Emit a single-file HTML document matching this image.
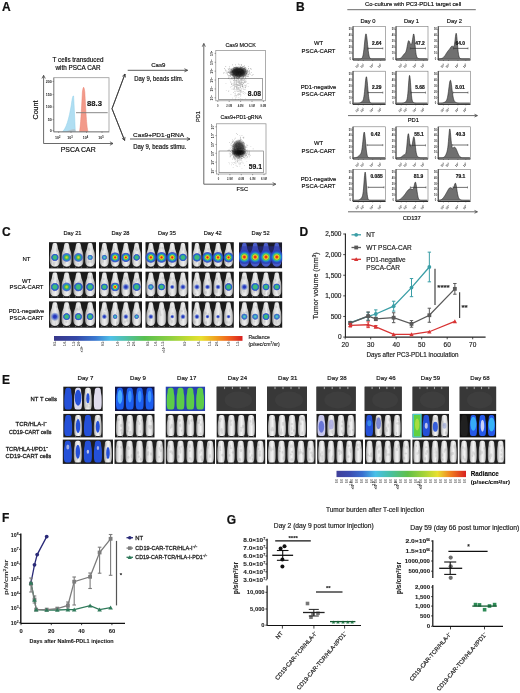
<!DOCTYPE html>
<html><head><meta charset="utf-8"><title>Figure</title>
<style>html,body{margin:0;padding:0;background:#fff;width:520px;height:693px;overflow:hidden}svg{display:block}</style></head>
<body><svg width="520" height="693" viewBox="0 0 520 693" style="font-family:'Liberation Sans',Arial,sans-serif" font-family="Liberation Sans, Arial, sans-serif">
<defs>
<radialGradient id="gCore"><stop offset="0" stop-color="#111" stop-opacity="0.95"/><stop offset="0.6" stop-color="#1a1a1a" stop-opacity="0.85"/><stop offset="0.85" stop-color="#333" stop-opacity="0.45"/><stop offset="1" stop-color="#555" stop-opacity="0"/></radialGradient>
<radialGradient id="gHot"><stop offset="0" stop-color="#e01818"/><stop offset="0.13" stop-color="#f04010"/><stop offset="0.23" stop-color="#f0a020"/><stop offset="0.31" stop-color="#d8d830"/><stop offset="0.41" stop-color="#60c040"/><stop offset="0.52" stop-color="#30b0a8"/><stop offset="0.64" stop-color="#2070d0"/><stop offset="0.82" stop-color="#2840c0" stop-opacity="0.85"/><stop offset="1" stop-color="#2838b0" stop-opacity="0"/></radialGradient>
<radialGradient id="gYel"><stop offset="0" stop-color="#e0e020"/><stop offset="0.2" stop-color="#a0d030"/><stop offset="0.4" stop-color="#40b060"/><stop offset="0.58" stop-color="#2090c0"/><stop offset="0.78" stop-color="#2850c8" stop-opacity="0.8"/><stop offset="1" stop-color="#2840c0" stop-opacity="0"/></radialGradient>
<radialGradient id="gGrn"><stop offset="0" stop-color="#40b088"/><stop offset="0.32" stop-color="#40c070"/><stop offset="0.52" stop-color="#30a0a0"/><stop offset="0.7" stop-color="#2060c8"/><stop offset="0.86" stop-color="#2840c0" stop-opacity="0.7"/><stop offset="1" stop-color="#2840c0" stop-opacity="0"/></radialGradient>
<radialGradient id="gCyn"><stop offset="0" stop-color="#60c8c8"/><stop offset="0.38" stop-color="#40a8c0"/><stop offset="0.62" stop-color="#3070c8"/><stop offset="0.85" stop-color="#3050c0" stop-opacity="0.6"/><stop offset="1" stop-color="#3050c0" stop-opacity="0"/></radialGradient>
<radialGradient id="gBlu"><stop offset="0" stop-color="#2030b8"/><stop offset="0.35" stop-color="#2c40c0"/><stop offset="0.7" stop-color="#5070d0" stop-opacity="0.6"/><stop offset="1" stop-color="#6080d0" stop-opacity="0"/></radialGradient>
<linearGradient id="gMouse" x1="0" x2="1" y1="0" y2="0"><stop offset="0" stop-color="#909090"/><stop offset="0.25" stop-color="#d8d8d8"/><stop offset="0.55" stop-color="#eeeeee"/><stop offset="0.8" stop-color="#d4d4d4"/><stop offset="1" stop-color="#8a8a8a"/></linearGradient>
<linearGradient id="gMouseE" x1="0" x2="1" y1="0" y2="0"><stop offset="0" stop-color="#929292"/><stop offset="0.28" stop-color="#dedede"/><stop offset="0.55" stop-color="#f4f4f4"/><stop offset="0.78" stop-color="#dadada"/><stop offset="1" stop-color="#8e8e8e"/></linearGradient>
<linearGradient id="gBar" x1="0" x2="1" y1="0" y2="0"><stop offset="0" stop-color="#38388a"/><stop offset="0.12" stop-color="#3448a8"/><stop offset="0.22" stop-color="#3a78d0"/><stop offset="0.3" stop-color="#50c0e8"/><stop offset="0.38" stop-color="#50c0a8"/><stop offset="0.48" stop-color="#58c050"/><stop offset="0.62" stop-color="#90d040"/><stop offset="0.72" stop-color="#c8dc30"/><stop offset="0.78" stop-color="#e8e030"/><stop offset="0.86" stop-color="#f0a020"/><stop offset="0.93" stop-color="#f06020"/><stop offset="1" stop-color="#d82020"/></linearGradient>
<linearGradient id="gBarE" x1="0" x2="1" y1="0" y2="0"><stop offset="0" stop-color="#40409a"/><stop offset="0.1" stop-color="#3c4cb0"/><stop offset="0.2" stop-color="#3a70d0"/><stop offset="0.3" stop-color="#48c0e8"/><stop offset="0.42" stop-color="#48c0a0"/><stop offset="0.55" stop-color="#60c048"/><stop offset="0.68" stop-color="#a8d438"/><stop offset="0.78" stop-color="#e8e030"/><stop offset="0.88" stop-color="#f08020"/><stop offset="1" stop-color="#d82020"/></linearGradient>
</defs>
<rect width="520" height="693" fill="#fff"/>
<text x="2" y="11.02" font-size="12" font-weight="bold" fill="#111" stroke="#111" stroke-width="0.19">A</text>
<text x="78" y="62.27" font-size="6.3" text-anchor="middle" stroke="#1a1a1a" stroke-width="0.17" textLength="51" lengthAdjust="spacingAndGlyphs">T cells transduced</text>
<text x="78" y="70.27" font-size="6.3" text-anchor="middle" stroke="#1a1a1a" stroke-width="0.17" textLength="45" lengthAdjust="spacingAndGlyphs">with PSCA CAR</text>
<path d="M62.5,131.5 C66,129 69,119 71.3,105 Q72.6,94.5 73.6,96 Q74.4,110 75.3,131.5 Z" fill="#b0def2" stroke="#8fd0ea" stroke-width="0.5"/>
<path d="M79.5,131.5 C80.6,127 81.4,110 82.4,92 Q83.6,82.5 84.8,92 C85.8,110 86.6,127 88,131.5 Z" fill="#f29a8a" stroke="#ea8070" stroke-width="0.5"/>
<path d="M66,131.5 C70,130 73,128.5 75,129.5 L76,131.5Z" fill="#b8b0b0" opacity="0.6"/>
<rect x="53.8" y="77.7" width="55.2" height="54.3" fill="none" stroke="#9a9a9a" stroke-width="0.8"/>
<line x1="53.8" y1="131.7" x2="109" y2="131.7" stroke="#666" stroke-width="0.6"/>
<line x1="53.8" y1="77.7" x2="53.8" y2="132" stroke="#666" stroke-width="0.6"/>
<line x1="76" y1="112.7" x2="107.7" y2="112.7" stroke="#7a7a7a" stroke-width="0.9"/>
<text x="94.5" y="106.37" font-size="7.7" text-anchor="middle" font-weight="bold" fill="#151515" stroke="#151515" stroke-width="0.12">88.3</text>
<text x="51.8" y="82.8" font-size="3.6" text-anchor="end" font-weight="bold" fill="#222">200</text>
<line x1="52.5" y1="81.5" x2="53.8" y2="81.5" stroke="#555" stroke-width="0.5"/>
<text x="51.8" y="95.9" font-size="3.6" text-anchor="end" font-weight="bold" fill="#222">150</text>
<line x1="52.5" y1="94.6" x2="53.8" y2="94.6" stroke="#555" stroke-width="0.5"/>
<text x="51.8" y="108.3" font-size="3.6" text-anchor="end" font-weight="bold" fill="#222">100</text>
<line x1="52.5" y1="107" x2="53.8" y2="107" stroke="#555" stroke-width="0.5"/>
<text x="51.8" y="120.9" font-size="3.6" text-anchor="end" font-weight="bold" fill="#222">50</text>
<line x1="52.5" y1="119.6" x2="53.8" y2="119.6" stroke="#555" stroke-width="0.5"/>
<text x="51.8" y="131.8" font-size="3.6" text-anchor="end" font-weight="bold" fill="#222">0</text>
<line x1="52.5" y1="130.5" x2="53.8" y2="130.5" stroke="#555" stroke-width="0.5"/>
<text x="57.7" y="138.9" font-size="3.6" text-anchor="middle" font-weight="bold" fill="#222">10<tspan dy="-1.4" font-size="2.6">2</tspan></text>
<line x1="58.7" y1="131.7" x2="58.7" y2="133" stroke="#555" stroke-width="0.5"/>
<text x="70" y="138.9" font-size="3.6" text-anchor="middle" font-weight="bold" fill="#222">10<tspan dy="-1.4" font-size="2.6">3</tspan></text>
<line x1="71" y1="131.7" x2="71" y2="133" stroke="#555" stroke-width="0.5"/>
<text x="85.6" y="138.9" font-size="3.6" text-anchor="middle" font-weight="bold" fill="#222">10<tspan dy="-1.4" font-size="2.6">4</tspan></text>
<line x1="86.6" y1="131.7" x2="86.6" y2="133" stroke="#555" stroke-width="0.5"/>
<text x="101" y="138.9" font-size="3.6" text-anchor="middle" font-weight="bold" fill="#222">10<tspan dy="-1.4" font-size="2.6">5</tspan></text>
<line x1="102" y1="131.7" x2="102" y2="133" stroke="#555" stroke-width="0.5"/>
<line x1="43.6" y1="143.5" x2="43.6" y2="75.4" stroke="#444" stroke-width="0.8"/>
<polyline points="45.28,78.47 43.6,75.4 41.92,78.47" fill="none" stroke="#444" stroke-width="0.8"/>
<line x1="43.6" y1="143.5" x2="113" y2="143.5" stroke="#444" stroke-width="0.8"/>
<polyline points="109.93,145.18 113,143.5 109.93,141.82" fill="none" stroke="#444" stroke-width="0.8"/>
<text x="35.6" y="112.56" font-size="7.1" text-anchor="middle" stroke="#1a1a1a" stroke-width="0.19" textLength="19" lengthAdjust="spacingAndGlyphs" transform="rotate(-90 35.6 110)">Count</text>
<text x="78.2" y="152.48" font-size="6.9" text-anchor="middle" stroke="#1a1a1a" stroke-width="0.18" textLength="35" lengthAdjust="spacingAndGlyphs">PSCA CAR</text>
<line x1="112" y1="108.7" x2="125" y2="74" stroke="#333" stroke-width="0.8"/>
<line x1="112" y1="108.7" x2="124.6" y2="140.4" stroke="#333" stroke-width="0.8"/>
<line x1="112" y1="108.7" x2="125" y2="74" stroke="#333" stroke-width="0.8"/>
<polyline points="125.49,77.46 125,74 122.35,76.29" fill="none" stroke="#333" stroke-width="0.8"/>
<line x1="112" y1="108.7" x2="124.6" y2="140.4" stroke="#333" stroke-width="0.8"/>
<polyline points="121.91,138.17 124.6,140.4 125.02,136.93" fill="none" stroke="#333" stroke-width="0.8"/>
<line x1="127.7" y1="70.3" x2="187.6" y2="70.3" stroke="#333" stroke-width="0.8"/>
<polyline points="184.45,71.82 187.6,70.3 184.45,68.78" fill="none" stroke="#333" stroke-width="0.8"/>
<text x="158.3" y="66.83" font-size="6.2" text-anchor="middle" stroke="#1a1a1a" stroke-width="0.17" textLength="14.2" lengthAdjust="spacingAndGlyphs">Cas9</text>
<text x="158.8" y="80.77" font-size="6.3" text-anchor="middle" stroke="#1a1a1a" stroke-width="0.17" textLength="49.3" lengthAdjust="spacingAndGlyphs">Day 9, beads stim.</text>
<line x1="130" y1="139" x2="190" y2="139" stroke="#333" stroke-width="0.8"/>
<polyline points="186.85,140.52 190,139 186.85,137.48" fill="none" stroke="#333" stroke-width="0.8"/>
<text x="158.6" y="137.39" font-size="5.8" text-anchor="middle" stroke="#1a1a1a" stroke-width="0.15" textLength="51" lengthAdjust="spacingAndGlyphs">Cas9+PD1-gRNA</text>
<text x="159.7" y="148.87" font-size="6.3" text-anchor="middle" stroke="#1a1a1a" stroke-width="0.17" textLength="53" lengthAdjust="spacingAndGlyphs">Day 9, beads stimu.</text>
<line x1="203.8" y1="184.2" x2="203.8" y2="43.5" stroke="#555" stroke-width="0.9"/>
<polyline points="205.32,46.65 203.8,43.5 202.28,46.65" fill="none" stroke="#555" stroke-width="0.9"/>
<line x1="203.8" y1="184.2" x2="275.8" y2="184.2" stroke="#555" stroke-width="0.9"/>
<polyline points="272.65,185.72 275.8,184.2 272.65,182.68" fill="none" stroke="#555" stroke-width="0.9"/>
<text x="197.7" y="118.52" font-size="5.6" text-anchor="middle" stroke="#1a1a1a" stroke-width="0.15" transform="rotate(-90 197.7 116.5)">PD1</text>
<text x="242.3" y="191.39" font-size="5.8" text-anchor="middle" stroke="#1a1a1a" stroke-width="0.15" textLength="11.5" lengthAdjust="spacingAndGlyphs">FSC</text>
<text x="240.6" y="47.44" font-size="5.4" text-anchor="middle" stroke="#1a1a1a" stroke-width="0.14" textLength="30.3" lengthAdjust="spacingAndGlyphs">Cas9 MOCK</text>
<rect x="215.8" y="50.4" width="49.6" height="50.4" fill="none" stroke="#8a8a8a" stroke-width="0.7"/>
<rect x="218.5" y="78.4" width="44.1" height="21.2" fill="none" stroke="#666" stroke-width="0.6"/>
<ellipse cx="238.5" cy="72.3" rx="9.8" ry="6.2" fill="url(#gCore)" opacity="0.9"/>
<ellipse cx="238.5" cy="72" rx="7.5" ry="4.2" fill="url(#gCore)" opacity="0.6"/>
<path d="M245.2,76.1h.7v.7h-.7zM238.8,69.9h.7v.7h-.7zM232.8,72.1h.7v.7h-.7zM233.2,68.0h.7v.7h-.7zM239.5,72.4h.7v.7h-.7zM241.3,69.4h.7v.7h-.7zM238.5,71.8h.7v.7h-.7zM230.7,73.5h.7v.7h-.7zM240.2,78.7h.7v.7h-.7zM239.6,71.6h.7v.7h-.7zM244.9,72.6h.7v.7h-.7zM243.2,71.0h.7v.7h-.7zM239.6,74.9h.7v.7h-.7zM242.1,72.4h.7v.7h-.7zM232.9,73.2h.7v.7h-.7zM238.9,74.0h.7v.7h-.7zM239.6,75.0h.7v.7h-.7zM238.2,72.6h.7v.7h-.7zM242.0,69.0h.7v.7h-.7zM236.4,70.6h.7v.7h-.7zM248.8,71.7h.7v.7h-.7zM241.9,73.7h.7v.7h-.7zM237.0,67.7h.7v.7h-.7zM243.5,70.9h.7v.7h-.7zM242.2,68.3h.7v.7h-.7zM236.2,75.5h.7v.7h-.7zM245.9,68.4h.7v.7h-.7zM231.6,71.9h.7v.7h-.7zM242.3,72.4h.7v.7h-.7zM240.1,69.2h.7v.7h-.7zM241.6,75.1h.7v.7h-.7zM236.2,68.0h.7v.7h-.7zM234.6,74.1h.7v.7h-.7zM229.5,71.7h.7v.7h-.7zM233.3,71.6h.7v.7h-.7zM237.2,72.0h.7v.7h-.7zM246.3,73.2h.7v.7h-.7zM245.4,71.6h.7v.7h-.7zM236.0,73.1h.7v.7h-.7zM223.8,71.9h.7v.7h-.7zM239.3,68.5h.7v.7h-.7zM240.9,70.4h.7v.7h-.7zM225.7,71.4h.7v.7h-.7zM233.4,70.5h.7v.7h-.7zM237.7,75.5h.7v.7h-.7zM239.0,71.9h.7v.7h-.7zM240.5,66.9h.7v.7h-.7zM244.9,69.0h.7v.7h-.7zM240.8,68.8h.7v.7h-.7zM233.4,70.9h.7v.7h-.7zM248.4,74.0h.7v.7h-.7zM235.4,71.2h.7v.7h-.7zM232.5,71.9h.7v.7h-.7zM235.5,74.0h.7v.7h-.7zM231.4,71.1h.7v.7h-.7zM234.1,70.0h.7v.7h-.7zM242.2,72.4h.7v.7h-.7zM241.5,75.3h.7v.7h-.7zM244.5,68.2h.7v.7h-.7zM241.3,67.1h.7v.7h-.7zM238.2,77.4h.7v.7h-.7zM237.5,71.0h.7v.7h-.7zM239.4,72.1h.7v.7h-.7zM238.6,69.9h.7v.7h-.7zM244.1,74.5h.7v.7h-.7zM237.4,72.9h.7v.7h-.7zM241.9,74.9h.7v.7h-.7zM240.5,73.9h.7v.7h-.7zM237.1,69.0h.7v.7h-.7zM235.9,74.9h.7v.7h-.7zM243.6,72.4h.7v.7h-.7zM235.5,72.9h.7v.7h-.7zM247.1,75.8h.7v.7h-.7zM234.9,71.9h.7v.7h-.7zM231.0,68.8h.7v.7h-.7zM239.5,72.1h.7v.7h-.7zM243.5,75.5h.7v.7h-.7zM242.8,75.7h.7v.7h-.7zM235.7,68.8h.7v.7h-.7zM241.1,79.5h.7v.7h-.7zM240.4,68.8h.7v.7h-.7zM239.8,76.0h.7v.7h-.7zM233.1,74.2h.7v.7h-.7zM235.3,75.6h.7v.7h-.7zM242.6,72.9h.7v.7h-.7zM248.9,70.9h.7v.7h-.7zM234.9,77.2h.7v.7h-.7zM233.9,78.2h.7v.7h-.7zM238.3,69.1h.7v.7h-.7zM238.5,72.4h.7v.7h-.7zM239.5,71.5h.7v.7h-.7zM244.1,65.5h.7v.7h-.7zM235.6,71.3h.7v.7h-.7zM248.0,66.4h.7v.7h-.7zM236.7,68.8h.7v.7h-.7zM235.0,73.8h.7v.7h-.7zM240.6,76.0h.7v.7h-.7zM235.4,72.8h.7v.7h-.7zM244.6,74.5h.7v.7h-.7zM236.8,75.2h.7v.7h-.7zM233.7,77.0h.7v.7h-.7zM239.3,71.7h.7v.7h-.7zM239.9,74.4h.7v.7h-.7zM247.6,71.6h.7v.7h-.7zM236.6,73.6h.7v.7h-.7zM234.0,67.3h.7v.7h-.7zM242.8,70.9h.7v.7h-.7zM244.4,69.1h.7v.7h-.7zM223.4,72.8h.7v.7h-.7zM239.3,76.5h.7v.7h-.7zM241.2,72.9h.7v.7h-.7zM241.6,71.0h.7v.7h-.7zM238.9,68.2h.7v.7h-.7zM241.2,69.7h.7v.7h-.7zM236.2,74.0h.7v.7h-.7zM243.3,69.2h.7v.7h-.7zM248.9,70.3h.7v.7h-.7zM242.8,74.7h.7v.7h-.7zM239.7,72.5h.7v.7h-.7zM247.8,74.5h.7v.7h-.7zM240.8,66.9h.7v.7h-.7zM234.6,75.3h.7v.7h-.7zM239.5,69.3h.7v.7h-.7zM235.2,71.1h.7v.7h-.7zM242.1,73.1h.7v.7h-.7zM243.7,69.7h.7v.7h-.7zM243.6,70.6h.7v.7h-.7zM236.9,76.9h.7v.7h-.7zM238.9,71.6h.7v.7h-.7zM237.4,70.9h.7v.7h-.7zM246.6,75.9h.7v.7h-.7zM242.2,72.5h.7v.7h-.7zM243.9,71.8h.7v.7h-.7zM240.9,73.1h.7v.7h-.7zM239.0,76.6h.7v.7h-.7zM247.6,75.7h.7v.7h-.7zM228.6,77.1h.7v.7h-.7zM242.2,70.7h.7v.7h-.7zM238.4,75.2h.7v.7h-.7zM244.6,74.4h.7v.7h-.7zM239.2,72.1h.7v.7h-.7zM242.8,71.7h.7v.7h-.7zM233.8,70.3h.7v.7h-.7zM237.8,72.9h.7v.7h-.7zM250.3,68.2h.7v.7h-.7zM241.0,71.7h.7v.7h-.7zM240.1,75.8h.7v.7h-.7zM245.0,71.6h.7v.7h-.7zM235.6,68.2h.7v.7h-.7zM238.1,75.5h.7v.7h-.7zM237.1,74.0h.7v.7h-.7zM242.2,73.1h.7v.7h-.7zM244.1,71.7h.7v.7h-.7zM234.2,68.7h.7v.7h-.7zM243.3,71.0h.7v.7h-.7zM236.9,74.3h.7v.7h-.7zM234.4,77.0h.7v.7h-.7zM242.0,70.5h.7v.7h-.7zM235.2,75.0h.7v.7h-.7zM232.3,70.2h.7v.7h-.7zM238.5,72.6h.7v.7h-.7zM238.6,73.1h.7v.7h-.7zM236.6,71.7h.7v.7h-.7zM245.1,73.8h.7v.7h-.7zM236.2,76.8h.7v.7h-.7zM228.1,72.2h.7v.7h-.7zM242.0,74.7h.7v.7h-.7zM239.1,70.9h.7v.7h-.7zM241.5,71.5h.7v.7h-.7zM241.0,64.0h.7v.7h-.7zM240.5,69.8h.7v.7h-.7zM243.4,74.1h.7v.7h-.7zM242.3,70.9h.7v.7h-.7zM240.8,71.0h.7v.7h-.7zM239.6,71.6h.7v.7h-.7zM234.0,77.5h.7v.7h-.7zM242.3,66.2h.7v.7h-.7zM243.1,68.1h.7v.7h-.7zM237.3,70.4h.7v.7h-.7zM235.7,72.7h.7v.7h-.7zM236.8,67.9h.7v.7h-.7zM238.5,73.0h.7v.7h-.7zM247.7,70.8h.7v.7h-.7zM232.3,70.9h.7v.7h-.7zM241.9,69.5h.7v.7h-.7zM234.8,73.6h.7v.7h-.7zM238.4,72.6h.7v.7h-.7zM235.2,69.7h.7v.7h-.7zM236.8,71.6h.7v.7h-.7zM236.8,73.2h.7v.7h-.7zM241.3,73.5h.7v.7h-.7zM241.0,69.5h.7v.7h-.7zM232.7,74.2h.7v.7h-.7zM238.6,72.3h.7v.7h-.7zM232.5,71.4h.7v.7h-.7zM235.2,69.6h.7v.7h-.7zM235.2,67.8h.7v.7h-.7zM238.9,75.3h.7v.7h-.7zM234.8,72.3h.7v.7h-.7zM232.8,73.9h.7v.7h-.7zM248.2,68.5h.7v.7h-.7zM237.3,76.0h.7v.7h-.7zM240.4,72.3h.7v.7h-.7zM227.9,71.6h.7v.7h-.7zM243.3,76.0h.7v.7h-.7zM241.8,70.4h.7v.7h-.7zM234.9,66.9h.7v.7h-.7zM232.9,75.1h.7v.7h-.7zM237.9,68.3h.7v.7h-.7zM245.4,67.3h.7v.7h-.7zM245.1,71.1h.7v.7h-.7zM240.3,73.9h.7v.7h-.7zM239.9,75.6h.7v.7h-.7zM238.6,71.1h.7v.7h-.7zM235.1,68.0h.7v.7h-.7zM234.9,74.8h.7v.7h-.7zM242.8,75.9h.7v.7h-.7zM252.7,74.0h.7v.7h-.7zM241.1,68.3h.7v.7h-.7zM237.2,78.1h.7v.7h-.7zM241.3,71.6h.7v.7h-.7zM240.1,66.7h.7v.7h-.7zM234.2,68.3h.7v.7h-.7zM227.4,74.2h.7v.7h-.7zM243.5,71.5h.7v.7h-.7zM240.3,69.2h.7v.7h-.7zM240.9,74.1h.7v.7h-.7zM246.5,76.4h.7v.7h-.7zM241.0,71.6h.7v.7h-.7zM234.2,70.3h.7v.7h-.7zM241.7,73.6h.7v.7h-.7zM238.6,76.7h.7v.7h-.7zM241.9,72.0h.7v.7h-.7zM237.5,72.2h.7v.7h-.7zM233.6,69.3h.7v.7h-.7zM240.3,70.4h.7v.7h-.7zM237.1,75.4h.7v.7h-.7zM237.5,75.7h.7v.7h-.7zM238.5,76.2h.7v.7h-.7zM240.9,67.1h.7v.7h-.7zM244.9,71.4h.7v.7h-.7zM228.3,72.3h.7v.7h-.7zM239.3,68.4h.7v.7h-.7zM235.3,73.5h.7v.7h-.7zM245.8,75.2h.7v.7h-.7zM244.9,75.1h.7v.7h-.7zM225.6,70.0h.7v.7h-.7zM239.5,64.5h.7v.7h-.7zM242.5,74.5h.7v.7h-.7zM234.5,70.9h.7v.7h-.7zM233.6,71.9h.7v.7h-.7zM238.3,72.0h.7v.7h-.7zM233.2,73.1h.7v.7h-.7zM236.7,74.7h.7v.7h-.7zM240.1,67.8h.7v.7h-.7zM231.0,72.2h.7v.7h-.7zM236.0,73.3h.7v.7h-.7zM242.7,72.1h.7v.7h-.7zM229.7,68.7h.7v.7h-.7zM241.5,69.1h.7v.7h-.7zM244.3,71.7h.7v.7h-.7zM241.2,69.5h.7v.7h-.7zM238.0,63.7h.7v.7h-.7zM237.4,73.6h.7v.7h-.7zM233.8,69.6h.7v.7h-.7zM238.2,72.2h.7v.7h-.7zM234.3,73.9h.7v.7h-.7zM229.9,75.1h.7v.7h-.7zM231.2,69.7h.7v.7h-.7zM245.4,69.2h.7v.7h-.7zM229.9,72.2h.7v.7h-.7zM233.7,68.9h.7v.7h-.7zM234.9,69.9h.7v.7h-.7zM233.4,69.1h.7v.7h-.7zM246.9,70.1h.7v.7h-.7zM243.6,68.1h.7v.7h-.7zM241.3,68.5h.7v.7h-.7zM236.1,73.8h.7v.7h-.7zM235.7,66.5h.7v.7h-.7zM235.6,71.6h.7v.7h-.7zM241.5,69.2h.7v.7h-.7zM236.9,72.2h.7v.7h-.7zM229.9,71.7h.7v.7h-.7zM234.2,73.2h.7v.7h-.7zM237.9,71.5h.7v.7h-.7zM225.9,71.7h.7v.7h-.7zM236.6,69.4h.7v.7h-.7zM235.8,68.5h.7v.7h-.7zM239.4,73.8h.7v.7h-.7zM241.6,70.5h.7v.7h-.7zM247.2,74.4h.7v.7h-.7zM233.6,71.6h.7v.7h-.7zM230.0,71.7h.7v.7h-.7zM242.2,75.6h.7v.7h-.7zM236.3,67.0h.7v.7h-.7zM237.6,75.8h.7v.7h-.7zM239.2,75.6h.7v.7h-.7zM242.8,76.4h.7v.7h-.7zM241.6,70.1h.7v.7h-.7zM240.8,79.1h.7v.7h-.7zM235.8,66.8h.7v.7h-.7zM249.4,73.1h.7v.7h-.7zM235.2,70.3h.7v.7h-.7zM230.5,74.0h.7v.7h-.7zM239.2,70.2h.7v.7h-.7zM236.3,70.8h.7v.7h-.7zM244.1,71.5h.7v.7h-.7zM245.7,69.7h.7v.7h-.7zM235.3,70.6h.7v.7h-.7zM235.7,71.7h.7v.7h-.7zM243.8,75.4h.7v.7h-.7zM232.9,75.6h.7v.7h-.7zM239.0,76.4h.7v.7h-.7zM237.6,69.7h.7v.7h-.7zM242.6,73.7h.7v.7h-.7zM236.1,72.1h.7v.7h-.7zM239.2,72.9h.7v.7h-.7zM229.6,68.6h.7v.7h-.7zM238.8,72.7h.7v.7h-.7zM235.8,67.1h.7v.7h-.7zM245.5,71.1h.7v.7h-.7zM233.1,76.5h.7v.7h-.7zM244.4,74.9h.7v.7h-.7zM242.8,73.6h.7v.7h-.7zM233.4,72.1h.7v.7h-.7zM240.3,73.8h.7v.7h-.7zM241.0,69.2h.7v.7h-.7zM235.4,71.1h.7v.7h-.7zM237.5,69.6h.7v.7h-.7zM229.0,68.6h.7v.7h-.7zM240.1,72.0h.7v.7h-.7zM241.5,66.7h.7v.7h-.7zM236.3,74.5h.7v.7h-.7zM228.3,69.0h.7v.7h-.7zM229.8,75.4h.7v.7h-.7zM238.7,70.4h.7v.7h-.7zM239.3,71.7h.7v.7h-.7zM243.2,75.3h.7v.7h-.7zM243.3,73.0h.7v.7h-.7zM242.5,74.3h.7v.7h-.7zM244.6,66.9h.7v.7h-.7zM240.3,72.2h.7v.7h-.7zM239.3,71.3h.7v.7h-.7zM238.1,73.4h.7v.7h-.7zM239.5,72.4h.7v.7h-.7zM232.9,68.5h.7v.7h-.7zM234.6,67.0h.7v.7h-.7zM235.8,69.6h.7v.7h-.7zM229.2,66.6h.7v.7h-.7zM236.1,70.4h.7v.7h-.7zM249.8,74.4h.7v.7h-.7zM234.4,70.6h.7v.7h-.7zM233.2,69.8h.7v.7h-.7zM236.7,71.9h.7v.7h-.7zM235.3,74.3h.7v.7h-.7zM241.9,77.5h.7v.7h-.7zM231.7,73.9h.7v.7h-.7zM236.6,67.5h.7v.7h-.7zM236.9,67.4h.7v.7h-.7zM238.4,79.7h.7v.7h-.7zM245.3,77.1h.7v.7h-.7zM244.7,67.7h.7v.7h-.7zM240.7,72.4h.7v.7h-.7zM240.8,69.1h.7v.7h-.7zM228.2,77.9h.7v.7h-.7zM244.7,72.9h.7v.7h-.7zM235.9,72.5h.7v.7h-.7zM232.1,74.7h.7v.7h-.7zM239.4,71.6h.7v.7h-.7zM236.3,71.8h.7v.7h-.7zM239.2,70.9h.7v.7h-.7zM243.5,72.6h.7v.7h-.7zM238.0,69.6h.7v.7h-.7zM244.8,75.6h.7v.7h-.7zM242.1,66.8h.7v.7h-.7zM236.7,74.8h.7v.7h-.7zM238.7,75.6h.7v.7h-.7zM236.2,74.2h.7v.7h-.7zM241.2,65.1h.7v.7h-.7zM236.4,71.3h.7v.7h-.7zM235.2,69.5h.7v.7h-.7zM246.8,71.7h.7v.7h-.7zM242.6,68.3h.7v.7h-.7zM227.7,70.7h.7v.7h-.7zM240.6,70.0h.7v.7h-.7zM241.3,74.2h.7v.7h-.7zM236.2,71.8h.7v.7h-.7zM234.7,75.0h.7v.7h-.7zM247.7,73.4h.7v.7h-.7zM235.9,70.0h.7v.7h-.7zM237.1,74.5h.7v.7h-.7zM234.6,76.1h.7v.7h-.7zM232.1,72.0h.7v.7h-.7zM245.3,77.0h.7v.7h-.7zM236.4,74.2h.7v.7h-.7zM251.7,75.3h.7v.7h-.7zM227.1,72.8h.7v.7h-.7zM250.9,68.7h.7v.7h-.7zM243.2,66.2h.7v.7h-.7zM246.8,69.6h.7v.7h-.7zM242.7,74.6h.7v.7h-.7zM224.0,68.0h.7v.7h-.7zM240.2,67.7h.7v.7h-.7zM238.4,69.3h.7v.7h-.7zM245.5,70.6h.7v.7h-.7zM233.7,73.8h.7v.7h-.7zM244.9,71.6h.7v.7h-.7zM240.0,73.4h.7v.7h-.7zM235.9,68.7h.7v.7h-.7zM241.3,71.0h.7v.7h-.7zM231.4,74.4h.7v.7h-.7zM240.8,72.4h.7v.7h-.7zM234.6,71.4h.7v.7h-.7zM241.7,73.4h.7v.7h-.7zM234.2,69.5h.7v.7h-.7zM240.3,72.5h.7v.7h-.7zM242.9,68.8h.7v.7h-.7zM243.3,76.9h.7v.7h-.7zM243.4,72.4h.7v.7h-.7zM243.2,68.4h.7v.7h-.7zM236.2,77.8h.7v.7h-.7zM230.0,68.8h.7v.7h-.7zM242.8,70.2h.7v.7h-.7zM235.6,68.9h.7v.7h-.7zM247.2,70.3h.7v.7h-.7zM237.1,66.9h.7v.7h-.7zM242.5,72.0h.7v.7h-.7zM241.1,76.4h.7v.7h-.7zM239.3,68.7h.7v.7h-.7zM233.2,72.2h.7v.7h-.7zM245.4,68.6h.7v.7h-.7zM237.2,71.6h.7v.7h-.7zM241.9,69.5h.7v.7h-.7zM240.1,74.2h.7v.7h-.7zM238.3,71.7h.7v.7h-.7zM241.7,73.6h.7v.7h-.7zM245.0,69.0h.7v.7h-.7zM244.9,71.4h.7v.7h-.7zM232.6,70.5h.7v.7h-.7zM232.1,71.4h.7v.7h-.7zM243.9,65.7h.7v.7h-.7zM232.4,74.2h.7v.7h-.7zM236.9,74.2h.7v.7h-.7zM231.6,71.9h.7v.7h-.7zM224.9,69.6h.7v.7h-.7zM242.3,75.4h.7v.7h-.7zM247.0,71.8h.7v.7h-.7zM233.9,70.9h.7v.7h-.7zM228.5,75.8h.7v.7h-.7zM244.6,69.5h.7v.7h-.7zM248.0,68.2h.7v.7h-.7zM241.4,69.7h.7v.7h-.7zM229.5,73.1h.7v.7h-.7zM232.5,75.3h.7v.7h-.7zM233.8,72.3h.7v.7h-.7zM236.0,72.4h.7v.7h-.7zM235.2,74.3h.7v.7h-.7zM241.7,72.2h.7v.7h-.7zM237.8,77.5h.7v.7h-.7zM234.9,70.8h.7v.7h-.7zM242.5,72.0h.7v.7h-.7zM230.0,71.6h.7v.7h-.7zM236.5,69.2h.7v.7h-.7zM239.5,68.8h.7v.7h-.7zM237.2,68.8h.7v.7h-.7zM246.6,71.2h.7v.7h-.7zM240.8,72.8h.7v.7h-.7zM242.2,71.6h.7v.7h-.7zM242.4,72.3h.7v.7h-.7zM225.8,72.9h.7v.7h-.7zM231.8,74.7h.7v.7h-.7zM239.6,71.0h.7v.7h-.7zM225.4,66.0h.7v.7h-.7zM232.4,70.9h.7v.7h-.7zM231.3,77.6h.7v.7h-.7zM240.9,71.8h.7v.7h-.7zM233.4,71.0h.7v.7h-.7zM237.3,70.8h.7v.7h-.7zM238.1,74.3h.7v.7h-.7zM229.3,72.6h.7v.7h-.7zM244.2,68.2h.7v.7h-.7zM237.5,70.9h.7v.7h-.7zM232.6,74.7h.7v.7h-.7zM236.8,75.2h.7v.7h-.7zM240.6,71.2h.7v.7h-.7zM240.0,70.9h.7v.7h-.7zM230.0,76.0h.7v.7h-.7zM240.4,75.2h.7v.7h-.7zM229.1,74.9h.7v.7h-.7zM242.8,71.9h.7v.7h-.7zM227.5,72.3h.7v.7h-.7zM235.0,71.5h.7v.7h-.7zM238.8,69.5h.7v.7h-.7zM237.8,72.0h.7v.7h-.7zM246.1,71.7h.7v.7h-.7zM250.7,68.7h.7v.7h-.7zM237.8,75.5h.7v.7h-.7zM230.3,73.7h.7v.7h-.7zM240.6,70.3h.7v.7h-.7zM237.2,76.3h.7v.7h-.7zM236.2,72.8h.7v.7h-.7zM240.7,75.4h.7v.7h-.7zM227.8,67.9h.7v.7h-.7zM231.5,71.2h.7v.7h-.7zM241.7,74.3h.7v.7h-.7zM237.0,76.2h.7v.7h-.7zM238.1,73.9h.7v.7h-.7zM234.5,74.3h.7v.7h-.7zM234.8,75.2h.7v.7h-.7zM243.0,77.2h.7v.7h-.7zM236.3,68.7h.7v.7h-.7zM242.8,72.9h.7v.7h-.7zM235.7,68.3h.7v.7h-.7zM242.7,66.5h.7v.7h-.7zM236.1,75.0h.7v.7h-.7zM237.2,73.3h.7v.7h-.7zM241.0,73.7h.7v.7h-.7zM244.0,73.8h.7v.7h-.7zM236.5,68.6h.7v.7h-.7zM237.0,70.2h.7v.7h-.7zM240.6,75.4h.7v.7h-.7zM242.6,70.1h.7v.7h-.7zM239.5,72.0h.7v.7h-.7zM236.1,75.6h.7v.7h-.7zM241.7,73.0h.7v.7h-.7zM232.1,64.6h.7v.7h-.7zM234.7,75.2h.7v.7h-.7zM237.4,71.9h.7v.7h-.7zM237.1,73.3h.7v.7h-.7zM238.5,76.8h.7v.7h-.7zM237.9,71.3h.7v.7h-.7zM245.9,74.1h.7v.7h-.7zM242.1,73.5h.7v.7h-.7zM238.3,72.9h.7v.7h-.7zM241.3,72.3h.7v.7h-.7zM228.7,75.9h.7v.7h-.7zM236.0,70.4h.7v.7h-.7zM236.7,70.0h.7v.7h-.7zM233.9,71.8h.7v.7h-.7zM243.1,71.2h.7v.7h-.7zM241.0,68.2h.7v.7h-.7zM242.4,68.8h.7v.7h-.7zM242.1,69.9h.7v.7h-.7zM235.4,68.5h.7v.7h-.7zM231.9,71.4h.7v.7h-.7zM233.4,71.4h.7v.7h-.7zM244.4,69.6h.7v.7h-.7zM236.9,71.7h.7v.7h-.7zM235.3,71.9h.7v.7h-.7zM239.7,74.9h.7v.7h-.7zM234.7,71.4h.7v.7h-.7zM237.7,75.4h.7v.7h-.7zM233.3,72.5h.7v.7h-.7zM242.5,73.6h.7v.7h-.7zM234.8,69.1h.7v.7h-.7zM228.9,70.5h.7v.7h-.7zM237.2,67.8h.7v.7h-.7zM242.9,72.5h.7v.7h-.7zM237.3,70.5h.7v.7h-.7zM241.0,71.2h.7v.7h-.7zM241.1,70.7h.7v.7h-.7zM244.0,67.4h.7v.7h-.7zM232.9,77.0h.7v.7h-.7zM243.9,76.6h.7v.7h-.7zM234.4,74.0h.7v.7h-.7zM243.7,74.6h.7v.7h-.7zM237.5,76.1h.7v.7h-.7zM240.7,68.4h.7v.7h-.7zM251.3,72.4h.7v.7h-.7zM245.0,70.1h.7v.7h-.7zM233.6,74.5h.7v.7h-.7zM242.8,69.9h.7v.7h-.7zM239.8,68.3h.7v.7h-.7zM227.8,75.1h.7v.7h-.7zM232.5,74.1h.7v.7h-.7zM244.0,73.0h.7v.7h-.7zM246.4,73.0h.7v.7h-.7zM240.0,72.0h.7v.7h-.7zM240.7,73.0h.7v.7h-.7zM233.6,71.9h.7v.7h-.7zM236.5,80.0h.7v.7h-.7zM244.9,69.8h.7v.7h-.7zM241.6,67.1h.7v.7h-.7zM238.8,77.1h.7v.7h-.7zM238.9,75.6h.7v.7h-.7zM236.6,73.3h.7v.7h-.7zM240.4,65.9h.7v.7h-.7zM234.3,77.3h.7v.7h-.7zM234.2,75.4h.7v.7h-.7zM247.4,71.9h.7v.7h-.7zM243.7,73.0h.7v.7h-.7zM235.4,73.6h.7v.7h-.7zM240.8,69.2h.7v.7h-.7zM236.2,68.2h.7v.7h-.7zM236.7,71.9h.7v.7h-.7zM233.4,66.8h.7v.7h-.7zM242.0,75.5h.7v.7h-.7zM233.8,72.2h.7v.7h-.7zM235.0,64.6h.7v.7h-.7zM249.5,72.8h.7v.7h-.7z" fill="#000" opacity="0.4"/>
<path d="M232.9,87.7h.7v.7h-.7zM241.4,88.4h.7v.7h-.7zM241.4,84.4h.7v.7h-.7zM244.2,80.8h.7v.7h-.7zM239.5,77.1h.7v.7h-.7zM233.9,82.9h.7v.7h-.7zM239.4,74.9h.7v.7h-.7zM240.0,86.6h.7v.7h-.7zM233.5,80.5h.7v.7h-.7zM245.4,78.2h.7v.7h-.7zM240.8,85.5h.7v.7h-.7zM239.2,82.7h.7v.7h-.7zM240.8,83.3h.7v.7h-.7zM239.1,75.4h.7v.7h-.7zM239.5,78.5h.7v.7h-.7zM244.5,92.0h.7v.7h-.7zM243.0,72.3h.7v.7h-.7zM242.5,82.5h.7v.7h-.7zM234.1,76.5h.7v.7h-.7zM242.7,79.1h.7v.7h-.7zM238.2,82.3h.7v.7h-.7zM242.3,70.0h.7v.7h-.7zM243.4,78.4h.7v.7h-.7zM236.9,84.8h.7v.7h-.7zM240.0,71.6h.7v.7h-.7zM240.9,81.3h.7v.7h-.7zM234.4,79.2h.7v.7h-.7zM232.1,85.5h.7v.7h-.7zM244.4,79.2h.7v.7h-.7zM236.6,75.4h.7v.7h-.7zM235.7,77.4h.7v.7h-.7zM238.6,89.8h.7v.7h-.7zM242.7,86.4h.7v.7h-.7zM234.6,85.8h.7v.7h-.7zM235.6,78.0h.7v.7h-.7zM241.4,81.5h.7v.7h-.7zM248.4,82.9h.7v.7h-.7zM237.3,85.4h.7v.7h-.7zM233.9,85.1h.7v.7h-.7zM244.7,81.4h.7v.7h-.7zM236.4,87.1h.7v.7h-.7zM234.0,83.7h.7v.7h-.7zM236.4,83.3h.7v.7h-.7zM235.4,84.7h.7v.7h-.7zM240.7,89.9h.7v.7h-.7zM237.0,84.0h.7v.7h-.7zM231.4,78.5h.7v.7h-.7zM239.6,75.8h.7v.7h-.7zM238.1,78.0h.7v.7h-.7zM240.4,84.7h.7v.7h-.7zM236.6,85.0h.7v.7h-.7zM236.3,82.5h.7v.7h-.7zM240.6,84.5h.7v.7h-.7zM240.9,89.6h.7v.7h-.7zM235.9,81.3h.7v.7h-.7zM231.2,85.9h.7v.7h-.7zM234.0,79.3h.7v.7h-.7zM236.5,83.9h.7v.7h-.7zM237.4,80.7h.7v.7h-.7zM238.8,80.5h.7v.7h-.7zM238.4,77.6h.7v.7h-.7zM236.3,76.5h.7v.7h-.7zM241.9,86.1h.7v.7h-.7zM241.2,83.5h.7v.7h-.7zM236.1,84.5h.7v.7h-.7zM232.3,70.7h.7v.7h-.7zM233.7,88.7h.7v.7h-.7zM239.5,89.0h.7v.7h-.7zM235.6,86.6h.7v.7h-.7zM244.9,86.5h.7v.7h-.7zM239.6,86.9h.7v.7h-.7zM236.7,89.9h.7v.7h-.7zM233.9,78.6h.7v.7h-.7zM238.6,78.5h.7v.7h-.7zM245.5,85.0h.7v.7h-.7zM235.6,89.5h.7v.7h-.7zM243.9,80.3h.7v.7h-.7zM244.8,87.3h.7v.7h-.7zM236.5,79.5h.7v.7h-.7zM239.7,87.2h.7v.7h-.7zM244.8,88.8h.7v.7h-.7zM236.6,74.0h.7v.7h-.7zM231.7,88.8h.7v.7h-.7zM242.7,87.3h.7v.7h-.7zM238.5,82.4h.7v.7h-.7zM240.4,84.1h.7v.7h-.7zM238.8,77.6h.7v.7h-.7zM233.0,82.7h.7v.7h-.7zM237.9,88.4h.7v.7h-.7zM234.2,73.1h.7v.7h-.7zM230.6,81.8h.7v.7h-.7zM245.2,80.4h.7v.7h-.7zM235.7,83.7h.7v.7h-.7zM244.7,86.9h.7v.7h-.7zM242.0,86.2h.7v.7h-.7zM237.3,82.4h.7v.7h-.7zM240.2,90.2h.7v.7h-.7zM229.7,79.5h.7v.7h-.7zM240.0,80.9h.7v.7h-.7zM238.0,80.8h.7v.7h-.7zM234.7,84.3h.7v.7h-.7zM243.7,80.4h.7v.7h-.7zM240.3,87.0h.7v.7h-.7zM235.9,81.6h.7v.7h-.7zM233.3,89.1h.7v.7h-.7zM245.4,81.1h.7v.7h-.7zM246.5,85.9h.7v.7h-.7zM231.2,84.2h.7v.7h-.7zM239.5,84.3h.7v.7h-.7zM241.2,80.0h.7v.7h-.7zM243.0,83.4h.7v.7h-.7zM246.1,81.5h.7v.7h-.7zM228.5,90.6h.7v.7h-.7zM240.7,73.7h.7v.7h-.7zM236.1,78.4h.7v.7h-.7zM242.2,79.2h.7v.7h-.7zM243.1,79.7h.7v.7h-.7zM242.3,79.3h.7v.7h-.7zM233.7,84.7h.7v.7h-.7zM237.6,84.3h.7v.7h-.7zM231.9,77.3h.7v.7h-.7zM237.1,90.9h.7v.7h-.7zM240.1,74.4h.7v.7h-.7zM225.9,90.4h.7v.7h-.7zM239.8,76.3h.7v.7h-.7zM242.5,85.8h.7v.7h-.7zM247.1,82.9h.7v.7h-.7zM236.5,85.7h.7v.7h-.7zM233.1,80.0h.7v.7h-.7zM234.5,79.4h.7v.7h-.7zM233.3,75.5h.7v.7h-.7zM234.1,83.8h.7v.7h-.7zM238.6,81.7h.7v.7h-.7zM240.4,85.4h.7v.7h-.7zM240.4,91.3h.7v.7h-.7zM239.6,83.7h.7v.7h-.7zM236.5,86.9h.7v.7h-.7zM244.2,68.6h.7v.7h-.7zM241.8,77.1h.7v.7h-.7zM239.9,82.4h.7v.7h-.7zM233.5,75.9h.7v.7h-.7zM237.5,93.8h.7v.7h-.7zM233.5,80.2h.7v.7h-.7zM237.3,80.8h.7v.7h-.7zM243.0,91.3h.7v.7h-.7zM238.3,83.9h.7v.7h-.7zM237.2,89.1h.7v.7h-.7zM238.3,85.1h.7v.7h-.7zM237.7,87.1h.7v.7h-.7zM238.2,78.2h.7v.7h-.7zM246.1,73.2h.7v.7h-.7zM239.2,80.4h.7v.7h-.7zM234.9,91.4h.7v.7h-.7zM239.9,80.1h.7v.7h-.7zM234.9,83.5h.7v.7h-.7zM238.5,80.9h.7v.7h-.7zM235.8,88.9h.7v.7h-.7zM239.4,81.2h.7v.7h-.7zM233.5,78.5h.7v.7h-.7zM241.4,78.6h.7v.7h-.7zM241.1,81.5h.7v.7h-.7zM240.1,83.6h.7v.7h-.7zM236.8,80.8h.7v.7h-.7zM238.2,85.0h.7v.7h-.7zM248.1,85.9h.7v.7h-.7zM233.3,92.0h.7v.7h-.7zM238.0,78.9h.7v.7h-.7zM239.0,81.7h.7v.7h-.7zM239.5,81.9h.7v.7h-.7zM238.4,87.7h.7v.7h-.7zM245.3,82.4h.7v.7h-.7zM244.9,86.2h.7v.7h-.7zM243.3,83.2h.7v.7h-.7zM239.3,85.6h.7v.7h-.7zM234.7,82.3h.7v.7h-.7zM234.0,86.1h.7v.7h-.7zM239.4,84.7h.7v.7h-.7zM237.2,78.5h.7v.7h-.7zM242.3,80.1h.7v.7h-.7zM237.6,82.2h.7v.7h-.7zM240.4,82.3h.7v.7h-.7zM234.3,77.3h.7v.7h-.7zM242.6,80.6h.7v.7h-.7zM237.5,78.0h.7v.7h-.7zM242.2,84.1h.7v.7h-.7zM236.3,74.2h.7v.7h-.7zM245.7,79.5h.7v.7h-.7zM233.8,79.8h.7v.7h-.7zM233.9,82.0h.7v.7h-.7zM236.3,76.7h.7v.7h-.7zM241.2,78.2h.7v.7h-.7zM231.1,83.5h.7v.7h-.7zM236.3,77.1h.7v.7h-.7zM231.8,78.8h.7v.7h-.7zM236.1,79.8h.7v.7h-.7zM236.5,87.7h.7v.7h-.7zM242.7,83.4h.7v.7h-.7zM240.8,79.9h.7v.7h-.7zM232.7,84.4h.7v.7h-.7zM244.0,78.9h.7v.7h-.7zM235.7,78.9h.7v.7h-.7zM233.2,84.5h.7v.7h-.7zM234.2,88.2h.7v.7h-.7zM245.2,82.4h.7v.7h-.7zM238.3,78.2h.7v.7h-.7zM242.1,82.4h.7v.7h-.7zM232.5,77.8h.7v.7h-.7zM240.4,79.8h.7v.7h-.7zM240.3,83.1h.7v.7h-.7zM244.2,81.6h.7v.7h-.7zM242.7,87.0h.7v.7h-.7zM243.8,80.5h.7v.7h-.7zM239.6,93.5h.7v.7h-.7zM237.7,79.3h.7v.7h-.7zM239.0,76.7h.7v.7h-.7zM235.1,80.1h.7v.7h-.7zM237.4,86.5h.7v.7h-.7zM234.1,81.2h.7v.7h-.7zM239.5,80.7h.7v.7h-.7zM241.5,92.1h.7v.7h-.7zM234.2,78.1h.7v.7h-.7zM236.5,79.6h.7v.7h-.7zM236.3,83.9h.7v.7h-.7zM245.5,93.1h.7v.7h-.7zM238.2,72.8h.7v.7h-.7zM244.7,82.1h.7v.7h-.7zM236.8,86.9h.7v.7h-.7zM238.0,81.0h.7v.7h-.7zM235.0,86.1h.7v.7h-.7zM241.9,78.2h.7v.7h-.7zM236.3,87.6h.7v.7h-.7zM235.6,80.1h.7v.7h-.7zM235.4,80.9h.7v.7h-.7zM241.9,82.3h.7v.7h-.7zM242.5,84.7h.7v.7h-.7zM230.4,81.9h.7v.7h-.7zM238.4,74.5h.7v.7h-.7zM241.6,81.8h.7v.7h-.7zM236.5,84.3h.7v.7h-.7zM242.3,85.3h.7v.7h-.7zM236.4,81.8h.7v.7h-.7zM248.3,76.2h.7v.7h-.7zM238.8,82.1h.7v.7h-.7zM244.5,84.8h.7v.7h-.7zM239.4,80.7h.7v.7h-.7zM243.5,82.3h.7v.7h-.7zM238.1,82.8h.7v.7h-.7zM241.3,82.2h.7v.7h-.7zM239.5,85.6h.7v.7h-.7zM235.6,80.9h.7v.7h-.7zM238.8,85.1h.7v.7h-.7zM240.7,79.8h.7v.7h-.7zM234.4,80.3h.7v.7h-.7zM236.5,86.0h.7v.7h-.7zM241.0,82.3h.7v.7h-.7zM234.2,76.1h.7v.7h-.7zM239.0,84.7h.7v.7h-.7zM240.0,80.9h.7v.7h-.7zM240.8,73.1h.7v.7h-.7zM243.1,88.8h.7v.7h-.7z" fill="#000" opacity="0.28"/>
<path d="M238.7,91.2h.7v.7h-.7zM237.2,94.5h.7v.7h-.7zM234.3,87.1h.7v.7h-.7zM239.6,82.9h.7v.7h-.7zM240.0,92.3h.7v.7h-.7zM238.0,87.5h.7v.7h-.7zM245.0,87.3h.7v.7h-.7zM238.6,94.0h.7v.7h-.7zM237.9,95.2h.7v.7h-.7zM238.0,91.3h.7v.7h-.7zM238.0,93.3h.7v.7h-.7zM235.4,94.5h.7v.7h-.7zM242.1,84.8h.7v.7h-.7zM232.0,83.4h.7v.7h-.7zM234.8,93.4h.7v.7h-.7zM238.3,99.4h.7v.7h-.7zM244.3,82.3h.7v.7h-.7zM236.4,88.5h.7v.7h-.7zM244.4,93.9h.7v.7h-.7zM241.7,85.9h.7v.7h-.7zM246.1,84.5h.7v.7h-.7zM238.1,85.2h.7v.7h-.7zM234.4,91.3h.7v.7h-.7zM234.4,93.4h.7v.7h-.7zM240.1,90.3h.7v.7h-.7zM240.5,95.6h.7v.7h-.7zM242.4,84.3h.7v.7h-.7zM240.6,94.5h.7v.7h-.7zM236.5,88.1h.7v.7h-.7zM242.8,93.3h.7v.7h-.7zM238.5,97.2h.7v.7h-.7zM241.7,98.7h.7v.7h-.7zM236.4,94.9h.7v.7h-.7zM230.1,86.8h.7v.7h-.7zM244.7,85.2h.7v.7h-.7zM237.4,88.3h.7v.7h-.7zM239.9,95.7h.7v.7h-.7zM244.4,89.2h.7v.7h-.7zM239.3,94.4h.7v.7h-.7zM242.6,88.6h.7v.7h-.7zM243.4,82.8h.7v.7h-.7zM239.1,83.1h.7v.7h-.7zM236.2,86.0h.7v.7h-.7zM245.1,98.4h.7v.7h-.7zM241.1,90.8h.7v.7h-.7zM230.2,81.5h.7v.7h-.7zM238.7,93.6h.7v.7h-.7zM240.1,86.4h.7v.7h-.7zM234.9,92.7h.7v.7h-.7zM247.1,93.6h.7v.7h-.7zM237.8,89.4h.7v.7h-.7zM239.8,91.5h.7v.7h-.7zM232.3,97.7h.7v.7h-.7zM239.8,92.8h.7v.7h-.7zM236.2,95.5h.7v.7h-.7zM242.0,86.4h.7v.7h-.7zM242.1,86.4h.7v.7h-.7zM230.6,94.2h.7v.7h-.7zM234.0,87.2h.7v.7h-.7zM234.3,89.6h.7v.7h-.7zM236.6,90.8h.7v.7h-.7zM239.9,98.2h.7v.7h-.7zM239.8,92.5h.7v.7h-.7zM240.0,94.1h.7v.7h-.7zM241.6,91.4h.7v.7h-.7zM233.4,85.2h.7v.7h-.7zM239.1,88.4h.7v.7h-.7zM236.4,87.4h.7v.7h-.7zM235.1,95.5h.7v.7h-.7zM241.1,83.7h.7v.7h-.7zM238.8,89.9h.7v.7h-.7zM236.2,95.2h.7v.7h-.7zM239.3,90.4h.7v.7h-.7zM234.6,94.8h.7v.7h-.7zM239.0,91.4h.7v.7h-.7zM235.2,97.5h.7v.7h-.7zM225.6,83.1h.7v.7h-.7zM231.4,83.6h.7v.7h-.7zM233.9,87.5h.7v.7h-.7zM236.7,91.0h.7v.7h-.7zM243.4,92.8h.7v.7h-.7zM238.5,89.2h.7v.7h-.7zM239.5,94.0h.7v.7h-.7zM235.1,98.7h.7v.7h-.7zM237.9,94.3h.7v.7h-.7zM228.2,91.0h.7v.7h-.7zM236.4,96.8h.7v.7h-.7zM242.1,91.6h.7v.7h-.7zM240.5,88.5h.7v.7h-.7zM234.4,95.7h.7v.7h-.7z" fill="#000" opacity="0.22"/>
<text x="261.1" y="95.75" font-size="6.8" text-anchor="end" font-weight="bold" fill="#111" stroke="#111" stroke-width="0.11">8.08</text>
<text x="217.8" y="107.04" font-size="2.6" text-anchor="middle" font-weight="bold" fill="#333">0</text>
<line x1="217.8" y1="100.8" x2="217.8" y2="102" stroke="#444" stroke-width="0.5"/>
<text x="229.2" y="107.04" font-size="2.6" text-anchor="middle" font-weight="bold" fill="#333">2.0M</text>
<line x1="229.2" y1="100.8" x2="229.2" y2="102" stroke="#444" stroke-width="0.5"/>
<text x="240.6" y="107.04" font-size="2.6" text-anchor="middle" font-weight="bold" fill="#333">4.0M</text>
<line x1="240.6" y1="100.8" x2="240.6" y2="102" stroke="#444" stroke-width="0.5"/>
<text x="252" y="107.04" font-size="2.6" text-anchor="middle" font-weight="bold" fill="#333">6.0M</text>
<line x1="252" y1="100.8" x2="252" y2="102" stroke="#444" stroke-width="0.5"/>
<text x="263.4" y="107.04" font-size="2.6" text-anchor="middle" font-weight="bold" fill="#333">8.0M</text>
<line x1="263.4" y1="100.8" x2="263.4" y2="102" stroke="#444" stroke-width="0.5"/>
<text x="211.8" y="99.02" font-size="3.4" text-anchor="middle" font-weight="bold" fill="#222" transform="rotate(-90 211.8 97.8)">10<tspan font-size="2.5" dy="-1.4">0</tspan></text>
<line x1="214.6" y1="97.8" x2="215.8" y2="97.8" stroke="#444" stroke-width="0.5"/>
<text x="211.8" y="90.14" font-size="3.4" text-anchor="middle" font-weight="bold" fill="#222" transform="rotate(-90 211.8 88.92)">10<tspan font-size="2.5" dy="-1.4">1</tspan></text>
<line x1="214.6" y1="88.92" x2="215.8" y2="88.92" stroke="#444" stroke-width="0.5"/>
<text x="211.8" y="81.26" font-size="3.4" text-anchor="middle" font-weight="bold" fill="#222" transform="rotate(-90 211.8 80.04)">10<tspan font-size="2.5" dy="-1.4">2</tspan></text>
<line x1="214.6" y1="80.04" x2="215.8" y2="80.04" stroke="#444" stroke-width="0.5"/>
<text x="211.8" y="72.38" font-size="3.4" text-anchor="middle" font-weight="bold" fill="#222" transform="rotate(-90 211.8 71.16)">10<tspan font-size="2.5" dy="-1.4">3</tspan></text>
<line x1="214.6" y1="71.16" x2="215.8" y2="71.16" stroke="#444" stroke-width="0.5"/>
<text x="211.8" y="63.5" font-size="3.4" text-anchor="middle" font-weight="bold" fill="#222" transform="rotate(-90 211.8 62.28)">10<tspan font-size="2.5" dy="-1.4">4</tspan></text>
<line x1="214.6" y1="62.28" x2="215.8" y2="62.28" stroke="#444" stroke-width="0.5"/>
<text x="211.8" y="54.62" font-size="3.4" text-anchor="middle" font-weight="bold" fill="#222" transform="rotate(-90 211.8 53.4)">10<tspan font-size="2.5" dy="-1.4">5</tspan></text>
<line x1="214.6" y1="53.4" x2="215.8" y2="53.4" stroke="#444" stroke-width="0.5"/>
<text x="241.25" y="118.94" font-size="5.4" text-anchor="middle" stroke="#1a1a1a" stroke-width="0.14" textLength="41.5" lengthAdjust="spacingAndGlyphs">Cas9+PD1-gRNA</text>
<rect x="216.5" y="123.8" width="49.5" height="50.2" fill="none" stroke="#8a8a8a" stroke-width="0.7"/>
<rect x="219" y="151" width="44.5" height="21.7" fill="none" stroke="#666" stroke-width="0.6"/>
<ellipse cx="238.8" cy="149" rx="7.5" ry="10" fill="url(#gCore)" opacity="0.85"/>
<ellipse cx="238.8" cy="152.5" rx="7.5" ry="3.2" fill="url(#gCore)" opacity="0.9"/>
<path d="M233.9,144.7h.7v.7h-.7zM234.1,142.8h.7v.7h-.7zM236.9,150.7h.7v.7h-.7zM234.8,150.2h.7v.7h-.7zM231.4,143.3h.7v.7h-.7zM235.2,149.9h.7v.7h-.7zM243.5,136.8h.7v.7h-.7zM238.8,154.1h.7v.7h-.7zM238.6,154.2h.7v.7h-.7zM242.9,148.3h.7v.7h-.7zM233.2,144.1h.7v.7h-.7zM244.4,143.1h.7v.7h-.7zM234.4,145.0h.7v.7h-.7zM243.3,147.5h.7v.7h-.7zM232.7,144.2h.7v.7h-.7zM241.1,152.1h.7v.7h-.7zM244.3,149.3h.7v.7h-.7zM240.3,142.7h.7v.7h-.7zM236.4,141.0h.7v.7h-.7zM238.0,148.8h.7v.7h-.7zM238.7,142.9h.7v.7h-.7zM240.7,151.0h.7v.7h-.7zM243.2,137.5h.7v.7h-.7zM229.3,142.2h.7v.7h-.7zM240.5,151.5h.7v.7h-.7zM241.3,147.2h.7v.7h-.7zM239.4,145.9h.7v.7h-.7zM235.9,142.7h.7v.7h-.7zM250.5,145.9h.7v.7h-.7zM240.6,149.4h.7v.7h-.7zM241.9,146.8h.7v.7h-.7zM242.0,155.8h.7v.7h-.7zM236.1,144.5h.7v.7h-.7zM234.7,145.4h.7v.7h-.7zM233.9,148.5h.7v.7h-.7zM241.0,152.3h.7v.7h-.7zM243.4,145.4h.7v.7h-.7zM239.2,143.5h.7v.7h-.7zM238.7,147.4h.7v.7h-.7zM240.4,146.7h.7v.7h-.7zM234.5,151.4h.7v.7h-.7zM238.0,140.9h.7v.7h-.7zM232.0,150.0h.7v.7h-.7zM231.8,150.0h.7v.7h-.7zM244.2,149.3h.7v.7h-.7zM241.6,149.5h.7v.7h-.7zM236.2,148.0h.7v.7h-.7zM231.4,149.7h.7v.7h-.7zM240.9,147.7h.7v.7h-.7zM242.6,146.3h.7v.7h-.7zM232.0,153.2h.7v.7h-.7zM238.9,144.3h.7v.7h-.7zM236.5,145.4h.7v.7h-.7zM239.3,141.5h.7v.7h-.7zM238.9,145.5h.7v.7h-.7zM241.0,145.6h.7v.7h-.7zM240.9,143.2h.7v.7h-.7zM239.8,145.7h.7v.7h-.7zM242.5,148.6h.7v.7h-.7zM242.4,144.9h.7v.7h-.7zM236.2,146.9h.7v.7h-.7zM234.6,145.8h.7v.7h-.7zM243.3,142.3h.7v.7h-.7zM236.4,147.3h.7v.7h-.7zM244.7,156.3h.7v.7h-.7zM236.4,145.0h.7v.7h-.7zM239.5,144.2h.7v.7h-.7zM231.0,149.6h.7v.7h-.7zM239.9,148.2h.7v.7h-.7zM240.6,147.8h.7v.7h-.7zM236.1,149.7h.7v.7h-.7zM238.4,147.7h.7v.7h-.7zM234.4,147.4h.7v.7h-.7zM238.3,143.3h.7v.7h-.7zM235.6,145.1h.7v.7h-.7zM238.5,144.3h.7v.7h-.7zM234.4,147.3h.7v.7h-.7zM233.9,148.4h.7v.7h-.7zM235.3,146.1h.7v.7h-.7zM242.7,137.3h.7v.7h-.7zM233.5,144.7h.7v.7h-.7zM238.0,143.2h.7v.7h-.7zM235.0,144.3h.7v.7h-.7zM234.7,147.4h.7v.7h-.7zM235.9,146.3h.7v.7h-.7zM238.6,149.9h.7v.7h-.7zM236.1,145.2h.7v.7h-.7zM240.1,137.6h.7v.7h-.7zM238.7,143.1h.7v.7h-.7zM241.8,145.6h.7v.7h-.7zM235.2,151.5h.7v.7h-.7zM236.4,143.2h.7v.7h-.7zM240.2,138.6h.7v.7h-.7zM237.8,150.0h.7v.7h-.7zM233.8,151.1h.7v.7h-.7zM237.4,144.6h.7v.7h-.7zM232.2,153.1h.7v.7h-.7zM243.5,145.5h.7v.7h-.7zM239.9,138.7h.7v.7h-.7zM238.7,148.6h.7v.7h-.7zM235.6,144.2h.7v.7h-.7zM237.7,143.4h.7v.7h-.7zM232.2,150.2h.7v.7h-.7zM241.7,149.5h.7v.7h-.7zM241.2,151.5h.7v.7h-.7zM237.3,134.1h.7v.7h-.7zM238.5,144.5h.7v.7h-.7zM234.1,149.1h.7v.7h-.7zM234.7,141.8h.7v.7h-.7zM247.4,145.2h.7v.7h-.7zM239.1,149.5h.7v.7h-.7zM240.7,146.5h.7v.7h-.7zM240.4,146.6h.7v.7h-.7zM236.8,145.8h.7v.7h-.7zM240.8,150.0h.7v.7h-.7zM240.1,140.4h.7v.7h-.7zM237.7,149.2h.7v.7h-.7zM237.0,149.1h.7v.7h-.7zM238.9,152.1h.7v.7h-.7zM229.9,147.7h.7v.7h-.7zM242.5,149.9h.7v.7h-.7zM236.6,146.0h.7v.7h-.7zM237.2,148.8h.7v.7h-.7zM241.3,144.5h.7v.7h-.7zM242.5,149.0h.7v.7h-.7zM230.7,145.3h.7v.7h-.7zM238.0,144.1h.7v.7h-.7zM238.8,146.8h.7v.7h-.7zM238.1,145.8h.7v.7h-.7zM239.5,144.4h.7v.7h-.7zM240.5,139.3h.7v.7h-.7zM238.7,144.9h.7v.7h-.7zM237.1,148.2h.7v.7h-.7zM236.1,133.2h.7v.7h-.7zM233.0,146.1h.7v.7h-.7zM237.5,144.9h.7v.7h-.7zM236.1,149.9h.7v.7h-.7zM238.5,142.5h.7v.7h-.7zM235.3,151.1h.7v.7h-.7zM238.9,148.6h.7v.7h-.7zM238.6,147.9h.7v.7h-.7zM236.5,142.7h.7v.7h-.7zM234.8,143.2h.7v.7h-.7zM245.1,149.7h.7v.7h-.7zM238.7,146.5h.7v.7h-.7zM232.5,150.3h.7v.7h-.7zM232.0,151.4h.7v.7h-.7zM236.6,140.9h.7v.7h-.7zM244.0,142.7h.7v.7h-.7zM237.5,146.3h.7v.7h-.7zM232.9,148.9h.7v.7h-.7zM233.5,146.2h.7v.7h-.7zM234.2,153.8h.7v.7h-.7zM238.7,153.3h.7v.7h-.7zM236.5,148.0h.7v.7h-.7zM240.5,147.3h.7v.7h-.7zM237.5,151.8h.7v.7h-.7zM239.9,147.3h.7v.7h-.7zM241.6,135.2h.7v.7h-.7zM234.6,149.1h.7v.7h-.7zM237.1,145.8h.7v.7h-.7zM233.0,145.4h.7v.7h-.7zM243.6,144.8h.7v.7h-.7zM234.7,145.7h.7v.7h-.7zM242.4,144.2h.7v.7h-.7zM232.4,148.0h.7v.7h-.7zM237.2,147.6h.7v.7h-.7zM232.1,142.2h.7v.7h-.7zM237.3,148.4h.7v.7h-.7zM245.0,152.9h.7v.7h-.7zM242.7,151.1h.7v.7h-.7zM242.4,149.8h.7v.7h-.7zM240.9,145.3h.7v.7h-.7zM236.7,152.7h.7v.7h-.7zM234.1,144.5h.7v.7h-.7zM237.6,147.8h.7v.7h-.7zM236.0,145.0h.7v.7h-.7zM235.5,143.8h.7v.7h-.7zM237.0,161.5h.7v.7h-.7zM234.1,157.5h.7v.7h-.7zM233.8,147.8h.7v.7h-.7zM238.2,149.7h.7v.7h-.7zM237.4,142.3h.7v.7h-.7zM236.4,145.6h.7v.7h-.7zM232.9,146.6h.7v.7h-.7zM238.8,140.5h.7v.7h-.7zM233.5,150.4h.7v.7h-.7zM234.9,144.1h.7v.7h-.7zM236.3,144.3h.7v.7h-.7zM240.5,148.0h.7v.7h-.7zM246.4,145.4h.7v.7h-.7zM239.9,144.0h.7v.7h-.7zM242.1,140.4h.7v.7h-.7zM235.4,146.0h.7v.7h-.7zM248.9,156.6h.7v.7h-.7zM245.9,146.9h.7v.7h-.7zM232.7,149.4h.7v.7h-.7zM242.5,144.1h.7v.7h-.7zM245.8,155.5h.7v.7h-.7zM232.2,145.2h.7v.7h-.7zM237.5,145.9h.7v.7h-.7zM237.9,147.2h.7v.7h-.7zM237.5,158.2h.7v.7h-.7zM236.7,141.7h.7v.7h-.7zM242.9,151.3h.7v.7h-.7zM234.2,143.1h.7v.7h-.7zM235.2,137.7h.7v.7h-.7zM233.6,149.0h.7v.7h-.7zM233.5,145.9h.7v.7h-.7zM237.4,144.4h.7v.7h-.7zM240.3,147.7h.7v.7h-.7zM243.2,148.5h.7v.7h-.7zM236.2,154.3h.7v.7h-.7zM239.6,149.1h.7v.7h-.7zM239.6,145.6h.7v.7h-.7zM235.0,152.4h.7v.7h-.7zM235.7,145.7h.7v.7h-.7zM241.8,151.3h.7v.7h-.7zM238.6,155.7h.7v.7h-.7zM237.7,157.2h.7v.7h-.7zM243.7,147.8h.7v.7h-.7zM237.6,151.9h.7v.7h-.7zM232.1,150.1h.7v.7h-.7zM241.1,153.9h.7v.7h-.7zM243.8,148.3h.7v.7h-.7zM240.3,142.8h.7v.7h-.7zM240.6,143.7h.7v.7h-.7zM233.4,154.6h.7v.7h-.7zM245.2,146.5h.7v.7h-.7zM239.7,157.4h.7v.7h-.7zM233.4,153.6h.7v.7h-.7zM237.3,149.8h.7v.7h-.7zM238.2,153.7h.7v.7h-.7zM243.1,146.3h.7v.7h-.7zM243.0,151.2h.7v.7h-.7zM243.8,142.4h.7v.7h-.7zM241.8,147.0h.7v.7h-.7zM239.5,140.3h.7v.7h-.7zM246.6,146.8h.7v.7h-.7zM240.2,140.6h.7v.7h-.7zM237.8,147.8h.7v.7h-.7zM239.0,142.2h.7v.7h-.7zM239.8,145.2h.7v.7h-.7zM241.9,142.0h.7v.7h-.7zM243.0,142.5h.7v.7h-.7zM234.3,149.1h.7v.7h-.7zM240.8,148.9h.7v.7h-.7zM236.4,145.8h.7v.7h-.7zM235.1,151.9h.7v.7h-.7zM231.8,141.8h.7v.7h-.7zM234.1,149.3h.7v.7h-.7zM232.9,150.5h.7v.7h-.7zM232.0,139.5h.7v.7h-.7zM239.7,148.8h.7v.7h-.7zM237.1,152.9h.7v.7h-.7zM236.9,144.7h.7v.7h-.7zM237.8,152.9h.7v.7h-.7zM237.9,155.2h.7v.7h-.7zM243.7,151.8h.7v.7h-.7zM241.9,152.7h.7v.7h-.7zM240.3,136.7h.7v.7h-.7zM239.2,146.4h.7v.7h-.7zM234.1,138.8h.7v.7h-.7zM239.0,142.2h.7v.7h-.7zM238.5,143.4h.7v.7h-.7zM239.8,142.8h.7v.7h-.7zM239.4,146.8h.7v.7h-.7zM236.8,145.8h.7v.7h-.7zM239.5,135.4h.7v.7h-.7zM231.2,147.4h.7v.7h-.7zM238.6,148.0h.7v.7h-.7zM239.8,142.7h.7v.7h-.7zM243.4,150.3h.7v.7h-.7zM239.8,145.9h.7v.7h-.7zM235.8,144.4h.7v.7h-.7zM239.9,147.5h.7v.7h-.7zM241.6,148.1h.7v.7h-.7zM236.8,152.1h.7v.7h-.7zM233.1,141.1h.7v.7h-.7zM239.9,144.9h.7v.7h-.7zM233.1,140.5h.7v.7h-.7zM238.5,153.0h.7v.7h-.7zM243.9,146.5h.7v.7h-.7zM237.5,143.4h.7v.7h-.7zM245.7,146.6h.7v.7h-.7zM237.1,150.3h.7v.7h-.7zM242.9,147.2h.7v.7h-.7zM243.2,141.5h.7v.7h-.7zM240.2,149.6h.7v.7h-.7zM240.1,149.9h.7v.7h-.7zM239.2,149.5h.7v.7h-.7zM230.5,143.8h.7v.7h-.7zM241.7,142.1h.7v.7h-.7zM235.1,155.8h.7v.7h-.7zM238.8,148.2h.7v.7h-.7zM239.9,154.6h.7v.7h-.7zM237.5,143.4h.7v.7h-.7zM239.5,153.2h.7v.7h-.7zM231.8,146.4h.7v.7h-.7zM237.0,147.6h.7v.7h-.7zM241.0,148.4h.7v.7h-.7zM232.5,146.0h.7v.7h-.7zM238.0,146.8h.7v.7h-.7zM242.5,145.6h.7v.7h-.7zM236.1,146.3h.7v.7h-.7zM238.6,150.1h.7v.7h-.7zM232.0,141.0h.7v.7h-.7zM238.2,151.1h.7v.7h-.7zM238.3,148.0h.7v.7h-.7zM245.1,147.5h.7v.7h-.7zM239.6,146.8h.7v.7h-.7zM242.2,149.2h.7v.7h-.7zM237.5,150.1h.7v.7h-.7zM240.2,144.9h.7v.7h-.7zM241.3,156.0h.7v.7h-.7zM234.4,142.3h.7v.7h-.7zM238.1,146.1h.7v.7h-.7zM239.4,146.9h.7v.7h-.7zM239.1,151.9h.7v.7h-.7zM243.4,137.8h.7v.7h-.7zM240.6,147.1h.7v.7h-.7zM240.6,147.2h.7v.7h-.7zM239.9,146.0h.7v.7h-.7zM236.1,146.3h.7v.7h-.7zM241.6,147.2h.7v.7h-.7zM238.2,152.5h.7v.7h-.7zM241.8,143.1h.7v.7h-.7zM235.5,146.3h.7v.7h-.7zM240.3,151.5h.7v.7h-.7zM232.1,152.9h.7v.7h-.7zM238.7,148.0h.7v.7h-.7zM241.6,148.2h.7v.7h-.7zM239.2,151.3h.7v.7h-.7zM243.0,142.1h.7v.7h-.7zM232.5,142.4h.7v.7h-.7zM239.5,145.9h.7v.7h-.7zM237.7,144.8h.7v.7h-.7zM235.3,149.3h.7v.7h-.7zM238.3,148.3h.7v.7h-.7zM240.5,153.5h.7v.7h-.7zM246.5,144.4h.7v.7h-.7zM243.4,147.8h.7v.7h-.7zM240.2,152.0h.7v.7h-.7zM236.3,146.5h.7v.7h-.7zM242.2,149.6h.7v.7h-.7zM245.4,149.7h.7v.7h-.7zM239.0,146.5h.7v.7h-.7zM240.8,139.0h.7v.7h-.7zM243.4,148.4h.7v.7h-.7zM236.2,147.4h.7v.7h-.7z" fill="#000" opacity="0.3"/>
<path d="M241.0,150.4h.7v.7h-.7zM242.6,148.2h.7v.7h-.7zM245.2,152.4h.7v.7h-.7zM239.7,152.4h.7v.7h-.7zM235.8,155.1h.7v.7h-.7zM234.1,152.8h.7v.7h-.7zM241.0,150.3h.7v.7h-.7zM241.3,151.0h.7v.7h-.7zM242.5,152.3h.7v.7h-.7zM244.4,152.9h.7v.7h-.7zM233.9,155.1h.7v.7h-.7zM244.0,155.1h.7v.7h-.7zM231.8,150.7h.7v.7h-.7zM242.8,154.1h.7v.7h-.7zM237.1,152.6h.7v.7h-.7zM239.3,148.3h.7v.7h-.7zM233.0,150.3h.7v.7h-.7zM243.3,152.2h.7v.7h-.7zM228.9,152.7h.7v.7h-.7zM236.9,151.4h.7v.7h-.7zM231.9,151.0h.7v.7h-.7zM239.9,152.0h.7v.7h-.7zM242.0,155.9h.7v.7h-.7zM236.9,149.5h.7v.7h-.7zM234.0,153.1h.7v.7h-.7zM241.9,152.6h.7v.7h-.7zM238.3,153.5h.7v.7h-.7zM244.1,154.6h.7v.7h-.7zM236.8,151.7h.7v.7h-.7zM238.3,151.7h.7v.7h-.7zM234.0,155.3h.7v.7h-.7zM239.4,150.6h.7v.7h-.7zM240.4,150.7h.7v.7h-.7zM234.0,149.4h.7v.7h-.7zM233.0,151.9h.7v.7h-.7zM239.6,152.8h.7v.7h-.7zM239.7,153.1h.7v.7h-.7zM236.4,155.5h.7v.7h-.7zM233.4,150.8h.7v.7h-.7zM247.8,153.5h.7v.7h-.7zM239.4,158.7h.7v.7h-.7zM233.5,156.5h.7v.7h-.7zM238.3,152.5h.7v.7h-.7zM233.9,152.8h.7v.7h-.7zM241.8,152.9h.7v.7h-.7zM236.3,153.8h.7v.7h-.7zM244.2,153.1h.7v.7h-.7zM236.5,152.1h.7v.7h-.7zM240.2,151.7h.7v.7h-.7zM244.9,151.7h.7v.7h-.7zM243.4,152.6h.7v.7h-.7zM241.8,150.5h.7v.7h-.7zM237.5,150.8h.7v.7h-.7zM234.8,152.9h.7v.7h-.7zM233.0,157.3h.7v.7h-.7zM246.2,155.0h.7v.7h-.7zM238.5,151.7h.7v.7h-.7zM230.6,154.8h.7v.7h-.7zM233.0,152.9h.7v.7h-.7zM235.7,153.0h.7v.7h-.7zM246.1,152.8h.7v.7h-.7zM237.6,155.0h.7v.7h-.7zM236.1,148.7h.7v.7h-.7zM234.9,152.4h.7v.7h-.7zM234.9,155.1h.7v.7h-.7zM243.9,150.8h.7v.7h-.7zM238.6,153.4h.7v.7h-.7zM236.5,151.6h.7v.7h-.7zM240.4,152.1h.7v.7h-.7zM246.8,152.9h.7v.7h-.7zM238.5,153.4h.7v.7h-.7zM239.5,152.0h.7v.7h-.7zM241.1,154.8h.7v.7h-.7zM239.5,153.9h.7v.7h-.7zM232.1,152.0h.7v.7h-.7zM238.8,152.3h.7v.7h-.7zM243.4,153.8h.7v.7h-.7zM238.3,151.5h.7v.7h-.7zM236.7,152.4h.7v.7h-.7zM246.0,150.3h.7v.7h-.7zM242.7,152.1h.7v.7h-.7zM245.9,155.0h.7v.7h-.7zM234.5,153.7h.7v.7h-.7zM232.0,154.5h.7v.7h-.7zM237.8,150.7h.7v.7h-.7zM238.2,154.3h.7v.7h-.7zM249.6,154.8h.7v.7h-.7zM240.2,152.8h.7v.7h-.7zM228.2,149.7h.7v.7h-.7zM227.6,150.3h.7v.7h-.7zM243.0,155.8h.7v.7h-.7zM239.7,152.1h.7v.7h-.7zM241.7,158.1h.7v.7h-.7zM239.2,156.0h.7v.7h-.7zM244.7,151.2h.7v.7h-.7zM239.1,151.2h.7v.7h-.7zM240.0,152.0h.7v.7h-.7zM234.2,154.5h.7v.7h-.7zM238.2,152.4h.7v.7h-.7zM242.4,154.0h.7v.7h-.7zM244.1,157.0h.7v.7h-.7zM232.7,154.0h.7v.7h-.7zM230.4,155.0h.7v.7h-.7zM247.3,150.9h.7v.7h-.7zM244.0,154.5h.7v.7h-.7zM240.2,148.2h.7v.7h-.7zM233.6,152.1h.7v.7h-.7zM238.8,153.3h.7v.7h-.7zM242.2,153.3h.7v.7h-.7zM237.6,150.8h.7v.7h-.7zM235.0,152.5h.7v.7h-.7zM248.7,152.2h.7v.7h-.7zM238.1,155.2h.7v.7h-.7zM242.1,154.4h.7v.7h-.7zM238.9,156.5h.7v.7h-.7zM235.8,156.1h.7v.7h-.7zM245.6,153.6h.7v.7h-.7zM236.0,151.6h.7v.7h-.7zM239.7,148.6h.7v.7h-.7zM244.4,151.1h.7v.7h-.7zM232.8,154.1h.7v.7h-.7zM238.8,151.1h.7v.7h-.7zM244.5,150.4h.7v.7h-.7zM235.8,149.5h.7v.7h-.7zM246.5,154.3h.7v.7h-.7zM231.9,154.1h.7v.7h-.7zM235.7,151.1h.7v.7h-.7zM237.7,148.7h.7v.7h-.7zM239.4,153.0h.7v.7h-.7zM245.3,151.1h.7v.7h-.7zM232.1,150.9h.7v.7h-.7zM235.8,154.8h.7v.7h-.7zM248.7,154.3h.7v.7h-.7zM240.5,150.5h.7v.7h-.7zM232.0,150.3h.7v.7h-.7zM241.5,155.5h.7v.7h-.7zM237.5,150.1h.7v.7h-.7zM242.0,152.8h.7v.7h-.7zM235.1,149.5h.7v.7h-.7zM230.1,156.3h.7v.7h-.7zM236.3,153.7h.7v.7h-.7zM240.7,154.9h.7v.7h-.7zM248.7,152.6h.7v.7h-.7zM244.0,151.1h.7v.7h-.7zM231.9,152.9h.7v.7h-.7zM229.5,149.6h.7v.7h-.7zM234.9,154.4h.7v.7h-.7zM237.4,149.1h.7v.7h-.7zM238.3,151.7h.7v.7h-.7zM236.1,151.7h.7v.7h-.7zM238.0,154.7h.7v.7h-.7zM240.8,153.1h.7v.7h-.7zM234.6,149.5h.7v.7h-.7zM247.2,156.3h.7v.7h-.7zM230.6,153.8h.7v.7h-.7zM240.3,153.2h.7v.7h-.7zM239.3,152.1h.7v.7h-.7zM245.0,153.8h.7v.7h-.7zM243.1,153.6h.7v.7h-.7zM239.4,152.0h.7v.7h-.7zM244.1,149.0h.7v.7h-.7zM244.8,152.5h.7v.7h-.7zM239.7,151.8h.7v.7h-.7zM230.1,151.0h.7v.7h-.7zM240.4,152.0h.7v.7h-.7zM240.7,151.0h.7v.7h-.7zM230.3,152.7h.7v.7h-.7zM236.5,151.3h.7v.7h-.7zM245.1,149.0h.7v.7h-.7zM239.0,152.3h.7v.7h-.7zM244.5,153.3h.7v.7h-.7zM240.1,153.5h.7v.7h-.7zM239.5,152.5h.7v.7h-.7zM237.7,154.8h.7v.7h-.7zM248.7,150.8h.7v.7h-.7zM239.6,150.6h.7v.7h-.7zM247.3,156.8h.7v.7h-.7zM239.6,156.1h.7v.7h-.7zM239.5,150.4h.7v.7h-.7zM246.7,149.6h.7v.7h-.7zM233.7,155.6h.7v.7h-.7zM242.6,154.3h.7v.7h-.7zM236.8,151.4h.7v.7h-.7zM233.1,155.7h.7v.7h-.7zM241.0,157.8h.7v.7h-.7zM240.6,154.2h.7v.7h-.7zM236.0,152.0h.7v.7h-.7zM240.8,151.2h.7v.7h-.7zM243.3,155.3h.7v.7h-.7zM232.7,154.4h.7v.7h-.7zM239.7,153.5h.7v.7h-.7zM236.9,155.5h.7v.7h-.7zM239.5,154.4h.7v.7h-.7zM240.3,151.6h.7v.7h-.7zM233.2,156.7h.7v.7h-.7zM246.4,153.0h.7v.7h-.7zM243.5,155.9h.7v.7h-.7zM245.5,155.1h.7v.7h-.7zM238.0,154.5h.7v.7h-.7zM236.2,153.5h.7v.7h-.7zM234.2,149.5h.7v.7h-.7zM234.4,149.6h.7v.7h-.7zM240.4,154.5h.7v.7h-.7zM240.6,151.3h.7v.7h-.7zM238.4,150.2h.7v.7h-.7zM240.4,154.3h.7v.7h-.7zM247.3,150.8h.7v.7h-.7zM237.8,152.8h.7v.7h-.7zM249.3,153.5h.7v.7h-.7zM240.6,149.8h.7v.7h-.7zM237.9,157.8h.7v.7h-.7zM244.8,154.5h.7v.7h-.7zM236.8,151.0h.7v.7h-.7zM239.6,151.7h.7v.7h-.7zM248.9,151.8h.7v.7h-.7zM236.3,154.7h.7v.7h-.7zM239.7,151.1h.7v.7h-.7zM232.5,151.2h.7v.7h-.7zM245.8,151.8h.7v.7h-.7zM237.8,155.0h.7v.7h-.7zM245.9,154.8h.7v.7h-.7zM240.3,151.7h.7v.7h-.7zM234.3,153.4h.7v.7h-.7zM238.3,153.5h.7v.7h-.7zM229.2,150.0h.7v.7h-.7zM242.2,156.2h.7v.7h-.7zM239.3,150.3h.7v.7h-.7zM241.3,151.1h.7v.7h-.7zM237.3,152.4h.7v.7h-.7zM242.0,155.4h.7v.7h-.7zM241.4,150.9h.7v.7h-.7zM243.4,152.0h.7v.7h-.7zM231.7,155.1h.7v.7h-.7zM247.2,150.7h.7v.7h-.7zM236.8,151.7h.7v.7h-.7zM236.4,155.6h.7v.7h-.7zM242.3,153.4h.7v.7h-.7zM239.3,151.4h.7v.7h-.7zM236.2,151.5h.7v.7h-.7zM241.3,154.5h.7v.7h-.7zM236.9,154.6h.7v.7h-.7zM234.7,157.6h.7v.7h-.7zM233.7,151.8h.7v.7h-.7zM238.2,154.8h.7v.7h-.7zM239.8,151.1h.7v.7h-.7zM241.2,154.8h.7v.7h-.7zM233.4,148.4h.7v.7h-.7zM241.2,150.8h.7v.7h-.7zM243.2,157.0h.7v.7h-.7zM244.4,153.7h.7v.7h-.7zM242.5,152.7h.7v.7h-.7zM234.6,152.7h.7v.7h-.7zM236.6,153.5h.7v.7h-.7zM233.2,150.7h.7v.7h-.7zM239.0,153.2h.7v.7h-.7zM238.7,155.1h.7v.7h-.7zM231.8,154.4h.7v.7h-.7zM237.3,152.9h.7v.7h-.7zM243.4,153.3h.7v.7h-.7zM242.6,156.5h.7v.7h-.7zM238.3,149.0h.7v.7h-.7zM236.2,152.0h.7v.7h-.7zM239.5,151.2h.7v.7h-.7zM239.2,153.5h.7v.7h-.7zM229.7,156.5h.7v.7h-.7zM235.8,150.0h.7v.7h-.7zM234.9,154.6h.7v.7h-.7zM252.8,148.6h.7v.7h-.7zM235.4,155.5h.7v.7h-.7zM235.4,153.1h.7v.7h-.7zM236.5,152.9h.7v.7h-.7zM239.8,150.9h.7v.7h-.7zM234.0,149.8h.7v.7h-.7zM239.5,158.3h.7v.7h-.7zM243.8,152.8h.7v.7h-.7zM244.4,154.4h.7v.7h-.7zM237.1,151.6h.7v.7h-.7zM239.2,151.2h.7v.7h-.7zM238.4,153.9h.7v.7h-.7zM232.8,150.5h.7v.7h-.7zM237.2,151.2h.7v.7h-.7zM238.1,153.7h.7v.7h-.7zM240.1,154.5h.7v.7h-.7zM238.8,153.6h.7v.7h-.7zM238.0,153.2h.7v.7h-.7zM238.2,153.0h.7v.7h-.7zM237.0,153.7h.7v.7h-.7zM242.2,155.9h.7v.7h-.7zM245.7,154.7h.7v.7h-.7zM235.7,150.1h.7v.7h-.7zM231.3,152.3h.7v.7h-.7zM239.4,155.2h.7v.7h-.7zM238.9,153.0h.7v.7h-.7zM233.0,154.5h.7v.7h-.7zM247.1,152.1h.7v.7h-.7zM248.2,154.6h.7v.7h-.7zM234.7,154.4h.7v.7h-.7zM239.6,153.8h.7v.7h-.7zM233.0,153.8h.7v.7h-.7zM242.6,150.4h.7v.7h-.7z" fill="#000" opacity="0.32"/>
<path d="M239.9,163.0h.7v.7h-.7zM239.3,155.3h.7v.7h-.7zM237.2,161.0h.7v.7h-.7zM240.2,157.6h.7v.7h-.7zM235.4,155.2h.7v.7h-.7zM237.3,153.3h.7v.7h-.7zM239.5,165.8h.7v.7h-.7zM237.2,157.8h.7v.7h-.7zM238.5,160.4h.7v.7h-.7zM237.0,160.1h.7v.7h-.7zM234.6,153.7h.7v.7h-.7zM235.6,160.0h.7v.7h-.7zM235.4,155.1h.7v.7h-.7zM238.9,150.1h.7v.7h-.7zM236.2,148.7h.7v.7h-.7zM235.5,165.4h.7v.7h-.7zM231.4,162.4h.7v.7h-.7zM235.6,155.8h.7v.7h-.7zM236.5,165.7h.7v.7h-.7zM235.7,158.2h.7v.7h-.7zM236.1,156.9h.7v.7h-.7zM240.9,159.2h.7v.7h-.7zM238.4,155.3h.7v.7h-.7zM238.8,157.1h.7v.7h-.7zM237.8,158.3h.7v.7h-.7zM235.9,152.9h.7v.7h-.7zM239.6,150.8h.7v.7h-.7zM241.5,155.7h.7v.7h-.7zM234.3,162.1h.7v.7h-.7zM235.4,158.2h.7v.7h-.7zM234.4,159.6h.7v.7h-.7zM239.3,156.9h.7v.7h-.7zM237.1,151.8h.7v.7h-.7zM242.4,155.3h.7v.7h-.7zM237.4,156.0h.7v.7h-.7zM238.9,157.1h.7v.7h-.7zM236.5,156.8h.7v.7h-.7zM238.8,164.0h.7v.7h-.7zM233.5,162.1h.7v.7h-.7zM238.3,159.8h.7v.7h-.7zM235.3,161.9h.7v.7h-.7zM240.9,150.5h.7v.7h-.7zM231.1,164.6h.7v.7h-.7zM235.6,157.0h.7v.7h-.7zM232.0,157.9h.7v.7h-.7zM238.2,156.0h.7v.7h-.7zM243.0,157.1h.7v.7h-.7zM241.3,158.1h.7v.7h-.7zM238.7,156.8h.7v.7h-.7zM235.7,163.6h.7v.7h-.7zM242.4,162.6h.7v.7h-.7zM235.3,156.3h.7v.7h-.7zM238.6,156.6h.7v.7h-.7zM240.4,164.4h.7v.7h-.7zM235.8,156.3h.7v.7h-.7zM231.9,162.9h.7v.7h-.7zM238.7,159.3h.7v.7h-.7zM235.3,158.0h.7v.7h-.7zM236.8,155.3h.7v.7h-.7zM240.1,163.1h.7v.7h-.7zM242.9,156.7h.7v.7h-.7zM250.1,155.4h.7v.7h-.7zM238.1,152.8h.7v.7h-.7zM236.9,159.2h.7v.7h-.7zM235.5,157.6h.7v.7h-.7zM234.1,156.3h.7v.7h-.7zM233.1,156.2h.7v.7h-.7zM229.5,154.6h.7v.7h-.7zM236.1,157.3h.7v.7h-.7zM242.9,153.6h.7v.7h-.7zM235.1,161.2h.7v.7h-.7zM234.3,156.5h.7v.7h-.7zM231.1,145.6h.7v.7h-.7zM246.5,160.9h.7v.7h-.7zM246.0,157.5h.7v.7h-.7zM232.3,159.3h.7v.7h-.7zM234.2,158.8h.7v.7h-.7zM239.5,160.2h.7v.7h-.7zM234.8,158.5h.7v.7h-.7zM239.4,163.3h.7v.7h-.7zM236.5,165.4h.7v.7h-.7zM240.4,159.5h.7v.7h-.7zM235.5,159.3h.7v.7h-.7zM240.4,154.0h.7v.7h-.7zM240.5,159.0h.7v.7h-.7zM236.9,154.7h.7v.7h-.7zM237.2,160.6h.7v.7h-.7zM244.7,158.5h.7v.7h-.7zM236.6,160.7h.7v.7h-.7zM241.7,160.9h.7v.7h-.7zM237.3,148.3h.7v.7h-.7zM238.7,157.7h.7v.7h-.7zM233.4,158.1h.7v.7h-.7zM234.0,156.7h.7v.7h-.7zM242.8,155.6h.7v.7h-.7zM228.6,162.0h.7v.7h-.7zM237.5,157.9h.7v.7h-.7zM230.8,150.6h.7v.7h-.7zM236.5,155.8h.7v.7h-.7zM238.6,157.1h.7v.7h-.7zM239.2,156.2h.7v.7h-.7zM239.4,155.9h.7v.7h-.7zM239.8,160.4h.7v.7h-.7zM231.9,157.8h.7v.7h-.7zM236.5,157.9h.7v.7h-.7zM245.2,155.5h.7v.7h-.7zM237.3,158.8h.7v.7h-.7zM229.3,163.5h.7v.7h-.7zM240.3,157.3h.7v.7h-.7zM241.6,168.4h.7v.7h-.7zM234.7,163.2h.7v.7h-.7zM244.7,154.8h.7v.7h-.7zM239.8,152.8h.7v.7h-.7zM239.0,155.3h.7v.7h-.7zM240.3,156.4h.7v.7h-.7zM242.9,162.8h.7v.7h-.7zM244.7,157.6h.7v.7h-.7zM236.8,156.8h.7v.7h-.7zM235.5,157.6h.7v.7h-.7zM234.0,157.0h.7v.7h-.7zM241.2,161.9h.7v.7h-.7zM239.6,151.9h.7v.7h-.7zM244.0,165.2h.7v.7h-.7zM241.4,156.4h.7v.7h-.7zM240.6,157.6h.7v.7h-.7zM231.8,162.5h.7v.7h-.7zM241.4,160.1h.7v.7h-.7zM240.8,158.2h.7v.7h-.7zM233.3,164.0h.7v.7h-.7zM236.7,156.7h.7v.7h-.7zM239.9,151.5h.7v.7h-.7zM237.1,160.3h.7v.7h-.7zM237.1,148.6h.7v.7h-.7zM238.7,161.5h.7v.7h-.7zM232.8,167.1h.7v.7h-.7zM238.7,158.2h.7v.7h-.7zM239.8,162.1h.7v.7h-.7zM239.1,157.8h.7v.7h-.7zM239.4,153.3h.7v.7h-.7zM246.0,151.4h.7v.7h-.7zM237.4,155.0h.7v.7h-.7zM238.5,157.7h.7v.7h-.7zM242.1,157.7h.7v.7h-.7zM237.0,166.2h.7v.7h-.7zM234.1,158.0h.7v.7h-.7zM236.6,161.9h.7v.7h-.7zM238.1,162.8h.7v.7h-.7zM235.1,159.2h.7v.7h-.7zM240.3,158.1h.7v.7h-.7zM239.2,151.8h.7v.7h-.7z" fill="#000" opacity="0.22"/>
<text x="262" y="168.85" font-size="6.8" text-anchor="end" font-weight="bold" fill="#111" stroke="#111" stroke-width="0.11">59.1</text>
<text x="218.5" y="180.24" font-size="2.6" text-anchor="middle" font-weight="bold" fill="#333">0</text>
<line x1="218.5" y1="174" x2="218.5" y2="175.2" stroke="#444" stroke-width="0.5"/>
<text x="229.88" y="180.24" font-size="2.6" text-anchor="middle" font-weight="bold" fill="#333">2.0M</text>
<line x1="229.88" y1="174" x2="229.88" y2="175.2" stroke="#444" stroke-width="0.5"/>
<text x="241.25" y="180.24" font-size="2.6" text-anchor="middle" font-weight="bold" fill="#333">4.0M</text>
<line x1="241.25" y1="174" x2="241.25" y2="175.2" stroke="#444" stroke-width="0.5"/>
<text x="252.62" y="180.24" font-size="2.6" text-anchor="middle" font-weight="bold" fill="#333">6.0M</text>
<line x1="252.62" y1="174" x2="252.62" y2="175.2" stroke="#444" stroke-width="0.5"/>
<text x="264" y="180.24" font-size="2.6" text-anchor="middle" font-weight="bold" fill="#333">8.0M</text>
<line x1="264" y1="174" x2="264" y2="175.2" stroke="#444" stroke-width="0.5"/>
<text x="212.5" y="172.22" font-size="3.4" text-anchor="middle" font-weight="bold" fill="#222" transform="rotate(-90 212.5 171)">10<tspan font-size="2.5" dy="-1.4">0</tspan></text>
<line x1="215.3" y1="171" x2="216.5" y2="171" stroke="#444" stroke-width="0.5"/>
<text x="212.5" y="163.38" font-size="3.4" text-anchor="middle" font-weight="bold" fill="#222" transform="rotate(-90 212.5 162.16)">10<tspan font-size="2.5" dy="-1.4">1</tspan></text>
<line x1="215.3" y1="162.16" x2="216.5" y2="162.16" stroke="#444" stroke-width="0.5"/>
<text x="212.5" y="154.54" font-size="3.4" text-anchor="middle" font-weight="bold" fill="#222" transform="rotate(-90 212.5 153.32)">10<tspan font-size="2.5" dy="-1.4">2</tspan></text>
<line x1="215.3" y1="153.32" x2="216.5" y2="153.32" stroke="#444" stroke-width="0.5"/>
<text x="212.5" y="145.7" font-size="3.4" text-anchor="middle" font-weight="bold" fill="#222" transform="rotate(-90 212.5 144.48)">10<tspan font-size="2.5" dy="-1.4">3</tspan></text>
<line x1="215.3" y1="144.48" x2="216.5" y2="144.48" stroke="#444" stroke-width="0.5"/>
<text x="212.5" y="136.86" font-size="3.4" text-anchor="middle" font-weight="bold" fill="#222" transform="rotate(-90 212.5 135.64)">10<tspan font-size="2.5" dy="-1.4">4</tspan></text>
<line x1="215.3" y1="135.64" x2="216.5" y2="135.64" stroke="#444" stroke-width="0.5"/>
<text x="212.5" y="128.02" font-size="3.4" text-anchor="middle" font-weight="bold" fill="#222" transform="rotate(-90 212.5 126.8)">10<tspan font-size="2.5" dy="-1.4">5</tspan></text>
<line x1="215.3" y1="126.8" x2="216.5" y2="126.8" stroke="#444" stroke-width="0.5"/>
<text x="296" y="10.52" font-size="12" font-weight="bold" fill="#111" stroke="#111" stroke-width="0.19">B</text>
<text x="365" y="6.32" font-size="5.9" stroke="#1a1a1a" stroke-width="0.16">Co-culture with PC3-PDL1 target cell</text>
<line x1="347.3" y1="9.7" x2="475.8" y2="9.7" stroke="#444" stroke-width="0.8"/>
<text x="368" y="23.09" font-size="5.8" text-anchor="middle" stroke="#1a1a1a" stroke-width="0.15">Day 0</text>
<text x="411.5" y="23.09" font-size="5.8" text-anchor="middle" stroke="#1a1a1a" stroke-width="0.15">Day 1</text>
<text x="454.3" y="23.09" font-size="5.8" text-anchor="middle" stroke="#1a1a1a" stroke-width="0.15">Day 2</text>
<text x="318.5" y="44.82" font-size="5.9" text-anchor="middle" stroke="#1a1a1a" stroke-width="0.16">WT</text>
<text x="318.5" y="52.52" font-size="5.9" text-anchor="middle" stroke="#1a1a1a" stroke-width="0.16">PSCA-CART</text>
<text x="318.5" y="89.42" font-size="5.9" text-anchor="middle" stroke="#1a1a1a" stroke-width="0.16">PD1-negative</text>
<text x="318.5" y="96.32" font-size="5.9" text-anchor="middle" stroke="#1a1a1a" stroke-width="0.16">PSCA-CART</text>
<text x="318.5" y="144.92" font-size="5.9" text-anchor="middle" stroke="#1a1a1a" stroke-width="0.16">WT</text>
<text x="318.5" y="152.52" font-size="5.9" text-anchor="middle" stroke="#1a1a1a" stroke-width="0.16">PSCA-CART</text>
<text x="318.5" y="180.92" font-size="5.9" text-anchor="middle" stroke="#1a1a1a" stroke-width="0.16">PD1-negative</text>
<text x="318.5" y="187.82" font-size="5.9" text-anchor="middle" stroke="#1a1a1a" stroke-width="0.16">PSCA-CART</text>
<path d="M353.5,58.8L353.50,58.80L353.84,58.80L354.17,58.80L354.51,58.80L354.84,58.80L355.18,58.80L355.51,58.80L355.85,58.80L356.18,58.80L356.52,58.80L356.85,58.80L357.19,58.80L357.52,58.80L357.86,58.80L358.19,58.80L358.53,58.80L358.86,58.80L359.20,58.80L359.53,58.80L359.87,58.79L360.20,58.79L360.54,58.77L360.87,58.73L361.21,58.65L361.54,58.50L361.88,58.23L362.21,57.77L362.55,57.03L362.88,55.91L363.22,54.32L363.55,52.19L363.89,49.52L364.22,46.40L364.56,43.05L364.89,39.75L365.23,36.90L365.56,34.83L365.90,33.86L366.23,34.10L366.57,35.54L366.90,37.95L367.24,41.03L367.57,44.39L367.91,47.68L368.24,50.64L368.58,53.10L368.91,55.02L369.25,56.41L369.59,57.36L369.92,57.98L370.26,58.35L370.59,58.57L370.93,58.69L371.26,58.75L371.60,58.78L371.93,58.79L372.27,58.80L372.60,58.80L372.94,58.80L373.27,58.80L373.61,58.80L373.94,58.80L374.28,58.80L374.61,58.80L374.95,58.80L375.28,58.80L375.62,58.80L375.95,58.80L376.29,58.80L376.62,58.80L376.96,58.80L377.29,58.80L377.63,58.80L377.96,58.80L378.30,58.80L378.63,58.80L378.97,58.80L379.30,58.80L379.64,58.80L379.97,58.80L380.31,58.80L380.64,58.80L380.98,58.80L381.31,58.80L381.65,58.80L381.98,58.80L382.32,58.80L382.65,58.80L382.99,58.80L383.32,58.80L383.66,58.80L383.99,58.80L384.33,58.80L384.66,58.80L385.00,58.80L385,58.8Z" fill="#707070" stroke="#1a1a1a" stroke-width="0.55"/>
<rect x="353" y="26.5" width="32.5" height="33.5" fill="none" stroke="#777" stroke-width="0.6"/>
<line x1="353" y1="26.5" x2="353" y2="60" stroke="#111" stroke-width="0.8"/>
<line x1="353" y1="60" x2="385.5" y2="60" stroke="#111" stroke-width="0.8"/>
<line x1="352" y1="59" x2="353" y2="59" stroke="#333" stroke-width="0.4"/>
<text x="350.2" y="59.94" font-size="2.6" text-anchor="middle" font-weight="bold" fill="#333">0</text>
<line x1="352" y1="53.1" x2="353" y2="53.1" stroke="#333" stroke-width="0.4"/>
<text x="350.2" y="54.04" font-size="2.6" text-anchor="middle" font-weight="bold" fill="#333">10</text>
<line x1="352" y1="47.2" x2="353" y2="47.2" stroke="#333" stroke-width="0.4"/>
<text x="350.2" y="48.14" font-size="2.6" text-anchor="middle" font-weight="bold" fill="#333">20</text>
<line x1="352" y1="41.3" x2="353" y2="41.3" stroke="#333" stroke-width="0.4"/>
<text x="350.2" y="42.24" font-size="2.6" text-anchor="middle" font-weight="bold" fill="#333">30</text>
<line x1="352" y1="35.4" x2="353" y2="35.4" stroke="#333" stroke-width="0.4"/>
<text x="350.2" y="36.34" font-size="2.6" text-anchor="middle" font-weight="bold" fill="#333">40</text>
<line x1="352" y1="29.5" x2="353" y2="29.5" stroke="#333" stroke-width="0.4"/>
<text x="350.2" y="30.44" font-size="2.6" text-anchor="middle" font-weight="bold" fill="#333">50</text>
<text x="357.3" y="66.88" font-size="3" text-anchor="middle" font-weight="bold" fill="#333" transform="rotate(-45 357.3 65.8)">10<tspan font-size="2" dy="-1.2">2</tspan></text>
<line x1="358.3" y1="60" x2="358.3" y2="61" stroke="#333" stroke-width="0.4"/>
<text x="362.3" y="66.88" font-size="3" text-anchor="middle" font-weight="bold" fill="#333" transform="rotate(-45 362.3 65.8)">10<tspan font-size="2" dy="-1.2">3</tspan></text>
<line x1="363.3" y1="60" x2="363.3" y2="61" stroke="#333" stroke-width="0.4"/>
<text x="371.7" y="66.88" font-size="3" text-anchor="middle" font-weight="bold" fill="#333" transform="rotate(-45 371.7 65.8)">10<tspan font-size="2" dy="-1.2">4</tspan></text>
<line x1="372.7" y1="60" x2="372.7" y2="61" stroke="#333" stroke-width="0.4"/>
<text x="379.6" y="66.88" font-size="3" text-anchor="middle" font-weight="bold" fill="#333" transform="rotate(-45 379.6 65.8)">10<tspan font-size="2" dy="-1.2">5</tspan></text>
<line x1="380.6" y1="60" x2="380.6" y2="61" stroke="#333" stroke-width="0.4"/>
<line x1="368" y1="48.4" x2="382.8" y2="48.4" stroke="#333" stroke-width="0.7"/>
<line x1="368" y1="47.4" x2="368" y2="49.4" stroke="#333" stroke-width="0.5"/>
<line x1="382.8" y1="47.4" x2="382.8" y2="49.4" stroke="#333" stroke-width="0.5"/>
<text x="376.8" y="44.56" font-size="4.9" text-anchor="middle" font-weight="bold" fill="#111" stroke="#111" stroke-width="0.18">2.64</text>
<path d="M396.5,58.8L396.50,58.80L396.83,58.79L397.17,58.79L397.50,58.79L397.83,58.78L398.17,58.76L398.50,58.74L398.83,58.70L399.17,58.65L399.50,58.58L399.83,58.48L400.17,58.35L400.50,58.18L400.83,57.97L401.17,57.70L401.50,57.39L401.83,57.02L402.17,56.61L402.50,56.17L402.83,55.71L403.17,55.24L403.50,54.80L403.83,54.38L404.17,54.01L404.50,53.67L404.83,53.36L405.17,53.01L405.50,52.56L405.83,51.93L406.17,51.02L406.50,49.79L406.83,48.23L407.17,46.44L407.50,44.59L407.83,42.90L408.17,41.60L408.50,40.84L408.83,40.67L409.17,41.01L409.50,41.71L409.83,42.56L410.17,43.38L410.50,44.03L410.83,44.41L411.17,44.47L411.50,44.11L411.83,43.24L412.17,41.79L412.50,39.80L412.83,37.53L413.17,35.42L413.50,34.07L413.83,34.00L414.17,35.45L414.50,38.26L414.83,41.95L415.17,45.88L415.50,49.48L415.83,52.40L416.17,54.55L416.50,56.02L416.83,56.96L417.17,57.56L417.50,57.94L417.83,58.19L418.17,58.37L418.50,58.49L418.83,58.58L419.17,58.65L419.50,58.70L419.83,58.73L420.17,58.75L420.50,58.77L420.83,58.78L421.17,58.79L421.50,58.79L421.83,58.80L422.17,58.80L422.50,58.80L422.83,58.80L423.17,58.80L423.50,58.80L423.83,58.80L424.17,58.80L424.50,58.80L424.83,58.80L425.17,58.80L425.50,58.80L425.83,58.80L426.17,58.80L426.50,58.80L426.83,58.80L427.17,58.80L427.50,58.80L427.5,58.8Z" fill="#707070" stroke="#1a1a1a" stroke-width="0.55"/>
<rect x="396" y="26.5" width="32" height="33.5" fill="none" stroke="#777" stroke-width="0.6"/>
<line x1="396" y1="26.5" x2="396" y2="60" stroke="#111" stroke-width="0.8"/>
<line x1="396" y1="60" x2="428" y2="60" stroke="#111" stroke-width="0.8"/>
<line x1="395" y1="59" x2="396" y2="59" stroke="#333" stroke-width="0.4"/>
<text x="393.2" y="59.94" font-size="2.6" text-anchor="middle" font-weight="bold" fill="#333">0</text>
<line x1="395" y1="53.1" x2="396" y2="53.1" stroke="#333" stroke-width="0.4"/>
<text x="393.2" y="54.04" font-size="2.6" text-anchor="middle" font-weight="bold" fill="#333">10</text>
<line x1="395" y1="47.2" x2="396" y2="47.2" stroke="#333" stroke-width="0.4"/>
<text x="393.2" y="48.14" font-size="2.6" text-anchor="middle" font-weight="bold" fill="#333">20</text>
<line x1="395" y1="41.3" x2="396" y2="41.3" stroke="#333" stroke-width="0.4"/>
<text x="393.2" y="42.24" font-size="2.6" text-anchor="middle" font-weight="bold" fill="#333">30</text>
<line x1="395" y1="35.4" x2="396" y2="35.4" stroke="#333" stroke-width="0.4"/>
<text x="393.2" y="36.34" font-size="2.6" text-anchor="middle" font-weight="bold" fill="#333">40</text>
<line x1="395" y1="29.5" x2="396" y2="29.5" stroke="#333" stroke-width="0.4"/>
<text x="393.2" y="30.44" font-size="2.6" text-anchor="middle" font-weight="bold" fill="#333">50</text>
<text x="400.3" y="66.88" font-size="3" text-anchor="middle" font-weight="bold" fill="#333" transform="rotate(-45 400.3 65.8)">10<tspan font-size="2" dy="-1.2">2</tspan></text>
<line x1="401.3" y1="60" x2="401.3" y2="61" stroke="#333" stroke-width="0.4"/>
<text x="405.3" y="66.88" font-size="3" text-anchor="middle" font-weight="bold" fill="#333" transform="rotate(-45 405.3 65.8)">10<tspan font-size="2" dy="-1.2">3</tspan></text>
<line x1="406.3" y1="60" x2="406.3" y2="61" stroke="#333" stroke-width="0.4"/>
<text x="414.7" y="66.88" font-size="3" text-anchor="middle" font-weight="bold" fill="#333" transform="rotate(-45 414.7 65.8)">10<tspan font-size="2" dy="-1.2">4</tspan></text>
<line x1="415.7" y1="60" x2="415.7" y2="61" stroke="#333" stroke-width="0.4"/>
<text x="422.6" y="66.88" font-size="3" text-anchor="middle" font-weight="bold" fill="#333" transform="rotate(-45 422.6 65.8)">10<tspan font-size="2" dy="-1.2">5</tspan></text>
<line x1="423.6" y1="60" x2="423.6" y2="61" stroke="#333" stroke-width="0.4"/>
<line x1="410.4" y1="48.4" x2="425.5" y2="48.4" stroke="#333" stroke-width="0.7"/>
<line x1="410.4" y1="47.4" x2="410.4" y2="49.4" stroke="#333" stroke-width="0.5"/>
<line x1="425.5" y1="47.4" x2="425.5" y2="49.4" stroke="#333" stroke-width="0.5"/>
<text x="420" y="44.96" font-size="4.9" text-anchor="middle" font-weight="bold" fill="#111" stroke="#111" stroke-width="0.18">47.2</text>
<path d="M438.7,58.8L438.70,58.78L439.04,58.77L439.37,58.75L439.71,58.73L440.04,58.71L440.38,58.67L440.71,58.62L441.05,58.56L441.38,58.48L441.72,58.38L442.05,58.25L442.39,58.09L442.73,57.90L443.06,57.67L443.40,57.40L443.73,57.09L444.07,56.73L444.40,56.33L444.74,55.88L445.07,55.40L445.41,54.89L445.75,54.36L446.08,53.81L446.42,53.26L446.75,52.73L447.09,52.22L447.42,51.73L447.76,51.28L448.09,50.85L448.43,50.45L448.76,50.05L449.10,49.65L449.44,49.21L449.77,48.75L450.11,48.25L450.44,47.74L450.78,47.24L451.11,46.80L451.45,46.45L451.78,46.24L452.12,46.17L452.45,46.25L452.79,46.43L453.13,46.62L453.46,46.70L453.80,46.46L454.13,45.69L454.47,44.21L454.80,41.99L455.14,39.22L455.47,36.37L455.81,34.15L456.15,33.23L456.48,34.02L456.82,36.48L457.15,40.15L457.49,44.33L457.82,48.32L458.16,51.66L458.49,54.16L458.83,55.87L459.16,56.97L459.50,57.64L459.84,58.05L460.17,58.31L460.51,58.48L460.84,58.59L461.18,58.66L461.51,58.71L461.85,58.74L462.18,58.77L462.52,58.78L462.85,58.79L463.19,58.79L463.53,58.80L463.86,58.80L464.20,58.80L464.53,58.80L464.87,58.80L465.20,58.80L465.54,58.80L465.87,58.80L466.21,58.80L466.55,58.80L466.88,58.80L467.22,58.80L467.55,58.80L467.89,58.80L468.22,58.80L468.56,58.80L468.89,58.80L469.23,58.80L469.56,58.80L469.90,58.80L469.9,58.8Z" fill="#707070" stroke="#1a1a1a" stroke-width="0.55"/>
<rect x="438.2" y="26.5" width="32.2" height="33.5" fill="none" stroke="#777" stroke-width="0.6"/>
<line x1="438.2" y1="26.5" x2="438.2" y2="60" stroke="#111" stroke-width="0.8"/>
<line x1="438.2" y1="60" x2="470.4" y2="60" stroke="#111" stroke-width="0.8"/>
<line x1="437.2" y1="59" x2="438.2" y2="59" stroke="#333" stroke-width="0.4"/>
<text x="435.4" y="59.94" font-size="2.6" text-anchor="middle" font-weight="bold" fill="#333">0</text>
<line x1="437.2" y1="53.1" x2="438.2" y2="53.1" stroke="#333" stroke-width="0.4"/>
<text x="435.4" y="54.04" font-size="2.6" text-anchor="middle" font-weight="bold" fill="#333">10</text>
<line x1="437.2" y1="47.2" x2="438.2" y2="47.2" stroke="#333" stroke-width="0.4"/>
<text x="435.4" y="48.14" font-size="2.6" text-anchor="middle" font-weight="bold" fill="#333">20</text>
<line x1="437.2" y1="41.3" x2="438.2" y2="41.3" stroke="#333" stroke-width="0.4"/>
<text x="435.4" y="42.24" font-size="2.6" text-anchor="middle" font-weight="bold" fill="#333">30</text>
<line x1="437.2" y1="35.4" x2="438.2" y2="35.4" stroke="#333" stroke-width="0.4"/>
<text x="435.4" y="36.34" font-size="2.6" text-anchor="middle" font-weight="bold" fill="#333">40</text>
<line x1="437.2" y1="29.5" x2="438.2" y2="29.5" stroke="#333" stroke-width="0.4"/>
<text x="435.4" y="30.44" font-size="2.6" text-anchor="middle" font-weight="bold" fill="#333">50</text>
<text x="442.5" y="66.88" font-size="3" text-anchor="middle" font-weight="bold" fill="#333" transform="rotate(-45 442.5 65.8)">10<tspan font-size="2" dy="-1.2">2</tspan></text>
<line x1="443.5" y1="60" x2="443.5" y2="61" stroke="#333" stroke-width="0.4"/>
<text x="447.5" y="66.88" font-size="3" text-anchor="middle" font-weight="bold" fill="#333" transform="rotate(-45 447.5 65.8)">10<tspan font-size="2" dy="-1.2">3</tspan></text>
<line x1="448.5" y1="60" x2="448.5" y2="61" stroke="#333" stroke-width="0.4"/>
<text x="456.9" y="66.88" font-size="3" text-anchor="middle" font-weight="bold" fill="#333" transform="rotate(-45 456.9 65.8)">10<tspan font-size="2" dy="-1.2">4</tspan></text>
<line x1="457.9" y1="60" x2="457.9" y2="61" stroke="#333" stroke-width="0.4"/>
<text x="464.8" y="66.88" font-size="3" text-anchor="middle" font-weight="bold" fill="#333" transform="rotate(-45 464.8 65.8)">10<tspan font-size="2" dy="-1.2">5</tspan></text>
<line x1="465.8" y1="60" x2="465.8" y2="61" stroke="#333" stroke-width="0.4"/>
<line x1="453.5" y1="48.4" x2="468" y2="48.4" stroke="#333" stroke-width="0.7"/>
<line x1="453.5" y1="47.4" x2="453.5" y2="49.4" stroke="#333" stroke-width="0.5"/>
<line x1="468" y1="47.4" x2="468" y2="49.4" stroke="#333" stroke-width="0.5"/>
<text x="460.2" y="44.96" font-size="4.9" text-anchor="middle" font-weight="bold" fill="#111" stroke="#111" stroke-width="0.18">64.0</text>
<path d="M353.5,103.2L353.50,103.20L353.84,103.20L354.17,103.20L354.51,103.20L354.84,103.20L355.18,103.20L355.51,103.20L355.85,103.20L356.18,103.19L356.52,103.19L356.85,103.19L357.19,103.18L357.52,103.17L357.86,103.15L358.19,103.13L358.53,103.09L358.86,103.05L359.20,103.00L359.53,102.93L359.87,102.84L360.20,102.72L360.54,102.59L360.87,102.43L361.21,102.24L361.54,102.02L361.88,101.77L362.21,101.45L362.55,101.05L362.88,100.49L363.22,99.67L363.55,98.48L363.89,96.77L364.22,94.43L364.56,91.45L364.89,87.94L365.23,84.22L365.56,80.76L365.90,78.11L366.23,76.74L366.57,76.94L366.90,78.69L367.24,81.71L367.57,85.48L367.91,89.45L368.24,93.14L368.58,96.24L368.91,98.63L369.25,100.32L369.59,101.45L369.92,102.15L370.26,102.58L370.59,102.82L370.93,102.96L371.26,103.05L371.60,103.10L371.93,103.13L372.27,103.16L372.60,103.17L372.94,103.18L373.27,103.19L373.61,103.19L373.94,103.19L374.28,103.20L374.61,103.20L374.95,103.20L375.28,103.20L375.62,103.20L375.95,103.20L376.29,103.20L376.62,103.20L376.96,103.20L377.29,103.20L377.63,103.20L377.96,103.20L378.30,103.20L378.63,103.20L378.97,103.20L379.30,103.20L379.64,103.20L379.97,103.20L380.31,103.20L380.64,103.20L380.98,103.20L381.31,103.20L381.65,103.20L381.98,103.20L382.32,103.20L382.65,103.20L382.99,103.20L383.32,103.20L383.66,103.20L383.99,103.20L384.33,103.20L384.66,103.20L385.00,103.20L385,103.2Z" fill="#707070" stroke="#1a1a1a" stroke-width="0.55"/>
<rect x="353" y="71.2" width="32.5" height="33.2" fill="none" stroke="#777" stroke-width="0.6"/>
<line x1="353" y1="71.2" x2="353" y2="104.4" stroke="#111" stroke-width="0.8"/>
<line x1="353" y1="104.4" x2="385.5" y2="104.4" stroke="#111" stroke-width="0.8"/>
<line x1="352" y1="103.4" x2="353" y2="103.4" stroke="#333" stroke-width="0.4"/>
<text x="350.2" y="104.34" font-size="2.6" text-anchor="middle" font-weight="bold" fill="#333">0</text>
<line x1="352" y1="97.56" x2="353" y2="97.56" stroke="#333" stroke-width="0.4"/>
<text x="350.2" y="98.5" font-size="2.6" text-anchor="middle" font-weight="bold" fill="#333">10</text>
<line x1="352" y1="91.72" x2="353" y2="91.72" stroke="#333" stroke-width="0.4"/>
<text x="350.2" y="92.66" font-size="2.6" text-anchor="middle" font-weight="bold" fill="#333">20</text>
<line x1="352" y1="85.88" x2="353" y2="85.88" stroke="#333" stroke-width="0.4"/>
<text x="350.2" y="86.82" font-size="2.6" text-anchor="middle" font-weight="bold" fill="#333">30</text>
<line x1="352" y1="80.04" x2="353" y2="80.04" stroke="#333" stroke-width="0.4"/>
<text x="350.2" y="80.98" font-size="2.6" text-anchor="middle" font-weight="bold" fill="#333">40</text>
<line x1="352" y1="74.2" x2="353" y2="74.2" stroke="#333" stroke-width="0.4"/>
<text x="350.2" y="75.14" font-size="2.6" text-anchor="middle" font-weight="bold" fill="#333">50</text>
<text x="357.3" y="111.28" font-size="3" text-anchor="middle" font-weight="bold" fill="#333" transform="rotate(-45 357.3 110.2)">10<tspan font-size="2" dy="-1.2">2</tspan></text>
<line x1="358.3" y1="104.4" x2="358.3" y2="105.4" stroke="#333" stroke-width="0.4"/>
<text x="362.3" y="111.28" font-size="3" text-anchor="middle" font-weight="bold" fill="#333" transform="rotate(-45 362.3 110.2)">10<tspan font-size="2" dy="-1.2">3</tspan></text>
<line x1="363.3" y1="104.4" x2="363.3" y2="105.4" stroke="#333" stroke-width="0.4"/>
<text x="371.7" y="111.28" font-size="3" text-anchor="middle" font-weight="bold" fill="#333" transform="rotate(-45 371.7 110.2)">10<tspan font-size="2" dy="-1.2">4</tspan></text>
<line x1="372.7" y1="104.4" x2="372.7" y2="105.4" stroke="#333" stroke-width="0.4"/>
<text x="379.6" y="111.28" font-size="3" text-anchor="middle" font-weight="bold" fill="#333" transform="rotate(-45 379.6 110.2)">10<tspan font-size="2" dy="-1.2">5</tspan></text>
<line x1="380.6" y1="104.4" x2="380.6" y2="105.4" stroke="#333" stroke-width="0.4"/>
<line x1="368" y1="92.6" x2="382.8" y2="92.6" stroke="#333" stroke-width="0.7"/>
<line x1="368" y1="91.6" x2="368" y2="93.6" stroke="#333" stroke-width="0.5"/>
<line x1="382.8" y1="91.6" x2="382.8" y2="93.6" stroke="#333" stroke-width="0.5"/>
<text x="376.8" y="88.96" font-size="4.9" text-anchor="middle" font-weight="bold" fill="#111" stroke="#111" stroke-width="0.18">2.29</text>
<path d="M396.5,103.2L396.50,103.20L396.83,103.20L397.17,103.20L397.50,103.20L397.83,103.20L398.17,103.20L398.50,103.20L398.83,103.20L399.17,103.20L399.50,103.20L399.83,103.19L400.17,103.19L400.50,103.19L400.83,103.18L401.17,103.17L401.50,103.15L401.83,103.13L402.17,103.11L402.50,103.07L402.83,103.02L403.17,102.96L403.50,102.88L403.83,102.78L404.17,102.67L404.50,102.53L404.83,102.37L405.17,102.18L405.50,101.96L405.83,101.70L406.17,101.35L406.50,100.84L406.83,100.02L407.17,98.70L407.50,96.62L407.83,93.60L408.17,89.65L408.50,85.09L408.83,80.60L409.17,77.07L409.50,75.36L409.83,75.91L410.17,78.59L410.50,82.77L410.83,87.53L411.17,92.01L411.50,95.69L411.83,98.36L412.17,100.13L412.50,101.21L412.83,101.86L413.17,102.24L413.50,102.48L413.83,102.65L414.17,102.78L414.50,102.88L414.83,102.96L415.17,103.02L415.50,103.07L415.83,103.11L416.17,103.13L416.50,103.15L416.83,103.17L417.17,103.18L417.50,103.19L417.83,103.19L418.17,103.19L418.50,103.20L418.83,103.20L419.17,103.20L419.50,103.20L419.83,103.20L420.17,103.20L420.50,103.20L420.83,103.20L421.17,103.20L421.50,103.20L421.83,103.20L422.17,103.20L422.50,103.20L422.83,103.20L423.17,103.20L423.50,103.20L423.83,103.20L424.17,103.20L424.50,103.20L424.83,103.20L425.17,103.20L425.50,103.20L425.83,103.20L426.17,103.20L426.50,103.20L426.83,103.20L427.17,103.20L427.50,103.20L427.5,103.2Z" fill="#707070" stroke="#1a1a1a" stroke-width="0.55"/>
<rect x="396" y="71.2" width="32" height="33.2" fill="none" stroke="#777" stroke-width="0.6"/>
<line x1="396" y1="71.2" x2="396" y2="104.4" stroke="#111" stroke-width="0.8"/>
<line x1="396" y1="104.4" x2="428" y2="104.4" stroke="#111" stroke-width="0.8"/>
<line x1="395" y1="103.4" x2="396" y2="103.4" stroke="#333" stroke-width="0.4"/>
<text x="393.2" y="104.34" font-size="2.6" text-anchor="middle" font-weight="bold" fill="#333">0</text>
<line x1="395" y1="97.56" x2="396" y2="97.56" stroke="#333" stroke-width="0.4"/>
<text x="393.2" y="98.5" font-size="2.6" text-anchor="middle" font-weight="bold" fill="#333">10</text>
<line x1="395" y1="91.72" x2="396" y2="91.72" stroke="#333" stroke-width="0.4"/>
<text x="393.2" y="92.66" font-size="2.6" text-anchor="middle" font-weight="bold" fill="#333">20</text>
<line x1="395" y1="85.88" x2="396" y2="85.88" stroke="#333" stroke-width="0.4"/>
<text x="393.2" y="86.82" font-size="2.6" text-anchor="middle" font-weight="bold" fill="#333">30</text>
<line x1="395" y1="80.04" x2="396" y2="80.04" stroke="#333" stroke-width="0.4"/>
<text x="393.2" y="80.98" font-size="2.6" text-anchor="middle" font-weight="bold" fill="#333">40</text>
<line x1="395" y1="74.2" x2="396" y2="74.2" stroke="#333" stroke-width="0.4"/>
<text x="393.2" y="75.14" font-size="2.6" text-anchor="middle" font-weight="bold" fill="#333">50</text>
<text x="400.3" y="111.28" font-size="3" text-anchor="middle" font-weight="bold" fill="#333" transform="rotate(-45 400.3 110.2)">10<tspan font-size="2" dy="-1.2">2</tspan></text>
<line x1="401.3" y1="104.4" x2="401.3" y2="105.4" stroke="#333" stroke-width="0.4"/>
<text x="405.3" y="111.28" font-size="3" text-anchor="middle" font-weight="bold" fill="#333" transform="rotate(-45 405.3 110.2)">10<tspan font-size="2" dy="-1.2">3</tspan></text>
<line x1="406.3" y1="104.4" x2="406.3" y2="105.4" stroke="#333" stroke-width="0.4"/>
<text x="414.7" y="111.28" font-size="3" text-anchor="middle" font-weight="bold" fill="#333" transform="rotate(-45 414.7 110.2)">10<tspan font-size="2" dy="-1.2">4</tspan></text>
<line x1="415.7" y1="104.4" x2="415.7" y2="105.4" stroke="#333" stroke-width="0.4"/>
<text x="422.6" y="111.28" font-size="3" text-anchor="middle" font-weight="bold" fill="#333" transform="rotate(-45 422.6 110.2)">10<tspan font-size="2" dy="-1.2">5</tspan></text>
<line x1="423.6" y1="104.4" x2="423.6" y2="105.4" stroke="#333" stroke-width="0.4"/>
<line x1="411" y1="92.6" x2="425.5" y2="92.6" stroke="#333" stroke-width="0.7"/>
<line x1="411" y1="91.6" x2="411" y2="93.6" stroke="#333" stroke-width="0.5"/>
<line x1="425.5" y1="91.6" x2="425.5" y2="93.6" stroke="#333" stroke-width="0.5"/>
<text x="420" y="89.06" font-size="4.9" text-anchor="middle" font-weight="bold" fill="#111" stroke="#111" stroke-width="0.18">5.68</text>
<path d="M438.7,103.2L438.70,103.19L439.04,103.19L439.37,103.18L439.71,103.18L440.04,103.17L440.38,103.16L440.71,103.14L441.05,103.12L441.38,103.09L441.72,103.06L442.05,103.02L442.39,102.96L442.73,102.90L443.06,102.82L443.40,102.72L443.73,102.61L444.07,102.48L444.40,102.33L444.74,102.15L445.07,101.94L445.41,101.70L445.75,101.39L446.08,101.01L446.42,100.51L446.75,99.82L447.09,98.90L447.42,97.66L447.76,96.04L448.09,94.02L448.43,91.64L448.76,89.00L449.10,86.30L449.44,83.81L449.77,81.81L450.11,80.56L450.44,80.25L450.78,80.91L451.11,82.46L451.45,84.71L451.78,87.36L452.12,90.14L452.45,92.79L452.79,95.13L453.13,97.07L453.46,98.60L453.80,99.76L454.13,100.60L454.47,101.21L454.80,101.65L455.14,101.97L455.47,102.21L455.81,102.40L456.15,102.55L456.48,102.68L456.82,102.78L457.15,102.87L457.49,102.94L457.82,103.00L458.16,103.04L458.49,103.08L458.83,103.11L459.16,103.13L459.50,103.15L459.84,103.16L460.17,103.17L460.51,103.18L460.84,103.19L461.18,103.19L461.51,103.19L461.85,103.20L462.18,103.20L462.52,103.20L462.85,103.20L463.19,103.20L463.53,103.20L463.86,103.20L464.20,103.20L464.53,103.20L464.87,103.20L465.20,103.20L465.54,103.20L465.87,103.20L466.21,103.20L466.55,103.20L466.88,103.20L467.22,103.20L467.55,103.20L467.89,103.20L468.22,103.20L468.56,103.20L468.89,103.20L469.23,103.20L469.56,103.20L469.90,103.20L469.9,103.2Z" fill="#707070" stroke="#1a1a1a" stroke-width="0.55"/>
<rect x="438.2" y="71.2" width="32.2" height="33.2" fill="none" stroke="#777" stroke-width="0.6"/>
<line x1="438.2" y1="71.2" x2="438.2" y2="104.4" stroke="#111" stroke-width="0.8"/>
<line x1="438.2" y1="104.4" x2="470.4" y2="104.4" stroke="#111" stroke-width="0.8"/>
<line x1="437.2" y1="103.4" x2="438.2" y2="103.4" stroke="#333" stroke-width="0.4"/>
<text x="435.4" y="104.34" font-size="2.6" text-anchor="middle" font-weight="bold" fill="#333">0</text>
<line x1="437.2" y1="97.56" x2="438.2" y2="97.56" stroke="#333" stroke-width="0.4"/>
<text x="435.4" y="98.5" font-size="2.6" text-anchor="middle" font-weight="bold" fill="#333">10</text>
<line x1="437.2" y1="91.72" x2="438.2" y2="91.72" stroke="#333" stroke-width="0.4"/>
<text x="435.4" y="92.66" font-size="2.6" text-anchor="middle" font-weight="bold" fill="#333">20</text>
<line x1="437.2" y1="85.88" x2="438.2" y2="85.88" stroke="#333" stroke-width="0.4"/>
<text x="435.4" y="86.82" font-size="2.6" text-anchor="middle" font-weight="bold" fill="#333">30</text>
<line x1="437.2" y1="80.04" x2="438.2" y2="80.04" stroke="#333" stroke-width="0.4"/>
<text x="435.4" y="80.98" font-size="2.6" text-anchor="middle" font-weight="bold" fill="#333">40</text>
<line x1="437.2" y1="74.2" x2="438.2" y2="74.2" stroke="#333" stroke-width="0.4"/>
<text x="435.4" y="75.14" font-size="2.6" text-anchor="middle" font-weight="bold" fill="#333">50</text>
<text x="442.5" y="111.28" font-size="3" text-anchor="middle" font-weight="bold" fill="#333" transform="rotate(-45 442.5 110.2)">10<tspan font-size="2" dy="-1.2">2</tspan></text>
<line x1="443.5" y1="104.4" x2="443.5" y2="105.4" stroke="#333" stroke-width="0.4"/>
<text x="447.5" y="111.28" font-size="3" text-anchor="middle" font-weight="bold" fill="#333" transform="rotate(-45 447.5 110.2)">10<tspan font-size="2" dy="-1.2">3</tspan></text>
<line x1="448.5" y1="104.4" x2="448.5" y2="105.4" stroke="#333" stroke-width="0.4"/>
<text x="456.9" y="111.28" font-size="3" text-anchor="middle" font-weight="bold" fill="#333" transform="rotate(-45 456.9 110.2)">10<tspan font-size="2" dy="-1.2">4</tspan></text>
<line x1="457.9" y1="104.4" x2="457.9" y2="105.4" stroke="#333" stroke-width="0.4"/>
<text x="464.8" y="111.28" font-size="3" text-anchor="middle" font-weight="bold" fill="#333" transform="rotate(-45 464.8 110.2)">10<tspan font-size="2" dy="-1.2">5</tspan></text>
<line x1="465.8" y1="104.4" x2="465.8" y2="105.4" stroke="#333" stroke-width="0.4"/>
<line x1="453" y1="92.6" x2="468" y2="92.6" stroke="#333" stroke-width="0.7"/>
<line x1="453" y1="91.6" x2="453" y2="93.6" stroke="#333" stroke-width="0.5"/>
<line x1="468" y1="91.6" x2="468" y2="93.6" stroke="#333" stroke-width="0.5"/>
<text x="460" y="89.06" font-size="4.9" text-anchor="middle" font-weight="bold" fill="#111" stroke="#111" stroke-width="0.18">8.01</text>
<path d="M353.5,157.8L353.50,157.78L353.84,157.77L354.17,157.76L354.51,157.74L354.84,157.71L355.18,157.67L355.51,157.62L355.85,157.56L356.18,157.47L356.52,157.37L356.85,157.24L357.19,157.08L357.52,156.89L357.86,156.68L358.19,156.43L358.53,156.16L358.86,155.87L359.20,155.55L359.53,155.22L359.87,154.87L360.20,154.49L360.54,154.04L360.87,153.45L361.21,152.62L361.54,151.44L361.88,149.75L362.21,147.48L362.55,144.61L362.88,141.33L363.22,137.95L363.55,134.95L363.89,132.85L364.22,132.06L364.56,132.79L364.89,134.92L365.23,138.13L365.56,141.90L365.90,145.71L366.23,149.13L366.57,151.93L366.90,154.03L367.24,155.49L367.57,156.43L367.91,157.01L368.24,157.35L368.58,157.54L368.91,157.64L369.25,157.70L369.59,157.74L369.92,157.76L370.26,157.77L370.59,157.78L370.93,157.79L371.26,157.79L371.60,157.80L371.93,157.80L372.27,157.80L372.60,157.80L372.94,157.80L373.27,157.80L373.61,157.80L373.94,157.80L374.28,157.80L374.61,157.80L374.95,157.80L375.28,157.80L375.62,157.80L375.95,157.80L376.29,157.80L376.62,157.80L376.96,157.80L377.29,157.80L377.63,157.80L377.96,157.80L378.30,157.80L378.63,157.80L378.97,157.80L379.30,157.80L379.64,157.80L379.97,157.80L380.31,157.80L380.64,157.80L380.98,157.80L381.31,157.80L381.65,157.80L381.98,157.80L382.32,157.80L382.65,157.80L382.99,157.80L383.32,157.80L383.66,157.80L383.99,157.80L384.33,157.80L384.66,157.80L385.00,157.80L385,157.8Z" fill="#707070" stroke="#1a1a1a" stroke-width="0.55"/>
<rect x="353" y="126.8" width="32.5" height="32.2" fill="none" stroke="#777" stroke-width="0.6"/>
<line x1="353" y1="126.8" x2="353" y2="159" stroke="#111" stroke-width="0.8"/>
<line x1="353" y1="159" x2="385.5" y2="159" stroke="#111" stroke-width="0.8"/>
<line x1="352" y1="158" x2="353" y2="158" stroke="#333" stroke-width="0.4"/>
<text x="350.2" y="158.94" font-size="2.6" text-anchor="middle" font-weight="bold" fill="#333">0</text>
<line x1="352" y1="152.36" x2="353" y2="152.36" stroke="#333" stroke-width="0.4"/>
<text x="350.2" y="153.3" font-size="2.6" text-anchor="middle" font-weight="bold" fill="#333">10</text>
<line x1="352" y1="146.72" x2="353" y2="146.72" stroke="#333" stroke-width="0.4"/>
<text x="350.2" y="147.66" font-size="2.6" text-anchor="middle" font-weight="bold" fill="#333">20</text>
<line x1="352" y1="141.08" x2="353" y2="141.08" stroke="#333" stroke-width="0.4"/>
<text x="350.2" y="142.02" font-size="2.6" text-anchor="middle" font-weight="bold" fill="#333">30</text>
<line x1="352" y1="135.44" x2="353" y2="135.44" stroke="#333" stroke-width="0.4"/>
<text x="350.2" y="136.38" font-size="2.6" text-anchor="middle" font-weight="bold" fill="#333">40</text>
<line x1="352" y1="129.8" x2="353" y2="129.8" stroke="#333" stroke-width="0.4"/>
<text x="350.2" y="130.74" font-size="2.6" text-anchor="middle" font-weight="bold" fill="#333">50</text>
<text x="357.3" y="165.88" font-size="3" text-anchor="middle" font-weight="bold" fill="#333" transform="rotate(-45 357.3 164.8)">10<tspan font-size="2" dy="-1.2">2</tspan></text>
<line x1="358.3" y1="159" x2="358.3" y2="160" stroke="#333" stroke-width="0.4"/>
<text x="362.3" y="165.88" font-size="3" text-anchor="middle" font-weight="bold" fill="#333" transform="rotate(-45 362.3 164.8)">10<tspan font-size="2" dy="-1.2">3</tspan></text>
<line x1="363.3" y1="159" x2="363.3" y2="160" stroke="#333" stroke-width="0.4"/>
<text x="371.7" y="165.88" font-size="3" text-anchor="middle" font-weight="bold" fill="#333" transform="rotate(-45 371.7 164.8)">10<tspan font-size="2" dy="-1.2">4</tspan></text>
<line x1="372.7" y1="159" x2="372.7" y2="160" stroke="#333" stroke-width="0.4"/>
<text x="379.6" y="165.88" font-size="3" text-anchor="middle" font-weight="bold" fill="#333" transform="rotate(-45 379.6 164.8)">10<tspan font-size="2" dy="-1.2">5</tspan></text>
<line x1="380.6" y1="159" x2="380.6" y2="160" stroke="#333" stroke-width="0.4"/>
<line x1="367" y1="145.1" x2="382.8" y2="145.1" stroke="#333" stroke-width="0.7"/>
<line x1="367" y1="144.1" x2="367" y2="146.1" stroke="#333" stroke-width="0.5"/>
<line x1="382.8" y1="144.1" x2="382.8" y2="146.1" stroke="#333" stroke-width="0.5"/>
<text x="375.5" y="135.76" font-size="4.9" text-anchor="middle" font-weight="bold" fill="#111" stroke="#111" stroke-width="0.18">0.42</text>
<path d="M396.5,157.8L396.50,157.80L396.83,157.80L397.17,157.80L397.50,157.79L397.83,157.79L398.17,157.78L398.50,157.77L398.83,157.75L399.17,157.71L399.50,157.67L399.83,157.60L400.17,157.51L400.50,157.39L400.83,157.24L401.17,157.05L401.50,156.83L401.83,156.57L402.17,156.28L402.50,155.98L402.83,155.68L403.17,155.39L403.50,155.15L403.83,154.94L404.17,154.80L404.50,154.70L404.83,154.60L405.17,154.41L405.50,154.00L405.83,153.14L406.17,151.62L406.50,149.25L406.83,146.04L407.17,142.28L407.50,138.52L407.83,135.49L408.17,133.82L408.50,133.81L408.83,135.31L409.17,137.79L409.50,140.59L409.83,143.13L410.17,145.08L410.50,146.34L410.83,147.00L411.17,147.15L411.50,146.84L411.83,146.05L412.17,144.76L412.50,143.00L412.83,140.94L413.17,138.93L413.50,137.38L413.83,136.73L414.17,137.21L414.50,138.85L414.83,141.37L415.17,144.38L415.50,147.42L415.83,150.15L416.17,152.35L416.50,154.00L416.83,155.16L417.17,155.94L417.50,156.46L417.83,156.81L418.17,157.06L418.50,157.24L418.83,157.38L419.17,157.49L419.50,157.57L419.83,157.64L420.17,157.69L420.50,157.72L420.83,157.75L421.17,157.76L421.50,157.78L421.83,157.78L422.17,157.79L422.50,157.79L422.83,157.80L423.17,157.80L423.50,157.80L423.83,157.80L424.17,157.80L424.50,157.80L424.83,157.80L425.17,157.80L425.50,157.80L425.83,157.80L426.17,157.80L426.50,157.80L426.83,157.80L427.17,157.80L427.50,157.80L427.5,157.8Z" fill="#707070" stroke="#1a1a1a" stroke-width="0.55"/>
<rect x="396" y="126.8" width="32" height="32.2" fill="none" stroke="#777" stroke-width="0.6"/>
<line x1="396" y1="126.8" x2="396" y2="159" stroke="#111" stroke-width="0.8"/>
<line x1="396" y1="159" x2="428" y2="159" stroke="#111" stroke-width="0.8"/>
<line x1="395" y1="158" x2="396" y2="158" stroke="#333" stroke-width="0.4"/>
<text x="393.2" y="158.94" font-size="2.6" text-anchor="middle" font-weight="bold" fill="#333">0</text>
<line x1="395" y1="152.36" x2="396" y2="152.36" stroke="#333" stroke-width="0.4"/>
<text x="393.2" y="153.3" font-size="2.6" text-anchor="middle" font-weight="bold" fill="#333">10</text>
<line x1="395" y1="146.72" x2="396" y2="146.72" stroke="#333" stroke-width="0.4"/>
<text x="393.2" y="147.66" font-size="2.6" text-anchor="middle" font-weight="bold" fill="#333">20</text>
<line x1="395" y1="141.08" x2="396" y2="141.08" stroke="#333" stroke-width="0.4"/>
<text x="393.2" y="142.02" font-size="2.6" text-anchor="middle" font-weight="bold" fill="#333">30</text>
<line x1="395" y1="135.44" x2="396" y2="135.44" stroke="#333" stroke-width="0.4"/>
<text x="393.2" y="136.38" font-size="2.6" text-anchor="middle" font-weight="bold" fill="#333">40</text>
<line x1="395" y1="129.8" x2="396" y2="129.8" stroke="#333" stroke-width="0.4"/>
<text x="393.2" y="130.74" font-size="2.6" text-anchor="middle" font-weight="bold" fill="#333">50</text>
<text x="400.3" y="165.88" font-size="3" text-anchor="middle" font-weight="bold" fill="#333" transform="rotate(-45 400.3 164.8)">10<tspan font-size="2" dy="-1.2">2</tspan></text>
<line x1="401.3" y1="159" x2="401.3" y2="160" stroke="#333" stroke-width="0.4"/>
<text x="405.3" y="165.88" font-size="3" text-anchor="middle" font-weight="bold" fill="#333" transform="rotate(-45 405.3 164.8)">10<tspan font-size="2" dy="-1.2">3</tspan></text>
<line x1="406.3" y1="159" x2="406.3" y2="160" stroke="#333" stroke-width="0.4"/>
<text x="414.7" y="165.88" font-size="3" text-anchor="middle" font-weight="bold" fill="#333" transform="rotate(-45 414.7 164.8)">10<tspan font-size="2" dy="-1.2">4</tspan></text>
<line x1="415.7" y1="159" x2="415.7" y2="160" stroke="#333" stroke-width="0.4"/>
<text x="422.6" y="165.88" font-size="3" text-anchor="middle" font-weight="bold" fill="#333" transform="rotate(-45 422.6 164.8)">10<tspan font-size="2" dy="-1.2">5</tspan></text>
<line x1="423.6" y1="159" x2="423.6" y2="160" stroke="#333" stroke-width="0.4"/>
<line x1="410" y1="145.3" x2="425.5" y2="145.3" stroke="#333" stroke-width="0.7"/>
<line x1="410" y1="144.3" x2="410" y2="146.3" stroke="#333" stroke-width="0.5"/>
<line x1="425.5" y1="144.3" x2="425.5" y2="146.3" stroke="#333" stroke-width="0.5"/>
<text x="419" y="135.56" font-size="4.9" text-anchor="middle" font-weight="bold" fill="#111" stroke="#111" stroke-width="0.18">55.1</text>
<path d="M438.7,157.8L438.70,157.80L439.04,157.80L439.37,157.80L439.71,157.80L440.04,157.80L440.38,157.80L440.71,157.79L441.05,157.79L441.38,157.78L441.72,157.76L442.05,157.74L442.39,157.70L442.73,157.65L443.06,157.57L443.40,157.45L443.73,157.30L444.07,157.09L444.40,156.82L444.74,156.47L445.07,156.03L445.41,155.50L445.75,154.88L446.08,154.17L446.42,153.36L446.75,152.41L447.09,151.28L447.42,149.80L447.76,147.79L448.09,145.02L448.43,141.44L448.76,137.30L449.10,133.24L449.44,130.18L449.77,128.93L450.11,129.86L450.44,132.65L450.78,136.49L451.11,140.39L451.45,143.63L451.78,145.89L452.12,147.20L452.45,147.80L452.79,147.95L453.13,147.85L453.46,147.65L453.80,147.44L454.13,147.29L454.47,147.23L454.80,147.29L455.14,147.49L455.47,147.85L455.81,148.34L456.15,148.96L456.48,149.68L456.82,150.47L457.15,151.31L457.49,152.16L457.82,152.99L458.16,153.77L458.49,154.49L458.83,155.13L459.16,155.69L459.50,156.16L459.84,156.55L460.17,156.87L460.51,157.12L460.84,157.31L461.18,157.45L461.51,157.56L461.85,157.64L462.18,157.69L462.52,157.73L462.85,157.75L463.19,157.77L463.53,157.78L463.86,157.79L464.20,157.79L464.53,157.80L464.87,157.80L465.20,157.80L465.54,157.80L465.87,157.80L466.21,157.80L466.55,157.80L466.88,157.80L467.22,157.80L467.55,157.80L467.89,157.80L468.22,157.80L468.56,157.80L468.89,157.80L469.23,157.80L469.56,157.80L469.90,157.80L469.9,157.8Z" fill="#707070" stroke="#1a1a1a" stroke-width="0.55"/>
<rect x="438.2" y="126.8" width="32.2" height="32.2" fill="none" stroke="#777" stroke-width="0.6"/>
<line x1="438.2" y1="126.8" x2="438.2" y2="159" stroke="#111" stroke-width="0.8"/>
<line x1="438.2" y1="159" x2="470.4" y2="159" stroke="#111" stroke-width="0.8"/>
<line x1="437.2" y1="158" x2="438.2" y2="158" stroke="#333" stroke-width="0.4"/>
<text x="435.4" y="158.94" font-size="2.6" text-anchor="middle" font-weight="bold" fill="#333">0</text>
<line x1="437.2" y1="152.36" x2="438.2" y2="152.36" stroke="#333" stroke-width="0.4"/>
<text x="435.4" y="153.3" font-size="2.6" text-anchor="middle" font-weight="bold" fill="#333">10</text>
<line x1="437.2" y1="146.72" x2="438.2" y2="146.72" stroke="#333" stroke-width="0.4"/>
<text x="435.4" y="147.66" font-size="2.6" text-anchor="middle" font-weight="bold" fill="#333">20</text>
<line x1="437.2" y1="141.08" x2="438.2" y2="141.08" stroke="#333" stroke-width="0.4"/>
<text x="435.4" y="142.02" font-size="2.6" text-anchor="middle" font-weight="bold" fill="#333">30</text>
<line x1="437.2" y1="135.44" x2="438.2" y2="135.44" stroke="#333" stroke-width="0.4"/>
<text x="435.4" y="136.38" font-size="2.6" text-anchor="middle" font-weight="bold" fill="#333">40</text>
<line x1="437.2" y1="129.8" x2="438.2" y2="129.8" stroke="#333" stroke-width="0.4"/>
<text x="435.4" y="130.74" font-size="2.6" text-anchor="middle" font-weight="bold" fill="#333">50</text>
<text x="442.5" y="165.88" font-size="3" text-anchor="middle" font-weight="bold" fill="#333" transform="rotate(-45 442.5 164.8)">10<tspan font-size="2" dy="-1.2">2</tspan></text>
<line x1="443.5" y1="159" x2="443.5" y2="160" stroke="#333" stroke-width="0.4"/>
<text x="447.5" y="165.88" font-size="3" text-anchor="middle" font-weight="bold" fill="#333" transform="rotate(-45 447.5 164.8)">10<tspan font-size="2" dy="-1.2">3</tspan></text>
<line x1="448.5" y1="159" x2="448.5" y2="160" stroke="#333" stroke-width="0.4"/>
<text x="456.9" y="165.88" font-size="3" text-anchor="middle" font-weight="bold" fill="#333" transform="rotate(-45 456.9 164.8)">10<tspan font-size="2" dy="-1.2">4</tspan></text>
<line x1="457.9" y1="159" x2="457.9" y2="160" stroke="#333" stroke-width="0.4"/>
<text x="464.8" y="165.88" font-size="3" text-anchor="middle" font-weight="bold" fill="#333" transform="rotate(-45 464.8 164.8)">10<tspan font-size="2" dy="-1.2">5</tspan></text>
<line x1="465.8" y1="159" x2="465.8" y2="160" stroke="#333" stroke-width="0.4"/>
<line x1="452.6" y1="145" x2="467.8" y2="145" stroke="#333" stroke-width="0.7"/>
<line x1="452.6" y1="144" x2="452.6" y2="146" stroke="#333" stroke-width="0.5"/>
<line x1="467.8" y1="144" x2="467.8" y2="146" stroke="#333" stroke-width="0.5"/>
<text x="460.5" y="135.76" font-size="4.9" text-anchor="middle" font-weight="bold" fill="#111" stroke="#111" stroke-width="0.18">40.3</text>
<path d="M353.5,200.3L353.50,200.30L353.84,200.30L354.17,200.30L354.51,200.30L354.84,200.30L355.18,200.30L355.51,200.30L355.85,200.29L356.18,200.29L356.52,200.28L356.85,200.27L357.19,200.26L357.52,200.23L357.86,200.20L358.19,200.14L358.53,200.07L358.86,199.98L359.20,199.85L359.53,199.69L359.87,199.49L360.20,199.25L360.54,198.97L360.87,198.64L361.21,198.27L361.54,197.84L361.88,197.31L362.21,196.59L362.55,195.53L362.88,193.91L363.22,191.51L363.55,188.17L363.89,184.02L364.22,179.52L364.56,175.44L364.89,172.72L365.23,172.07L365.56,173.73L365.90,177.33L366.23,182.06L366.57,186.97L366.90,191.29L367.24,194.64L367.57,196.95L367.91,198.40L368.24,199.24L368.58,199.70L368.91,199.95L369.25,200.09L369.59,200.17L369.92,200.21L370.26,200.25L370.59,200.27L370.93,200.28L371.26,200.29L371.60,200.29L371.93,200.30L372.27,200.30L372.60,200.30L372.94,200.30L373.27,200.30L373.61,200.30L373.94,200.30L374.28,200.30L374.61,200.30L374.95,200.30L375.28,200.30L375.62,200.30L375.95,200.30L376.29,200.30L376.62,200.30L376.96,200.30L377.29,200.30L377.63,200.30L377.96,200.30L378.30,200.30L378.63,200.30L378.97,200.30L379.30,200.30L379.64,200.30L379.97,200.30L380.31,200.30L380.64,200.30L380.98,200.30L381.31,200.30L381.65,200.30L381.98,200.30L382.32,200.30L382.65,200.30L382.99,200.30L383.32,200.30L383.66,200.30L383.99,200.30L384.33,200.30L384.66,200.30L385.00,200.30L385,200.3Z" fill="#707070" stroke="#1a1a1a" stroke-width="0.55"/>
<rect x="353" y="169.3" width="32.5" height="32.2" fill="none" stroke="#777" stroke-width="0.6"/>
<line x1="353" y1="169.3" x2="353" y2="201.5" stroke="#111" stroke-width="0.8"/>
<line x1="353" y1="201.5" x2="385.5" y2="201.5" stroke="#111" stroke-width="0.8"/>
<line x1="352" y1="200.5" x2="353" y2="200.5" stroke="#333" stroke-width="0.4"/>
<text x="350.2" y="201.44" font-size="2.6" text-anchor="middle" font-weight="bold" fill="#333">0</text>
<line x1="352" y1="194.86" x2="353" y2="194.86" stroke="#333" stroke-width="0.4"/>
<text x="350.2" y="195.8" font-size="2.6" text-anchor="middle" font-weight="bold" fill="#333">10</text>
<line x1="352" y1="189.22" x2="353" y2="189.22" stroke="#333" stroke-width="0.4"/>
<text x="350.2" y="190.16" font-size="2.6" text-anchor="middle" font-weight="bold" fill="#333">20</text>
<line x1="352" y1="183.58" x2="353" y2="183.58" stroke="#333" stroke-width="0.4"/>
<text x="350.2" y="184.52" font-size="2.6" text-anchor="middle" font-weight="bold" fill="#333">30</text>
<line x1="352" y1="177.94" x2="353" y2="177.94" stroke="#333" stroke-width="0.4"/>
<text x="350.2" y="178.88" font-size="2.6" text-anchor="middle" font-weight="bold" fill="#333">40</text>
<line x1="352" y1="172.3" x2="353" y2="172.3" stroke="#333" stroke-width="0.4"/>
<text x="350.2" y="173.24" font-size="2.6" text-anchor="middle" font-weight="bold" fill="#333">50</text>
<text x="357.3" y="208.38" font-size="3" text-anchor="middle" font-weight="bold" fill="#333" transform="rotate(-45 357.3 207.3)">10<tspan font-size="2" dy="-1.2">2</tspan></text>
<line x1="358.3" y1="201.5" x2="358.3" y2="202.5" stroke="#333" stroke-width="0.4"/>
<text x="362.3" y="208.38" font-size="3" text-anchor="middle" font-weight="bold" fill="#333" transform="rotate(-45 362.3 207.3)">10<tspan font-size="2" dy="-1.2">3</tspan></text>
<line x1="363.3" y1="201.5" x2="363.3" y2="202.5" stroke="#333" stroke-width="0.4"/>
<text x="371.7" y="208.38" font-size="3" text-anchor="middle" font-weight="bold" fill="#333" transform="rotate(-45 371.7 207.3)">10<tspan font-size="2" dy="-1.2">4</tspan></text>
<line x1="372.7" y1="201.5" x2="372.7" y2="202.5" stroke="#333" stroke-width="0.4"/>
<text x="379.6" y="208.38" font-size="3" text-anchor="middle" font-weight="bold" fill="#333" transform="rotate(-45 379.6 207.3)">10<tspan font-size="2" dy="-1.2">5</tspan></text>
<line x1="380.6" y1="201.5" x2="380.6" y2="202.5" stroke="#333" stroke-width="0.4"/>
<line x1="368" y1="187.3" x2="384" y2="187.3" stroke="#333" stroke-width="0.7"/>
<line x1="368" y1="186.3" x2="368" y2="188.3" stroke="#333" stroke-width="0.5"/>
<line x1="384" y1="186.3" x2="384" y2="188.3" stroke="#333" stroke-width="0.5"/>
<text x="376.5" y="178.06" font-size="4.9" text-anchor="middle" font-weight="bold" fill="#111" stroke="#111" stroke-width="0.18">0.085</text>
<path d="M396.5,200.3L396.50,200.25L396.83,200.23L397.17,200.20L397.50,200.17L397.83,200.12L398.17,200.06L398.50,199.98L398.83,199.88L399.17,199.76L399.50,199.61L399.83,199.44L400.17,199.24L400.50,199.02L400.83,198.77L401.17,198.50L401.50,198.20L401.83,197.88L402.17,197.55L402.50,197.20L402.83,196.84L403.17,196.46L403.50,196.08L403.83,195.68L404.17,195.27L404.50,194.85L404.83,194.42L405.17,193.97L405.50,193.51L405.83,193.04L406.17,192.57L406.50,192.09L406.83,191.62L407.17,191.17L407.50,190.73L407.83,190.33L408.17,189.96L408.50,189.63L408.83,189.34L409.17,189.11L409.50,188.93L409.83,188.80L410.17,188.73L410.50,188.73L410.83,188.78L411.17,188.89L411.50,189.05L411.83,189.22L412.17,189.37L412.50,189.43L412.83,189.30L413.17,188.90L413.50,188.17L413.83,187.08L414.17,185.72L414.50,184.27L414.83,183.00L415.17,182.21L415.50,182.15L415.83,182.95L416.17,184.57L416.50,186.79L416.83,189.33L417.17,191.88L417.50,194.18L417.83,196.07L418.17,197.51L418.50,198.53L418.83,199.21L419.17,199.63L419.50,199.90L419.83,200.05L420.17,200.14L420.50,200.20L420.83,200.23L421.17,200.26L421.50,200.27L421.83,200.28L422.17,200.29L422.50,200.29L422.83,200.29L423.17,200.30L423.50,200.30L423.83,200.30L424.17,200.30L424.50,200.30L424.83,200.30L425.17,200.30L425.50,200.30L425.83,200.30L426.17,200.30L426.50,200.30L426.83,200.30L427.17,200.30L427.50,200.30L427.5,200.3Z" fill="#707070" stroke="#1a1a1a" stroke-width="0.55"/>
<rect x="396" y="169.3" width="32" height="32.2" fill="none" stroke="#777" stroke-width="0.6"/>
<line x1="396" y1="169.3" x2="396" y2="201.5" stroke="#111" stroke-width="0.8"/>
<line x1="396" y1="201.5" x2="428" y2="201.5" stroke="#111" stroke-width="0.8"/>
<line x1="395" y1="200.5" x2="396" y2="200.5" stroke="#333" stroke-width="0.4"/>
<text x="393.2" y="201.44" font-size="2.6" text-anchor="middle" font-weight="bold" fill="#333">0</text>
<line x1="395" y1="194.86" x2="396" y2="194.86" stroke="#333" stroke-width="0.4"/>
<text x="393.2" y="195.8" font-size="2.6" text-anchor="middle" font-weight="bold" fill="#333">10</text>
<line x1="395" y1="189.22" x2="396" y2="189.22" stroke="#333" stroke-width="0.4"/>
<text x="393.2" y="190.16" font-size="2.6" text-anchor="middle" font-weight="bold" fill="#333">20</text>
<line x1="395" y1="183.58" x2="396" y2="183.58" stroke="#333" stroke-width="0.4"/>
<text x="393.2" y="184.52" font-size="2.6" text-anchor="middle" font-weight="bold" fill="#333">30</text>
<line x1="395" y1="177.94" x2="396" y2="177.94" stroke="#333" stroke-width="0.4"/>
<text x="393.2" y="178.88" font-size="2.6" text-anchor="middle" font-weight="bold" fill="#333">40</text>
<line x1="395" y1="172.3" x2="396" y2="172.3" stroke="#333" stroke-width="0.4"/>
<text x="393.2" y="173.24" font-size="2.6" text-anchor="middle" font-weight="bold" fill="#333">50</text>
<text x="400.3" y="208.38" font-size="3" text-anchor="middle" font-weight="bold" fill="#333" transform="rotate(-45 400.3 207.3)">10<tspan font-size="2" dy="-1.2">2</tspan></text>
<line x1="401.3" y1="201.5" x2="401.3" y2="202.5" stroke="#333" stroke-width="0.4"/>
<text x="405.3" y="208.38" font-size="3" text-anchor="middle" font-weight="bold" fill="#333" transform="rotate(-45 405.3 207.3)">10<tspan font-size="2" dy="-1.2">3</tspan></text>
<line x1="406.3" y1="201.5" x2="406.3" y2="202.5" stroke="#333" stroke-width="0.4"/>
<text x="414.7" y="208.38" font-size="3" text-anchor="middle" font-weight="bold" fill="#333" transform="rotate(-45 414.7 207.3)">10<tspan font-size="2" dy="-1.2">4</tspan></text>
<line x1="415.7" y1="201.5" x2="415.7" y2="202.5" stroke="#333" stroke-width="0.4"/>
<text x="422.6" y="208.38" font-size="3" text-anchor="middle" font-weight="bold" fill="#333" transform="rotate(-45 422.6 207.3)">10<tspan font-size="2" dy="-1.2">5</tspan></text>
<line x1="423.6" y1="201.5" x2="423.6" y2="202.5" stroke="#333" stroke-width="0.4"/>
<line x1="410.4" y1="187.4" x2="426" y2="187.4" stroke="#333" stroke-width="0.7"/>
<line x1="410.4" y1="186.4" x2="410.4" y2="188.4" stroke="#333" stroke-width="0.5"/>
<line x1="426" y1="186.4" x2="426" y2="188.4" stroke="#333" stroke-width="0.5"/>
<text x="418.5" y="177.96" font-size="4.9" text-anchor="middle" font-weight="bold" fill="#111" stroke="#111" stroke-width="0.18">81.9</text>
<path d="M438.7,200.3L438.70,200.24L439.04,200.22L439.37,200.18L439.71,200.13L440.04,200.06L440.38,199.98L440.71,199.86L441.05,199.72L441.38,199.55L441.72,199.34L442.05,199.09L442.39,198.80L442.73,198.47L443.06,198.10L443.40,197.69L443.73,197.24L444.07,196.77L444.40,196.27L444.74,195.74L445.07,195.20L445.41,194.64L445.75,194.07L446.08,193.48L446.42,192.89L446.75,192.28L447.09,191.67L447.42,191.07L447.76,190.47L448.09,189.89L448.43,189.35L448.76,188.86L449.10,188.43L449.44,188.08L449.77,187.83L450.11,187.68L450.44,187.64L450.78,187.70L451.11,187.85L451.45,188.07L451.78,188.33L452.12,188.58L452.45,188.76L452.79,188.78L453.13,188.56L453.46,188.06L453.80,187.24L454.13,186.17L454.47,185.01L454.80,183.97L455.14,183.29L455.47,183.21L455.81,183.83L456.15,185.14L456.48,186.98L456.82,189.12L457.15,191.30L457.49,193.31L457.82,195.02L458.16,196.37L458.49,197.39L458.83,198.14L459.16,198.67L459.50,199.05L459.84,199.34L460.17,199.55L460.51,199.72L460.84,199.85L461.18,199.96L461.51,200.04L461.85,200.10L462.18,200.15L462.52,200.19L462.85,200.22L463.19,200.24L463.53,200.26L463.86,200.27L464.20,200.28L464.53,200.29L464.87,200.29L465.20,200.29L465.54,200.30L465.87,200.30L466.21,200.30L466.55,200.30L466.88,200.30L467.22,200.30L467.55,200.30L467.89,200.30L468.22,200.30L468.56,200.30L468.89,200.30L469.23,200.30L469.56,200.30L469.90,200.30L469.9,200.3Z" fill="#707070" stroke="#1a1a1a" stroke-width="0.55"/>
<rect x="438.2" y="169.3" width="32.2" height="32.2" fill="none" stroke="#777" stroke-width="0.6"/>
<line x1="438.2" y1="169.3" x2="438.2" y2="201.5" stroke="#111" stroke-width="0.8"/>
<line x1="438.2" y1="201.5" x2="470.4" y2="201.5" stroke="#111" stroke-width="0.8"/>
<line x1="437.2" y1="200.5" x2="438.2" y2="200.5" stroke="#333" stroke-width="0.4"/>
<text x="435.4" y="201.44" font-size="2.6" text-anchor="middle" font-weight="bold" fill="#333">0</text>
<line x1="437.2" y1="194.86" x2="438.2" y2="194.86" stroke="#333" stroke-width="0.4"/>
<text x="435.4" y="195.8" font-size="2.6" text-anchor="middle" font-weight="bold" fill="#333">10</text>
<line x1="437.2" y1="189.22" x2="438.2" y2="189.22" stroke="#333" stroke-width="0.4"/>
<text x="435.4" y="190.16" font-size="2.6" text-anchor="middle" font-weight="bold" fill="#333">20</text>
<line x1="437.2" y1="183.58" x2="438.2" y2="183.58" stroke="#333" stroke-width="0.4"/>
<text x="435.4" y="184.52" font-size="2.6" text-anchor="middle" font-weight="bold" fill="#333">30</text>
<line x1="437.2" y1="177.94" x2="438.2" y2="177.94" stroke="#333" stroke-width="0.4"/>
<text x="435.4" y="178.88" font-size="2.6" text-anchor="middle" font-weight="bold" fill="#333">40</text>
<line x1="437.2" y1="172.3" x2="438.2" y2="172.3" stroke="#333" stroke-width="0.4"/>
<text x="435.4" y="173.24" font-size="2.6" text-anchor="middle" font-weight="bold" fill="#333">50</text>
<text x="442.5" y="208.38" font-size="3" text-anchor="middle" font-weight="bold" fill="#333" transform="rotate(-45 442.5 207.3)">10<tspan font-size="2" dy="-1.2">2</tspan></text>
<line x1="443.5" y1="201.5" x2="443.5" y2="202.5" stroke="#333" stroke-width="0.4"/>
<text x="447.5" y="208.38" font-size="3" text-anchor="middle" font-weight="bold" fill="#333" transform="rotate(-45 447.5 207.3)">10<tspan font-size="2" dy="-1.2">3</tspan></text>
<line x1="448.5" y1="201.5" x2="448.5" y2="202.5" stroke="#333" stroke-width="0.4"/>
<text x="456.9" y="208.38" font-size="3" text-anchor="middle" font-weight="bold" fill="#333" transform="rotate(-45 456.9 207.3)">10<tspan font-size="2" dy="-1.2">4</tspan></text>
<line x1="457.9" y1="201.5" x2="457.9" y2="202.5" stroke="#333" stroke-width="0.4"/>
<text x="464.8" y="208.38" font-size="3" text-anchor="middle" font-weight="bold" fill="#333" transform="rotate(-45 464.8 207.3)">10<tspan font-size="2" dy="-1.2">5</tspan></text>
<line x1="465.8" y1="201.5" x2="465.8" y2="202.5" stroke="#333" stroke-width="0.4"/>
<line x1="453" y1="187.4" x2="467.5" y2="187.4" stroke="#333" stroke-width="0.7"/>
<line x1="453" y1="186.4" x2="453" y2="188.4" stroke="#333" stroke-width="0.5"/>
<line x1="467.5" y1="186.4" x2="467.5" y2="188.4" stroke="#333" stroke-width="0.5"/>
<text x="460.5" y="177.86" font-size="4.9" text-anchor="middle" font-weight="bold" fill="#111" stroke="#111" stroke-width="0.18">79.1</text>
<line x1="348" y1="115.6" x2="477.4" y2="115.6" stroke="#444" stroke-width="0.8"/>
<polyline points="474.52,116.99 477.4,115.6 474.52,114.21" fill="none" stroke="#444" stroke-width="0.8"/>
<text x="413.4" y="122.29" font-size="5.8" text-anchor="middle" stroke="#1a1a1a" stroke-width="0.15">PD1</text>
<line x1="348" y1="211.8" x2="477.4" y2="211.8" stroke="#444" stroke-width="0.8"/>
<polyline points="474.52,213.19 477.4,211.8 474.52,210.41" fill="none" stroke="#444" stroke-width="0.8"/>
<text x="411.8" y="219.69" font-size="5.8" text-anchor="middle" stroke="#1a1a1a" stroke-width="0.15">CD137</text>
<text x="2" y="236.32" font-size="12" font-weight="bold" fill="#111" stroke="#111" stroke-width="0.19">C</text>
<text x="72.5" y="234.55" font-size="5.7" text-anchor="middle" stroke="#1a1a1a" stroke-width="0.15">Day 21</text>
<text x="120.5" y="234.55" font-size="5.7" text-anchor="middle" stroke="#1a1a1a" stroke-width="0.15">Day 28</text>
<text x="166.9" y="234.55" font-size="5.7" text-anchor="middle" stroke="#1a1a1a" stroke-width="0.15">Day 35</text>
<text x="212.75" y="234.55" font-size="5.7" text-anchor="middle" stroke="#1a1a1a" stroke-width="0.15">Day 42</text>
<text x="260.6" y="234.55" font-size="5.7" text-anchor="middle" stroke="#1a1a1a" stroke-width="0.15">Day 52</text>
<text x="26.5" y="260.66" font-size="6" text-anchor="middle" stroke="#1a1a1a" stroke-width="0.16">NT</text>
<text x="26.5" y="282.72" font-size="5.9" text-anchor="middle" stroke="#1a1a1a" stroke-width="0.16">WT</text>
<text x="26.5" y="289.42" font-size="5.9" text-anchor="middle" stroke="#1a1a1a" stroke-width="0.16">PSCA-CART</text>
<text x="26.5" y="312.72" font-size="5.9" text-anchor="middle" stroke="#1a1a1a" stroke-width="0.16">PD1-negative</text>
<text x="26.5" y="319.52" font-size="5.9" text-anchor="middle" stroke="#1a1a1a" stroke-width="0.16">PSCA-CART</text>
<rect x="49" y="242.2" width="47" height="26.2" fill="#1b1b1b"/>
<path d="M56.4,243.3 C57.07,243.63 57.07,244.34 57.34,245.3 C57.62,246.26 57.7,247.8 58.05,249.05 C58.4,250.3 59.14,251.34 59.46,252.8 C59.77,254.26 59.89,256.13 59.93,257.8 C59.97,259.47 59.95,261.55 59.69,262.8 C59.44,264.05 58.97,264.67 58.4,265.3 C57.83,265.92 57.11,266.34 56.28,266.55 C55.46,266.76 54.29,266.76 53.47,266.55 C52.64,266.34 51.92,265.92 51.35,265.3 C50.78,264.67 50.31,264.05 50.06,262.8 C49.8,261.55 49.78,259.47 49.82,257.8 C49.86,256.13 49.98,254.26 50.29,252.8 C50.61,251.34 51.35,250.3 51.7,249.05 C52.05,247.8 52.13,246.26 52.41,245.3 C52.68,244.34 52.68,243.63 53.35,243.3 C54.01,242.97 55.74,242.97 56.4,243.3Z" fill="url(#gMouse)"/>
<g fill="#8a8a8a" opacity="0.22"><ellipse cx="57.07" cy="249.98" rx="1.25" ry="2.06"/><ellipse cx="54.1" cy="263.7" rx="1.29" ry="2.01"/><ellipse cx="55.17" cy="262.27" rx="0.71" ry="1.16"/><ellipse cx="53.01" cy="259.27" rx="1.27" ry="1.23"/></g>
<path d="M51.94,266.57v1.31M57.81,266.57v1.31" stroke="#777" stroke-width="0.8"/>
<circle cx="54.88" cy="257.4" r="4" fill="url(#gGrn)"/>
<path d="M68.15,243.3 C68.82,243.63 68.82,244.34 69.09,245.3 C69.37,246.26 69.44,247.8 69.8,249.05 C70.15,250.3 70.89,251.34 71.21,252.8 C71.52,254.26 71.64,256.13 71.68,257.8 C71.72,259.47 71.7,261.55 71.44,262.8 C71.19,264.05 70.72,264.67 70.15,265.3 C69.58,265.92 68.86,266.34 68.03,266.55 C67.21,266.76 66.04,266.76 65.22,266.55 C64.39,266.34 63.67,265.92 63.1,265.3 C62.53,264.67 62.06,264.05 61.81,262.8 C61.55,261.55 61.53,259.47 61.57,257.8 C61.61,256.13 61.73,254.26 62.04,252.8 C62.36,251.34 63.1,250.3 63.45,249.05 C63.8,247.8 63.88,246.26 64.16,245.3 C64.43,244.34 64.43,243.63 65.1,243.3 C65.76,242.97 67.49,242.97 68.15,243.3Z" fill="url(#gMouse)"/>
<g fill="#8a8a8a" opacity="0.22"><ellipse cx="64.75" cy="262.52" rx="1.21" ry="1.15"/><ellipse cx="64.21" cy="252.18" rx="0.79" ry="1.01"/><ellipse cx="64.79" cy="261.66" rx="0.64" ry="1.55"/><ellipse cx="67.74" cy="259.6" rx="0.82" ry="1.16"/></g>
<path d="M63.69,266.57v1.31M69.56,266.57v1.31" stroke="#777" stroke-width="0.8"/>
<circle cx="66.62" cy="257.4" r="4.9" fill="url(#gYel)"/>
<path d="M79.9,243.3 C80.57,243.63 80.57,244.34 80.84,245.3 C81.12,246.26 81.19,247.8 81.55,249.05 C81.9,250.3 82.64,251.34 82.96,252.8 C83.27,254.26 83.39,256.13 83.43,257.8 C83.47,259.47 83.45,261.55 83.19,262.8 C82.94,264.05 82.47,264.67 81.9,265.3 C81.33,265.92 80.61,266.34 79.78,266.55 C78.96,266.76 77.79,266.76 76.97,266.55 C76.14,266.34 75.42,265.92 74.85,265.3 C74.28,264.67 73.81,264.05 73.56,262.8 C73.3,261.55 73.28,259.47 73.32,257.8 C73.36,256.13 73.48,254.26 73.79,252.8 C74.11,251.34 74.85,250.3 75.2,249.05 C75.56,247.8 75.63,246.26 75.91,245.3 C76.18,244.34 76.18,243.63 76.85,243.3 C77.51,242.97 79.24,242.97 79.9,243.3Z" fill="url(#gMouse)"/>
<g fill="#8a8a8a" opacity="0.22"><ellipse cx="77.99" cy="253.57" rx="0.91" ry="1.35"/><ellipse cx="78.25" cy="264.03" rx="0.61" ry="1.28"/><ellipse cx="80.18" cy="255.95" rx="1.15" ry="1.09"/><ellipse cx="80.91" cy="247.48" rx="1.15" ry="1.29"/></g>
<path d="M75.44,266.57v1.31M81.31,266.57v1.31" stroke="#777" stroke-width="0.8"/>
<circle cx="78.38" cy="257.4" r="4.9" fill="url(#gYel)"/>
<path d="M91.65,243.3 C92.32,243.63 92.32,244.34 92.59,245.3 C92.87,246.26 92.94,247.8 93.3,249.05 C93.65,250.3 94.39,251.34 94.71,252.8 C95.02,254.26 95.14,256.13 95.18,257.8 C95.22,259.47 95.2,261.55 94.94,262.8 C94.69,264.05 94.22,264.67 93.65,265.3 C93.08,265.92 92.36,266.34 91.53,266.55 C90.71,266.76 89.54,266.76 88.72,266.55 C87.89,266.34 87.17,265.92 86.6,265.3 C86.03,264.67 85.56,264.05 85.31,262.8 C85.05,261.55 85.03,259.47 85.07,257.8 C85.11,256.13 85.23,254.26 85.54,252.8 C85.86,251.34 86.6,250.3 86.95,249.05 C87.31,247.8 87.38,246.26 87.66,245.3 C87.93,244.34 87.93,243.63 88.6,243.3 C89.26,242.97 90.99,242.97 91.65,243.3Z" fill="url(#gMouse)"/>
<g fill="#8a8a8a" opacity="0.22"><ellipse cx="91.22" cy="261.14" rx="1.11" ry="2.15"/><ellipse cx="88.69" cy="261.95" rx="1.03" ry="1.22"/><ellipse cx="88.67" cy="248.98" rx="1.23" ry="1.4"/><ellipse cx="89.33" cy="249.52" rx="1.16" ry="1.67"/></g>
<path d="M87.19,266.57v1.31M93.06,266.57v1.31" stroke="#777" stroke-width="0.8"/>
<circle cx="90.12" cy="257.4" r="3" fill="url(#gCyn)"/>
<rect x="99" y="242.2" width="43" height="26.2" fill="#1b1b1b"/>
<path d="M105.77,243.3 C106.38,243.63 106.38,244.34 106.63,245.3 C106.88,246.26 106.95,247.8 107.28,249.05 C107.6,250.3 108.28,251.34 108.57,252.8 C108.85,254.26 108.96,256.13 109,257.8 C109.03,259.47 109.02,261.55 108.78,262.8 C108.55,264.05 108.12,264.67 107.6,265.3 C107.08,265.92 106.42,266.34 105.67,266.55 C104.91,266.76 103.84,266.76 103.08,266.55 C102.33,266.34 101.67,265.92 101.15,265.3 C100.63,264.67 100.2,264.05 99.97,262.8 C99.73,261.55 99.72,259.47 99.75,257.8 C99.79,256.13 99.9,254.26 100.18,252.8 C100.47,251.34 101.15,250.3 101.47,249.05 C101.8,247.8 101.87,246.26 102.12,245.3 C102.37,244.34 102.37,243.63 102.98,243.3 C103.59,242.97 105.16,242.97 105.77,243.3Z" fill="url(#gMouse)"/>
<g fill="#8a8a8a" opacity="0.22"><ellipse cx="102.98" cy="260.98" rx="0.98" ry="1.95"/><ellipse cx="105.35" cy="254.79" rx="0.85" ry="2.07"/><ellipse cx="102.87" cy="249.17" rx="1.2" ry="1.82"/><ellipse cx="106.39" cy="257.84" rx="1.3" ry="1.52"/></g>
<path d="M101.69,266.57v1.31M107.06,266.57v1.31" stroke="#777" stroke-width="0.8"/>
<circle cx="104.38" cy="257.4" r="3" fill="url(#gCyn)"/>
<path d="M116.52,243.3 C117.13,243.63 117.13,244.34 117.38,245.3 C117.63,246.26 117.7,247.8 118.03,249.05 C118.35,250.3 119.03,251.34 119.32,252.8 C119.6,254.26 119.71,256.13 119.75,257.8 C119.78,259.47 119.77,261.55 119.53,262.8 C119.3,264.05 118.87,264.67 118.35,265.3 C117.83,265.92 117.17,266.34 116.42,266.55 C115.66,266.76 114.59,266.76 113.83,266.55 C113.08,266.34 112.42,265.92 111.9,265.3 C111.38,264.67 110.95,264.05 110.72,262.8 C110.48,261.55 110.47,259.47 110.5,257.8 C110.54,256.13 110.65,254.26 110.93,252.8 C111.22,251.34 111.9,250.3 112.22,249.05 C112.55,247.8 112.62,246.26 112.87,245.3 C113.12,244.34 113.12,243.63 113.73,243.3 C114.34,242.97 115.91,242.97 116.52,243.3Z" fill="url(#gMouse)"/>
<g fill="#8a8a8a" opacity="0.22"><ellipse cx="113.06" cy="258.78" rx="0.78" ry="1.47"/><ellipse cx="114.5" cy="253" rx="0.96" ry="1.72"/><ellipse cx="113.09" cy="262.65" rx="0.84" ry="1.88"/><ellipse cx="114.4" cy="249.47" rx="0.83" ry="1.27"/></g>
<path d="M112.44,266.57v1.31M117.81,266.57v1.31" stroke="#777" stroke-width="0.8"/>
<circle cx="115.12" cy="257.4" r="5.5" fill="url(#gHot)"/>
<path d="M127.27,243.3 C127.88,243.63 127.88,244.34 128.13,245.3 C128.38,246.26 128.46,247.8 128.78,249.05 C129.1,250.3 129.78,251.34 130.07,252.8 C130.35,254.26 130.46,256.13 130.5,257.8 C130.53,259.47 130.52,261.55 130.28,262.8 C130.05,264.05 129.62,264.67 129.1,265.3 C128.58,265.92 127.92,266.34 127.17,266.55 C126.41,266.76 125.34,266.76 124.58,266.55 C123.83,266.34 123.17,265.92 122.65,265.3 C122.13,264.67 121.7,264.05 121.47,262.8 C121.23,261.55 121.22,259.47 121.25,257.8 C121.29,256.13 121.4,254.26 121.68,252.8 C121.97,251.34 122.65,250.3 122.97,249.05 C123.3,247.8 123.37,246.26 123.62,245.3 C123.87,244.34 123.87,243.63 124.48,243.3 C125.09,242.97 126.66,242.97 127.27,243.3Z" fill="url(#gMouse)"/>
<g fill="#8a8a8a" opacity="0.22"><ellipse cx="124.95" cy="258.82" rx="1.07" ry="1.23"/><ellipse cx="126.85" cy="257.93" rx="0.71" ry="1.7"/><ellipse cx="123.78" cy="258.69" rx="0.79" ry="1.71"/><ellipse cx="127.95" cy="259.47" rx="0.99" ry="1.68"/></g>
<path d="M123.19,266.57v1.31M128.56,266.57v1.31" stroke="#777" stroke-width="0.8"/>
<circle cx="125.88" cy="257.4" r="5.1" fill="url(#gHot)"/>
<path d="M138.02,243.3 C138.63,243.63 138.63,244.34 138.88,245.3 C139.13,246.26 139.21,247.8 139.53,249.05 C139.85,250.3 140.53,251.34 140.82,252.8 C141.1,254.26 141.21,256.13 141.25,257.8 C141.28,259.47 141.27,261.55 141.03,262.8 C140.8,264.05 140.37,264.67 139.85,265.3 C139.33,265.92 138.67,266.34 137.91,266.55 C137.16,266.76 136.09,266.76 135.34,266.55 C134.58,266.34 133.92,265.92 133.4,265.3 C132.88,264.67 132.45,264.05 132.22,262.8 C131.98,261.55 131.97,259.47 132,257.8 C132.04,256.13 132.15,254.26 132.43,252.8 C132.72,251.34 133.4,250.3 133.72,249.05 C134.04,247.8 134.12,246.26 134.37,245.3 C134.62,244.34 134.62,243.63 135.23,243.3 C135.84,242.97 137.41,242.97 138.02,243.3Z" fill="url(#gMouse)"/>
<g fill="#8a8a8a" opacity="0.22"><ellipse cx="135.43" cy="255.42" rx="0.64" ry="1.59"/><ellipse cx="138.84" cy="256.01" rx="1.12" ry="2.08"/><ellipse cx="136.94" cy="249.65" rx="1.29" ry="1.61"/><ellipse cx="136.28" cy="248.51" rx="1.11" ry="2.02"/></g>
<path d="M133.94,266.57v1.31M139.31,266.57v1.31" stroke="#777" stroke-width="0.8"/>
<circle cx="136.62" cy="257.4" r="3.6" fill="url(#gGrn)"/>
<rect x="145.5" y="242.2" width="42.8" height="26.2" fill="#1b1b1b"/>
<path d="M152.24,243.3 C152.85,243.63 152.85,244.34 153.1,245.3 C153.35,246.26 153.42,247.8 153.74,249.05 C154.06,250.3 154.74,251.34 155.02,252.8 C155.31,254.26 155.42,256.13 155.45,257.8 C155.49,259.47 155.47,261.55 155.24,262.8 C155.01,264.05 154.58,264.67 154.06,265.3 C153.54,265.92 152.88,266.34 152.13,266.55 C151.38,266.76 150.31,266.76 149.57,266.55 C148.82,266.34 148.16,265.92 147.64,265.3 C147.12,264.67 146.69,264.05 146.46,262.8 C146.23,261.55 146.21,259.47 146.25,257.8 C146.28,256.13 146.39,254.26 146.68,252.8 C146.96,251.34 147.64,250.3 147.96,249.05 C148.28,247.8 148.35,246.26 148.6,245.3 C148.85,244.34 148.85,243.63 149.46,243.3 C150.07,242.97 151.63,242.97 152.24,243.3Z" fill="url(#gMouse)"/>
<g fill="#8a8a8a" opacity="0.22"><ellipse cx="151" cy="250.59" rx="1.09" ry="1.23"/><ellipse cx="150.13" cy="251.51" rx="0.97" ry="1.78"/><ellipse cx="151.12" cy="250.25" rx="0.76" ry="1.26"/><ellipse cx="150.9" cy="263.85" rx="1.06" ry="2.03"/></g>
<path d="M148.17,266.57v1.31M153.53,266.57v1.31" stroke="#777" stroke-width="0.8"/>
<circle cx="150.85" cy="257.4" r="5.9" fill="url(#gHot)"/>
<path d="M162.94,243.3 C163.55,243.63 163.55,244.34 163.8,245.3 C164.05,246.26 164.12,247.8 164.44,249.05 C164.76,250.3 165.44,251.34 165.72,252.8 C166.01,254.26 166.12,256.13 166.15,257.8 C166.19,259.47 166.17,261.55 165.94,262.8 C165.71,264.05 165.28,264.67 164.76,265.3 C164.24,265.92 163.58,266.34 162.83,266.55 C162.09,266.76 161.02,266.76 160.27,266.55 C159.52,266.34 158.86,265.92 158.34,265.3 C157.82,264.67 157.39,264.05 157.16,262.8 C156.93,261.55 156.91,259.47 156.95,257.8 C156.98,256.13 157.09,254.26 157.38,252.8 C157.66,251.34 158.34,250.3 158.66,249.05 C158.98,247.8 159.05,246.26 159.3,245.3 C159.55,244.34 159.55,243.63 160.16,243.3 C160.77,242.97 162.33,242.97 162.94,243.3Z" fill="url(#gMouse)"/>
<g fill="#8a8a8a" opacity="0.22"><ellipse cx="159.62" cy="247.86" rx="0.98" ry="1.28"/><ellipse cx="160.76" cy="259.89" rx="0.67" ry="2.05"/><ellipse cx="161.14" cy="257.55" rx="0.63" ry="1.07"/><ellipse cx="162.37" cy="248.08" rx="1.05" ry="1.37"/></g>
<path d="M158.88,266.57v1.31M164.23,266.57v1.31" stroke="#777" stroke-width="0.8"/>
<circle cx="161.55" cy="257.4" r="5.9" fill="url(#gHot)"/>
<path d="M173.64,243.3 C174.25,243.63 174.25,244.34 174.5,245.3 C174.75,246.26 174.82,247.8 175.14,249.05 C175.46,250.3 176.14,251.34 176.42,252.8 C176.71,254.26 176.82,256.13 176.85,257.8 C176.89,259.47 176.87,261.55 176.64,262.8 C176.41,264.05 175.98,264.67 175.46,265.3 C174.94,265.92 174.28,266.34 173.53,266.55 C172.78,266.76 171.72,266.76 170.97,266.55 C170.22,266.34 169.56,265.92 169.04,265.3 C168.52,264.67 168.09,264.05 167.86,262.8 C167.63,261.55 167.61,259.47 167.65,257.8 C167.68,256.13 167.79,254.26 168.08,252.8 C168.36,251.34 169.04,250.3 169.36,249.05 C169.68,247.8 169.75,246.26 170,245.3 C170.25,244.34 170.25,243.63 170.86,243.3 C171.47,242.97 173.03,242.97 173.64,243.3Z" fill="url(#gMouse)"/>
<g fill="#8a8a8a" opacity="0.22"><ellipse cx="171.31" cy="263.71" rx="1.2" ry="1.37"/><ellipse cx="171.71" cy="252.46" rx="0.68" ry="2.14"/><ellipse cx="172.96" cy="259.61" rx="0.9" ry="1.25"/><ellipse cx="172.87" cy="251.62" rx="1.24" ry="2.13"/></g>
<path d="M169.57,266.57v1.31M174.93,266.57v1.31" stroke="#777" stroke-width="0.8"/>
<circle cx="172.25" cy="257.4" r="5.9" fill="url(#gHot)"/>
<path d="M184.34,243.3 C184.95,243.63 184.95,244.34 185.2,245.3 C185.45,246.26 185.52,247.8 185.84,249.05 C186.16,250.3 186.84,251.34 187.12,252.8 C187.41,254.26 187.52,256.13 187.55,257.8 C187.59,259.47 187.57,261.55 187.34,262.8 C187.11,264.05 186.68,264.67 186.16,265.3 C185.64,265.92 184.98,266.34 184.23,266.55 C183.49,266.76 182.42,266.76 181.67,266.55 C180.92,266.34 180.26,265.92 179.74,265.3 C179.22,264.67 178.79,264.05 178.56,262.8 C178.33,261.55 178.31,259.47 178.35,257.8 C178.38,256.13 178.49,254.26 178.78,252.8 C179.06,251.34 179.74,250.3 180.06,249.05 C180.38,247.8 180.45,246.26 180.7,245.3 C180.95,244.34 180.95,243.63 181.56,243.3 C182.17,242.97 183.73,242.97 184.34,243.3Z" fill="url(#gMouse)"/>
<g fill="#8a8a8a" opacity="0.22"><ellipse cx="185.15" cy="251.1" rx="0.81" ry="2.03"/><ellipse cx="182.79" cy="256.95" rx="1.1" ry="1.25"/><ellipse cx="182.78" cy="248.86" rx="0.62" ry="2.16"/><ellipse cx="184" cy="258.03" rx="0.74" ry="1.35"/></g>
<path d="M180.28,266.57v1.31M185.63,266.57v1.31" stroke="#777" stroke-width="0.8"/>
<circle cx="182.95" cy="257.4" r="4.2" fill="url(#gGrn)"/>
<rect x="191.7" y="242.2" width="42.1" height="26.2" fill="#1b1b1b"/>
<path d="M198.33,243.3 C198.93,243.63 198.93,244.34 199.17,245.3 C199.42,246.26 199.49,247.8 199.8,249.05 C200.12,250.3 200.79,251.34 201.07,252.8 C201.35,254.26 201.45,256.13 201.49,257.8 C201.52,259.47 201.51,261.55 201.28,262.8 C201.05,264.05 200.63,264.67 200.12,265.3 C199.61,265.92 198.96,266.34 198.23,266.55 C197.49,266.76 196.44,266.76 195.7,266.55 C194.96,266.34 194.31,265.92 193.8,265.3 C193.3,264.67 192.88,264.05 192.65,262.8 C192.42,261.55 192.4,259.47 192.44,257.8 C192.47,256.13 192.58,254.26 192.86,252.8 C193.14,251.34 193.8,250.3 194.12,249.05 C194.44,247.8 194.51,246.26 194.75,245.3 C195,244.34 195,243.63 195.59,243.3 C196.19,242.97 197.73,242.97 198.33,243.3Z" fill="url(#gMouse)"/>
<g fill="#8a8a8a" opacity="0.22"><ellipse cx="198.91" cy="264.37" rx="1.05" ry="2.11"/><ellipse cx="196.47" cy="261.81" rx="1.11" ry="1.27"/><ellipse cx="198.92" cy="247.68" rx="0.79" ry="1.59"/><ellipse cx="198.99" cy="253.44" rx="0.68" ry="1.87"/></g>
<path d="M194.33,266.57v1.31M199.59,266.57v1.31" stroke="#777" stroke-width="0.8"/>
<circle cx="196.96" cy="257.4" r="4.6" fill="url(#gGrn)"/>
<path d="M208.86,243.3 C209.45,243.63 209.45,244.34 209.7,245.3 C209.94,246.26 210.01,247.8 210.33,249.05 C210.65,250.3 211.31,251.34 211.59,252.8 C211.87,254.26 211.98,256.13 212.01,257.8 C212.05,259.47 212.03,261.55 211.8,262.8 C211.57,264.05 211.15,264.67 210.65,265.3 C210.14,265.92 209.49,266.34 208.75,266.55 C208.01,266.76 206.96,266.76 206.22,266.55 C205.49,266.34 204.84,265.92 204.33,265.3 C203.82,264.67 203.4,264.05 203.17,262.8 C202.94,261.55 202.93,259.47 202.96,257.8 C203,256.13 203.1,254.26 203.38,252.8 C203.66,251.34 204.33,250.3 204.65,249.05 C204.96,247.8 205.03,246.26 205.28,245.3 C205.52,244.34 205.52,243.63 206.12,243.3 C206.72,242.97 208.26,242.97 208.86,243.3Z" fill="url(#gMouse)"/>
<g fill="#8a8a8a" opacity="0.22"><ellipse cx="208.27" cy="249.48" rx="1.08" ry="1.47"/><ellipse cx="207.12" cy="263.46" rx="1.18" ry="2.17"/><ellipse cx="208.42" cy="254.02" rx="0.86" ry="1.17"/><ellipse cx="205.49" cy="256.16" rx="0.71" ry="1.7"/></g>
<path d="M204.86,266.57v1.31M210.12,266.57v1.31" stroke="#777" stroke-width="0.8"/>
<circle cx="207.49" cy="257.4" r="5.9" fill="url(#gHot)"/>
<path d="M219.38,243.3 C219.98,243.63 219.98,244.34 220.22,245.3 C220.47,246.26 220.54,247.8 220.85,249.05 C221.17,250.3 221.84,251.34 222.12,252.8 C222.4,254.26 222.5,256.13 222.54,257.8 C222.57,259.47 222.56,261.55 222.33,262.8 C222.1,264.05 221.68,264.67 221.17,265.3 C220.66,265.92 220.01,266.34 219.28,266.55 C218.54,266.76 217.49,266.76 216.75,266.55 C216.01,266.34 215.36,265.92 214.85,265.3 C214.35,264.67 213.93,264.05 213.7,262.8 C213.47,261.55 213.45,259.47 213.49,257.8 C213.52,256.13 213.63,254.26 213.91,252.8 C214.19,251.34 214.85,250.3 215.17,249.05 C215.49,247.8 215.56,246.26 215.8,245.3 C216.05,244.34 216.05,243.63 216.64,243.3 C217.24,242.97 218.78,242.97 219.38,243.3Z" fill="url(#gMouse)"/>
<g fill="#8a8a8a" opacity="0.22"><ellipse cx="216.68" cy="256" rx="1.23" ry="1.56"/><ellipse cx="219.98" cy="252.57" rx="0.69" ry="1.85"/><ellipse cx="217.71" cy="258.83" rx="1.01" ry="1.52"/><ellipse cx="217.38" cy="251.15" rx="1.29" ry="1.24"/></g>
<path d="M215.38,266.57v1.31M220.64,266.57v1.31" stroke="#777" stroke-width="0.8"/>
<circle cx="218.01" cy="257.4" r="5.9" fill="url(#gHot)"/>
<path d="M229.91,243.3 C230.5,243.63 230.5,244.34 230.75,245.3 C230.99,246.26 231.06,247.8 231.38,249.05 C231.7,250.3 232.36,251.34 232.64,252.8 C232.92,254.26 233.03,256.13 233.06,257.8 C233.1,259.47 233.08,261.55 232.85,262.8 C232.62,264.05 232.2,264.67 231.7,265.3 C231.19,265.92 230.54,266.34 229.8,266.55 C229.06,266.76 228.01,266.76 227.27,266.55 C226.54,266.34 225.89,265.92 225.38,265.3 C224.87,264.67 224.45,264.05 224.22,262.8 C223.99,261.55 223.98,259.47 224.01,257.8 C224.05,256.13 224.15,254.26 224.43,252.8 C224.71,251.34 225.38,250.3 225.7,249.05 C226.01,247.8 226.08,246.26 226.33,245.3 C226.57,244.34 226.57,243.63 227.17,243.3 C227.77,242.97 229.31,242.97 229.91,243.3Z" fill="url(#gMouse)"/>
<g fill="#8a8a8a" opacity="0.22"><ellipse cx="228.36" cy="262.64" rx="1.17" ry="2.18"/><ellipse cx="229.11" cy="252.29" rx="1.21" ry="1.08"/><ellipse cx="230.59" cy="255.06" rx="1.08" ry="2.07"/><ellipse cx="228.62" cy="261.41" rx="1.19" ry="1.61"/></g>
<path d="M225.91,266.57v1.31M231.17,266.57v1.31" stroke="#777" stroke-width="0.8"/>
<circle cx="228.54" cy="257.4" r="5.5" fill="url(#gHot)"/>
<clipPath id="clip52"><rect x="239" y="242.2" width="43.2" height="26.2"/></clipPath>
<g clip-path="url(#clip52)">
<rect x="239" y="242.2" width="43.2" height="26.2" fill="#1b1b2a"/>
<path d="M245.8,243.3 C246.42,243.63 246.42,244.34 246.67,245.3 C246.92,246.26 246.99,247.8 247.32,249.05 C247.64,250.3 248.32,251.34 248.61,252.8 C248.9,254.26 249.01,256.13 249.04,257.8 C249.08,259.47 249.06,261.55 248.83,262.8 C248.59,264.05 248.16,264.67 247.64,265.3 C247.12,265.92 246.45,266.34 245.7,266.55 C244.94,266.76 243.86,266.76 243.1,266.55 C242.35,266.34 241.68,265.92 241.16,265.3 C240.64,264.67 240.21,264.05 239.97,262.8 C239.74,261.55 239.72,259.47 239.76,257.8 C239.79,256.13 239.9,254.26 240.19,252.8 C240.48,251.34 241.16,250.3 241.48,249.05 C241.81,247.8 241.88,246.26 242.13,245.3 C242.38,244.34 242.38,243.63 243,243.3 C243.61,242.97 245.19,242.97 245.8,243.3Z" fill="#4a5cc8"/>
<path d="M256.6,243.3 C257.22,243.63 257.22,244.34 257.47,245.3 C257.72,246.26 257.79,247.8 258.12,249.05 C258.44,250.3 259.12,251.34 259.41,252.8 C259.7,254.26 259.81,256.13 259.84,257.8 C259.88,259.47 259.86,261.55 259.63,262.8 C259.39,264.05 258.96,264.67 258.44,265.3 C257.92,265.92 257.25,266.34 256.5,266.55 C255.74,266.76 254.66,266.76 253.9,266.55 C253.15,266.34 252.48,265.92 251.96,265.3 C251.44,264.67 251.01,264.05 250.77,262.8 C250.54,261.55 250.52,259.47 250.56,257.8 C250.59,256.13 250.7,254.26 250.99,252.8 C251.28,251.34 251.96,250.3 252.28,249.05 C252.61,247.8 252.68,246.26 252.93,245.3 C253.18,244.34 253.18,243.63 253.8,243.3 C254.41,242.97 255.99,242.97 256.6,243.3Z" fill="#4a5cc8"/>
<path d="M267.4,243.3 C268.02,243.63 268.02,244.34 268.27,245.3 C268.52,246.26 268.59,247.8 268.92,249.05 C269.24,250.3 269.92,251.34 270.21,252.8 C270.5,254.26 270.61,256.13 270.64,257.8 C270.68,259.47 270.66,261.55 270.43,262.8 C270.19,264.05 269.76,264.67 269.24,265.3 C268.72,265.92 268.05,266.34 267.3,266.55 C266.54,266.76 265.46,266.76 264.7,266.55 C263.95,266.34 263.28,265.92 262.76,265.3 C262.24,264.67 261.81,264.05 261.57,262.8 C261.34,261.55 261.32,259.47 261.36,257.8 C261.39,256.13 261.5,254.26 261.79,252.8 C262.08,251.34 262.76,250.3 263.08,249.05 C263.41,247.8 263.48,246.26 263.73,245.3 C263.98,244.34 263.98,243.63 264.6,243.3 C265.21,242.97 266.79,242.97 267.4,243.3Z" fill="#4a5cc8"/>
<path d="M278.2,243.3 C278.82,243.63 278.82,244.34 279.07,245.3 C279.32,246.26 279.39,247.8 279.72,249.05 C280.04,250.3 280.72,251.34 281.01,252.8 C281.3,254.26 281.41,256.13 281.44,257.8 C281.48,259.47 281.46,261.55 281.23,262.8 C280.99,264.05 280.56,264.67 280.04,265.3 C279.52,265.92 278.85,266.34 278.1,266.55 C277.34,266.76 276.26,266.76 275.5,266.55 C274.75,266.34 274.08,265.92 273.56,265.3 C273.04,264.67 272.61,264.05 272.37,262.8 C272.14,261.55 272.12,259.47 272.16,257.8 C272.19,256.13 272.3,254.26 272.59,252.8 C272.88,251.34 273.56,250.3 273.88,249.05 C274.21,247.8 274.28,246.26 274.53,245.3 C274.78,244.34 274.78,243.63 275.4,243.3 C276.01,242.97 277.59,242.97 278.2,243.3Z" fill="#4a5cc8"/>
<rect x="240" y="246.2" width="41.2" height="17.2" rx="3" fill="#2a30a0" opacity="0.5"/>
<circle cx="244.4" cy="257" r="7.4" fill="url(#gHot)"/>
<circle cx="255.2" cy="257" r="7.4" fill="url(#gHot)"/>
<circle cx="266" cy="257" r="7.4" fill="url(#gHot)"/>
<circle cx="276.8" cy="257" r="7.4" fill="url(#gHot)"/>
</g>
<rect x="49" y="271.7" width="47" height="26.3" fill="#1b1b1b"/>
<path d="M56.4,272.8 C57.07,273.14 57.07,273.85 57.34,274.81 C57.62,275.77 57.7,277.32 58.05,278.57 C58.4,279.83 59.14,280.88 59.46,282.34 C59.77,283.8 59.89,285.69 59.93,287.36 C59.97,289.03 59.95,291.12 59.69,292.38 C59.44,293.63 58.97,294.26 58.4,294.89 C57.83,295.52 57.11,295.94 56.28,296.15 C55.46,296.35 54.29,296.35 53.47,296.15 C52.64,295.94 51.92,295.52 51.35,294.89 C50.78,294.26 50.31,293.63 50.06,292.38 C49.8,291.12 49.78,289.03 49.82,287.36 C49.86,285.69 49.98,283.8 50.29,282.34 C50.61,280.88 51.35,279.83 51.7,278.57 C52.05,277.32 52.13,275.77 52.41,274.81 C52.68,273.85 52.68,273.14 53.35,272.8 C54.01,272.47 55.74,272.47 56.4,272.8Z" fill="url(#gMouse)"/>
<g fill="#8a8a8a" opacity="0.22"><ellipse cx="57" cy="281.2" rx="0.71" ry="1.85"/><ellipse cx="56.55" cy="284" rx="0.62" ry="1.52"/><ellipse cx="53.46" cy="278.19" rx="0.72" ry="1.72"/><ellipse cx="54.25" cy="290.58" rx="0.75" ry="1.72"/></g>
<path d="M51.94,296.16v1.32M57.81,296.16v1.32" stroke="#777" stroke-width="0.8"/>
<circle cx="54.88" cy="286.95" r="4.4" fill="url(#gGrn)"/>
<path d="M68.15,272.8 C68.82,273.14 68.82,273.85 69.09,274.81 C69.37,275.77 69.44,277.32 69.8,278.57 C70.15,279.83 70.89,280.88 71.21,282.34 C71.52,283.8 71.64,285.69 71.68,287.36 C71.72,289.03 71.7,291.12 71.44,292.38 C71.19,293.63 70.72,294.26 70.15,294.89 C69.58,295.52 68.86,295.94 68.03,296.15 C67.21,296.35 66.04,296.35 65.22,296.15 C64.39,295.94 63.67,295.52 63.1,294.89 C62.53,294.26 62.06,293.63 61.81,292.38 C61.55,291.12 61.53,289.03 61.57,287.36 C61.61,285.69 61.73,283.8 62.04,282.34 C62.36,280.88 63.1,279.83 63.45,278.57 C63.8,277.32 63.88,275.77 64.16,274.81 C64.43,273.85 64.43,273.14 65.1,272.8 C65.76,272.47 67.49,272.47 68.15,272.8Z" fill="url(#gMouse)"/>
<g fill="#8a8a8a" opacity="0.22"><ellipse cx="65.43" cy="281.81" rx="0.7" ry="1.89"/><ellipse cx="65.5" cy="288.42" rx="1.08" ry="1.66"/><ellipse cx="67.46" cy="288.62" rx="0.67" ry="1.93"/><ellipse cx="66.72" cy="290.88" rx="0.68" ry="1.07"/></g>
<path d="M63.69,296.16v1.32M69.56,296.16v1.32" stroke="#777" stroke-width="0.8"/>
<circle cx="66.62" cy="286.95" r="4.9" fill="url(#gYel)"/>
<path d="M79.9,272.8 C80.57,273.14 80.57,273.85 80.84,274.81 C81.12,275.77 81.19,277.32 81.55,278.57 C81.9,279.83 82.64,280.88 82.96,282.34 C83.27,283.8 83.39,285.69 83.43,287.36 C83.47,289.03 83.45,291.12 83.19,292.38 C82.94,293.63 82.47,294.26 81.9,294.89 C81.33,295.52 80.61,295.94 79.78,296.15 C78.96,296.35 77.79,296.35 76.97,296.15 C76.14,295.94 75.42,295.52 74.85,294.89 C74.28,294.26 73.81,293.63 73.56,292.38 C73.3,291.12 73.28,289.03 73.32,287.36 C73.36,285.69 73.48,283.8 73.79,282.34 C74.11,280.88 74.85,279.83 75.2,278.57 C75.56,277.32 75.63,275.77 75.91,274.81 C76.18,273.85 76.18,273.14 76.85,272.8 C77.51,272.47 79.24,272.47 79.9,272.8Z" fill="url(#gMouse)"/>
<g fill="#8a8a8a" opacity="0.22"><ellipse cx="79.13" cy="282.21" rx="1.29" ry="1.37"/><ellipse cx="78.12" cy="282.84" rx="0.99" ry="1.26"/><ellipse cx="80.76" cy="281.64" rx="1.24" ry="2.18"/><ellipse cx="77.54" cy="290.92" rx="1.23" ry="1.04"/></g>
<path d="M75.44,296.16v1.32M81.31,296.16v1.32" stroke="#777" stroke-width="0.8"/>
<circle cx="78.38" cy="286.95" r="4.8" fill="url(#gGrn)"/>
<path d="M91.65,272.8 C92.32,273.14 92.32,273.85 92.59,274.81 C92.87,275.77 92.94,277.32 93.3,278.57 C93.65,279.83 94.39,280.88 94.71,282.34 C95.02,283.8 95.14,285.69 95.18,287.36 C95.22,289.03 95.2,291.12 94.94,292.38 C94.69,293.63 94.22,294.26 93.65,294.89 C93.08,295.52 92.36,295.94 91.53,296.15 C90.71,296.35 89.54,296.35 88.72,296.15 C87.89,295.94 87.17,295.52 86.6,294.89 C86.03,294.26 85.56,293.63 85.31,292.38 C85.05,291.12 85.03,289.03 85.07,287.36 C85.11,285.69 85.23,283.8 85.54,282.34 C85.86,280.88 86.6,279.83 86.95,278.57 C87.31,277.32 87.38,275.77 87.66,274.81 C87.93,273.85 87.93,273.14 88.6,272.8 C89.26,272.47 90.99,272.47 91.65,272.8Z" fill="url(#gMouse)"/>
<g fill="#8a8a8a" opacity="0.22"><ellipse cx="92.56" cy="283.52" rx="0.84" ry="1.96"/><ellipse cx="88.41" cy="277.43" rx="1.28" ry="1.02"/><ellipse cx="90.84" cy="286.69" rx="0.89" ry="1.99"/><ellipse cx="91.76" cy="277.38" rx="1.03" ry="2.03"/></g>
<path d="M87.19,296.16v1.32M93.06,296.16v1.32" stroke="#777" stroke-width="0.8"/>
<circle cx="90.12" cy="286.95" r="4.4" fill="url(#gGrn)"/>
<rect x="99" y="271.7" width="43" height="26.3" fill="#1b1b1b"/>
<path d="M105.77,272.8 C106.38,273.14 106.38,273.85 106.63,274.81 C106.88,275.77 106.95,277.32 107.28,278.57 C107.6,279.83 108.28,280.88 108.57,282.34 C108.85,283.8 108.96,285.69 109,287.36 C109.03,289.03 109.02,291.12 108.78,292.38 C108.55,293.63 108.12,294.26 107.6,294.89 C107.08,295.52 106.42,295.94 105.67,296.15 C104.91,296.35 103.84,296.35 103.08,296.15 C102.33,295.94 101.67,295.52 101.15,294.89 C100.63,294.26 100.2,293.63 99.97,292.38 C99.73,291.12 99.72,289.03 99.75,287.36 C99.79,285.69 99.9,283.8 100.18,282.34 C100.47,280.88 101.15,279.83 101.47,278.57 C101.8,277.32 101.87,275.77 102.12,274.81 C102.37,273.85 102.37,273.14 102.98,272.8 C103.59,272.47 105.16,272.47 105.77,272.8Z" fill="url(#gMouse)"/>
<g fill="#8a8a8a" opacity="0.22"><ellipse cx="103.85" cy="279.09" rx="1" ry="1.02"/><ellipse cx="103.82" cy="285.5" rx="0.75" ry="1.7"/><ellipse cx="105.92" cy="285.03" rx="0.98" ry="1.23"/><ellipse cx="102.05" cy="285.03" rx="0.78" ry="1.76"/></g>
<path d="M101.69,296.16v1.32M107.06,296.16v1.32" stroke="#777" stroke-width="0.8"/>
<circle cx="104.38" cy="286.95" r="3.8" fill="url(#gGrn)"/>
<path d="M116.52,272.8 C117.13,273.14 117.13,273.85 117.38,274.81 C117.63,275.77 117.7,277.32 118.03,278.57 C118.35,279.83 119.03,280.88 119.32,282.34 C119.6,283.8 119.71,285.69 119.75,287.36 C119.78,289.03 119.77,291.12 119.53,292.38 C119.3,293.63 118.87,294.26 118.35,294.89 C117.83,295.52 117.17,295.94 116.42,296.15 C115.66,296.35 114.59,296.35 113.83,296.15 C113.08,295.94 112.42,295.52 111.9,294.89 C111.38,294.26 110.95,293.63 110.72,292.38 C110.48,291.12 110.47,289.03 110.5,287.36 C110.54,285.69 110.65,283.8 110.93,282.34 C111.22,280.88 111.9,279.83 112.22,278.57 C112.55,277.32 112.62,275.77 112.87,274.81 C113.12,273.85 113.12,273.14 113.73,272.8 C114.34,272.47 115.91,272.47 116.52,272.8Z" fill="url(#gMouse)"/>
<g fill="#8a8a8a" opacity="0.22"><ellipse cx="113.24" cy="284.7" rx="0.96" ry="1.94"/><ellipse cx="113.01" cy="292.16" rx="0.71" ry="2.1"/><ellipse cx="116.6" cy="292.18" rx="1.25" ry="1.1"/><ellipse cx="114.47" cy="287.09" rx="0.83" ry="1.79"/></g>
<path d="M112.44,296.16v1.32M117.81,296.16v1.32" stroke="#777" stroke-width="0.8"/>
<circle cx="115.12" cy="286.95" r="4.8" fill="url(#gHot)"/>
<path d="M127.27,272.8 C127.88,273.14 127.88,273.85 128.13,274.81 C128.38,275.77 128.46,277.32 128.78,278.57 C129.1,279.83 129.78,280.88 130.07,282.34 C130.35,283.8 130.46,285.69 130.5,287.36 C130.53,289.03 130.52,291.12 130.28,292.38 C130.05,293.63 129.62,294.26 129.1,294.89 C128.58,295.52 127.92,295.94 127.17,296.15 C126.41,296.35 125.34,296.35 124.58,296.15 C123.83,295.94 123.17,295.52 122.65,294.89 C122.13,294.26 121.7,293.63 121.47,292.38 C121.23,291.12 121.22,289.03 121.25,287.36 C121.29,285.69 121.4,283.8 121.68,282.34 C121.97,280.88 122.65,279.83 122.97,278.57 C123.3,277.32 123.37,275.77 123.62,274.81 C123.87,273.85 123.87,273.14 124.48,272.8 C125.09,272.47 126.66,272.47 127.27,272.8Z" fill="url(#gMouse)"/>
<g fill="#8a8a8a" opacity="0.22"><ellipse cx="127.63" cy="280.44" rx="0.82" ry="2.05"/><ellipse cx="125.07" cy="278.35" rx="1.12" ry="1.35"/><ellipse cx="126.27" cy="278.09" rx="1" ry="1.98"/><ellipse cx="125.61" cy="283.18" rx="1.14" ry="1.63"/></g>
<path d="M123.19,296.16v1.32M128.56,296.16v1.32" stroke="#777" stroke-width="0.8"/>
<circle cx="125.88" cy="286.95" r="3.6" fill="url(#gBlu)"/>
<path d="M138.02,272.8 C138.63,273.14 138.63,273.85 138.88,274.81 C139.13,275.77 139.21,277.32 139.53,278.57 C139.85,279.83 140.53,280.88 140.82,282.34 C141.1,283.8 141.21,285.69 141.25,287.36 C141.28,289.03 141.27,291.12 141.03,292.38 C140.8,293.63 140.37,294.26 139.85,294.89 C139.33,295.52 138.67,295.94 137.91,296.15 C137.16,296.35 136.09,296.35 135.34,296.15 C134.58,295.94 133.92,295.52 133.4,294.89 C132.88,294.26 132.45,293.63 132.22,292.38 C131.98,291.12 131.97,289.03 132,287.36 C132.04,285.69 132.15,283.8 132.43,282.34 C132.72,280.88 133.4,279.83 133.72,278.57 C134.04,277.32 134.12,275.77 134.37,274.81 C134.62,273.85 134.62,273.14 135.23,272.8 C135.84,272.47 137.41,272.47 138.02,272.8Z" fill="url(#gMouse)"/>
<g fill="#8a8a8a" opacity="0.22"><ellipse cx="136.51" cy="279.94" rx="1.08" ry="1.99"/><ellipse cx="134.26" cy="282.23" rx="1.06" ry="1.18"/><ellipse cx="138.32" cy="279.26" rx="0.77" ry="1.55"/><ellipse cx="134.91" cy="292.44" rx="0.95" ry="1.47"/></g>
<path d="M133.94,296.16v1.32M139.31,296.16v1.32" stroke="#777" stroke-width="0.8"/>
<circle cx="136.62" cy="286.95" r="4.4" fill="url(#gGrn)"/>
<rect x="145.5" y="271.7" width="42.8" height="26.3" fill="#1b1b1b"/>
<path d="M152.24,272.8 C152.85,273.14 152.85,273.85 153.1,274.81 C153.35,275.77 153.42,277.32 153.74,278.57 C154.06,279.83 154.74,280.88 155.02,282.34 C155.31,283.8 155.42,285.69 155.45,287.36 C155.49,289.03 155.47,291.12 155.24,292.38 C155.01,293.63 154.58,294.26 154.06,294.89 C153.54,295.52 152.88,295.94 152.13,296.15 C151.38,296.35 150.31,296.35 149.57,296.15 C148.82,295.94 148.16,295.52 147.64,294.89 C147.12,294.26 146.69,293.63 146.46,292.38 C146.23,291.12 146.21,289.03 146.25,287.36 C146.28,285.69 146.39,283.8 146.68,282.34 C146.96,280.88 147.64,279.83 147.96,278.57 C148.28,277.32 148.35,275.77 148.6,274.81 C148.85,273.85 148.85,273.14 149.46,272.8 C150.07,272.47 151.63,272.47 152.24,272.8Z" fill="url(#gMouse)"/>
<g fill="#8a8a8a" opacity="0.22"><ellipse cx="151.37" cy="289.74" rx="0.98" ry="1.78"/><ellipse cx="151.7" cy="284.42" rx="0.8" ry="1.15"/><ellipse cx="151.62" cy="283.42" rx="1.27" ry="1.33"/><ellipse cx="152.18" cy="284.48" rx="0.71" ry="1.47"/></g>
<path d="M148.17,296.16v1.32M153.53,296.16v1.32" stroke="#777" stroke-width="0.8"/>
<circle cx="150.85" cy="286.95" r="3.2" fill="url(#gCyn)"/>
<path d="M162.94,272.8 C163.55,273.14 163.55,273.85 163.8,274.81 C164.05,275.77 164.12,277.32 164.44,278.57 C164.76,279.83 165.44,280.88 165.72,282.34 C166.01,283.8 166.12,285.69 166.15,287.36 C166.19,289.03 166.17,291.12 165.94,292.38 C165.71,293.63 165.28,294.26 164.76,294.89 C164.24,295.52 163.58,295.94 162.83,296.15 C162.09,296.35 161.02,296.35 160.27,296.15 C159.52,295.94 158.86,295.52 158.34,294.89 C157.82,294.26 157.39,293.63 157.16,292.38 C156.93,291.12 156.91,289.03 156.95,287.36 C156.98,285.69 157.09,283.8 157.38,282.34 C157.66,280.88 158.34,279.83 158.66,278.57 C158.98,277.32 159.05,275.77 159.3,274.81 C159.55,273.85 159.55,273.14 160.16,272.8 C160.77,272.47 162.33,272.47 162.94,272.8Z" fill="url(#gMouse)"/>
<g fill="#8a8a8a" opacity="0.22"><ellipse cx="162.15" cy="288.47" rx="0.84" ry="1.27"/><ellipse cx="159.93" cy="287.09" rx="1.08" ry="2.08"/><ellipse cx="161.5" cy="282.61" rx="1.16" ry="1.76"/><ellipse cx="162.61" cy="278.06" rx="1.18" ry="1.47"/></g>
<path d="M158.88,296.16v1.32M164.23,296.16v1.32" stroke="#777" stroke-width="0.8"/>
<circle cx="161.55" cy="286.95" r="3.8" fill="url(#gGrn)"/>
<path d="M173.64,272.8 C174.25,273.14 174.25,273.85 174.5,274.81 C174.75,275.77 174.82,277.32 175.14,278.57 C175.46,279.83 176.14,280.88 176.42,282.34 C176.71,283.8 176.82,285.69 176.85,287.36 C176.89,289.03 176.87,291.12 176.64,292.38 C176.41,293.63 175.98,294.26 175.46,294.89 C174.94,295.52 174.28,295.94 173.53,296.15 C172.78,296.35 171.72,296.35 170.97,296.15 C170.22,295.94 169.56,295.52 169.04,294.89 C168.52,294.26 168.09,293.63 167.86,292.38 C167.63,291.12 167.61,289.03 167.65,287.36 C167.68,285.69 167.79,283.8 168.08,282.34 C168.36,280.88 169.04,279.83 169.36,278.57 C169.68,277.32 169.75,275.77 170,274.81 C170.25,273.85 170.25,273.14 170.86,272.8 C171.47,272.47 173.03,272.47 173.64,272.8Z" fill="url(#gMouse)"/>
<g fill="#8a8a8a" opacity="0.22"><ellipse cx="173.05" cy="278.21" rx="0.6" ry="1.04"/><ellipse cx="170.25" cy="278.45" rx="1.2" ry="1.66"/><ellipse cx="170.19" cy="294.03" rx="0.9" ry="1.82"/><ellipse cx="173.01" cy="283.04" rx="1.18" ry="2.16"/></g>
<path d="M169.57,296.16v1.32M174.93,296.16v1.32" stroke="#777" stroke-width="0.8"/>
<circle cx="172.25" cy="286.95" r="2.5" fill="url(#gBlu)"/>
<path d="M184.34,272.8 C184.95,273.14 184.95,273.85 185.2,274.81 C185.45,275.77 185.52,277.32 185.84,278.57 C186.16,279.83 186.84,280.88 187.12,282.34 C187.41,283.8 187.52,285.69 187.55,287.36 C187.59,289.03 187.57,291.12 187.34,292.38 C187.11,293.63 186.68,294.26 186.16,294.89 C185.64,295.52 184.98,295.94 184.23,296.15 C183.49,296.35 182.42,296.35 181.67,296.15 C180.92,295.94 180.26,295.52 179.74,294.89 C179.22,294.26 178.79,293.63 178.56,292.38 C178.33,291.12 178.31,289.03 178.35,287.36 C178.38,285.69 178.49,283.8 178.78,282.34 C179.06,280.88 179.74,279.83 180.06,278.57 C180.38,277.32 180.45,275.77 180.7,274.81 C180.95,273.85 180.95,273.14 181.56,272.8 C182.17,272.47 183.73,272.47 184.34,272.8Z" fill="url(#gMouse)"/>
<g fill="#8a8a8a" opacity="0.22"><ellipse cx="182.53" cy="283.02" rx="0.9" ry="2"/><ellipse cx="182.96" cy="278.7" rx="0.61" ry="1.79"/><ellipse cx="181.29" cy="290.07" rx="1.02" ry="1.25"/><ellipse cx="180.92" cy="288.41" rx="0.71" ry="2.18"/></g>
<path d="M180.28,296.16v1.32M185.63,296.16v1.32" stroke="#777" stroke-width="0.8"/>
<circle cx="182.95" cy="286.95" r="3.1" fill="url(#gBlu)"/>
<rect x="191.7" y="271.7" width="42.1" height="26.3" fill="#1b1b1b"/>
<path d="M198.33,272.8 C198.93,273.14 198.93,273.85 199.17,274.81 C199.42,275.77 199.49,277.32 199.8,278.57 C200.12,279.83 200.79,280.88 201.07,282.34 C201.35,283.8 201.45,285.69 201.49,287.36 C201.52,289.03 201.51,291.12 201.28,292.38 C201.05,293.63 200.63,294.26 200.12,294.89 C199.61,295.52 198.96,295.94 198.23,296.15 C197.49,296.35 196.44,296.35 195.7,296.15 C194.96,295.94 194.31,295.52 193.8,294.89 C193.3,294.26 192.88,293.63 192.65,292.38 C192.42,291.12 192.4,289.03 192.44,287.36 C192.47,285.69 192.58,283.8 192.86,282.34 C193.14,280.88 193.8,279.83 194.12,278.57 C194.44,277.32 194.51,275.77 194.75,274.81 C195,273.85 195,273.14 195.59,272.8 C196.19,272.47 197.73,272.47 198.33,272.8Z" fill="url(#gMouse)"/>
<g fill="#8a8a8a" opacity="0.22"><ellipse cx="197.03" cy="282.55" rx="1.16" ry="1.74"/><ellipse cx="197.7" cy="290.45" rx="0.92" ry="1.05"/><ellipse cx="195.39" cy="293.91" rx="1.04" ry="1.03"/><ellipse cx="195.33" cy="278.78" rx="0.78" ry="1.79"/></g>
<path d="M194.33,296.16v1.32M199.59,296.16v1.32" stroke="#777" stroke-width="0.8"/>
<circle cx="196.96" cy="286.95" r="3.1" fill="url(#gBlu)"/>
<path d="M208.86,272.8 C209.45,273.14 209.45,273.85 209.7,274.81 C209.94,275.77 210.01,277.32 210.33,278.57 C210.65,279.83 211.31,280.88 211.59,282.34 C211.87,283.8 211.98,285.69 212.01,287.36 C212.05,289.03 212.03,291.12 211.8,292.38 C211.57,293.63 211.15,294.26 210.65,294.89 C210.14,295.52 209.49,295.94 208.75,296.15 C208.01,296.35 206.96,296.35 206.22,296.15 C205.49,295.94 204.84,295.52 204.33,294.89 C203.82,294.26 203.4,293.63 203.17,292.38 C202.94,291.12 202.93,289.03 202.96,287.36 C203,285.69 203.1,283.8 203.38,282.34 C203.66,280.88 204.33,279.83 204.65,278.57 C204.96,277.32 205.03,275.77 205.28,274.81 C205.52,273.85 205.52,273.14 206.12,272.8 C206.72,272.47 208.26,272.47 208.86,272.8Z" fill="url(#gMouse)"/>
<g fill="#8a8a8a" opacity="0.22"><ellipse cx="209.47" cy="286.73" rx="0.95" ry="2.11"/><ellipse cx="205.78" cy="292.32" rx="1.05" ry="1.28"/><ellipse cx="208.73" cy="279.95" rx="1.01" ry="1.55"/><ellipse cx="205.67" cy="292.98" rx="0.74" ry="1.44"/></g>
<path d="M204.86,296.16v1.32M210.12,296.16v1.32" stroke="#777" stroke-width="0.8"/>
<circle cx="207.49" cy="286.95" r="2.8" fill="url(#gBlu)"/>
<path d="M219.38,272.8 C219.98,273.14 219.98,273.85 220.22,274.81 C220.47,275.77 220.54,277.32 220.85,278.57 C221.17,279.83 221.84,280.88 222.12,282.34 C222.4,283.8 222.5,285.69 222.54,287.36 C222.57,289.03 222.56,291.12 222.33,292.38 C222.1,293.63 221.68,294.26 221.17,294.89 C220.66,295.52 220.01,295.94 219.28,296.15 C218.54,296.35 217.49,296.35 216.75,296.15 C216.01,295.94 215.36,295.52 214.85,294.89 C214.35,294.26 213.93,293.63 213.7,292.38 C213.47,291.12 213.45,289.03 213.49,287.36 C213.52,285.69 213.63,283.8 213.91,282.34 C214.19,280.88 214.85,279.83 215.17,278.57 C215.49,277.32 215.56,275.77 215.8,274.81 C216.05,273.85 216.05,273.14 216.64,272.8 C217.24,272.47 218.78,272.47 219.38,272.8Z" fill="url(#gMouse)"/>
<g fill="#8a8a8a" opacity="0.22"><ellipse cx="218.65" cy="281.58" rx="0.67" ry="1.36"/><ellipse cx="217.44" cy="290.75" rx="0.98" ry="2.11"/><ellipse cx="216.34" cy="291.1" rx="1.29" ry="2.18"/><ellipse cx="217.08" cy="278.68" rx="1.13" ry="1.53"/></g>
<path d="M215.38,296.16v1.32M220.64,296.16v1.32" stroke="#777" stroke-width="0.8"/>
<circle cx="218.01" cy="286.95" r="2.8" fill="url(#gBlu)"/>
<path d="M229.91,272.8 C230.5,273.14 230.5,273.85 230.75,274.81 C230.99,275.77 231.06,277.32 231.38,278.57 C231.7,279.83 232.36,280.88 232.64,282.34 C232.92,283.8 233.03,285.69 233.06,287.36 C233.1,289.03 233.08,291.12 232.85,292.38 C232.62,293.63 232.2,294.26 231.7,294.89 C231.19,295.52 230.54,295.94 229.8,296.15 C229.06,296.35 228.01,296.35 227.27,296.15 C226.54,295.94 225.89,295.52 225.38,294.89 C224.87,294.26 224.45,293.63 224.22,292.38 C223.99,291.12 223.98,289.03 224.01,287.36 C224.05,285.69 224.15,283.8 224.43,282.34 C224.71,280.88 225.38,279.83 225.7,278.57 C226.01,277.32 226.08,275.77 226.33,274.81 C226.57,273.85 226.57,273.14 227.17,272.8 C227.77,272.47 229.31,272.47 229.91,272.8Z" fill="url(#gMouse)"/>
<g fill="#8a8a8a" opacity="0.22"><ellipse cx="229.19" cy="278.63" rx="1.27" ry="1.47"/><ellipse cx="230.69" cy="277.09" rx="0.81" ry="1.56"/><ellipse cx="227.93" cy="280.54" rx="1.29" ry="1.66"/><ellipse cx="230.56" cy="285.83" rx="1.15" ry="1.77"/></g>
<path d="M225.91,296.16v1.32M231.17,296.16v1.32" stroke="#777" stroke-width="0.8"/>
<circle cx="228.54" cy="286.95" r="4.2" fill="url(#gGrn)"/>
<rect x="239" y="271.7" width="43.2" height="26.3" fill="#1b1b1b"/>
<path d="M245.8,272.8 C246.42,273.14 246.42,273.85 246.67,274.81 C246.92,275.77 246.99,277.32 247.32,278.57 C247.64,279.83 248.32,280.88 248.61,282.34 C248.9,283.8 249.01,285.69 249.04,287.36 C249.08,289.03 249.06,291.12 248.83,292.38 C248.59,293.63 248.16,294.26 247.64,294.89 C247.12,295.52 246.45,295.94 245.7,296.15 C244.94,296.35 243.86,296.35 243.1,296.15 C242.35,295.94 241.68,295.52 241.16,294.89 C240.64,294.26 240.21,293.63 239.97,292.38 C239.74,291.12 239.72,289.03 239.76,287.36 C239.79,285.69 239.9,283.8 240.19,282.34 C240.48,280.88 241.16,279.83 241.48,278.57 C241.81,277.32 241.88,275.77 242.13,274.81 C242.38,273.85 242.38,273.14 243,272.8 C243.61,272.47 245.19,272.47 245.8,272.8Z" fill="url(#gMouse)"/>
<g fill="#8a8a8a" opacity="0.22"><ellipse cx="242.68" cy="288.9" rx="1.12" ry="1.86"/><ellipse cx="244.36" cy="277.79" rx="1.18" ry="2.16"/><ellipse cx="242.34" cy="277.69" rx="0.9" ry="1.88"/><ellipse cx="244.16" cy="290.95" rx="1.22" ry="1.71"/></g>
<path d="M241.7,296.16v1.32M247.1,296.16v1.32" stroke="#777" stroke-width="0.8"/>
<circle cx="244.4" cy="286.95" r="3.6" fill="url(#gBlu)"/>
<path d="M256.6,272.8 C257.22,273.14 257.22,273.85 257.47,274.81 C257.72,275.77 257.79,277.32 258.12,278.57 C258.44,279.83 259.12,280.88 259.41,282.34 C259.7,283.8 259.81,285.69 259.84,287.36 C259.88,289.03 259.86,291.12 259.63,292.38 C259.39,293.63 258.96,294.26 258.44,294.89 C257.92,295.52 257.25,295.94 256.5,296.15 C255.74,296.35 254.66,296.35 253.9,296.15 C253.15,295.94 252.48,295.52 251.96,294.89 C251.44,294.26 251.01,293.63 250.77,292.38 C250.54,291.12 250.52,289.03 250.56,287.36 C250.59,285.69 250.7,283.8 250.99,282.34 C251.28,280.88 251.96,279.83 252.28,278.57 C252.61,277.32 252.68,275.77 252.93,274.81 C253.18,273.85 253.18,273.14 253.8,272.8 C254.41,272.47 255.99,272.47 256.6,272.8Z" fill="url(#gMouse)"/>
<g fill="#8a8a8a" opacity="0.22"><ellipse cx="255.75" cy="287.97" rx="0.86" ry="1.24"/><ellipse cx="257.15" cy="281.4" rx="1.18" ry="1.62"/><ellipse cx="256.34" cy="290.42" rx="1.22" ry="2.01"/><ellipse cx="254.38" cy="291.22" rx="1.21" ry="1.77"/></g>
<path d="M252.5,296.16v1.32M257.9,296.16v1.32" stroke="#777" stroke-width="0.8"/>
<circle cx="255.2" cy="286.95" r="4.4" fill="url(#gGrn)"/>
<path d="M267.4,272.8 C268.02,273.14 268.02,273.85 268.27,274.81 C268.52,275.77 268.59,277.32 268.92,278.57 C269.24,279.83 269.92,280.88 270.21,282.34 C270.5,283.8 270.61,285.69 270.64,287.36 C270.68,289.03 270.66,291.12 270.43,292.38 C270.19,293.63 269.76,294.26 269.24,294.89 C268.72,295.52 268.05,295.94 267.3,296.15 C266.54,296.35 265.46,296.35 264.7,296.15 C263.95,295.94 263.28,295.52 262.76,294.89 C262.24,294.26 261.81,293.63 261.57,292.38 C261.34,291.12 261.32,289.03 261.36,287.36 C261.39,285.69 261.5,283.8 261.79,282.34 C262.08,280.88 262.76,279.83 263.08,278.57 C263.41,277.32 263.48,275.77 263.73,274.81 C263.98,273.85 263.98,273.14 264.6,272.8 C265.21,272.47 266.79,272.47 267.4,272.8Z" fill="url(#gMouse)"/>
<g fill="#8a8a8a" opacity="0.22"><ellipse cx="264.57" cy="293.8" rx="1.16" ry="1.46"/><ellipse cx="265.06" cy="290.89" rx="1.06" ry="1.45"/><ellipse cx="267.93" cy="293.88" rx="1.07" ry="2"/><ellipse cx="266.46" cy="282.17" rx="1.16" ry="1.84"/></g>
<path d="M263.3,296.16v1.32M268.7,296.16v1.32" stroke="#777" stroke-width="0.8"/>
<circle cx="266" cy="286.95" r="3.8" fill="url(#gGrn)"/>
<path d="M278.2,272.8 C278.82,273.14 278.82,273.85 279.07,274.81 C279.32,275.77 279.39,277.32 279.72,278.57 C280.04,279.83 280.72,280.88 281.01,282.34 C281.3,283.8 281.41,285.69 281.44,287.36 C281.48,289.03 281.46,291.12 281.23,292.38 C280.99,293.63 280.56,294.26 280.04,294.89 C279.52,295.52 278.85,295.94 278.1,296.15 C277.34,296.35 276.26,296.35 275.5,296.15 C274.75,295.94 274.08,295.52 273.56,294.89 C273.04,294.26 272.61,293.63 272.37,292.38 C272.14,291.12 272.12,289.03 272.16,287.36 C272.19,285.69 272.3,283.8 272.59,282.34 C272.88,280.88 273.56,279.83 273.88,278.57 C274.21,277.32 274.28,275.77 274.53,274.81 C274.78,273.85 274.78,273.14 275.4,272.8 C276.01,272.47 277.59,272.47 278.2,272.8Z" fill="url(#gMouse)"/>
<g fill="#8a8a8a" opacity="0.22"><ellipse cx="278.61" cy="282.91" rx="1.26" ry="1.83"/><ellipse cx="277.99" cy="291.36" rx="0.92" ry="2.01"/><ellipse cx="278.66" cy="293.56" rx="1.02" ry="1.07"/><ellipse cx="275.57" cy="280.33" rx="0.7" ry="1.45"/></g>
<path d="M274.1,296.16v1.32M279.5,296.16v1.32" stroke="#777" stroke-width="0.8"/>
<circle cx="276.8" cy="286.95" r="3.8" fill="url(#gGrn)"/>
<rect x="49" y="301.4" width="47" height="26.3" fill="#1b1b1b"/>
<path d="M56.4,302.5 C57.07,302.84 57.07,303.55 57.34,304.51 C57.62,305.47 57.7,307.02 58.05,308.27 C58.4,309.53 59.14,310.58 59.46,312.04 C59.77,313.5 59.89,315.39 59.93,317.06 C59.97,318.73 59.95,320.83 59.69,322.08 C59.44,323.34 58.97,323.96 58.4,324.59 C57.83,325.22 57.11,325.64 56.28,325.85 C55.46,326.05 54.29,326.05 53.47,325.85 C52.64,325.64 51.92,325.22 51.35,324.59 C50.78,323.96 50.31,323.34 50.06,322.08 C49.8,320.83 49.78,318.73 49.82,317.06 C49.86,315.39 49.98,313.5 50.29,312.04 C50.61,310.58 51.35,309.53 51.7,308.27 C52.05,307.02 52.13,305.47 52.41,304.51 C52.68,303.55 52.68,302.84 53.35,302.5 C54.01,302.17 55.74,302.17 56.4,302.5Z" fill="url(#gMouse)"/>
<g fill="#8a8a8a" opacity="0.22"><ellipse cx="55.33" cy="323.58" rx="0.66" ry="2.15"/><ellipse cx="55.12" cy="320.35" rx="1.18" ry="1.42"/><ellipse cx="55.92" cy="319.38" rx="0.83" ry="2.11"/><ellipse cx="56.85" cy="306.85" rx="1.2" ry="1.46"/></g>
<path d="M51.94,325.86v1.32M57.81,325.86v1.32" stroke="#777" stroke-width="0.8"/>
<circle cx="54.88" cy="316.65" r="4.5" fill="url(#gBlu)"/>
<path d="M68.15,302.5 C68.82,302.84 68.82,303.55 69.09,304.51 C69.37,305.47 69.44,307.02 69.8,308.27 C70.15,309.53 70.89,310.58 71.21,312.04 C71.52,313.5 71.64,315.39 71.68,317.06 C71.72,318.73 71.7,320.83 71.44,322.08 C71.19,323.34 70.72,323.96 70.15,324.59 C69.58,325.22 68.86,325.64 68.03,325.85 C67.21,326.05 66.04,326.05 65.22,325.85 C64.39,325.64 63.67,325.22 63.1,324.59 C62.53,323.96 62.06,323.34 61.81,322.08 C61.55,320.83 61.53,318.73 61.57,317.06 C61.61,315.39 61.73,313.5 62.04,312.04 C62.36,310.58 63.1,309.53 63.45,308.27 C63.8,307.02 63.88,305.47 64.16,304.51 C64.43,303.55 64.43,302.84 65.1,302.5 C65.76,302.17 67.49,302.17 68.15,302.5Z" fill="url(#gMouse)"/>
<g fill="#8a8a8a" opacity="0.22"><ellipse cx="68.99" cy="307.66" rx="1.19" ry="1.61"/><ellipse cx="65.47" cy="315.06" rx="1.18" ry="1.51"/><ellipse cx="66.4" cy="321.77" rx="1.19" ry="1.26"/><ellipse cx="66.68" cy="313.51" rx="0.73" ry="1.24"/></g>
<path d="M63.69,325.86v1.32M69.56,325.86v1.32" stroke="#777" stroke-width="0.8"/>
<circle cx="66.62" cy="316.65" r="3.8" fill="url(#gGrn)"/>
<path d="M79.9,302.5 C80.57,302.84 80.57,303.55 80.84,304.51 C81.12,305.47 81.19,307.02 81.55,308.27 C81.9,309.53 82.64,310.58 82.96,312.04 C83.27,313.5 83.39,315.39 83.43,317.06 C83.47,318.73 83.45,320.83 83.19,322.08 C82.94,323.34 82.47,323.96 81.9,324.59 C81.33,325.22 80.61,325.64 79.78,325.85 C78.96,326.05 77.79,326.05 76.97,325.85 C76.14,325.64 75.42,325.22 74.85,324.59 C74.28,323.96 73.81,323.34 73.56,322.08 C73.3,320.83 73.28,318.73 73.32,317.06 C73.36,315.39 73.48,313.5 73.79,312.04 C74.11,310.58 74.85,309.53 75.2,308.27 C75.56,307.02 75.63,305.47 75.91,304.51 C76.18,303.55 76.18,302.84 76.85,302.5 C77.51,302.17 79.24,302.17 79.9,302.5Z" fill="url(#gMouse)"/>
<g fill="#8a8a8a" opacity="0.22"><ellipse cx="76.37" cy="309.52" rx="0.9" ry="1.3"/><ellipse cx="79.54" cy="308.25" rx="0.77" ry="2.15"/><ellipse cx="78.74" cy="309.8" rx="1.17" ry="1.02"/><ellipse cx="77.37" cy="309.03" rx="0.89" ry="1.56"/></g>
<path d="M75.44,325.86v1.32M81.31,325.86v1.32" stroke="#777" stroke-width="0.8"/>
<circle cx="78.38" cy="316.65" r="4" fill="url(#gGrn)"/>
<path d="M91.65,302.5 C92.32,302.84 92.32,303.55 92.59,304.51 C92.87,305.47 92.94,307.02 93.3,308.27 C93.65,309.53 94.39,310.58 94.71,312.04 C95.02,313.5 95.14,315.39 95.18,317.06 C95.22,318.73 95.2,320.83 94.94,322.08 C94.69,323.34 94.22,323.96 93.65,324.59 C93.08,325.22 92.36,325.64 91.53,325.85 C90.71,326.05 89.54,326.05 88.72,325.85 C87.89,325.64 87.17,325.22 86.6,324.59 C86.03,323.96 85.56,323.34 85.31,322.08 C85.05,320.83 85.03,318.73 85.07,317.06 C85.11,315.39 85.23,313.5 85.54,312.04 C85.86,310.58 86.6,309.53 86.95,308.27 C87.31,307.02 87.38,305.47 87.66,304.51 C87.93,303.55 87.93,302.84 88.6,302.5 C89.26,302.17 90.99,302.17 91.65,302.5Z" fill="url(#gMouse)"/>
<g fill="#8a8a8a" opacity="0.22"><ellipse cx="92.28" cy="315.13" rx="1.23" ry="2.15"/><ellipse cx="87.77" cy="308.47" rx="1.17" ry="1.35"/><ellipse cx="89.94" cy="317.85" rx="0.9" ry="2.04"/><ellipse cx="87.68" cy="311.15" rx="0.64" ry="1.31"/></g>
<path d="M87.19,325.86v1.32M93.06,325.86v1.32" stroke="#777" stroke-width="0.8"/>
<circle cx="90.12" cy="316.65" r="3.8" fill="url(#gGrn)"/>
<rect x="99" y="301.4" width="43" height="26.3" fill="#1b1b1b"/>
<path d="M105.77,302.5 C106.38,302.84 106.38,303.55 106.63,304.51 C106.88,305.47 106.95,307.02 107.28,308.27 C107.6,309.53 108.28,310.58 108.57,312.04 C108.85,313.5 108.96,315.39 109,317.06 C109.03,318.73 109.02,320.83 108.78,322.08 C108.55,323.34 108.12,323.96 107.6,324.59 C107.08,325.22 106.42,325.64 105.67,325.85 C104.91,326.05 103.84,326.05 103.08,325.85 C102.33,325.64 101.67,325.22 101.15,324.59 C100.63,323.96 100.2,323.34 99.97,322.08 C99.73,320.83 99.72,318.73 99.75,317.06 C99.79,315.39 99.9,313.5 100.18,312.04 C100.47,310.58 101.15,309.53 101.47,308.27 C101.8,307.02 101.87,305.47 102.12,304.51 C102.37,303.55 102.37,302.84 102.98,302.5 C103.59,302.17 105.16,302.17 105.77,302.5Z" fill="url(#gMouse)"/>
<g fill="#8a8a8a" opacity="0.22"><ellipse cx="106.67" cy="307.15" rx="0.98" ry="1.26"/><ellipse cx="105.52" cy="309.46" rx="1.12" ry="1.62"/><ellipse cx="106.56" cy="308.02" rx="0.97" ry="2.09"/><ellipse cx="104.47" cy="313.94" rx="1.25" ry="1.99"/></g>
<path d="M101.69,325.86v1.32M107.06,325.86v1.32" stroke="#777" stroke-width="0.8"/>
<circle cx="104.38" cy="316.65" r="2.8" fill="url(#gBlu)"/>
<path d="M116.52,302.5 C117.13,302.84 117.13,303.55 117.38,304.51 C117.63,305.47 117.7,307.02 118.03,308.27 C118.35,309.53 119.03,310.58 119.32,312.04 C119.6,313.5 119.71,315.39 119.75,317.06 C119.78,318.73 119.77,320.83 119.53,322.08 C119.3,323.34 118.87,323.96 118.35,324.59 C117.83,325.22 117.17,325.64 116.42,325.85 C115.66,326.05 114.59,326.05 113.83,325.85 C113.08,325.64 112.42,325.22 111.9,324.59 C111.38,323.96 110.95,323.34 110.72,322.08 C110.48,320.83 110.47,318.73 110.5,317.06 C110.54,315.39 110.65,313.5 110.93,312.04 C111.22,310.58 111.9,309.53 112.22,308.27 C112.55,307.02 112.62,305.47 112.87,304.51 C113.12,303.55 113.12,302.84 113.73,302.5 C114.34,302.17 115.91,302.17 116.52,302.5Z" fill="url(#gMouse)"/>
<g fill="#8a8a8a" opacity="0.22"><ellipse cx="116.46" cy="313.6" rx="0.83" ry="1.34"/><ellipse cx="117.37" cy="307.99" rx="0.69" ry="1.76"/><ellipse cx="116.94" cy="323.4" rx="1.03" ry="2.03"/><ellipse cx="114.48" cy="315.47" rx="1.14" ry="1.21"/></g>
<path d="M112.44,325.86v1.32M117.81,325.86v1.32" stroke="#777" stroke-width="0.8"/>
<circle cx="115.12" cy="316.65" r="2.6" fill="url(#gCyn)"/>
<path d="M127.27,302.5 C127.88,302.84 127.88,303.55 128.13,304.51 C128.38,305.47 128.46,307.02 128.78,308.27 C129.1,309.53 129.78,310.58 130.07,312.04 C130.35,313.5 130.46,315.39 130.5,317.06 C130.53,318.73 130.52,320.83 130.28,322.08 C130.05,323.34 129.62,323.96 129.1,324.59 C128.58,325.22 127.92,325.64 127.17,325.85 C126.41,326.05 125.34,326.05 124.58,325.85 C123.83,325.64 123.17,325.22 122.65,324.59 C122.13,323.96 121.7,323.34 121.47,322.08 C121.23,320.83 121.22,318.73 121.25,317.06 C121.29,315.39 121.4,313.5 121.68,312.04 C121.97,310.58 122.65,309.53 122.97,308.27 C123.3,307.02 123.37,305.47 123.62,304.51 C123.87,303.55 123.87,302.84 124.48,302.5 C125.09,302.17 126.66,302.17 127.27,302.5Z" fill="url(#gMouse)"/>
<g fill="#8a8a8a" opacity="0.22"><ellipse cx="126.83" cy="313.92" rx="0.63" ry="1.43"/><ellipse cx="127.01" cy="320.33" rx="1.08" ry="1.87"/><ellipse cx="125.26" cy="311.96" rx="0.88" ry="1.53"/><ellipse cx="125.05" cy="321.8" rx="1.09" ry="1.18"/></g>
<path d="M123.19,325.86v1.32M128.56,325.86v1.32" stroke="#777" stroke-width="0.8"/>
<circle cx="125.88" cy="316.65" r="2.8" fill="url(#gBlu)"/>
<path d="M138.02,302.5 C138.63,302.84 138.63,303.55 138.88,304.51 C139.13,305.47 139.21,307.02 139.53,308.27 C139.85,309.53 140.53,310.58 140.82,312.04 C141.1,313.5 141.21,315.39 141.25,317.06 C141.28,318.73 141.27,320.83 141.03,322.08 C140.8,323.34 140.37,323.96 139.85,324.59 C139.33,325.22 138.67,325.64 137.91,325.85 C137.16,326.05 136.09,326.05 135.34,325.85 C134.58,325.64 133.92,325.22 133.4,324.59 C132.88,323.96 132.45,323.34 132.22,322.08 C131.98,320.83 131.97,318.73 132,317.06 C132.04,315.39 132.15,313.5 132.43,312.04 C132.72,310.58 133.4,309.53 133.72,308.27 C134.04,307.02 134.12,305.47 134.37,304.51 C134.62,303.55 134.62,302.84 135.23,302.5 C135.84,302.17 137.41,302.17 138.02,302.5Z" fill="url(#gMouse)"/>
<g fill="#8a8a8a" opacity="0.22"><ellipse cx="134.89" cy="314.83" rx="1.05" ry="1.83"/><ellipse cx="136.28" cy="316.53" rx="1.02" ry="1.35"/><ellipse cx="138.07" cy="312.55" rx="0.69" ry="1.17"/><ellipse cx="137.33" cy="314.77" rx="1.19" ry="2.05"/></g>
<path d="M133.94,325.86v1.32M139.31,325.86v1.32" stroke="#777" stroke-width="0.8"/>
<circle cx="136.62" cy="316.65" r="2.6" fill="url(#gCyn)"/>
<rect x="145.5" y="301.4" width="42.8" height="26.3" fill="#1b1b1b"/>
<path d="M152.24,302.5 C152.85,302.84 152.85,303.55 153.1,304.51 C153.35,305.47 153.42,307.02 153.74,308.27 C154.06,309.53 154.74,310.58 155.02,312.04 C155.31,313.5 155.42,315.39 155.45,317.06 C155.49,318.73 155.47,320.83 155.24,322.08 C155.01,323.34 154.58,323.96 154.06,324.59 C153.54,325.22 152.88,325.64 152.13,325.85 C151.38,326.05 150.31,326.05 149.57,325.85 C148.82,325.64 148.16,325.22 147.64,324.59 C147.12,323.96 146.69,323.34 146.46,322.08 C146.23,320.83 146.21,318.73 146.25,317.06 C146.28,315.39 146.39,313.5 146.68,312.04 C146.96,310.58 147.64,309.53 147.96,308.27 C148.28,307.02 148.35,305.47 148.6,304.51 C148.85,303.55 148.85,302.84 149.46,302.5 C150.07,302.17 151.63,302.17 152.24,302.5Z" fill="url(#gMouse)"/>
<g fill="#8a8a8a" opacity="0.22"><ellipse cx="149.59" cy="320" rx="1.08" ry="1.68"/><ellipse cx="153.18" cy="309.57" rx="0.89" ry="1.49"/><ellipse cx="149.77" cy="317.21" rx="1.2" ry="1.58"/><ellipse cx="148.88" cy="311.15" rx="1.1" ry="1.55"/></g>
<path d="M148.17,325.86v1.32M153.53,325.86v1.32" stroke="#777" stroke-width="0.8"/>
<circle cx="150.85" cy="316.65" r="2.8" fill="url(#gBlu)"/>
<path d="M162.94,302.5 C163.55,302.84 163.55,303.55 163.8,304.51 C164.05,305.47 164.12,307.02 164.44,308.27 C164.76,309.53 165.44,310.58 165.72,312.04 C166.01,313.5 166.12,315.39 166.15,317.06 C166.19,318.73 166.17,320.83 165.94,322.08 C165.71,323.34 165.28,323.96 164.76,324.59 C164.24,325.22 163.58,325.64 162.83,325.85 C162.09,326.05 161.02,326.05 160.27,325.85 C159.52,325.64 158.86,325.22 158.34,324.59 C157.82,323.96 157.39,323.34 157.16,322.08 C156.93,320.83 156.91,318.73 156.95,317.06 C156.98,315.39 157.09,313.5 157.38,312.04 C157.66,310.58 158.34,309.53 158.66,308.27 C158.98,307.02 159.05,305.47 159.3,304.51 C159.55,303.55 159.55,302.84 160.16,302.5 C160.77,302.17 162.33,302.17 162.94,302.5Z" fill="url(#gMouse)"/>
<g fill="#8a8a8a" opacity="0.22"><ellipse cx="159.41" cy="310.99" rx="0.97" ry="1.39"/><ellipse cx="160.17" cy="313.18" rx="0.68" ry="2.06"/><ellipse cx="160.71" cy="314.68" rx="0.96" ry="1.54"/><ellipse cx="163.54" cy="309.3" rx="0.95" ry="1.19"/></g>
<path d="M158.88,325.86v1.32M164.23,325.86v1.32" stroke="#777" stroke-width="0.8"/>
<path d="M173.64,302.5 C174.25,302.84 174.25,303.55 174.5,304.51 C174.75,305.47 174.82,307.02 175.14,308.27 C175.46,309.53 176.14,310.58 176.42,312.04 C176.71,313.5 176.82,315.39 176.85,317.06 C176.89,318.73 176.87,320.83 176.64,322.08 C176.41,323.34 175.98,323.96 175.46,324.59 C174.94,325.22 174.28,325.64 173.53,325.85 C172.78,326.05 171.72,326.05 170.97,325.85 C170.22,325.64 169.56,325.22 169.04,324.59 C168.52,323.96 168.09,323.34 167.86,322.08 C167.63,320.83 167.61,318.73 167.65,317.06 C167.68,315.39 167.79,313.5 168.08,312.04 C168.36,310.58 169.04,309.53 169.36,308.27 C169.68,307.02 169.75,305.47 170,304.51 C170.25,303.55 170.25,302.84 170.86,302.5 C171.47,302.17 173.03,302.17 173.64,302.5Z" fill="url(#gMouse)"/>
<g fill="#8a8a8a" opacity="0.22"><ellipse cx="170.18" cy="318.7" rx="0.83" ry="1.89"/><ellipse cx="172.19" cy="307.29" rx="0.66" ry="1.03"/><ellipse cx="172.61" cy="313.58" rx="0.8" ry="1.36"/><ellipse cx="171.93" cy="321.45" rx="1.22" ry="1.99"/></g>
<path d="M169.57,325.86v1.32M174.93,325.86v1.32" stroke="#777" stroke-width="0.8"/>
<circle cx="172.25" cy="316.65" r="2.2" fill="url(#gBlu)"/>
<path d="M184.34,302.5 C184.95,302.84 184.95,303.55 185.2,304.51 C185.45,305.47 185.52,307.02 185.84,308.27 C186.16,309.53 186.84,310.58 187.12,312.04 C187.41,313.5 187.52,315.39 187.55,317.06 C187.59,318.73 187.57,320.83 187.34,322.08 C187.11,323.34 186.68,323.96 186.16,324.59 C185.64,325.22 184.98,325.64 184.23,325.85 C183.49,326.05 182.42,326.05 181.67,325.85 C180.92,325.64 180.26,325.22 179.74,324.59 C179.22,323.96 178.79,323.34 178.56,322.08 C178.33,320.83 178.31,318.73 178.35,317.06 C178.38,315.39 178.49,313.5 178.78,312.04 C179.06,310.58 179.74,309.53 180.06,308.27 C180.38,307.02 180.45,305.47 180.7,304.51 C180.95,303.55 180.95,302.84 181.56,302.5 C182.17,302.17 183.73,302.17 184.34,302.5Z" fill="url(#gMouse)"/>
<g fill="#8a8a8a" opacity="0.22"><ellipse cx="184.11" cy="308.72" rx="0.86" ry="1.99"/><ellipse cx="181.55" cy="319.06" rx="0.68" ry="1.98"/><ellipse cx="181.81" cy="311.07" rx="1.28" ry="1.13"/><ellipse cx="184.83" cy="311.7" rx="0.8" ry="1.17"/></g>
<path d="M180.28,325.86v1.32M185.63,325.86v1.32" stroke="#777" stroke-width="0.8"/>
<circle cx="182.95" cy="316.65" r="2.8" fill="url(#gBlu)"/>
<rect x="191.7" y="301.4" width="42.1" height="26.3" fill="#1b1b1b"/>
<path d="M198.33,302.5 C198.93,302.84 198.93,303.55 199.17,304.51 C199.42,305.47 199.49,307.02 199.8,308.27 C200.12,309.53 200.79,310.58 201.07,312.04 C201.35,313.5 201.45,315.39 201.49,317.06 C201.52,318.73 201.51,320.83 201.28,322.08 C201.05,323.34 200.63,323.96 200.12,324.59 C199.61,325.22 198.96,325.64 198.23,325.85 C197.49,326.05 196.44,326.05 195.7,325.85 C194.96,325.64 194.31,325.22 193.8,324.59 C193.3,323.96 192.88,323.34 192.65,322.08 C192.42,320.83 192.4,318.73 192.44,317.06 C192.47,315.39 192.58,313.5 192.86,312.04 C193.14,310.58 193.8,309.53 194.12,308.27 C194.44,307.02 194.51,305.47 194.75,304.51 C195,303.55 195,302.84 195.59,302.5 C196.19,302.17 197.73,302.17 198.33,302.5Z" fill="url(#gMouse)"/>
<g fill="#8a8a8a" opacity="0.22"><ellipse cx="194.91" cy="313.14" rx="0.91" ry="1.38"/><ellipse cx="194.68" cy="321.89" rx="1.19" ry="1.76"/><ellipse cx="195.28" cy="309.22" rx="0.94" ry="1.21"/><ellipse cx="195.95" cy="310.41" rx="1.14" ry="1.8"/></g>
<path d="M194.33,325.86v1.32M199.59,325.86v1.32" stroke="#777" stroke-width="0.8"/>
<circle cx="196.96" cy="316.65" r="2.8" fill="url(#gBlu)"/>
<path d="M208.86,302.5 C209.45,302.84 209.45,303.55 209.7,304.51 C209.94,305.47 210.01,307.02 210.33,308.27 C210.65,309.53 211.31,310.58 211.59,312.04 C211.87,313.5 211.98,315.39 212.01,317.06 C212.05,318.73 212.03,320.83 211.8,322.08 C211.57,323.34 211.15,323.96 210.65,324.59 C210.14,325.22 209.49,325.64 208.75,325.85 C208.01,326.05 206.96,326.05 206.22,325.85 C205.49,325.64 204.84,325.22 204.33,324.59 C203.82,323.96 203.4,323.34 203.17,322.08 C202.94,320.83 202.93,318.73 202.96,317.06 C203,315.39 203.1,313.5 203.38,312.04 C203.66,310.58 204.33,309.53 204.65,308.27 C204.96,307.02 205.03,305.47 205.28,304.51 C205.52,303.55 205.52,302.84 206.12,302.5 C206.72,302.17 208.26,302.17 208.86,302.5Z" fill="url(#gMouse)"/>
<g fill="#8a8a8a" opacity="0.22"><ellipse cx="206.13" cy="322.87" rx="1.02" ry="1.95"/><ellipse cx="208.28" cy="314.58" rx="0.93" ry="1.51"/><ellipse cx="205.49" cy="322.77" rx="0.84" ry="1.07"/><ellipse cx="205.65" cy="313.22" rx="1.1" ry="1.6"/></g>
<path d="M204.86,325.86v1.32M210.12,325.86v1.32" stroke="#777" stroke-width="0.8"/>
<circle cx="207.49" cy="316.65" r="2.2" fill="url(#gBlu)"/>
<path d="M219.38,302.5 C219.98,302.84 219.98,303.55 220.22,304.51 C220.47,305.47 220.54,307.02 220.85,308.27 C221.17,309.53 221.84,310.58 222.12,312.04 C222.4,313.5 222.5,315.39 222.54,317.06 C222.57,318.73 222.56,320.83 222.33,322.08 C222.1,323.34 221.68,323.96 221.17,324.59 C220.66,325.22 220.01,325.64 219.28,325.85 C218.54,326.05 217.49,326.05 216.75,325.85 C216.01,325.64 215.36,325.22 214.85,324.59 C214.35,323.96 213.93,323.34 213.7,322.08 C213.47,320.83 213.45,318.73 213.49,317.06 C213.52,315.39 213.63,313.5 213.91,312.04 C214.19,310.58 214.85,309.53 215.17,308.27 C215.49,307.02 215.56,305.47 215.8,304.51 C216.05,303.55 216.05,302.84 216.64,302.5 C217.24,302.17 218.78,302.17 219.38,302.5Z" fill="url(#gMouse)"/>
<g fill="#8a8a8a" opacity="0.22"><ellipse cx="217.23" cy="322.15" rx="0.65" ry="1.32"/><ellipse cx="219.79" cy="314.67" rx="0.93" ry="1.1"/><ellipse cx="218.46" cy="319.11" rx="1.19" ry="1.14"/><ellipse cx="218.34" cy="320.61" rx="1.22" ry="1.11"/></g>
<path d="M215.38,325.86v1.32M220.64,325.86v1.32" stroke="#777" stroke-width="0.8"/>
<circle cx="218.01" cy="316.65" r="2.2" fill="url(#gBlu)"/>
<path d="M229.91,302.5 C230.5,302.84 230.5,303.55 230.75,304.51 C230.99,305.47 231.06,307.02 231.38,308.27 C231.7,309.53 232.36,310.58 232.64,312.04 C232.92,313.5 233.03,315.39 233.06,317.06 C233.1,318.73 233.08,320.83 232.85,322.08 C232.62,323.34 232.2,323.96 231.7,324.59 C231.19,325.22 230.54,325.64 229.8,325.85 C229.06,326.05 228.01,326.05 227.27,325.85 C226.54,325.64 225.89,325.22 225.38,324.59 C224.87,323.96 224.45,323.34 224.22,322.08 C223.99,320.83 223.98,318.73 224.01,317.06 C224.05,315.39 224.15,313.5 224.43,312.04 C224.71,310.58 225.38,309.53 225.7,308.27 C226.01,307.02 226.08,305.47 226.33,304.51 C226.57,303.55 226.57,302.84 227.17,302.5 C227.77,302.17 229.31,302.17 229.91,302.5Z" fill="url(#gMouse)"/>
<g fill="#8a8a8a" opacity="0.22"><ellipse cx="226.89" cy="322.15" rx="0.87" ry="1.51"/><ellipse cx="229.62" cy="310.39" rx="0.7" ry="1.67"/><ellipse cx="229.08" cy="322.65" rx="0.67" ry="1.77"/><ellipse cx="226.8" cy="316.63" rx="1.05" ry="1.5"/></g>
<path d="M225.91,325.86v1.32M231.17,325.86v1.32" stroke="#777" stroke-width="0.8"/>
<circle cx="228.54" cy="316.65" r="2.2" fill="url(#gBlu)"/>
<rect x="239" y="301.4" width="43.2" height="26.3" fill="#1b1b1b"/>
<path d="M245.8,302.5 C246.42,302.84 246.42,303.55 246.67,304.51 C246.92,305.47 246.99,307.02 247.32,308.27 C247.64,309.53 248.32,310.58 248.61,312.04 C248.9,313.5 249.01,315.39 249.04,317.06 C249.08,318.73 249.06,320.83 248.83,322.08 C248.59,323.34 248.16,323.96 247.64,324.59 C247.12,325.22 246.45,325.64 245.7,325.85 C244.94,326.05 243.86,326.05 243.1,325.85 C242.35,325.64 241.68,325.22 241.16,324.59 C240.64,323.96 240.21,323.34 239.97,322.08 C239.74,320.83 239.72,318.73 239.76,317.06 C239.79,315.39 239.9,313.5 240.19,312.04 C240.48,310.58 241.16,309.53 241.48,308.27 C241.81,307.02 241.88,305.47 242.13,304.51 C242.38,303.55 242.38,302.84 243,302.5 C243.61,302.17 245.19,302.17 245.8,302.5Z" fill="url(#gMouse)"/>
<g fill="#8a8a8a" opacity="0.22"><ellipse cx="243.9" cy="313.73" rx="1.18" ry="2.02"/><ellipse cx="244.17" cy="319.38" rx="0.91" ry="1.53"/><ellipse cx="244.98" cy="317.06" rx="0.92" ry="1.57"/><ellipse cx="246.12" cy="312.34" rx="1.04" ry="1.17"/></g>
<path d="M241.7,325.86v1.32M247.1,325.86v1.32" stroke="#777" stroke-width="0.8"/>
<circle cx="244.4" cy="316.65" r="3.4" fill="url(#gCyn)"/>
<path d="M256.6,302.5 C257.22,302.84 257.22,303.55 257.47,304.51 C257.72,305.47 257.79,307.02 258.12,308.27 C258.44,309.53 259.12,310.58 259.41,312.04 C259.7,313.5 259.81,315.39 259.84,317.06 C259.88,318.73 259.86,320.83 259.63,322.08 C259.39,323.34 258.96,323.96 258.44,324.59 C257.92,325.22 257.25,325.64 256.5,325.85 C255.74,326.05 254.66,326.05 253.9,325.85 C253.15,325.64 252.48,325.22 251.96,324.59 C251.44,323.96 251.01,323.34 250.77,322.08 C250.54,320.83 250.52,318.73 250.56,317.06 C250.59,315.39 250.7,313.5 250.99,312.04 C251.28,310.58 251.96,309.53 252.28,308.27 C252.61,307.02 252.68,305.47 252.93,304.51 C253.18,303.55 253.18,302.84 253.8,302.5 C254.41,302.17 255.99,302.17 256.6,302.5Z" fill="url(#gMouse)"/>
<g fill="#8a8a8a" opacity="0.22"><ellipse cx="257.47" cy="307.4" rx="1.15" ry="1.2"/><ellipse cx="255.96" cy="306.74" rx="0.83" ry="1.05"/><ellipse cx="254.83" cy="317.24" rx="0.61" ry="1.66"/><ellipse cx="254.73" cy="321.58" rx="0.88" ry="1.03"/></g>
<path d="M252.5,325.86v1.32M257.9,325.86v1.32" stroke="#777" stroke-width="0.8"/>
<circle cx="255.2" cy="316.65" r="3.4" fill="url(#gCyn)"/>
<path d="M267.4,302.5 C268.02,302.84 268.02,303.55 268.27,304.51 C268.52,305.47 268.59,307.02 268.92,308.27 C269.24,309.53 269.92,310.58 270.21,312.04 C270.5,313.5 270.61,315.39 270.64,317.06 C270.68,318.73 270.66,320.83 270.43,322.08 C270.19,323.34 269.76,323.96 269.24,324.59 C268.72,325.22 268.05,325.64 267.3,325.85 C266.54,326.05 265.46,326.05 264.7,325.85 C263.95,325.64 263.28,325.22 262.76,324.59 C262.24,323.96 261.81,323.34 261.57,322.08 C261.34,320.83 261.32,318.73 261.36,317.06 C261.39,315.39 261.5,313.5 261.79,312.04 C262.08,310.58 262.76,309.53 263.08,308.27 C263.41,307.02 263.48,305.47 263.73,304.51 C263.98,303.55 263.98,302.84 264.6,302.5 C265.21,302.17 266.79,302.17 267.4,302.5Z" fill="url(#gMouse)"/>
<g fill="#8a8a8a" opacity="0.22"><ellipse cx="264.77" cy="321.62" rx="0.94" ry="1.47"/><ellipse cx="265.12" cy="311.59" rx="0.7" ry="1.68"/><ellipse cx="264.29" cy="309.08" rx="0.7" ry="1.28"/><ellipse cx="267.87" cy="310.05" rx="0.62" ry="2.14"/></g>
<path d="M263.3,325.86v1.32M268.7,325.86v1.32" stroke="#777" stroke-width="0.8"/>
<circle cx="266" cy="316.65" r="3.8" fill="url(#gGrn)"/>
<path d="M278.2,302.5 C278.82,302.84 278.82,303.55 279.07,304.51 C279.32,305.47 279.39,307.02 279.72,308.27 C280.04,309.53 280.72,310.58 281.01,312.04 C281.3,313.5 281.41,315.39 281.44,317.06 C281.48,318.73 281.46,320.83 281.23,322.08 C280.99,323.34 280.56,323.96 280.04,324.59 C279.52,325.22 278.85,325.64 278.1,325.85 C277.34,326.05 276.26,326.05 275.5,325.85 C274.75,325.64 274.08,325.22 273.56,324.59 C273.04,323.96 272.61,323.34 272.37,322.08 C272.14,320.83 272.12,318.73 272.16,317.06 C272.19,315.39 272.3,313.5 272.59,312.04 C272.88,310.58 273.56,309.53 273.88,308.27 C274.21,307.02 274.28,305.47 274.53,304.51 C274.78,303.55 274.78,302.84 275.4,302.5 C276.01,302.17 277.59,302.17 278.2,302.5Z" fill="url(#gMouse)"/>
<g fill="#8a8a8a" opacity="0.22"><ellipse cx="276.75" cy="323.24" rx="1.15" ry="1.56"/><ellipse cx="276.46" cy="306.67" rx="0.89" ry="1.29"/><ellipse cx="276.23" cy="321.33" rx="1.03" ry="2.13"/><ellipse cx="278.08" cy="321.25" rx="0.68" ry="1.62"/></g>
<path d="M274.1,325.86v1.32M279.5,325.86v1.32" stroke="#777" stroke-width="0.8"/>
<circle cx="276.8" cy="316.65" r="3.4" fill="url(#gCyn)"/>
<rect x="54" y="336" width="188.5" height="4.8" fill="url(#gBar)"/>
<line x1="55.4" y1="340.8" x2="55.4" y2="341.8" stroke="#333" stroke-width="0.4"/>
<text x="55.4" y="345.04" font-size="2.9" text-anchor="middle" font-weight="bold" fill="#333" transform="rotate(-90 55.4 344)">0.5</text>
<line x1="65.4" y1="340.8" x2="65.4" y2="341.8" stroke="#333" stroke-width="0.4"/>
<text x="65.4" y="345.04" font-size="2.9" text-anchor="middle" font-weight="bold" fill="#333" transform="rotate(-90 65.4 344)">1.0</text>
<line x1="73.8" y1="340.8" x2="73.8" y2="341.8" stroke="#333" stroke-width="0.4"/>
<text x="73.8" y="345.04" font-size="2.9" text-anchor="middle" font-weight="bold" fill="#333" transform="rotate(-90 73.8 344)">1.5</text>
<line x1="78.5" y1="340.8" x2="78.5" y2="341.8" stroke="#333" stroke-width="0.4"/>
<text x="78.5" y="345.04" font-size="2.9" text-anchor="middle" font-weight="bold" fill="#333" transform="rotate(-90 78.5 344)">2.0</text>
<line x1="103" y1="340.8" x2="103" y2="341.8" stroke="#333" stroke-width="0.4"/>
<text x="103" y="345.04" font-size="2.9" text-anchor="middle" font-weight="bold" fill="#333" transform="rotate(-90 103 344)">0.5</text>
<line x1="117.7" y1="340.8" x2="117.7" y2="341.8" stroke="#333" stroke-width="0.4"/>
<text x="117.7" y="345.04" font-size="2.9" text-anchor="middle" font-weight="bold" fill="#333" transform="rotate(-90 117.7 344)">1.0</text>
<line x1="128.5" y1="340.8" x2="128.5" y2="341.8" stroke="#333" stroke-width="0.4"/>
<text x="128.5" y="345.04" font-size="2.9" text-anchor="middle" font-weight="bold" fill="#333" transform="rotate(-90 128.5 344)">1.5</text>
<line x1="134.2" y1="340.8" x2="134.2" y2="341.8" stroke="#333" stroke-width="0.4"/>
<text x="134.2" y="345.04" font-size="2.9" text-anchor="middle" font-weight="bold" fill="#333" transform="rotate(-90 134.2 344)">2.0</text>
<line x1="148.1" y1="340.8" x2="148.1" y2="341.8" stroke="#333" stroke-width="0.4"/>
<text x="148.1" y="345.04" font-size="2.9" text-anchor="middle" font-weight="bold" fill="#333" transform="rotate(-90 148.1 344)">0.5</text>
<line x1="156.2" y1="340.8" x2="156.2" y2="341.8" stroke="#333" stroke-width="0.4"/>
<text x="156.2" y="345.04" font-size="2.9" text-anchor="middle" font-weight="bold" fill="#333" transform="rotate(-90 156.2 344)">1.0</text>
<line x1="163.1" y1="340.8" x2="163.1" y2="341.8" stroke="#333" stroke-width="0.4"/>
<text x="163.1" y="345.04" font-size="2.9" text-anchor="middle" font-weight="bold" fill="#333" transform="rotate(-90 163.1 344)">1.5</text>
<line x1="184.6" y1="340.8" x2="184.6" y2="341.8" stroke="#333" stroke-width="0.4"/>
<text x="184.6" y="345.04" font-size="2.9" text-anchor="middle" font-weight="bold" fill="#333" transform="rotate(-90 184.6 344)">0.5</text>
<line x1="199.4" y1="340.8" x2="199.4" y2="341.8" stroke="#333" stroke-width="0.4"/>
<text x="199.4" y="345.04" font-size="2.9" text-anchor="middle" font-weight="bold" fill="#333" transform="rotate(-90 199.4 344)">1.0</text>
<line x1="210.4" y1="340.8" x2="210.4" y2="341.8" stroke="#333" stroke-width="0.4"/>
<text x="210.4" y="345.04" font-size="2.9" text-anchor="middle" font-weight="bold" fill="#333" transform="rotate(-90 210.4 344)">1.5</text>
<line x1="217.4" y1="340.8" x2="217.4" y2="341.8" stroke="#333" stroke-width="0.4"/>
<text x="217.4" y="345.04" font-size="2.9" text-anchor="middle" font-weight="bold" fill="#333" transform="rotate(-90 217.4 344)">2.0</text>
<line x1="228.9" y1="340.8" x2="228.9" y2="341.8" stroke="#333" stroke-width="0.4"/>
<text x="228.9" y="345.04" font-size="2.9" text-anchor="middle" font-weight="bold" fill="#333" transform="rotate(-90 228.9 344)">1.0</text>
<line x1="238.2" y1="340.8" x2="238.2" y2="341.8" stroke="#333" stroke-width="0.4"/>
<text x="238.2" y="345.04" font-size="2.9" text-anchor="middle" font-weight="bold" fill="#333" transform="rotate(-90 238.2 344)">1.5</text>
<text x="82.3" y="350.34" font-size="2.9" text-anchor="middle" font-weight="bold" fill="#333" transform="rotate(-90 82.3 349.3)">×10<tspan font-size="2.1" dy="-1.2">6</tspan></text>
<text x="164.3" y="350.64" font-size="2.9" text-anchor="middle" font-weight="bold" fill="#333" transform="rotate(-90 164.3 349.6)">×10<tspan font-size="2.1" dy="-1.2">7</tspan></text>
<text x="248.4" y="339.04" font-size="5.1" fill="#222" stroke="#222" stroke-width="0.14">Radiance</text>
<text x="248.4" y="345.74" font-size="5.1" fill="#222" stroke="#222" stroke-width="0.14">(p/sec/cm<tspan font-size="3.2" dy="-1.6">2</tspan><tspan dy="1.6">/sr)</tspan></text>
<text x="299.5" y="236.22" font-size="12" font-weight="bold" fill="#111" stroke="#111" stroke-width="0.19">D</text>
<line x1="345.4" y1="233.6" x2="345.4" y2="337.5" stroke="#222" stroke-width="1.1"/>
<line x1="345.4" y1="337.1" x2="485.6" y2="337.1" stroke="#222" stroke-width="1.1"/>
<line x1="343.2" y1="337.1" x2="345.4" y2="337.1" stroke="#222" stroke-width="0.8"/>
<text x="341.5" y="339.44" font-size="6.5" text-anchor="end" fill="#222" stroke="#222" stroke-width="0.17">0</text>
<line x1="343.2" y1="316.48" x2="345.4" y2="316.48" stroke="#222" stroke-width="0.8"/>
<text x="341.5" y="318.82" font-size="6.5" text-anchor="end" fill="#222" stroke="#222" stroke-width="0.17">500</text>
<line x1="343.2" y1="295.86" x2="345.4" y2="295.86" stroke="#222" stroke-width="0.8"/>
<text x="341.5" y="298.2" font-size="6.5" text-anchor="end" fill="#222" stroke="#222" stroke-width="0.17">1,000</text>
<line x1="343.2" y1="275.24" x2="345.4" y2="275.24" stroke="#222" stroke-width="0.8"/>
<text x="341.5" y="277.58" font-size="6.5" text-anchor="end" fill="#222" stroke="#222" stroke-width="0.17">1,500</text>
<line x1="343.2" y1="254.62" x2="345.4" y2="254.62" stroke="#222" stroke-width="0.8"/>
<text x="341.5" y="256.96" font-size="6.5" text-anchor="end" fill="#222" stroke="#222" stroke-width="0.17">2,000</text>
<line x1="343.2" y1="234" x2="345.4" y2="234" stroke="#222" stroke-width="0.8"/>
<text x="341.5" y="236.34" font-size="6.5" text-anchor="end" fill="#222" stroke="#222" stroke-width="0.17">2,500</text>
<line x1="345.2" y1="337.1" x2="345.2" y2="339.3" stroke="#222" stroke-width="0.8"/>
<text x="345.2" y="347.14" font-size="6.5" text-anchor="middle" fill="#222" stroke="#222" stroke-width="0.17">20</text>
<line x1="370.7" y1="337.1" x2="370.7" y2="339.3" stroke="#222" stroke-width="0.8"/>
<text x="370.7" y="347.14" font-size="6.5" text-anchor="middle" fill="#222" stroke="#222" stroke-width="0.17">30</text>
<line x1="396.2" y1="337.1" x2="396.2" y2="339.3" stroke="#222" stroke-width="0.8"/>
<text x="396.2" y="347.14" font-size="6.5" text-anchor="middle" fill="#222" stroke="#222" stroke-width="0.17">40</text>
<line x1="421.7" y1="337.1" x2="421.7" y2="339.3" stroke="#222" stroke-width="0.8"/>
<text x="421.7" y="347.14" font-size="6.5" text-anchor="middle" fill="#222" stroke="#222" stroke-width="0.17">50</text>
<line x1="447.2" y1="337.1" x2="447.2" y2="339.3" stroke="#222" stroke-width="0.8"/>
<text x="447.2" y="347.14" font-size="6.5" text-anchor="middle" fill="#222" stroke="#222" stroke-width="0.17">60</text>
<line x1="472.7" y1="337.1" x2="472.7" y2="339.3" stroke="#222" stroke-width="0.8"/>
<text x="472.7" y="347.14" font-size="6.5" text-anchor="middle" fill="#222" stroke="#222" stroke-width="0.17">70</text>
<text x="412.5" y="356.87" font-size="6.3" text-anchor="middle" fill="#222" stroke="#222" stroke-width="0.17" textLength="92" lengthAdjust="spacingAndGlyphs">Days after PC3-PDL1 inoculation</text>
<text x="315.8" y="288.39" font-size="7.2" text-anchor="middle" fill="#222" stroke="#222" stroke-width="0.19" transform="rotate(-90 315.8 285.8)">Tumor volume (mm<tspan font-size="4.5" dy="-2.6">3</tspan><tspan dy="2.6">)</tspan></text>
<polyline points="350.3,322.67 368.15,316.48 375.8,314.01 393.65,306.17 411.5,287.61 429.35,266.99" fill="none" stroke="#3a9ea6" stroke-width="1.3"/>
<line x1="350.3" y1="321.43" x2="350.3" y2="323.9" stroke="#3a9ea6" stroke-width="1"/>
<line x1="348.6" y1="321.43" x2="352" y2="321.43" stroke="#3a9ea6" stroke-width="1"/>
<line x1="348.6" y1="323.9" x2="352" y2="323.9" stroke="#3a9ea6" stroke-width="1"/>
<circle cx="350.3" cy="322.67" r="1.9" fill="#3a9ea6"/>
<line x1="368.15" y1="312.36" x2="368.15" y2="320.6" stroke="#3a9ea6" stroke-width="1"/>
<line x1="366.45" y1="312.36" x2="369.85" y2="312.36" stroke="#3a9ea6" stroke-width="1"/>
<line x1="366.45" y1="320.6" x2="369.85" y2="320.6" stroke="#3a9ea6" stroke-width="1"/>
<circle cx="368.15" cy="316.48" r="1.9" fill="#3a9ea6"/>
<line x1="375.8" y1="309.88" x2="375.8" y2="318.13" stroke="#3a9ea6" stroke-width="1"/>
<line x1="374.1" y1="309.88" x2="377.5" y2="309.88" stroke="#3a9ea6" stroke-width="1"/>
<line x1="374.1" y1="318.13" x2="377.5" y2="318.13" stroke="#3a9ea6" stroke-width="1"/>
<circle cx="375.8" cy="314.01" r="1.9" fill="#3a9ea6"/>
<line x1="393.65" y1="301.22" x2="393.65" y2="311.12" stroke="#3a9ea6" stroke-width="1"/>
<line x1="391.95" y1="301.22" x2="395.35" y2="301.22" stroke="#3a9ea6" stroke-width="1"/>
<line x1="391.95" y1="311.12" x2="395.35" y2="311.12" stroke="#3a9ea6" stroke-width="1"/>
<circle cx="393.65" cy="306.17" r="1.9" fill="#3a9ea6"/>
<line x1="411.5" y1="278.54" x2="411.5" y2="296.68" stroke="#3a9ea6" stroke-width="1"/>
<line x1="409.8" y1="278.54" x2="413.2" y2="278.54" stroke="#3a9ea6" stroke-width="1"/>
<line x1="409.8" y1="296.68" x2="413.2" y2="296.68" stroke="#3a9ea6" stroke-width="1"/>
<circle cx="411.5" cy="287.61" r="1.9" fill="#3a9ea6"/>
<line x1="429.35" y1="252.15" x2="429.35" y2="281.84" stroke="#3a9ea6" stroke-width="1"/>
<line x1="427.65" y1="252.15" x2="431.05" y2="252.15" stroke="#3a9ea6" stroke-width="1"/>
<line x1="427.65" y1="281.84" x2="431.05" y2="281.84" stroke="#3a9ea6" stroke-width="1"/>
<circle cx="429.35" cy="266.99" r="1.9" fill="#3a9ea6"/>
<polyline points="350.3,323.08 368.15,316.07 375.8,318.95 393.65,317.72 411.5,323.9 429.35,315.24 454.85,288.85" fill="none" stroke="#5a5a5a" stroke-width="1.3"/>
<line x1="350.3" y1="321.84" x2="350.3" y2="324.32" stroke="#5a5a5a" stroke-width="1"/>
<line x1="348.6" y1="321.84" x2="352" y2="321.84" stroke="#5a5a5a" stroke-width="1"/>
<line x1="348.6" y1="324.32" x2="352" y2="324.32" stroke="#5a5a5a" stroke-width="1"/>
<rect x="348.4" y="321.18" width="3.8" height="3.8" fill="#5a5a5a"/>
<line x1="368.15" y1="311.94" x2="368.15" y2="320.19" stroke="#5a5a5a" stroke-width="1"/>
<line x1="366.45" y1="311.94" x2="369.85" y2="311.94" stroke="#5a5a5a" stroke-width="1"/>
<line x1="366.45" y1="320.19" x2="369.85" y2="320.19" stroke="#5a5a5a" stroke-width="1"/>
<rect x="366.25" y="314.17" width="3.8" height="3.8" fill="#5a5a5a"/>
<line x1="375.8" y1="317.3" x2="375.8" y2="320.6" stroke="#5a5a5a" stroke-width="1"/>
<line x1="374.1" y1="317.3" x2="377.5" y2="317.3" stroke="#5a5a5a" stroke-width="1"/>
<line x1="374.1" y1="320.6" x2="377.5" y2="320.6" stroke="#5a5a5a" stroke-width="1"/>
<rect x="373.9" y="317.05" width="3.8" height="3.8" fill="#5a5a5a"/>
<line x1="393.65" y1="312.77" x2="393.65" y2="322.67" stroke="#5a5a5a" stroke-width="1"/>
<line x1="391.95" y1="312.77" x2="395.35" y2="312.77" stroke="#5a5a5a" stroke-width="1"/>
<line x1="391.95" y1="322.67" x2="395.35" y2="322.67" stroke="#5a5a5a" stroke-width="1"/>
<rect x="391.75" y="315.82" width="3.8" height="3.8" fill="#5a5a5a"/>
<line x1="411.5" y1="320.6" x2="411.5" y2="327.2" stroke="#5a5a5a" stroke-width="1"/>
<line x1="409.8" y1="320.6" x2="413.2" y2="320.6" stroke="#5a5a5a" stroke-width="1"/>
<line x1="409.8" y1="327.2" x2="413.2" y2="327.2" stroke="#5a5a5a" stroke-width="1"/>
<rect x="409.6" y="322" width="3.8" height="3.8" fill="#5a5a5a"/>
<line x1="429.35" y1="308.23" x2="429.35" y2="322.25" stroke="#5a5a5a" stroke-width="1"/>
<line x1="427.65" y1="308.23" x2="431.05" y2="308.23" stroke="#5a5a5a" stroke-width="1"/>
<line x1="427.65" y1="322.25" x2="431.05" y2="322.25" stroke="#5a5a5a" stroke-width="1"/>
<rect x="427.45" y="313.34" width="3.8" height="3.8" fill="#5a5a5a"/>
<line x1="454.85" y1="283.49" x2="454.85" y2="294.21" stroke="#5a5a5a" stroke-width="1"/>
<line x1="453.15" y1="283.49" x2="456.55" y2="283.49" stroke="#5a5a5a" stroke-width="1"/>
<line x1="453.15" y1="294.21" x2="456.55" y2="294.21" stroke="#5a5a5a" stroke-width="1"/>
<rect x="452.95" y="286.95" width="3.8" height="3.8" fill="#5a5a5a"/>
<polyline points="350.3,325.35 368.15,324.73 375.8,326.79 393.65,334.42 411.5,334.42 429.35,331.74 454.85,321.43" fill="none" stroke="#d83434" stroke-width="1.3"/>
<line x1="350.3" y1="323.7" x2="350.3" y2="327" stroke="#d83434" stroke-width="1"/>
<line x1="348.6" y1="323.7" x2="352" y2="323.7" stroke="#d83434" stroke-width="1"/>
<line x1="348.6" y1="327" x2="352" y2="327" stroke="#d83434" stroke-width="1"/>
<polygon points="348.12,327.06 352.49,327.06 350.3,323.26" fill="#d83434" stroke="none" stroke-width="0"/>
<line x1="368.15" y1="321.84" x2="368.15" y2="327.61" stroke="#d83434" stroke-width="1"/>
<line x1="366.45" y1="321.84" x2="369.85" y2="321.84" stroke="#d83434" stroke-width="1"/>
<line x1="366.45" y1="327.61" x2="369.85" y2="327.61" stroke="#d83434" stroke-width="1"/>
<polygon points="365.96,326.44 370.33,326.44 368.15,322.64" fill="#d83434" stroke="none" stroke-width="0"/>
<line x1="375.8" y1="325.55" x2="375.8" y2="328.03" stroke="#d83434" stroke-width="1"/>
<line x1="374.1" y1="325.55" x2="377.5" y2="325.55" stroke="#d83434" stroke-width="1"/>
<line x1="374.1" y1="328.03" x2="377.5" y2="328.03" stroke="#d83434" stroke-width="1"/>
<polygon points="373.62,328.5 377.99,328.5 375.8,324.7" fill="#d83434" stroke="none" stroke-width="0"/>
<polygon points="391.46,336.13 395.83,336.13 393.65,332.33" fill="#d83434" stroke="none" stroke-width="0"/>
<polygon points="409.31,336.13 413.69,336.13 411.5,332.33" fill="#d83434" stroke="none" stroke-width="0"/>
<polygon points="427.16,333.45 431.53,333.45 429.35,329.65" fill="#d83434" stroke="none" stroke-width="0"/>
<polygon points="452.66,323.14 457.03,323.14 454.85,319.34" fill="#d83434" stroke="none" stroke-width="0"/>
<line x1="351.5" y1="234.8" x2="361" y2="234.8" stroke="#3a9ea6" stroke-width="1.3"/>
<circle cx="356.2" cy="234.8" r="1.9" fill="#3a9ea6"/>
<text x="366.3" y="237.14" font-size="6.5" fill="#222" stroke="#222" stroke-width="0.17">NT</text>
<line x1="351.5" y1="247.5" x2="361" y2="247.5" stroke="#5a5a5a" stroke-width="1.3"/>
<rect x="354.3" y="245.6" width="3.8" height="3.8" fill="#5a5a5a"/>
<text x="366.3" y="249.84" font-size="6.5" fill="#222" stroke="#222" stroke-width="0.17">WT PSCA-CAR</text>
<line x1="351.5" y1="259.3" x2="361" y2="259.3" stroke="#d83434" stroke-width="1.3"/>
<polygon points="354.01,261.01 358.38,261.01 356.2,257.21" fill="#d83434" stroke="none" stroke-width="0"/>
<text x="366.3" y="261.64" font-size="6.5" fill="#222" stroke="#222" stroke-width="0.17">PD1-negative</text>
<text x="366.3" y="270.14" font-size="6.5" fill="#222" stroke="#222" stroke-width="0.17">PSCA-CAR</text>
<line x1="435" y1="268.8" x2="435" y2="305" stroke="#444" stroke-width="1.2"/>
<text x="443.5" y="290.48" font-size="8" text-anchor="middle" font-weight="bold" fill="#222" stroke="#222" stroke-width="0.13">****</text>
<line x1="459.6" y1="292.3" x2="459.6" y2="318" stroke="#444" stroke-width="1.2"/>
<text x="464.6" y="309.88" font-size="8" text-anchor="middle" font-weight="bold" fill="#222" stroke="#222" stroke-width="0.13">**</text>
<text x="2" y="383.82" font-size="12" font-weight="bold" fill="#111" stroke="#111" stroke-width="0.19">E</text>
<text x="85.5" y="379.9" font-size="6.1" text-anchor="middle" stroke="#1a1a1a" stroke-width="0.16">Day 7</text>
<text x="138" y="379.9" font-size="6.1" text-anchor="middle" stroke="#1a1a1a" stroke-width="0.16">Day 9</text>
<text x="186.7" y="379.9" font-size="6.1" text-anchor="middle" stroke="#1a1a1a" stroke-width="0.16">Day 17</text>
<text x="237.5" y="379.9" font-size="6.1" text-anchor="middle" stroke="#1a1a1a" stroke-width="0.16">Day 24</text>
<text x="287.7" y="379.9" font-size="6.1" text-anchor="middle" stroke="#1a1a1a" stroke-width="0.16">Day 31</text>
<text x="337" y="379.9" font-size="6.1" text-anchor="middle" stroke="#1a1a1a" stroke-width="0.16">Day 38</text>
<text x="386" y="379.9" font-size="6.1" text-anchor="middle" stroke="#1a1a1a" stroke-width="0.16">Day 46</text>
<text x="430.5" y="379.9" font-size="6.1" text-anchor="middle" stroke="#1a1a1a" stroke-width="0.16">Day 59</text>
<text x="480" y="379.9" font-size="6.1" text-anchor="middle" stroke="#1a1a1a" stroke-width="0.16">Day 68</text>
<text x="56.9" y="401" font-size="6.1" text-anchor="end" fill="#222" stroke="#222" stroke-width="0.3" textLength="26.3" lengthAdjust="spacingAndGlyphs">NT T cells</text>
<text x="31.3" y="426.3" font-size="6.1" text-anchor="middle" fill="#222" stroke="#222" stroke-width="0.3" textLength="31.4" lengthAdjust="spacingAndGlyphs">TCR/HLA-I<tspan font-size="3.8" dy="-2.2">−</tspan></text>
<text x="30.25" y="433.8" font-size="6.1" text-anchor="middle" fill="#222" stroke="#222" stroke-width="0.3" textLength="42.5" lengthAdjust="spacingAndGlyphs">CD19-CART cells</text>
<text x="26.9" y="451.3" font-size="6.1" text-anchor="middle" fill="#222" stroke="#222" stroke-width="0.3" textLength="42.5" lengthAdjust="spacingAndGlyphs">TCR/HLA-I/PD1<tspan font-size="3.8" dy="-2.2">−</tspan></text>
<text x="28.45" y="458.2" font-size="6.1" text-anchor="middle" fill="#222" stroke="#222" stroke-width="0.3" textLength="45.7" lengthAdjust="spacingAndGlyphs">CD19-CART cells</text>
<rect x="63.3" y="386.7" width="39.4" height="24.3" fill="#1c1c1c"/>
<path d="M69.9,387.99 C70.65,388.26 70.84,388.88 71.08,389.61 C71.33,390.34 71.23,391.3 71.38,392.38 C71.52,393.46 71.84,394.42 71.97,396.08 C72.1,397.73 72.18,400.51 72.16,402.31 C72.15,404.12 72.13,405.78 71.87,406.94 C71.61,408.09 71.59,408.86 70.59,409.25 C69.59,409.63 66.86,409.63 65.86,409.25 C64.86,408.86 64.84,408.09 64.58,406.94 C64.32,405.78 64.3,404.12 64.28,402.31 C64.27,400.51 64.35,397.73 64.48,396.08 C64.61,394.42 64.93,393.46 65.07,392.38 C65.22,391.3 65.12,390.34 65.37,389.61 C65.61,388.88 65.8,388.26 66.55,387.99 C67.31,387.72 69.14,387.72 69.9,387.99Z" fill="#2450d8"/>
<path d="M79.75,387.99 C80.5,388.26 80.69,388.88 80.93,389.61 C81.18,390.34 81.08,391.3 81.23,392.38 C81.37,393.46 81.69,394.42 81.82,396.08 C81.95,397.73 82.03,400.51 82.01,402.31 C82,404.12 81.98,405.78 81.72,406.94 C81.46,408.09 81.44,408.86 80.44,409.25 C79.44,409.63 76.71,409.63 75.71,409.25 C74.71,408.86 74.69,408.09 74.43,406.94 C74.17,405.78 74.15,404.12 74.13,402.31 C74.12,400.51 74.2,397.73 74.33,396.08 C74.46,394.42 74.78,393.46 74.92,392.38 C75.07,391.3 74.97,390.34 75.22,389.61 C75.46,388.88 75.65,388.26 76.4,387.99 C77.16,387.72 78.99,387.72 79.75,387.99Z" fill="#d8d8ee"/>
<ellipse cx="78.07" cy="397.63" rx="3.3" ry="8" fill="#2450d8" opacity="1"/>
<path d="M89.6,387.99 C90.35,388.26 90.54,388.88 90.78,389.61 C91.03,390.34 90.93,391.3 91.08,392.38 C91.22,393.46 91.54,394.42 91.67,396.08 C91.8,397.73 91.88,400.51 91.86,402.31 C91.85,404.12 91.83,405.78 91.57,406.94 C91.31,408.09 91.29,408.86 90.29,409.25 C89.29,409.63 86.56,409.63 85.56,409.25 C84.56,408.86 84.54,408.09 84.28,406.94 C84.02,405.78 84,404.12 83.98,402.31 C83.97,400.51 84.05,397.73 84.18,396.08 C84.31,394.42 84.63,393.46 84.77,392.38 C84.92,391.3 84.82,390.34 85.07,389.61 C85.31,388.88 85.5,388.26 86.25,387.99 C87.01,387.72 88.84,387.72 89.6,387.99Z" fill="url(#gMouseE)"/>
<g fill="#8a8a8a" opacity="0.22"><ellipse cx="89.32" cy="403.83" rx="1.17" ry="1.51"/><ellipse cx="86.32" cy="399.79" rx="1" ry="1.91"/><ellipse cx="87.35" cy="405.74" rx="1.21" ry="1.9"/><ellipse cx="88.99" cy="407.19" rx="0.66" ry="1.42"/></g>
<path d="M85.46,409.3v1.22M90.39,409.3v1.22" stroke="#777" stroke-width="0.8"/>
<ellipse cx="87.92" cy="398.36" rx="1.6" ry="5" fill="#2450d8" opacity="1"/>
<path d="M99.45,387.99 C100.2,388.26 100.39,388.88 100.63,389.61 C100.88,390.34 100.78,391.3 100.93,392.38 C101.07,393.46 101.39,394.42 101.52,396.08 C101.65,397.73 101.73,400.51 101.72,402.31 C101.7,404.12 101.68,405.78 101.42,406.94 C101.16,408.09 101.14,408.86 100.14,409.25 C99.14,409.63 96.41,409.63 95.41,409.25 C94.41,408.86 94.39,408.09 94.13,406.94 C93.87,405.78 93.85,404.12 93.84,402.31 C93.82,400.51 93.9,397.73 94.03,396.08 C94.16,394.42 94.48,393.46 94.62,392.38 C94.77,391.3 94.67,390.34 94.92,389.61 C95.16,388.88 95.35,388.26 96.1,387.99 C96.86,387.72 98.69,387.72 99.45,387.99Z" fill="#e0ddee"/>
<rect x="115" y="386.7" width="39.5" height="24.3" fill="#10164a"/>
<path d="M121.62,387.99 C122.37,388.26 122.55,388.88 122.8,389.61 C123.05,390.34 122.95,391.3 123.1,392.38 C123.25,393.46 123.56,394.42 123.69,396.08 C123.82,397.73 123.9,400.51 123.89,402.31 C123.87,404.12 123.85,405.78 123.59,406.94 C123.33,408.09 123.31,408.86 122.31,409.25 C121.3,409.63 118.57,409.63 117.57,409.25 C116.56,408.86 116.55,408.09 116.28,406.94 C116.02,405.78 116,404.12 115.99,402.31 C115.97,400.51 116.05,397.73 116.19,396.08 C116.32,394.42 116.63,393.46 116.78,392.38 C116.93,391.3 116.83,390.34 117.07,389.61 C117.32,388.88 117.5,388.26 118.26,387.99 C119.02,387.72 120.86,387.72 121.62,387.99Z" fill="#1c5ef0"/>
<ellipse cx="119.94" cy="396.91" rx="2.4" ry="7" fill="#50b8ff" opacity="0.85"/>
<path d="M131.49,387.99 C132.25,388.26 132.43,388.88 132.68,389.61 C132.92,390.34 132.82,391.3 132.97,392.38 C133.12,393.46 133.43,394.42 133.56,396.08 C133.7,397.73 133.78,400.51 133.76,402.31 C133.75,404.12 133.73,405.78 133.47,406.94 C133.2,408.09 133.19,408.86 132.18,409.25 C131.18,409.63 128.45,409.63 127.44,409.25 C126.44,408.86 126.42,408.09 126.16,406.94 C125.9,405.78 125.88,404.12 125.86,402.31 C125.85,400.51 125.93,397.73 126.06,396.08 C126.19,394.42 126.5,393.46 126.65,392.38 C126.8,391.3 126.7,390.34 126.95,389.61 C127.2,388.88 127.38,388.26 128.13,387.99 C128.89,387.72 130.73,387.72 131.49,387.99Z" fill="#1c5ef0"/>
<ellipse cx="129.81" cy="396.42" rx="1.8" ry="6" fill="#48a8ff" opacity="0.75"/>
<path d="M141.37,387.99 C142.12,388.26 142.3,388.88 142.55,389.61 C142.8,390.34 142.7,391.3 142.85,392.38 C143,393.46 143.31,394.42 143.44,396.08 C143.57,397.73 143.65,400.51 143.64,402.31 C143.62,404.12 143.6,405.78 143.34,406.94 C143.08,408.09 143.06,408.86 142.06,409.25 C141.05,409.63 138.32,409.63 137.32,409.25 C136.31,408.86 136.3,408.09 136.03,406.94 C135.77,405.78 135.75,404.12 135.74,402.31 C135.72,400.51 135.8,397.73 135.94,396.08 C136.07,394.42 136.38,393.46 136.53,392.38 C136.68,391.3 136.58,390.34 136.82,389.61 C137.07,388.88 137.25,388.26 138.01,387.99 C138.77,387.72 140.61,387.72 141.37,387.99Z" fill="#1c5ef0"/>
<ellipse cx="139.69" cy="396.42" rx="1.8" ry="6" fill="#48a8ff" opacity="0.7"/>
<path d="M151.24,387.99 C152,388.26 152.18,388.88 152.43,389.61 C152.67,390.34 152.57,391.3 152.72,392.38 C152.87,393.46 153.18,394.42 153.31,396.08 C153.45,397.73 153.53,400.51 153.51,402.31 C153.5,404.12 153.48,405.78 153.22,406.94 C152.95,408.09 152.94,408.86 151.93,409.25 C150.93,409.63 148.2,409.63 147.19,409.25 C146.19,408.86 146.17,408.09 145.91,406.94 C145.65,405.78 145.63,404.12 145.61,402.31 C145.6,400.51 145.68,397.73 145.81,396.08 C145.94,394.42 146.25,393.46 146.4,392.38 C146.55,391.3 146.45,390.34 146.7,389.61 C146.95,388.88 147.13,388.26 147.88,387.99 C148.64,387.72 150.48,387.72 151.24,387.99Z" fill="#1c5ef0"/>
<ellipse cx="149.56" cy="396.42" rx="1.8" ry="6" fill="#48a8ff" opacity="0.75"/>
<rect x="165.75" y="386.7" width="39.3" height="24.3" fill="#2842b0"/>
<path d="M172.33,387.99 C173.09,388.26 173.27,388.88 173.51,389.61 C173.76,390.34 173.66,391.3 173.81,392.38 C173.95,393.46 174.26,394.42 174.4,396.08 C174.53,397.73 174.61,400.51 174.59,402.31 C174.58,404.12 174.56,405.78 174.3,406.94 C174.04,408.09 174.02,408.86 173.02,409.25 C172.02,409.63 169.3,409.63 168.3,409.25 C167.31,408.86 167.29,408.09 167.03,406.94 C166.77,405.78 166.75,404.12 166.73,402.31 C166.72,400.51 166.8,397.73 166.93,396.08 C167.06,394.42 167.37,393.46 167.52,392.38 C167.67,391.3 167.57,390.34 167.81,389.61 C168.06,388.88 168.24,388.26 168.99,387.99 C169.75,387.72 171.58,387.72 172.33,387.99Z" fill="#5ccc48"/>
<path d="M182.16,387.99 C182.91,388.26 183.09,388.88 183.34,389.61 C183.58,390.34 183.48,391.3 183.63,392.38 C183.78,393.46 184.09,394.42 184.22,396.08 C184.35,397.73 184.43,400.51 184.42,402.31 C184.4,404.12 184.38,405.78 184.12,406.94 C183.86,408.09 183.84,408.86 182.85,409.25 C181.85,409.63 179.13,409.63 178.13,409.25 C177.13,408.86 177.11,408.09 176.85,406.94 C176.59,405.78 176.57,404.12 176.56,402.31 C176.54,400.51 176.62,397.73 176.75,396.08 C176.89,394.42 177.2,393.46 177.34,392.38 C177.49,391.3 177.39,390.34 177.64,389.61 C177.88,388.88 178.06,388.26 178.82,387.99 C179.57,387.72 181.4,387.72 182.16,387.99Z" fill="#5ccc48"/>
<path d="M191.98,387.99 C192.74,388.26 192.92,388.88 193.16,389.61 C193.41,390.34 193.31,391.3 193.46,392.38 C193.6,393.46 193.91,394.42 194.05,396.08 C194.18,397.73 194.26,400.51 194.24,402.31 C194.23,404.12 194.21,405.78 193.95,406.94 C193.69,408.09 193.67,408.86 192.67,409.25 C191.67,409.63 188.95,409.63 187.95,409.25 C186.96,408.86 186.94,408.09 186.68,406.94 C186.42,405.78 186.4,404.12 186.38,402.31 C186.37,400.51 186.45,397.73 186.58,396.08 C186.71,394.42 187.02,393.46 187.17,392.38 C187.32,391.3 187.22,390.34 187.46,389.61 C187.71,388.88 187.89,388.26 188.64,387.99 C189.4,387.72 191.23,387.72 191.98,387.99Z" fill="#5ccc48"/>
<path d="M201.81,387.99 C202.56,388.26 202.74,388.88 202.99,389.61 C203.23,390.34 203.13,391.3 203.28,392.38 C203.43,393.46 203.74,394.42 203.87,396.08 C204,397.73 204.08,400.51 204.07,402.31 C204.05,404.12 204.03,405.78 203.77,406.94 C203.51,408.09 203.49,408.86 202.5,409.25 C201.5,409.63 198.78,409.63 197.78,409.25 C196.78,408.86 196.76,408.09 196.5,406.94 C196.24,405.78 196.22,404.12 196.21,402.31 C196.19,400.51 196.27,397.73 196.4,396.08 C196.53,394.42 196.85,393.46 196.99,392.38 C197.14,391.3 197.04,390.34 197.29,389.61 C197.53,388.88 197.71,388.26 198.47,387.99 C199.22,387.72 201.05,387.72 201.81,387.99Z" fill="#5ccc48"/>
<rect x="216.7" y="386.7" width="39.3" height="24.3" fill="#2e2e2e"/>
<rect x="216.7" y="386.7" width="39.3" height="24.3" fill="#383838"/>
<ellipse cx="238.31" cy="400.06" rx="13.75" ry="8.51" fill="#444" opacity="0.5"/>
<line x1="224.56" y1="386.7" x2="224.56" y2="389.1" stroke="#d8d8d8" stroke-width="0.7"/>
<line x1="232.42" y1="386.7" x2="232.42" y2="389.1" stroke="#d8d8d8" stroke-width="0.7"/>
<line x1="240.28" y1="386.7" x2="240.28" y2="389.1" stroke="#d8d8d8" stroke-width="0.7"/>
<line x1="248.14" y1="386.7" x2="248.14" y2="389.1" stroke="#d8d8d8" stroke-width="0.7"/>
<rect x="267" y="386.7" width="40" height="24.3" fill="#2e2e2e"/>
<rect x="267" y="386.7" width="40" height="24.3" fill="#383838"/>
<ellipse cx="289" cy="400.06" rx="14" ry="8.51" fill="#444" opacity="0.5"/>
<line x1="275" y1="386.7" x2="275" y2="389.1" stroke="#d8d8d8" stroke-width="0.7"/>
<line x1="283" y1="386.7" x2="283" y2="389.1" stroke="#d8d8d8" stroke-width="0.7"/>
<line x1="291" y1="386.7" x2="291" y2="389.1" stroke="#d8d8d8" stroke-width="0.7"/>
<line x1="299" y1="386.7" x2="299" y2="389.1" stroke="#d8d8d8" stroke-width="0.7"/>
<rect x="316.5" y="386.7" width="39.2" height="24.3" fill="#2e2e2e"/>
<rect x="316.5" y="386.7" width="39.2" height="24.3" fill="#383838"/>
<ellipse cx="338.06" cy="400.06" rx="13.72" ry="8.51" fill="#444" opacity="0.5"/>
<line x1="324.34" y1="386.7" x2="324.34" y2="389.1" stroke="#d8d8d8" stroke-width="0.7"/>
<line x1="332.18" y1="386.7" x2="332.18" y2="389.1" stroke="#d8d8d8" stroke-width="0.7"/>
<line x1="340.02" y1="386.7" x2="340.02" y2="389.1" stroke="#d8d8d8" stroke-width="0.7"/>
<line x1="347.86" y1="386.7" x2="347.86" y2="389.1" stroke="#d8d8d8" stroke-width="0.7"/>
<rect x="364.7" y="386.7" width="37" height="24.3" fill="#2e2e2e"/>
<rect x="364.7" y="386.7" width="37" height="24.3" fill="#383838"/>
<ellipse cx="385.05" cy="400.06" rx="12.95" ry="8.51" fill="#444" opacity="0.5"/>
<line x1="372.1" y1="386.7" x2="372.1" y2="389.1" stroke="#d8d8d8" stroke-width="0.7"/>
<line x1="379.5" y1="386.7" x2="379.5" y2="389.1" stroke="#d8d8d8" stroke-width="0.7"/>
<line x1="386.9" y1="386.7" x2="386.9" y2="389.1" stroke="#d8d8d8" stroke-width="0.7"/>
<line x1="394.3" y1="386.7" x2="394.3" y2="389.1" stroke="#d8d8d8" stroke-width="0.7"/>
<rect x="412.6" y="386.7" width="36.4" height="24.3" fill="#2e2e2e"/>
<rect x="412.6" y="386.7" width="36.4" height="24.3" fill="#383838"/>
<ellipse cx="432.62" cy="400.06" rx="12.74" ry="8.51" fill="#444" opacity="0.5"/>
<line x1="419.88" y1="386.7" x2="419.88" y2="389.1" stroke="#d8d8d8" stroke-width="0.7"/>
<line x1="427.16" y1="386.7" x2="427.16" y2="389.1" stroke="#d8d8d8" stroke-width="0.7"/>
<line x1="434.44" y1="386.7" x2="434.44" y2="389.1" stroke="#d8d8d8" stroke-width="0.7"/>
<line x1="441.72" y1="386.7" x2="441.72" y2="389.1" stroke="#d8d8d8" stroke-width="0.7"/>
<rect x="459.7" y="386.7" width="36.4" height="24.3" fill="#2e2e2e"/>
<rect x="459.7" y="386.7" width="36.4" height="24.3" fill="#383838"/>
<ellipse cx="479.72" cy="400.06" rx="12.74" ry="8.51" fill="#444" opacity="0.5"/>
<line x1="466.98" y1="386.7" x2="466.98" y2="389.1" stroke="#d8d8d8" stroke-width="0.7"/>
<line x1="474.26" y1="386.7" x2="474.26" y2="389.1" stroke="#d8d8d8" stroke-width="0.7"/>
<line x1="481.54" y1="386.7" x2="481.54" y2="389.1" stroke="#d8d8d8" stroke-width="0.7"/>
<line x1="488.82" y1="386.7" x2="488.82" y2="389.1" stroke="#d8d8d8" stroke-width="0.7"/>
<rect x="63.3" y="413.9" width="39.4" height="23.5" fill="#1e1e1e"/>
<path d="M69.9,415.17 C70.65,415.43 70.84,416.02 71.08,416.73 C71.33,417.44 71.23,418.37 71.38,419.41 C71.52,420.45 71.84,421.38 71.97,422.97 C72.1,424.57 72.18,427.25 72.16,429 C72.15,430.74 72.13,432.34 71.87,433.45 C71.61,434.57 71.59,435.31 70.59,435.69 C69.59,436.06 66.86,436.06 65.86,435.69 C64.86,435.31 64.84,434.57 64.58,433.45 C64.32,432.34 64.3,430.74 64.28,429 C64.27,427.25 64.35,424.57 64.48,422.97 C64.61,421.38 64.93,420.45 65.07,419.41 C65.22,418.37 65.12,417.44 65.37,416.73 C65.61,416.02 65.8,415.43 66.55,415.17 C67.31,414.91 69.14,414.91 69.9,415.17Z" fill="#2450d8"/>
<path d="M79.75,415.17 C80.5,415.43 80.69,416.02 80.93,416.73 C81.18,417.44 81.08,418.37 81.23,419.41 C81.37,420.45 81.69,421.38 81.82,422.97 C81.95,424.57 82.03,427.25 82.01,429 C82,430.74 81.98,432.34 81.72,433.45 C81.46,434.57 81.44,435.31 80.44,435.69 C79.44,436.06 76.71,436.06 75.71,435.69 C74.71,435.31 74.69,434.57 74.43,433.45 C74.17,432.34 74.15,430.74 74.13,429 C74.12,427.25 74.2,424.57 74.33,422.97 C74.46,421.38 74.78,420.45 74.92,419.41 C75.07,418.37 74.97,417.44 75.22,416.73 C75.46,416.02 75.65,415.43 76.4,415.17 C77.16,414.91 78.99,414.91 79.75,415.17Z" fill="url(#gMouseE)"/>
<g fill="#8a8a8a" opacity="0.22"><ellipse cx="77.82" cy="425.04" rx="1.07" ry="1.53"/><ellipse cx="77.54" cy="419.03" rx="0.63" ry="1.59"/><ellipse cx="77.31" cy="422.13" rx="0.61" ry="1.09"/><ellipse cx="76.69" cy="425.86" rx="0.76" ry="1.55"/></g>
<path d="M75.61,435.75v1.18M80.54,435.75v1.18" stroke="#777" stroke-width="0.8"/>
<ellipse cx="78.07" cy="426.12" rx="2.2" ry="7" fill="#2450d8" opacity="1"/>
<path d="M89.6,415.17 C90.35,415.43 90.54,416.02 90.78,416.73 C91.03,417.44 90.93,418.37 91.08,419.41 C91.22,420.45 91.54,421.38 91.67,422.97 C91.8,424.57 91.88,427.25 91.86,429 C91.85,430.74 91.83,432.34 91.57,433.45 C91.31,434.57 91.29,435.31 90.29,435.69 C89.29,436.06 86.56,436.06 85.56,435.69 C84.56,435.31 84.54,434.57 84.28,433.45 C84.02,432.34 84,430.74 83.98,429 C83.97,427.25 84.05,424.57 84.18,422.97 C84.31,421.38 84.63,420.45 84.77,419.41 C84.92,418.37 84.82,417.44 85.07,416.73 C85.31,416.02 85.5,415.43 86.25,415.17 C87.01,414.91 88.84,414.91 89.6,415.17Z" fill="#2450d8"/>
<path d="M99.45,415.17 C100.2,415.43 100.39,416.02 100.63,416.73 C100.88,417.44 100.78,418.37 100.93,419.41 C101.07,420.45 101.39,421.38 101.52,422.97 C101.65,424.57 101.73,427.25 101.72,429 C101.7,430.74 101.68,432.34 101.42,433.45 C101.16,434.57 101.14,435.31 100.14,435.69 C99.14,436.06 96.41,436.06 95.41,435.69 C94.41,435.31 94.39,434.57 94.13,433.45 C93.87,432.34 93.85,430.74 93.84,429 C93.82,427.25 93.9,424.57 94.03,422.97 C94.16,421.38 94.48,420.45 94.62,419.41 C94.77,418.37 94.67,417.44 94.92,416.73 C95.16,416.02 95.35,415.43 96.1,415.17 C96.86,414.91 98.69,414.91 99.45,415.17Z" fill="url(#gMouseE)"/>
<g fill="#8a8a8a" opacity="0.22"><ellipse cx="98.82" cy="419.75" rx="1.04" ry="1.91"/><ellipse cx="99.53" cy="433.78" rx="0.73" ry="1.05"/><ellipse cx="98.42" cy="426.91" rx="1.23" ry="1.71"/><ellipse cx="99.17" cy="418.77" rx="0.93" ry="1.24"/></g>
<path d="M95.31,435.75v1.18M100.24,435.75v1.18" stroke="#777" stroke-width="0.8"/>
<ellipse cx="97.78" cy="426.82" rx="2" ry="6" fill="#2450d8" opacity="1"/>
<rect x="115" y="413.9" width="39.5" height="23.5" fill="#1e1e1e"/>
<path d="M121.62,415.17 C122.37,415.43 122.55,416.02 122.8,416.73 C123.05,417.44 122.95,418.37 123.1,419.41 C123.25,420.45 123.56,421.38 123.69,422.97 C123.82,424.57 123.9,427.25 123.89,429 C123.87,430.74 123.85,432.34 123.59,433.45 C123.33,434.57 123.31,435.31 122.31,435.69 C121.3,436.06 118.57,436.06 117.57,435.69 C116.56,435.31 116.55,434.57 116.28,433.45 C116.02,432.34 116,430.74 115.99,429 C115.97,427.25 116.05,424.57 116.19,422.97 C116.32,421.38 116.63,420.45 116.78,419.41 C116.93,418.37 116.83,417.44 117.07,416.73 C117.32,416.02 117.5,415.43 118.26,415.17 C119.02,414.91 120.86,414.91 121.62,415.17Z" fill="url(#gMouseE)"/>
<g fill="#8a8a8a" opacity="0.22"><ellipse cx="118.55" cy="419.7" rx="1.26" ry="1.47"/><ellipse cx="121.23" cy="430.42" rx="1.17" ry="1.36"/><ellipse cx="121.1" cy="425.54" rx="1.25" ry="1.82"/><ellipse cx="121.67" cy="433.16" rx="0.85" ry="1.43"/></g>
<path d="M117.47,435.75v1.18M122.41,435.75v1.18" stroke="#777" stroke-width="0.8"/>
<path d="M131.49,415.17 C132.25,415.43 132.43,416.02 132.68,416.73 C132.92,417.44 132.82,418.37 132.97,419.41 C133.12,420.45 133.43,421.38 133.56,422.97 C133.7,424.57 133.78,427.25 133.76,429 C133.75,430.74 133.73,432.34 133.47,433.45 C133.2,434.57 133.19,435.31 132.18,435.69 C131.18,436.06 128.45,436.06 127.44,435.69 C126.44,435.31 126.42,434.57 126.16,433.45 C125.9,432.34 125.88,430.74 125.86,429 C125.85,427.25 125.93,424.57 126.06,422.97 C126.19,421.38 126.5,420.45 126.65,419.41 C126.8,418.37 126.7,417.44 126.95,416.73 C127.2,416.02 127.38,415.43 128.13,415.17 C128.89,414.91 130.73,414.91 131.49,415.17Z" fill="url(#gMouseE)"/>
<g fill="#8a8a8a" opacity="0.22"><ellipse cx="127.65" cy="431.32" rx="1.03" ry="1.2"/><ellipse cx="130.34" cy="433" rx="1.25" ry="2.19"/><ellipse cx="129.1" cy="422.43" rx="0.6" ry="1.17"/><ellipse cx="128.76" cy="428.17" rx="0.6" ry="2.12"/></g>
<path d="M127.34,435.75v1.18M132.28,435.75v1.18" stroke="#777" stroke-width="0.8"/>
<path d="M141.37,415.17 C142.12,415.43 142.3,416.02 142.55,416.73 C142.8,417.44 142.7,418.37 142.85,419.41 C143,420.45 143.31,421.38 143.44,422.97 C143.57,424.57 143.65,427.25 143.64,429 C143.62,430.74 143.6,432.34 143.34,433.45 C143.08,434.57 143.06,435.31 142.06,435.69 C141.05,436.06 138.32,436.06 137.32,435.69 C136.31,435.31 136.3,434.57 136.03,433.45 C135.77,432.34 135.75,430.74 135.74,429 C135.72,427.25 135.8,424.57 135.94,422.97 C136.07,421.38 136.38,420.45 136.53,419.41 C136.68,418.37 136.58,417.44 136.82,416.73 C137.07,416.02 137.25,415.43 138.01,415.17 C138.77,414.91 140.61,414.91 141.37,415.17Z" fill="url(#gMouseE)"/>
<g fill="#8a8a8a" opacity="0.22"><ellipse cx="140.33" cy="431.7" rx="0.8" ry="1.63"/><ellipse cx="141.49" cy="420.28" rx="0.65" ry="1.18"/><ellipse cx="138.4" cy="421.32" rx="0.62" ry="1.19"/><ellipse cx="139.43" cy="423.5" rx="0.91" ry="1.6"/></g>
<path d="M137.22,435.75v1.18M142.16,435.75v1.18" stroke="#777" stroke-width="0.8"/>
<path d="M151.24,415.17 C152,415.43 152.18,416.02 152.43,416.73 C152.67,417.44 152.57,418.37 152.72,419.41 C152.87,420.45 153.18,421.38 153.31,422.97 C153.45,424.57 153.53,427.25 153.51,429 C153.5,430.74 153.48,432.34 153.22,433.45 C152.95,434.57 152.94,435.31 151.93,435.69 C150.93,436.06 148.2,436.06 147.19,435.69 C146.19,435.31 146.17,434.57 145.91,433.45 C145.65,432.34 145.63,430.74 145.61,429 C145.6,427.25 145.68,424.57 145.81,422.97 C145.94,421.38 146.25,420.45 146.4,419.41 C146.55,418.37 146.45,417.44 146.7,416.73 C146.95,416.02 147.13,415.43 147.88,415.17 C148.64,414.91 150.48,414.91 151.24,415.17Z" fill="url(#gMouseE)"/>
<g fill="#8a8a8a" opacity="0.22"><ellipse cx="150.46" cy="427.44" rx="1.28" ry="2.13"/><ellipse cx="151.3" cy="426.57" rx="0.77" ry="1.54"/><ellipse cx="149.53" cy="426.45" rx="1.26" ry="1.8"/><ellipse cx="151.46" cy="420.9" rx="1.05" ry="1.32"/></g>
<path d="M147.09,435.75v1.18M152.03,435.75v1.18" stroke="#777" stroke-width="0.8"/>
<rect x="165.75" y="413.9" width="39.3" height="23.5" fill="#1e1e1e"/>
<path d="M172.33,415.17 C173.09,415.43 173.27,416.02 173.51,416.73 C173.76,417.44 173.66,418.37 173.81,419.41 C173.95,420.45 174.26,421.38 174.4,422.97 C174.53,424.57 174.61,427.25 174.59,429 C174.58,430.74 174.56,432.34 174.3,433.45 C174.04,434.57 174.02,435.31 173.02,435.69 C172.02,436.06 169.3,436.06 168.3,435.69 C167.31,435.31 167.29,434.57 167.03,433.45 C166.77,432.34 166.75,430.74 166.73,429 C166.72,427.25 166.8,424.57 166.93,422.97 C167.06,421.38 167.37,420.45 167.52,419.41 C167.67,418.37 167.57,417.44 167.81,416.73 C168.06,416.02 168.24,415.43 168.99,415.17 C169.75,414.91 171.58,414.91 172.33,415.17Z" fill="url(#gMouseE)"/>
<g fill="#8a8a8a" opacity="0.22"><ellipse cx="168.58" cy="418.67" rx="0.86" ry="1.22"/><ellipse cx="169.92" cy="419.25" rx="0.62" ry="1.3"/><ellipse cx="171.64" cy="425.97" rx="1.11" ry="2.1"/><ellipse cx="170.66" cy="427.57" rx="0.74" ry="1.42"/></g>
<path d="M168.21,435.75v1.18M173.12,435.75v1.18" stroke="#777" stroke-width="0.8"/>
<path d="M182.16,415.17 C182.91,415.43 183.09,416.02 183.34,416.73 C183.58,417.44 183.48,418.37 183.63,419.41 C183.78,420.45 184.09,421.38 184.22,422.97 C184.35,424.57 184.43,427.25 184.42,429 C184.4,430.74 184.38,432.34 184.12,433.45 C183.86,434.57 183.84,435.31 182.85,435.69 C181.85,436.06 179.13,436.06 178.13,435.69 C177.13,435.31 177.11,434.57 176.85,433.45 C176.59,432.34 176.57,430.74 176.56,429 C176.54,427.25 176.62,424.57 176.75,422.97 C176.89,421.38 177.2,420.45 177.34,419.41 C177.49,418.37 177.39,417.44 177.64,416.73 C177.88,416.02 178.06,415.43 178.82,415.17 C179.57,414.91 181.4,414.91 182.16,415.17Z" fill="url(#gMouseE)"/>
<g fill="#8a8a8a" opacity="0.22"><ellipse cx="181.56" cy="430.61" rx="0.7" ry="1.23"/><ellipse cx="180.32" cy="425.45" rx="1.03" ry="2.04"/><ellipse cx="179.39" cy="420.05" rx="0.66" ry="1.37"/><ellipse cx="179.92" cy="420.46" rx="1.18" ry="1.43"/></g>
<path d="M178.03,435.75v1.18M182.94,435.75v1.18" stroke="#777" stroke-width="0.8"/>
<path d="M191.98,415.17 C192.74,415.43 192.92,416.02 193.16,416.73 C193.41,417.44 193.31,418.37 193.46,419.41 C193.6,420.45 193.91,421.38 194.05,422.97 C194.18,424.57 194.26,427.25 194.24,429 C194.23,430.74 194.21,432.34 193.95,433.45 C193.69,434.57 193.67,435.31 192.67,435.69 C191.67,436.06 188.95,436.06 187.95,435.69 C186.96,435.31 186.94,434.57 186.68,433.45 C186.42,432.34 186.4,430.74 186.38,429 C186.37,427.25 186.45,424.57 186.58,422.97 C186.71,421.38 187.02,420.45 187.17,419.41 C187.32,418.37 187.22,417.44 187.46,416.73 C187.71,416.02 187.89,415.43 188.64,415.17 C189.4,414.91 191.23,414.91 191.98,415.17Z" fill="url(#gMouseE)"/>
<g fill="#8a8a8a" opacity="0.22"><ellipse cx="189.23" cy="422.93" rx="1.22" ry="1.75"/><ellipse cx="191.65" cy="420.5" rx="0.72" ry="1.49"/><ellipse cx="190.16" cy="420.69" rx="0.74" ry="1.1"/><ellipse cx="188.47" cy="420.95" rx="0.77" ry="1.36"/></g>
<path d="M187.86,435.75v1.18M192.77,435.75v1.18" stroke="#777" stroke-width="0.8"/>
<path d="M201.81,415.17 C202.56,415.43 202.74,416.02 202.99,416.73 C203.23,417.44 203.13,418.37 203.28,419.41 C203.43,420.45 203.74,421.38 203.87,422.97 C204,424.57 204.08,427.25 204.07,429 C204.05,430.74 204.03,432.34 203.77,433.45 C203.51,434.57 203.49,435.31 202.5,435.69 C201.5,436.06 198.78,436.06 197.78,435.69 C196.78,435.31 196.76,434.57 196.5,433.45 C196.24,432.34 196.22,430.74 196.21,429 C196.19,427.25 196.27,424.57 196.4,422.97 C196.53,421.38 196.85,420.45 196.99,419.41 C197.14,418.37 197.04,417.44 197.29,416.73 C197.53,416.02 197.71,415.43 198.47,415.17 C199.22,414.91 201.05,414.91 201.81,415.17Z" fill="url(#gMouseE)"/>
<g fill="#8a8a8a" opacity="0.22"><ellipse cx="200.58" cy="433.86" rx="1" ry="1.57"/><ellipse cx="199.65" cy="420.26" rx="1.06" ry="1.55"/><ellipse cx="200.83" cy="424.63" rx="0.75" ry="1.4"/><ellipse cx="198.63" cy="422.7" rx="1.27" ry="1.24"/></g>
<path d="M197.68,435.75v1.18M202.59,435.75v1.18" stroke="#777" stroke-width="0.8"/>
<rect x="216.7" y="413.9" width="39.3" height="23.5" fill="#1e1e1e"/>
<path d="M223.28,415.17 C224.04,415.43 224.22,416.02 224.46,416.73 C224.71,417.44 224.61,418.37 224.76,419.41 C224.9,420.45 225.21,421.38 225.35,422.97 C225.48,424.57 225.56,427.25 225.54,429 C225.53,430.74 225.51,432.34 225.25,433.45 C224.99,434.57 224.97,435.31 223.97,435.69 C222.97,436.06 220.25,436.06 219.25,435.69 C218.26,435.31 218.24,434.57 217.98,433.45 C217.72,432.34 217.7,430.74 217.68,429 C217.67,427.25 217.75,424.57 217.88,422.97 C218.01,421.38 218.32,420.45 218.47,419.41 C218.62,418.37 218.52,417.44 218.76,416.73 C219.01,416.02 219.19,415.43 219.94,415.17 C220.7,414.91 222.53,414.91 223.28,415.17Z" fill="url(#gMouseE)"/>
<g fill="#8a8a8a" opacity="0.22"><ellipse cx="222.04" cy="432.74" rx="0.88" ry="1.39"/><ellipse cx="219.92" cy="420.63" rx="1.25" ry="1.56"/><ellipse cx="220.85" cy="419.26" rx="1.1" ry="1.16"/><ellipse cx="221.61" cy="430.13" rx="1.16" ry="2.03"/></g>
<path d="M219.16,435.75v1.18M224.07,435.75v1.18" stroke="#777" stroke-width="0.8"/>
<path d="M233.11,415.17 C233.86,415.43 234.04,416.02 234.29,416.73 C234.53,417.44 234.43,418.37 234.58,419.41 C234.73,420.45 235.04,421.38 235.17,422.97 C235.3,424.57 235.38,427.25 235.37,429 C235.35,430.74 235.33,432.34 235.07,433.45 C234.81,434.57 234.79,435.31 233.8,435.69 C232.8,436.06 230.08,436.06 229.08,435.69 C228.08,435.31 228.06,434.57 227.8,433.45 C227.54,432.34 227.52,430.74 227.51,429 C227.49,427.25 227.57,424.57 227.7,422.97 C227.84,421.38 228.15,420.45 228.29,419.41 C228.44,418.37 228.34,417.44 228.59,416.73 C228.83,416.02 229.01,415.43 229.77,415.17 C230.52,414.91 232.35,414.91 233.11,415.17Z" fill="url(#gMouseE)"/>
<g fill="#8a8a8a" opacity="0.22"><ellipse cx="230.39" cy="420.98" rx="0.68" ry="1.38"/><ellipse cx="230.75" cy="421.6" rx="0.69" ry="1.5"/><ellipse cx="231.09" cy="420.63" rx="1.17" ry="1.11"/><ellipse cx="230.96" cy="424.49" rx="0.88" ry="1.74"/></g>
<path d="M228.98,435.75v1.18M233.89,435.75v1.18" stroke="#777" stroke-width="0.8"/>
<path d="M242.93,415.17 C243.69,415.43 243.87,416.02 244.11,416.73 C244.36,417.44 244.26,418.37 244.41,419.41 C244.55,420.45 244.86,421.38 245,422.97 C245.13,424.57 245.21,427.25 245.19,429 C245.18,430.74 245.16,432.34 244.9,433.45 C244.64,434.57 244.62,435.31 243.62,435.69 C242.62,436.06 239.9,436.06 238.9,435.69 C237.91,435.31 237.89,434.57 237.63,433.45 C237.37,432.34 237.35,430.74 237.33,429 C237.32,427.25 237.4,424.57 237.53,422.97 C237.66,421.38 237.97,420.45 238.12,419.41 C238.27,418.37 238.17,417.44 238.41,416.73 C238.66,416.02 238.84,415.43 239.59,415.17 C240.35,414.91 242.18,414.91 242.93,415.17Z" fill="url(#gMouseE)"/>
<g fill="#8a8a8a" opacity="0.22"><ellipse cx="241.33" cy="427.8" rx="1.11" ry="1.11"/><ellipse cx="243.27" cy="426.59" rx="1.13" ry="1.24"/><ellipse cx="241.15" cy="430.39" rx="0.82" ry="1.67"/><ellipse cx="242.87" cy="426.67" rx="0.97" ry="1.84"/></g>
<path d="M238.81,435.75v1.18M243.72,435.75v1.18" stroke="#777" stroke-width="0.8"/>
<path d="M252.76,415.17 C253.51,415.43 253.69,416.02 253.94,416.73 C254.18,417.44 254.08,418.37 254.23,419.41 C254.38,420.45 254.69,421.38 254.82,422.97 C254.95,424.57 255.03,427.25 255.02,429 C255,430.74 254.98,432.34 254.72,433.45 C254.46,434.57 254.44,435.31 253.45,435.69 C252.45,436.06 249.73,436.06 248.73,435.69 C247.73,435.31 247.71,434.57 247.45,433.45 C247.19,432.34 247.17,430.74 247.16,429 C247.14,427.25 247.22,424.57 247.35,422.97 C247.48,421.38 247.8,420.45 247.94,419.41 C248.09,418.37 247.99,417.44 248.24,416.73 C248.48,416.02 248.66,415.43 249.42,415.17 C250.17,414.91 252,414.91 252.76,415.17Z" fill="url(#gMouseE)"/>
<g fill="#8a8a8a" opacity="0.22"><ellipse cx="252.91" cy="422.58" rx="1.28" ry="1.89"/><ellipse cx="250.63" cy="421.2" rx="0.78" ry="1.49"/><ellipse cx="251.98" cy="424.77" rx="0.64" ry="1.1"/><ellipse cx="252.99" cy="419.81" rx="1.23" ry="2.1"/></g>
<path d="M248.63,435.75v1.18M253.54,435.75v1.18" stroke="#777" stroke-width="0.8"/>
<rect x="267" y="413.9" width="40" height="23.5" fill="#1e1e1e"/>
<path d="M273.7,415.17 C274.47,415.43 274.65,416.02 274.9,416.73 C275.15,417.44 275.05,418.37 275.2,419.41 C275.35,420.45 275.67,421.38 275.8,422.97 C275.93,424.57 276.02,427.25 276,429 C275.98,430.74 275.97,432.34 275.7,433.45 C275.43,434.57 275.42,435.31 274.4,435.69 C273.38,436.06 270.62,436.06 269.6,435.69 C268.58,435.31 268.57,434.57 268.3,433.45 C268.03,432.34 268.02,430.74 268,429 C267.98,427.25 268.07,424.57 268.2,422.97 C268.33,421.38 268.65,420.45 268.8,419.41 C268.95,418.37 268.85,417.44 269.1,416.73 C269.35,416.02 269.53,415.43 270.3,415.17 C271.07,414.91 272.93,414.91 273.7,415.17Z" fill="url(#gMouseE)"/>
<g fill="#8a8a8a" opacity="0.22"><ellipse cx="272.49" cy="428.67" rx="1.2" ry="2"/><ellipse cx="272.94" cy="430.12" rx="1.25" ry="1.29"/><ellipse cx="271.6" cy="430.09" rx="1.08" ry="1.48"/><ellipse cx="274.19" cy="419.31" rx="0.73" ry="1.18"/></g>
<path d="M269.5,435.75v1.18M274.5,435.75v1.18" stroke="#777" stroke-width="0.8"/>
<path d="M283.7,415.17 C284.47,415.43 284.65,416.02 284.9,416.73 C285.15,417.44 285.05,418.37 285.2,419.41 C285.35,420.45 285.67,421.38 285.8,422.97 C285.93,424.57 286.02,427.25 286,429 C285.98,430.74 285.97,432.34 285.7,433.45 C285.43,434.57 285.42,435.31 284.4,435.69 C283.38,436.06 280.62,436.06 279.6,435.69 C278.58,435.31 278.57,434.57 278.3,433.45 C278.03,432.34 278.02,430.74 278,429 C277.98,427.25 278.07,424.57 278.2,422.97 C278.33,421.38 278.65,420.45 278.8,419.41 C278.95,418.37 278.85,417.44 279.1,416.73 C279.35,416.02 279.53,415.43 280.3,415.17 C281.07,414.91 282.93,414.91 283.7,415.17Z" fill="url(#gMouseE)"/>
<g fill="#8a8a8a" opacity="0.22"><ellipse cx="281.29" cy="432.94" rx="1.29" ry="1.93"/><ellipse cx="281.65" cy="432.79" rx="0.83" ry="1.64"/><ellipse cx="282.96" cy="423.93" rx="1.1" ry="2.1"/><ellipse cx="281.34" cy="430.43" rx="0.65" ry="2.09"/></g>
<path d="M279.5,435.75v1.18M284.5,435.75v1.18" stroke="#777" stroke-width="0.8"/>
<path d="M293.7,415.17 C294.47,415.43 294.65,416.02 294.9,416.73 C295.15,417.44 295.05,418.37 295.2,419.41 C295.35,420.45 295.67,421.38 295.8,422.97 C295.93,424.57 296.02,427.25 296,429 C295.98,430.74 295.97,432.34 295.7,433.45 C295.43,434.57 295.42,435.31 294.4,435.69 C293.38,436.06 290.62,436.06 289.6,435.69 C288.58,435.31 288.57,434.57 288.3,433.45 C288.03,432.34 288.02,430.74 288,429 C287.98,427.25 288.07,424.57 288.2,422.97 C288.33,421.38 288.65,420.45 288.8,419.41 C288.95,418.37 288.85,417.44 289.1,416.73 C289.35,416.02 289.53,415.43 290.3,415.17 C291.07,414.91 292.93,414.91 293.7,415.17Z" fill="url(#gMouseE)"/>
<g fill="#8a8a8a" opacity="0.22"><ellipse cx="291.86" cy="424.05" rx="1.27" ry="1.11"/><ellipse cx="292.07" cy="433.18" rx="0.86" ry="1.32"/><ellipse cx="291.81" cy="428.75" rx="0.78" ry="2.13"/><ellipse cx="293.83" cy="430.58" rx="0.97" ry="1.51"/></g>
<path d="M289.5,435.75v1.18M294.5,435.75v1.18" stroke="#777" stroke-width="0.8"/>
<path d="M303.7,415.17 C304.47,415.43 304.65,416.02 304.9,416.73 C305.15,417.44 305.05,418.37 305.2,419.41 C305.35,420.45 305.67,421.38 305.8,422.97 C305.93,424.57 306.02,427.25 306,429 C305.98,430.74 305.97,432.34 305.7,433.45 C305.43,434.57 305.42,435.31 304.4,435.69 C303.38,436.06 300.62,436.06 299.6,435.69 C298.58,435.31 298.57,434.57 298.3,433.45 C298.03,432.34 298.02,430.74 298,429 C297.98,427.25 298.07,424.57 298.2,422.97 C298.33,421.38 298.65,420.45 298.8,419.41 C298.95,418.37 298.85,417.44 299.1,416.73 C299.35,416.02 299.53,415.43 300.3,415.17 C301.07,414.91 302.93,414.91 303.7,415.17Z" fill="url(#gMouseE)"/>
<g fill="#8a8a8a" opacity="0.22"><ellipse cx="300.84" cy="423.96" rx="0.93" ry="1.4"/><ellipse cx="302.09" cy="418.78" rx="1.16" ry="1.91"/><ellipse cx="303.26" cy="420.11" rx="0.79" ry="1.27"/><ellipse cx="302.29" cy="433.3" rx="0.85" ry="2"/></g>
<path d="M299.5,435.75v1.18M304.5,435.75v1.18" stroke="#777" stroke-width="0.8"/>
<rect x="316.5" y="413.9" width="39.2" height="23.5" fill="#1e1e1e"/>
<path d="M323.07,415.17 C323.82,415.43 324,416.02 324.24,416.73 C324.49,417.44 324.39,418.37 324.54,419.41 C324.68,420.45 324.99,421.38 325.12,422.97 C325.25,424.57 325.34,427.25 325.32,429 C325.3,430.74 325.29,432.34 325.03,433.45 C324.76,434.57 324.75,435.31 323.75,435.69 C322.76,436.06 320.04,436.06 319.05,435.69 C318.05,435.31 318.04,434.57 317.77,433.45 C317.51,432.34 317.5,430.74 317.48,429 C317.46,427.25 317.55,424.57 317.68,422.97 C317.81,421.38 318.12,420.45 318.26,419.41 C318.41,418.37 318.31,417.44 318.56,416.73 C318.8,416.02 318.98,415.43 319.73,415.17 C320.49,414.91 322.31,414.91 323.07,415.17Z" fill="#c8c8ec"/>
<ellipse cx="321.4" cy="426.82" rx="2.8" ry="6" fill="#5060d0" opacity="0.8"/>
<path d="M332.87,415.17 C333.62,415.43 333.8,416.02 334.04,416.73 C334.29,417.44 334.19,418.37 334.34,419.41 C334.48,420.45 334.79,421.38 334.92,422.97 C335.05,424.57 335.14,427.25 335.12,429 C335.1,430.74 335.09,432.34 334.83,433.45 C334.56,434.57 334.55,435.31 333.55,435.69 C332.56,436.06 329.84,436.06 328.85,435.69 C327.85,435.31 327.84,434.57 327.57,433.45 C327.31,432.34 327.3,430.74 327.28,429 C327.26,427.25 327.35,424.57 327.48,422.97 C327.61,421.38 327.92,420.45 328.06,419.41 C328.21,418.37 328.11,417.44 328.36,416.73 C328.6,416.02 328.78,415.43 329.53,415.17 C330.29,414.91 332.11,414.91 332.87,415.17Z" fill="url(#gMouseE)"/>
<g fill="#8a8a8a" opacity="0.22"><ellipse cx="329.21" cy="428.85" rx="0.87" ry="1.42"/><ellipse cx="331.9" cy="431.5" rx="1.25" ry="1.49"/><ellipse cx="331.24" cy="425.6" rx="0.64" ry="1.67"/><ellipse cx="332.25" cy="432.65" rx="0.75" ry="1.67"/></g>
<path d="M328.75,435.75v1.18M333.65,435.75v1.18" stroke="#777" stroke-width="0.8"/>
<ellipse cx="331.2" cy="424.47" rx="2.5" ry="5" fill="#9090e0" opacity="0.6"/>
<path d="M342.67,415.17 C343.42,415.43 343.6,416.02 343.84,416.73 C344.09,417.44 343.99,418.37 344.14,419.41 C344.28,420.45 344.59,421.38 344.72,422.97 C344.85,424.57 344.94,427.25 344.92,429 C344.9,430.74 344.89,432.34 344.63,433.45 C344.36,434.57 344.35,435.31 343.35,435.69 C342.36,436.06 339.64,436.06 338.65,435.69 C337.65,435.31 337.64,434.57 337.37,433.45 C337.11,432.34 337.1,430.74 337.08,429 C337.06,427.25 337.15,424.57 337.28,422.97 C337.41,421.38 337.72,420.45 337.86,419.41 C338.01,418.37 337.91,417.44 338.16,416.73 C338.4,416.02 338.58,415.43 339.33,415.17 C340.09,414.91 341.91,414.91 342.67,415.17Z" fill="url(#gMouseE)"/>
<g fill="#8a8a8a" opacity="0.22"><ellipse cx="342.27" cy="421.66" rx="0.8" ry="1.5"/><ellipse cx="341.78" cy="431.55" rx="0.8" ry="1.73"/><ellipse cx="342.99" cy="433.14" rx="1.18" ry="1.5"/><ellipse cx="341.86" cy="425.96" rx="0.96" ry="1.43"/></g>
<path d="M338.55,435.75v1.18M343.45,435.75v1.18" stroke="#777" stroke-width="0.8"/>
<path d="M352.47,415.17 C353.22,415.43 353.4,416.02 353.64,416.73 C353.89,417.44 353.79,418.37 353.94,419.41 C354.08,420.45 354.39,421.38 354.52,422.97 C354.65,424.57 354.74,427.25 354.72,429 C354.7,430.74 354.69,432.34 354.43,433.45 C354.16,434.57 354.15,435.31 353.15,435.69 C352.16,436.06 349.44,436.06 348.45,435.69 C347.45,435.31 347.44,434.57 347.17,433.45 C346.91,432.34 346.9,430.74 346.88,429 C346.86,427.25 346.95,424.57 347.08,422.97 C347.21,421.38 347.52,420.45 347.66,419.41 C347.81,418.37 347.71,417.44 347.96,416.73 C348.2,416.02 348.38,415.43 349.13,415.17 C349.89,414.91 351.71,414.91 352.47,415.17Z" fill="url(#gMouseE)"/>
<g fill="#8a8a8a" opacity="0.22"><ellipse cx="352.92" cy="430.06" rx="0.98" ry="1.04"/><ellipse cx="350.04" cy="431.74" rx="0.66" ry="2.06"/><ellipse cx="350.55" cy="419.91" rx="0.93" ry="1.95"/><ellipse cx="348.86" cy="426.15" rx="1.08" ry="1.52"/></g>
<path d="M348.35,435.75v1.18M353.25,435.75v1.18" stroke="#777" stroke-width="0.8"/>
<rect x="364.7" y="413.9" width="37" height="23.5" fill="#1e1e1e"/>
<path d="M370.9,415.17 C371.61,415.43 371.78,416.02 372.01,416.73 C372.24,417.44 372.15,418.37 372.28,419.41 C372.42,420.45 372.72,421.38 372.84,422.97 C372.96,424.57 373.04,427.25 373.02,429 C373.01,430.74 372.99,432.34 372.75,433.45 C372.5,434.57 372.49,435.31 371.55,435.69 C370.6,436.06 368.05,436.06 367.1,435.69 C366.16,435.31 366.15,434.57 365.9,433.45 C365.66,432.34 365.64,430.74 365.62,429 C365.61,427.25 365.69,424.57 365.81,422.97 C365.93,421.38 366.23,420.45 366.37,419.41 C366.5,418.37 366.41,417.44 366.64,416.73 C366.87,416.02 367.04,415.43 367.75,415.17 C368.46,414.91 370.19,414.91 370.9,415.17Z" fill="#2450d8"/>
<ellipse cx="369.32" cy="423.3" rx="2" ry="3" fill="#40a0f0" opacity="0.7"/>
<path d="M380.15,415.17 C380.86,415.43 381.03,416.02 381.26,416.73 C381.49,417.44 381.4,418.37 381.53,419.41 C381.67,420.45 381.97,421.38 382.09,422.97 C382.21,424.57 382.29,427.25 382.27,429 C382.26,430.74 382.24,432.34 382,433.45 C381.75,434.57 381.74,435.31 380.8,435.69 C379.85,436.06 377.3,436.06 376.35,435.69 C375.41,435.31 375.4,434.57 375.15,433.45 C374.91,432.34 374.89,430.74 374.88,429 C374.86,427.25 374.94,424.57 375.06,422.97 C375.18,421.38 375.48,420.45 375.62,419.41 C375.75,418.37 375.66,417.44 375.89,416.73 C376.12,416.02 376.29,415.43 377,415.17 C377.71,414.91 379.44,414.91 380.15,415.17Z" fill="url(#gMouseE)"/>
<g fill="#8a8a8a" opacity="0.22"><ellipse cx="377.74" cy="427.88" rx="0.98" ry="1.14"/><ellipse cx="380.17" cy="431.65" rx="0.97" ry="2.1"/><ellipse cx="379.05" cy="419.11" rx="1.26" ry="1.8"/><ellipse cx="377.16" cy="418.93" rx="1.13" ry="1.46"/></g>
<path d="M376.26,435.75v1.18M380.89,435.75v1.18" stroke="#777" stroke-width="0.8"/>
<ellipse cx="378.57" cy="423.3" rx="2.4" ry="6" fill="#6070d0" opacity="0.8"/>
<path d="M389.4,415.17 C390.11,415.43 390.28,416.02 390.51,416.73 C390.74,417.44 390.65,418.37 390.78,419.41 C390.92,420.45 391.22,421.38 391.34,422.97 C391.46,424.57 391.54,427.25 391.52,429 C391.51,430.74 391.49,432.34 391.25,433.45 C391,434.57 390.99,435.31 390.05,435.69 C389.1,436.06 386.55,436.06 385.6,435.69 C384.66,435.31 384.65,434.57 384.4,433.45 C384.16,432.34 384.14,430.74 384.12,429 C384.11,427.25 384.19,424.57 384.31,422.97 C384.43,421.38 384.73,420.45 384.87,419.41 C385,418.37 384.91,417.44 385.14,416.73 C385.37,416.02 385.54,415.43 386.25,415.17 C386.96,414.91 388.69,414.91 389.4,415.17Z" fill="url(#gMouseE)"/>
<g fill="#8a8a8a" opacity="0.22"><ellipse cx="386.33" cy="428.84" rx="0.99" ry="1.99"/><ellipse cx="388.24" cy="425.48" rx="0.83" ry="2.19"/><ellipse cx="389.66" cy="419.58" rx="1.29" ry="1.91"/><ellipse cx="386.82" cy="430.56" rx="1.05" ry="1.75"/></g>
<path d="M385.51,435.75v1.18M390.14,435.75v1.18" stroke="#777" stroke-width="0.8"/>
<path d="M398.65,415.17 C399.36,415.43 399.53,416.02 399.76,416.73 C399.99,417.44 399.9,418.37 400.03,419.41 C400.17,420.45 400.47,421.38 400.59,422.97 C400.71,424.57 400.79,427.25 400.77,429 C400.76,430.74 400.74,432.34 400.5,433.45 C400.25,434.57 400.24,435.31 399.3,435.69 C398.35,436.06 395.8,436.06 394.85,435.69 C393.91,435.31 393.9,434.57 393.65,433.45 C393.41,432.34 393.39,430.74 393.38,429 C393.36,427.25 393.44,424.57 393.56,422.97 C393.68,421.38 393.98,420.45 394.12,419.41 C394.25,418.37 394.16,417.44 394.39,416.73 C394.62,416.02 394.79,415.43 395.5,415.17 C396.21,414.91 397.94,414.91 398.65,415.17Z" fill="url(#gMouseE)"/>
<g fill="#8a8a8a" opacity="0.22"><ellipse cx="398.59" cy="423.21" rx="1.17" ry="1.68"/><ellipse cx="396.58" cy="433.45" rx="0.65" ry="1.71"/><ellipse cx="398.47" cy="419.56" rx="1.2" ry="1.63"/><ellipse cx="397.29" cy="423.35" rx="1.14" ry="1.17"/></g>
<path d="M394.76,435.75v1.18M399.39,435.75v1.18" stroke="#777" stroke-width="0.8"/>
<rect x="412.6" y="413.9" width="36.4" height="23.5" fill="#1e1e1e"/>
<path d="M418.7,415.17 C419.39,415.43 419.56,416.02 419.79,416.73 C420.02,417.44 419.93,418.37 420.06,419.41 C420.2,420.45 420.49,421.38 420.61,422.97 C420.73,424.57 420.81,427.25 420.79,429 C420.77,430.74 420.76,432.34 420.52,433.45 C420.27,434.57 420.26,435.31 419.33,435.69 C418.41,436.06 415.89,436.06 414.97,435.69 C414.04,435.31 414.03,434.57 413.78,433.45 C413.54,432.34 413.53,430.74 413.51,429 C413.49,427.25 413.57,424.57 413.69,422.97 C413.81,421.38 414.1,420.45 414.24,419.41 C414.37,418.37 414.28,417.44 414.51,416.73 C414.74,416.02 414.91,415.43 415.6,415.17 C416.3,414.91 418,414.91 418.7,415.17Z" fill="#50c050"/>
<rect x="412.6" y="413.9" width="9.1" height="23.5" fill="#48c8d0"/><rect x="413.9" y="414.9" width="6.5" height="21.5" fill="#62d040"/><ellipse cx="417.15" cy="424.47" rx="2.2" ry="6" fill="#b8e040" opacity="0.8"/>
<path d="M427.8,415.17 C428.49,415.43 428.66,416.02 428.89,416.73 C429.12,417.44 429.03,418.37 429.16,419.41 C429.3,420.45 429.59,421.38 429.71,422.97 C429.83,424.57 429.91,427.25 429.89,429 C429.87,430.74 429.86,432.34 429.62,433.45 C429.37,434.57 429.36,435.31 428.43,435.69 C427.51,436.06 424.99,436.06 424.07,435.69 C423.14,435.31 423.13,434.57 422.88,433.45 C422.64,432.34 422.63,430.74 422.61,429 C422.59,427.25 422.67,424.57 422.79,422.97 C422.91,421.38 423.2,420.45 423.34,419.41 C423.47,418.37 423.38,417.44 423.61,416.73 C423.84,416.02 424.01,415.43 424.7,415.17 C425.4,414.91 427.1,414.91 427.8,415.17Z" fill="#2450d8"/>
<ellipse cx="426.25" cy="425.65" rx="1.5" ry="3" fill="#e0e0f0" opacity="0.8"/>
<path d="M436.9,415.17 C437.59,415.43 437.76,416.02 437.99,416.73 C438.22,417.44 438.13,418.37 438.26,419.41 C438.4,420.45 438.69,421.38 438.81,422.97 C438.93,424.57 439.01,427.25 438.99,429 C438.97,430.74 438.96,432.34 438.72,433.45 C438.47,434.57 438.46,435.31 437.53,435.69 C436.61,436.06 434.09,436.06 433.17,435.69 C432.24,435.31 432.23,434.57 431.98,433.45 C431.74,432.34 431.73,430.74 431.71,429 C431.69,427.25 431.77,424.57 431.89,422.97 C432.01,421.38 432.3,420.45 432.44,419.41 C432.57,418.37 432.48,417.44 432.71,416.73 C432.94,416.02 433.11,415.43 433.8,415.17 C434.5,414.91 436.2,414.91 436.9,415.17Z" fill="url(#gMouseE)"/>
<g fill="#8a8a8a" opacity="0.22"><ellipse cx="435.29" cy="424.22" rx="0.98" ry="1.25"/><ellipse cx="435.52" cy="418.82" rx="1.04" ry="1.71"/><ellipse cx="433.92" cy="423.43" rx="0.91" ry="2"/><ellipse cx="437.32" cy="427.64" rx="1.15" ry="1.44"/></g>
<path d="M433.08,435.75v1.18M437.62,435.75v1.18" stroke="#777" stroke-width="0.8"/>
<ellipse cx="435.35" cy="426.82" rx="2.5" ry="5" fill="#2450d8" opacity="0.9"/>
<path d="M446,415.17 C446.69,415.43 446.86,416.02 447.09,416.73 C447.32,417.44 447.23,418.37 447.36,419.41 C447.5,420.45 447.79,421.38 447.91,422.97 C448.03,424.57 448.11,427.25 448.09,429 C448.07,430.74 448.06,432.34 447.82,433.45 C447.57,434.57 447.56,435.31 446.63,435.69 C445.71,436.06 443.19,436.06 442.27,435.69 C441.34,435.31 441.33,434.57 441.08,433.45 C440.84,432.34 440.83,430.74 440.81,429 C440.79,427.25 440.87,424.57 440.99,422.97 C441.11,421.38 441.4,420.45 441.54,419.41 C441.67,418.37 441.58,417.44 441.81,416.73 C442.04,416.02 442.21,415.43 442.9,415.17 C443.6,414.91 445.3,414.91 446,415.17Z" fill="url(#gMouseE)"/>
<g fill="#8a8a8a" opacity="0.22"><ellipse cx="446.07" cy="433.06" rx="1.3" ry="1.74"/><ellipse cx="442.78" cy="421.9" rx="0.76" ry="1.73"/><ellipse cx="443.84" cy="425.22" rx="1.14" ry="1.12"/><ellipse cx="442.57" cy="422.17" rx="1.05" ry="1.29"/></g>
<path d="M442.18,435.75v1.18M446.73,435.75v1.18" stroke="#777" stroke-width="0.8"/>
<ellipse cx="444.45" cy="425.65" rx="2" ry="3" fill="#8090d0" opacity="0.5"/>
<rect x="459.7" y="413.9" width="36.4" height="23.5" fill="#101010"/>
<path d="M465.8,415.17 C466.49,415.43 466.66,416.02 466.89,416.73 C467.12,417.44 467.03,418.37 467.16,419.41 C467.3,420.45 467.59,421.38 467.71,422.97 C467.83,424.57 467.91,427.25 467.89,429 C467.87,430.74 467.86,432.34 467.62,433.45 C467.37,434.57 467.36,435.31 466.43,435.69 C465.51,436.06 462.99,436.06 462.07,435.69 C461.14,435.31 461.13,434.57 460.88,433.45 C460.64,432.34 460.63,430.74 460.61,429 C460.59,427.25 460.67,424.57 460.79,422.97 C460.91,421.38 461.2,420.45 461.34,419.41 C461.47,418.37 461.38,417.44 461.61,416.73 C461.84,416.02 462.01,415.43 462.7,415.17 C463.4,414.91 465.1,414.91 465.8,415.17Z" fill="#202020"/>
<path d="M474.9,415.17 C475.59,415.43 475.76,416.02 475.99,416.73 C476.22,417.44 476.13,418.37 476.26,419.41 C476.4,420.45 476.69,421.38 476.81,422.97 C476.93,424.57 477.01,427.25 476.99,429 C476.97,430.74 476.96,432.34 476.72,433.45 C476.47,434.57 476.46,435.31 475.53,435.69 C474.61,436.06 472.09,436.06 471.17,435.69 C470.24,435.31 470.23,434.57 469.98,433.45 C469.74,432.34 469.73,430.74 469.71,429 C469.69,427.25 469.77,424.57 469.89,422.97 C470.01,421.38 470.3,420.45 470.44,419.41 C470.57,418.37 470.48,417.44 470.71,416.73 C470.94,416.02 471.11,415.43 471.8,415.17 C472.5,414.91 474.2,414.91 474.9,415.17Z" fill="#2458e8"/>
<ellipse cx="473.35" cy="423.77" rx="3" ry="7" fill="#38b0f8" opacity="0.95"/>
<path d="M484,415.17 C484.69,415.43 484.86,416.02 485.09,416.73 C485.32,417.44 485.23,418.37 485.36,419.41 C485.5,420.45 485.79,421.38 485.91,422.97 C486.03,424.57 486.11,427.25 486.09,429 C486.07,430.74 486.06,432.34 485.82,433.45 C485.57,434.57 485.56,435.31 484.63,435.69 C483.71,436.06 481.19,436.06 480.27,435.69 C479.34,435.31 479.33,434.57 479.08,433.45 C478.84,432.34 478.83,430.74 478.81,429 C478.79,427.25 478.87,424.57 478.99,422.97 C479.11,421.38 479.4,420.45 479.54,419.41 C479.67,418.37 479.58,417.44 479.81,416.73 C480.04,416.02 480.21,415.43 480.9,415.17 C481.6,414.91 483.3,414.91 484,415.17Z" fill="#2458e8"/>
<ellipse cx="482.45" cy="425.65" rx="1.8" ry="6" fill="#e8e8f8" opacity="0.85"/>
<path d="M493.1,415.17 C493.79,415.43 493.96,416.02 494.19,416.73 C494.42,417.44 494.33,418.37 494.46,419.41 C494.6,420.45 494.89,421.38 495.01,422.97 C495.13,424.57 495.21,427.25 495.19,429 C495.17,430.74 495.16,432.34 494.92,433.45 C494.67,434.57 494.66,435.31 493.73,435.69 C492.81,436.06 490.29,436.06 489.37,435.69 C488.44,435.31 488.43,434.57 488.18,433.45 C487.94,432.34 487.93,430.74 487.91,429 C487.89,427.25 487.97,424.57 488.09,422.97 C488.21,421.38 488.5,420.45 488.64,419.41 C488.77,418.37 488.68,417.44 488.91,416.73 C489.14,416.02 489.31,415.43 490,415.17 C490.7,414.91 492.4,414.91 493.1,415.17Z" fill="#2458e8"/>
<ellipse cx="491.55" cy="424.47" rx="3" ry="7" fill="#38b8f8" opacity="0.95"/>
<rect x="62.8" y="439.6" width="50.2" height="24.3" fill="#1e1e1e"/>
<path d="M69.53,440.89 C70.3,441.16 70.48,441.78 70.73,442.51 C70.98,443.24 70.88,444.2 71.03,445.28 C71.18,446.36 71.5,447.32 71.64,448.98 C71.77,450.63 71.85,453.41 71.84,455.22 C71.82,457.02 71.8,458.68 71.53,459.84 C71.27,460.99 71.25,461.76 70.23,462.14 C69.21,462.53 66.43,462.53 65.41,462.14 C64.39,461.76 64.37,460.99 64.11,459.84 C63.84,458.68 63.82,457.02 63.8,455.22 C63.79,453.41 63.87,450.63 64,448.98 C64.14,447.32 64.46,446.36 64.61,445.28 C64.76,444.2 64.66,443.24 64.91,442.51 C65.16,441.78 65.34,441.16 66.11,440.89 C66.88,440.62 68.76,440.62 69.53,440.89Z" fill="#2450d8"/>
<ellipse cx="67.82" cy="446.89" rx="1.5" ry="2.5" fill="#d8d8e8" opacity="0.7"/>
<path d="M79.57,440.89 C80.34,441.16 80.52,441.78 80.77,442.51 C81.02,443.24 80.92,444.2 81.07,445.28 C81.22,446.36 81.54,447.32 81.68,448.98 C81.81,450.63 81.89,453.41 81.88,455.22 C81.86,457.02 81.84,458.68 81.57,459.84 C81.31,460.99 81.29,461.76 80.27,462.14 C79.25,462.53 76.47,462.53 75.45,462.14 C74.43,461.76 74.41,460.99 74.15,459.84 C73.88,458.68 73.86,457.02 73.84,455.22 C73.83,453.41 73.91,450.63 74.04,448.98 C74.18,447.32 74.5,446.36 74.65,445.28 C74.8,444.2 74.7,443.24 74.95,442.51 C75.2,441.78 75.38,441.16 76.15,440.89 C76.92,440.62 78.8,440.62 79.57,440.89Z" fill="url(#gMouseE)"/>
<g fill="#8a8a8a" opacity="0.22"><ellipse cx="79.75" cy="452.82" rx="0.98" ry="1.61"/><ellipse cx="75.92" cy="454.52" rx="1.01" ry="1.85"/><ellipse cx="77.13" cy="458.5" rx="0.9" ry="1.92"/><ellipse cx="75.66" cy="453.64" rx="1.25" ry="1.21"/></g>
<path d="M75.35,462.2v1.21M80.37,462.2v1.21" stroke="#777" stroke-width="0.8"/>
<ellipse cx="77.86" cy="451.75" rx="2.2" ry="7" fill="#2450d8" opacity="1"/>
<path d="M89.61,440.89 C90.38,441.16 90.56,441.78 90.81,442.51 C91.06,443.24 90.96,444.2 91.11,445.28 C91.26,446.36 91.58,447.32 91.72,448.98 C91.85,450.63 91.93,453.41 91.92,455.22 C91.9,457.02 91.88,458.68 91.61,459.84 C91.35,460.99 91.33,461.76 90.31,462.14 C89.29,462.53 86.51,462.53 85.49,462.14 C84.47,461.76 84.45,460.99 84.19,459.84 C83.92,458.68 83.9,457.02 83.88,455.22 C83.87,453.41 83.95,450.63 84.08,448.98 C84.22,447.32 84.54,446.36 84.69,445.28 C84.84,444.2 84.74,443.24 84.99,442.51 C85.24,441.78 85.42,441.16 86.19,440.89 C86.96,440.62 88.84,440.62 89.61,440.89Z" fill="#2450d8"/>
<ellipse cx="87.9" cy="451.75" rx="1.2" ry="2" fill="#e0e0f0" opacity="0.8"/>
<path d="M99.65,440.89 C100.42,441.16 100.6,441.78 100.85,442.51 C101.1,443.24 101,444.2 101.15,445.28 C101.3,446.36 101.62,447.32 101.76,448.98 C101.89,450.63 101.97,453.41 101.96,455.22 C101.94,457.02 101.92,458.68 101.65,459.84 C101.39,460.99 101.37,461.76 100.35,462.14 C99.33,462.53 96.55,462.53 95.53,462.14 C94.51,461.76 94.49,460.99 94.23,459.84 C93.96,458.68 93.94,457.02 93.92,455.22 C93.91,453.41 93.99,450.63 94.12,448.98 C94.26,447.32 94.58,446.36 94.73,445.28 C94.88,444.2 94.78,443.24 95.03,442.51 C95.28,441.78 95.46,441.16 96.23,440.89 C97,440.62 98.88,440.62 99.65,440.89Z" fill="#2450d8"/>
<ellipse cx="97.94" cy="448.11" rx="1.2" ry="2" fill="#e0e0f0" opacity="0.7"/>
<path d="M109.69,440.89 C110.46,441.16 110.64,441.78 110.89,442.51 C111.14,443.24 111.04,444.2 111.19,445.28 C111.34,446.36 111.66,447.32 111.8,448.98 C111.93,450.63 112.01,453.41 112,455.22 C111.98,457.02 111.96,458.68 111.69,459.84 C111.43,460.99 111.41,461.76 110.39,462.14 C109.37,462.53 106.59,462.53 105.57,462.14 C104.55,461.76 104.53,460.99 104.27,459.84 C104,458.68 103.98,457.02 103.96,455.22 C103.95,453.41 104.03,450.63 104.16,448.98 C104.3,447.32 104.62,446.36 104.77,445.28 C104.92,444.2 104.82,443.24 105.07,442.51 C105.32,441.78 105.5,441.16 106.27,440.89 C107.04,440.62 108.92,440.62 109.69,440.89Z" fill="url(#gMouseE)"/>
<g fill="#8a8a8a" opacity="0.22"><ellipse cx="105.78" cy="444.72" rx="0.86" ry="1.99"/><ellipse cx="106.74" cy="454.87" rx="1.16" ry="1.29"/><ellipse cx="109.71" cy="453.73" rx="0.89" ry="1.46"/><ellipse cx="106.53" cy="457.64" rx="1.17" ry="1.25"/></g>
<path d="M105.47,462.2v1.21M110.49,462.2v1.21" stroke="#777" stroke-width="0.8"/>
<ellipse cx="107.98" cy="452.96" rx="1.8" ry="6" fill="#2450d8" opacity="1"/>
<rect x="114.5" y="439.6" width="50" height="24.3" fill="#1e1e1e"/>
<path d="M121.2,440.89 C121.97,441.16 122.15,441.78 122.4,442.51 C122.65,443.24 122.55,444.2 122.7,445.28 C122.85,446.36 123.17,447.32 123.3,448.98 C123.43,450.63 123.52,453.41 123.5,455.22 C123.48,457.02 123.47,458.68 123.2,459.84 C122.93,460.99 122.92,461.76 121.9,462.14 C120.88,462.53 118.12,462.53 117.1,462.14 C116.08,461.76 116.07,460.99 115.8,459.84 C115.53,458.68 115.52,457.02 115.5,455.22 C115.48,453.41 115.57,450.63 115.7,448.98 C115.83,447.32 116.15,446.36 116.3,445.28 C116.45,444.2 116.35,443.24 116.6,442.51 C116.85,441.78 117.03,441.16 117.8,440.89 C118.57,440.62 120.43,440.62 121.2,440.89Z" fill="url(#gMouseE)"/>
<g fill="#8a8a8a" opacity="0.22"><ellipse cx="117.55" cy="446.79" rx="0.88" ry="1.43"/><ellipse cx="121.42" cy="456.53" rx="0.72" ry="2.07"/><ellipse cx="121.53" cy="459.61" rx="0.95" ry="1.77"/><ellipse cx="121.29" cy="447.35" rx="1.3" ry="1.35"/></g>
<path d="M117,462.2v1.21M122,462.2v1.21" stroke="#777" stroke-width="0.8"/>
<path d="M131.2,440.89 C131.97,441.16 132.15,441.78 132.4,442.51 C132.65,443.24 132.55,444.2 132.7,445.28 C132.85,446.36 133.17,447.32 133.3,448.98 C133.43,450.63 133.52,453.41 133.5,455.22 C133.48,457.02 133.47,458.68 133.2,459.84 C132.93,460.99 132.92,461.76 131.9,462.14 C130.88,462.53 128.12,462.53 127.1,462.14 C126.08,461.76 126.07,460.99 125.8,459.84 C125.53,458.68 125.52,457.02 125.5,455.22 C125.48,453.41 125.57,450.63 125.7,448.98 C125.83,447.32 126.15,446.36 126.3,445.28 C126.45,444.2 126.35,443.24 126.6,442.51 C126.85,441.78 127.03,441.16 127.8,440.89 C128.57,440.62 130.43,440.62 131.2,440.89Z" fill="url(#gMouseE)"/>
<g fill="#8a8a8a" opacity="0.22"><ellipse cx="128.84" cy="448.29" rx="1.09" ry="1.88"/><ellipse cx="128.31" cy="447.9" rx="1.3" ry="1.97"/><ellipse cx="128.48" cy="457.29" rx="1.09" ry="1.52"/><ellipse cx="131.44" cy="456.1" rx="0.8" ry="2.09"/></g>
<path d="M127,462.2v1.21M132,462.2v1.21" stroke="#777" stroke-width="0.8"/>
<path d="M141.2,440.89 C141.97,441.16 142.15,441.78 142.4,442.51 C142.65,443.24 142.55,444.2 142.7,445.28 C142.85,446.36 143.17,447.32 143.3,448.98 C143.43,450.63 143.52,453.41 143.5,455.22 C143.48,457.02 143.47,458.68 143.2,459.84 C142.93,460.99 142.92,461.76 141.9,462.14 C140.88,462.53 138.12,462.53 137.1,462.14 C136.08,461.76 136.07,460.99 135.8,459.84 C135.53,458.68 135.52,457.02 135.5,455.22 C135.48,453.41 135.57,450.63 135.7,448.98 C135.83,447.32 136.15,446.36 136.3,445.28 C136.45,444.2 136.35,443.24 136.6,442.51 C136.85,441.78 137.03,441.16 137.8,440.89 C138.57,440.62 140.43,440.62 141.2,440.89Z" fill="url(#gMouseE)"/>
<g fill="#8a8a8a" opacity="0.22"><ellipse cx="138.88" cy="456.83" rx="0.94" ry="1.49"/><ellipse cx="138.19" cy="452.57" rx="0.97" ry="1.38"/><ellipse cx="138.32" cy="452.99" rx="0.9" ry="1.65"/><ellipse cx="140.65" cy="459.15" rx="0.96" ry="1.72"/></g>
<path d="M137,462.2v1.21M142,462.2v1.21" stroke="#777" stroke-width="0.8"/>
<path d="M151.2,440.89 C151.97,441.16 152.15,441.78 152.4,442.51 C152.65,443.24 152.55,444.2 152.7,445.28 C152.85,446.36 153.17,447.32 153.3,448.98 C153.43,450.63 153.52,453.41 153.5,455.22 C153.48,457.02 153.47,458.68 153.2,459.84 C152.93,460.99 152.92,461.76 151.9,462.14 C150.88,462.53 148.12,462.53 147.1,462.14 C146.08,461.76 146.07,460.99 145.8,459.84 C145.53,458.68 145.52,457.02 145.5,455.22 C145.48,453.41 145.57,450.63 145.7,448.98 C145.83,447.32 146.15,446.36 146.3,445.28 C146.45,444.2 146.35,443.24 146.6,442.51 C146.85,441.78 147.03,441.16 147.8,440.89 C148.57,440.62 150.43,440.62 151.2,440.89Z" fill="url(#gMouseE)"/>
<g fill="#8a8a8a" opacity="0.22"><ellipse cx="147.72" cy="447.66" rx="0.87" ry="1.65"/><ellipse cx="148.23" cy="452.76" rx="1.12" ry="1.86"/><ellipse cx="151.05" cy="453.99" rx="1.13" ry="1.77"/><ellipse cx="147.76" cy="454.51" rx="1.07" ry="1.35"/></g>
<path d="M147,462.2v1.21M152,462.2v1.21" stroke="#777" stroke-width="0.8"/>
<path d="M161.2,440.89 C161.97,441.16 162.15,441.78 162.4,442.51 C162.65,443.24 162.55,444.2 162.7,445.28 C162.85,446.36 163.17,447.32 163.3,448.98 C163.43,450.63 163.52,453.41 163.5,455.22 C163.48,457.02 163.47,458.68 163.2,459.84 C162.93,460.99 162.92,461.76 161.9,462.14 C160.88,462.53 158.12,462.53 157.1,462.14 C156.08,461.76 156.07,460.99 155.8,459.84 C155.53,458.68 155.52,457.02 155.5,455.22 C155.48,453.41 155.57,450.63 155.7,448.98 C155.83,447.32 156.15,446.36 156.3,445.28 C156.45,444.2 156.35,443.24 156.6,442.51 C156.85,441.78 157.03,441.16 157.8,440.89 C158.57,440.62 160.43,440.62 161.2,440.89Z" fill="url(#gMouseE)"/>
<g fill="#8a8a8a" opacity="0.22"><ellipse cx="160.8" cy="450.27" rx="1.2" ry="2.05"/><ellipse cx="159.16" cy="457.03" rx="0.77" ry="1.23"/><ellipse cx="161.06" cy="445.81" rx="1.08" ry="1.89"/><ellipse cx="159.47" cy="448.5" rx="0.62" ry="1.47"/></g>
<path d="M157,462.2v1.21M162,462.2v1.21" stroke="#777" stroke-width="0.8"/>
<rect x="165.75" y="439.6" width="49.25" height="24.3" fill="#1e1e1e"/>
<path d="M172.35,440.89 C173.1,441.16 173.29,441.78 173.53,442.51 C173.78,443.24 173.68,444.2 173.83,445.28 C173.97,446.36 174.29,447.32 174.42,448.98 C174.55,450.63 174.63,453.41 174.62,455.22 C174.6,457.02 174.58,458.68 174.32,459.84 C174.06,460.99 174.04,461.76 173.04,462.14 C172.04,462.53 169.31,462.53 168.31,462.14 C167.31,461.76 167.29,460.99 167.03,459.84 C166.77,458.68 166.75,457.02 166.74,455.22 C166.72,453.41 166.8,450.63 166.93,448.98 C167.06,447.32 167.38,446.36 167.52,445.28 C167.67,444.2 167.57,443.24 167.82,442.51 C168.06,441.78 168.25,441.16 169,440.89 C169.76,440.62 171.59,440.62 172.35,440.89Z" fill="url(#gMouseE)"/>
<g fill="#8a8a8a" opacity="0.22"><ellipse cx="170.25" cy="451.79" rx="0.74" ry="1.34"/><ellipse cx="169.52" cy="446.72" rx="0.84" ry="2.05"/><ellipse cx="172.29" cy="452.99" rx="1.07" ry="1.73"/><ellipse cx="171.03" cy="451.59" rx="1.07" ry="1.45"/></g>
<path d="M168.21,462.2v1.21M173.14,462.2v1.21" stroke="#777" stroke-width="0.8"/>
<path d="M182.2,440.89 C182.95,441.16 183.14,441.78 183.38,442.51 C183.63,443.24 183.53,444.2 183.68,445.28 C183.82,446.36 184.14,447.32 184.27,448.98 C184.4,450.63 184.48,453.41 184.47,455.22 C184.45,457.02 184.43,458.68 184.17,459.84 C183.91,460.99 183.89,461.76 182.89,462.14 C181.89,462.53 179.16,462.53 178.16,462.14 C177.16,461.76 177.14,460.99 176.88,459.84 C176.62,458.68 176.6,457.02 176.59,455.22 C176.57,453.41 176.65,450.63 176.78,448.98 C176.91,447.32 177.23,446.36 177.37,445.28 C177.52,444.2 177.42,443.24 177.67,442.51 C177.91,441.78 178.1,441.16 178.85,440.89 C179.61,440.62 181.44,440.62 182.2,440.89Z" fill="url(#gMouseE)"/>
<g fill="#8a8a8a" opacity="0.22"><ellipse cx="179.72" cy="448.05" rx="0.88" ry="1.89"/><ellipse cx="178.52" cy="456.75" rx="1.16" ry="1.82"/><ellipse cx="181.22" cy="446.61" rx="0.85" ry="1.17"/><ellipse cx="180.53" cy="451.52" rx="0.88" ry="2.18"/></g>
<path d="M178.06,462.2v1.21M182.99,462.2v1.21" stroke="#777" stroke-width="0.8"/>
<path d="M192.05,440.89 C192.8,441.16 192.99,441.78 193.23,442.51 C193.48,443.24 193.38,444.2 193.53,445.28 C193.67,446.36 193.99,447.32 194.12,448.98 C194.25,450.63 194.33,453.41 194.31,455.22 C194.3,457.02 194.28,458.68 194.02,459.84 C193.76,460.99 193.74,461.76 192.74,462.14 C191.74,462.53 189.01,462.53 188.01,462.14 C187.01,461.76 186.99,460.99 186.73,459.84 C186.47,458.68 186.45,457.02 186.44,455.22 C186.42,453.41 186.5,450.63 186.63,448.98 C186.76,447.32 187.08,446.36 187.22,445.28 C187.37,444.2 187.27,443.24 187.52,442.51 C187.76,441.78 187.95,441.16 188.7,440.89 C189.46,440.62 191.29,440.62 192.05,440.89Z" fill="url(#gMouseE)"/>
<g fill="#8a8a8a" opacity="0.22"><ellipse cx="190.01" cy="458.14" rx="0.82" ry="1.25"/><ellipse cx="189.88" cy="450.78" rx="0.96" ry="1.11"/><ellipse cx="190.97" cy="459.73" rx="0.68" ry="1.97"/><ellipse cx="189.86" cy="446.23" rx="1.14" ry="2.16"/></g>
<path d="M187.91,462.2v1.21M192.84,462.2v1.21" stroke="#777" stroke-width="0.8"/>
<path d="M201.9,440.89 C202.65,441.16 202.84,441.78 203.08,442.51 C203.33,443.24 203.23,444.2 203.38,445.28 C203.52,446.36 203.84,447.32 203.97,448.98 C204.1,450.63 204.18,453.41 204.16,455.22 C204.15,457.02 204.13,458.68 203.87,459.84 C203.61,460.99 203.59,461.76 202.59,462.14 C201.59,462.53 198.86,462.53 197.86,462.14 C196.86,461.76 196.84,460.99 196.58,459.84 C196.32,458.68 196.3,457.02 196.28,455.22 C196.27,453.41 196.35,450.63 196.48,448.98 C196.61,447.32 196.93,446.36 197.07,445.28 C197.22,444.2 197.12,443.24 197.37,442.51 C197.61,441.78 197.8,441.16 198.55,440.89 C199.31,440.62 201.14,440.62 201.9,440.89Z" fill="url(#gMouseE)"/>
<g fill="#8a8a8a" opacity="0.22"><ellipse cx="201.2" cy="457.11" rx="1.19" ry="1.98"/><ellipse cx="200.08" cy="452.09" rx="0.66" ry="1.9"/><ellipse cx="201.99" cy="459.53" rx="1.26" ry="1.55"/><ellipse cx="201.33" cy="450.52" rx="1.19" ry="1.23"/></g>
<path d="M197.76,462.2v1.21M202.69,462.2v1.21" stroke="#777" stroke-width="0.8"/>
<path d="M211.75,440.89 C212.5,441.16 212.69,441.78 212.93,442.51 C213.18,443.24 213.08,444.2 213.23,445.28 C213.37,446.36 213.69,447.32 213.82,448.98 C213.95,450.63 214.03,453.41 214.01,455.22 C214,457.02 213.98,458.68 213.72,459.84 C213.46,460.99 213.44,461.76 212.44,462.14 C211.44,462.53 208.71,462.53 207.71,462.14 C206.71,461.76 206.69,460.99 206.43,459.84 C206.17,458.68 206.15,457.02 206.13,455.22 C206.12,453.41 206.2,450.63 206.33,448.98 C206.46,447.32 206.78,446.36 206.92,445.28 C207.07,444.2 206.97,443.24 207.22,442.51 C207.46,441.78 207.65,441.16 208.4,440.89 C209.16,440.62 210.99,440.62 211.75,440.89Z" fill="url(#gMouseE)"/>
<g fill="#8a8a8a" opacity="0.22"><ellipse cx="208.17" cy="447.57" rx="0.8" ry="1.21"/><ellipse cx="210.06" cy="456.19" rx="0.97" ry="2.1"/><ellipse cx="208.58" cy="444.62" rx="0.82" ry="1.83"/><ellipse cx="208.71" cy="444.84" rx="0.8" ry="2.08"/></g>
<path d="M207.61,462.2v1.21M212.54,462.2v1.21" stroke="#777" stroke-width="0.8"/>
<rect x="216.2" y="439.6" width="49" height="24.3" fill="#1e1e1e"/>
<path d="M222.77,440.89 C223.52,441.16 223.7,441.78 223.94,442.51 C224.19,443.24 224.09,444.2 224.24,445.28 C224.38,446.36 224.69,447.32 224.82,448.98 C224.95,450.63 225.04,453.41 225.02,455.22 C225,457.02 224.99,458.68 224.73,459.84 C224.46,460.99 224.45,461.76 223.45,462.14 C222.46,462.53 219.74,462.53 218.75,462.14 C217.75,461.76 217.74,460.99 217.47,459.84 C217.21,458.68 217.2,457.02 217.18,455.22 C217.16,453.41 217.25,450.63 217.38,448.98 C217.51,447.32 217.82,446.36 217.96,445.28 C218.11,444.2 218.01,443.24 218.26,442.51 C218.5,441.78 218.68,441.16 219.43,440.89 C220.19,440.62 222.01,440.62 222.77,440.89Z" fill="url(#gMouseE)"/>
<g fill="#8a8a8a" opacity="0.22"><ellipse cx="220.17" cy="447.16" rx="0.81" ry="1.61"/><ellipse cx="222.37" cy="455" rx="1.21" ry="1.54"/><ellipse cx="219.86" cy="447.53" rx="0.64" ry="1.73"/><ellipse cx="220.36" cy="450.09" rx="0.87" ry="1.05"/></g>
<path d="M218.65,462.2v1.21M223.55,462.2v1.21" stroke="#777" stroke-width="0.8"/>
<path d="M232.57,440.89 C233.32,441.16 233.5,441.78 233.74,442.51 C233.99,443.24 233.89,444.2 234.04,445.28 C234.18,446.36 234.49,447.32 234.62,448.98 C234.75,450.63 234.84,453.41 234.82,455.22 C234.8,457.02 234.79,458.68 234.53,459.84 C234.26,460.99 234.25,461.76 233.25,462.14 C232.26,462.53 229.54,462.53 228.55,462.14 C227.55,461.76 227.54,460.99 227.27,459.84 C227.01,458.68 227,457.02 226.98,455.22 C226.96,453.41 227.05,450.63 227.18,448.98 C227.31,447.32 227.62,446.36 227.76,445.28 C227.91,444.2 227.81,443.24 228.06,442.51 C228.3,441.78 228.48,441.16 229.23,440.89 C229.99,440.62 231.81,440.62 232.57,440.89Z" fill="url(#gMouseE)"/>
<g fill="#8a8a8a" opacity="0.22"><ellipse cx="230.45" cy="446.94" rx="0.71" ry="2.07"/><ellipse cx="229.52" cy="455.41" rx="0.92" ry="1.41"/><ellipse cx="232.93" cy="452.6" rx="1.25" ry="1.26"/><ellipse cx="231.09" cy="448.27" rx="1.16" ry="1.08"/></g>
<path d="M228.45,462.2v1.21M233.35,462.2v1.21" stroke="#777" stroke-width="0.8"/>
<path d="M242.37,440.89 C243.12,441.16 243.3,441.78 243.54,442.51 C243.79,443.24 243.69,444.2 243.84,445.28 C243.98,446.36 244.29,447.32 244.42,448.98 C244.55,450.63 244.64,453.41 244.62,455.22 C244.6,457.02 244.59,458.68 244.33,459.84 C244.06,460.99 244.05,461.76 243.05,462.14 C242.06,462.53 239.34,462.53 238.35,462.14 C237.35,461.76 237.34,460.99 237.07,459.84 C236.81,458.68 236.8,457.02 236.78,455.22 C236.76,453.41 236.85,450.63 236.98,448.98 C237.11,447.32 237.42,446.36 237.56,445.28 C237.71,444.2 237.61,443.24 237.86,442.51 C238.1,441.78 238.28,441.16 239.03,440.89 C239.79,440.62 241.61,440.62 242.37,440.89Z" fill="url(#gMouseE)"/>
<g fill="#8a8a8a" opacity="0.22"><ellipse cx="239.58" cy="459.41" rx="0.97" ry="1.56"/><ellipse cx="239.99" cy="459.89" rx="1.28" ry="1.59"/><ellipse cx="240.65" cy="446.56" rx="0.9" ry="1.22"/><ellipse cx="240.96" cy="450.43" rx="1.21" ry="1.81"/></g>
<path d="M238.25,462.2v1.21M243.15,462.2v1.21" stroke="#777" stroke-width="0.8"/>
<path d="M252.17,440.89 C252.92,441.16 253.1,441.78 253.34,442.51 C253.59,443.24 253.49,444.2 253.64,445.28 C253.78,446.36 254.09,447.32 254.22,448.98 C254.35,450.63 254.44,453.41 254.42,455.22 C254.4,457.02 254.39,458.68 254.13,459.84 C253.86,460.99 253.85,461.76 252.85,462.14 C251.86,462.53 249.14,462.53 248.15,462.14 C247.15,461.76 247.14,460.99 246.87,459.84 C246.61,458.68 246.6,457.02 246.58,455.22 C246.56,453.41 246.65,450.63 246.78,448.98 C246.91,447.32 247.22,446.36 247.36,445.28 C247.51,444.2 247.41,443.24 247.66,442.51 C247.9,441.78 248.08,441.16 248.83,440.89 C249.59,440.62 251.41,440.62 252.17,440.89Z" fill="url(#gMouseE)"/>
<g fill="#8a8a8a" opacity="0.22"><ellipse cx="251.81" cy="455.48" rx="0.77" ry="1.58"/><ellipse cx="249.81" cy="451.49" rx="0.66" ry="2.03"/><ellipse cx="252.51" cy="459.35" rx="0.71" ry="1.06"/><ellipse cx="250.38" cy="457.95" rx="1.03" ry="1.77"/></g>
<path d="M248.05,462.2v1.21M252.95,462.2v1.21" stroke="#777" stroke-width="0.8"/>
<path d="M261.97,440.89 C262.72,441.16 262.9,441.78 263.14,442.51 C263.39,443.24 263.29,444.2 263.44,445.28 C263.58,446.36 263.89,447.32 264.02,448.98 C264.15,450.63 264.24,453.41 264.22,455.22 C264.2,457.02 264.19,458.68 263.93,459.84 C263.66,460.99 263.65,461.76 262.65,462.14 C261.66,462.53 258.94,462.53 257.95,462.14 C256.95,461.76 256.94,460.99 256.67,459.84 C256.41,458.68 256.4,457.02 256.38,455.22 C256.36,453.41 256.45,450.63 256.58,448.98 C256.71,447.32 257.02,446.36 257.16,445.28 C257.31,444.2 257.21,443.24 257.46,442.51 C257.7,441.78 257.88,441.16 258.63,440.89 C259.39,440.62 261.21,440.62 261.97,440.89Z" fill="url(#gMouseE)"/>
<g fill="#8a8a8a" opacity="0.22"><ellipse cx="258.33" cy="445.01" rx="1.25" ry="1.57"/><ellipse cx="260.12" cy="451.84" rx="0.9" ry="1.49"/><ellipse cx="258.59" cy="448.96" rx="0.76" ry="1.13"/><ellipse cx="260" cy="454.95" rx="1.23" ry="1.91"/></g>
<path d="M257.85,462.2v1.21M262.75,462.2v1.21" stroke="#777" stroke-width="0.8"/>
<rect x="267" y="439.6" width="48.5" height="24.3" fill="#1e1e1e"/>
<path d="M273.5,440.89 C274.24,441.16 274.42,441.78 274.66,442.51 C274.91,443.24 274.81,444.2 274.95,445.28 C275.1,446.36 275.41,447.32 275.54,448.98 C275.67,450.63 275.75,453.41 275.73,455.22 C275.71,457.02 275.7,458.68 275.44,459.84 C275.18,460.99 275.16,461.76 274.18,462.14 C273.19,462.53 270.51,462.53 269.52,462.14 C268.54,461.76 268.52,460.99 268.26,459.84 C268,458.68 267.99,457.02 267.97,455.22 C267.95,453.41 268.03,450.63 268.16,448.98 C268.29,447.32 268.6,446.36 268.75,445.28 C268.89,444.2 268.79,443.24 269.04,442.51 C269.28,441.78 269.46,441.16 270.2,440.89 C270.94,440.62 272.76,440.62 273.5,440.89Z" fill="url(#gMouseE)"/>
<g fill="#8a8a8a" opacity="0.22"><ellipse cx="273.12" cy="449.3" rx="1.04" ry="1.17"/><ellipse cx="271.05" cy="449.38" rx="1.01" ry="2.18"/><ellipse cx="269.87" cy="447.57" rx="0.93" ry="1.87"/><ellipse cx="273.3" cy="447.98" rx="0.6" ry="2.12"/></g>
<path d="M269.43,462.2v1.21M274.28,462.2v1.21" stroke="#777" stroke-width="0.8"/>
<path d="M283.2,440.89 C283.94,441.16 284.12,441.78 284.36,442.51 C284.61,443.24 284.51,444.2 284.65,445.28 C284.8,446.36 285.11,447.32 285.24,448.98 C285.37,450.63 285.45,453.41 285.43,455.22 C285.41,457.02 285.4,458.68 285.14,459.84 C284.88,460.99 284.86,461.76 283.88,462.14 C282.89,462.53 280.21,462.53 279.22,462.14 C278.24,461.76 278.22,460.99 277.96,459.84 C277.7,458.68 277.69,457.02 277.67,455.22 C277.65,453.41 277.73,450.63 277.86,448.98 C277.99,447.32 278.3,446.36 278.45,445.28 C278.59,444.2 278.49,443.24 278.74,442.51 C278.98,441.78 279.16,441.16 279.9,440.89 C280.64,440.62 282.46,440.62 283.2,440.89Z" fill="url(#gMouseE)"/>
<g fill="#8a8a8a" opacity="0.22"><ellipse cx="279.89" cy="451.2" rx="0.78" ry="1.17"/><ellipse cx="282.4" cy="452.43" rx="0.86" ry="1.41"/><ellipse cx="283.28" cy="458.13" rx="0.64" ry="2.01"/><ellipse cx="280.11" cy="448.08" rx="0.94" ry="1.75"/></g>
<path d="M279.12,462.2v1.21M283.98,462.2v1.21" stroke="#777" stroke-width="0.8"/>
<path d="M292.9,440.89 C293.64,441.16 293.82,441.78 294.06,442.51 C294.31,443.24 294.21,444.2 294.35,445.28 C294.5,446.36 294.81,447.32 294.94,448.98 C295.07,450.63 295.15,453.41 295.13,455.22 C295.11,457.02 295.1,458.68 294.84,459.84 C294.58,460.99 294.56,461.76 293.58,462.14 C292.59,462.53 289.91,462.53 288.92,462.14 C287.94,461.76 287.92,460.99 287.66,459.84 C287.4,458.68 287.39,457.02 287.37,455.22 C287.35,453.41 287.43,450.63 287.56,448.98 C287.69,447.32 288,446.36 288.15,445.28 C288.29,444.2 288.19,443.24 288.44,442.51 C288.68,441.78 288.86,441.16 289.6,440.89 C290.34,440.62 292.16,440.62 292.9,440.89Z" fill="url(#gMouseE)"/>
<g fill="#8a8a8a" opacity="0.22"><ellipse cx="291.45" cy="446.19" rx="1.29" ry="1.91"/><ellipse cx="291.73" cy="459.83" rx="1.3" ry="1.71"/><ellipse cx="290.97" cy="454.56" rx="1.12" ry="1.04"/><ellipse cx="292.1" cy="452.03" rx="1.02" ry="1.16"/></g>
<path d="M288.82,462.2v1.21M293.68,462.2v1.21" stroke="#777" stroke-width="0.8"/>
<path d="M302.6,440.89 C303.34,441.16 303.52,441.78 303.76,442.51 C304.01,443.24 303.91,444.2 304.05,445.28 C304.2,446.36 304.51,447.32 304.64,448.98 C304.77,450.63 304.85,453.41 304.83,455.22 C304.81,457.02 304.8,458.68 304.54,459.84 C304.28,460.99 304.26,461.76 303.28,462.14 C302.29,462.53 299.61,462.53 298.62,462.14 C297.64,461.76 297.62,460.99 297.36,459.84 C297.1,458.68 297.09,457.02 297.07,455.22 C297.05,453.41 297.13,450.63 297.26,448.98 C297.39,447.32 297.7,446.36 297.85,445.28 C297.99,444.2 297.89,443.24 298.14,442.51 C298.38,441.78 298.56,441.16 299.3,440.89 C300.04,440.62 301.86,440.62 302.6,440.89Z" fill="url(#gMouseE)"/>
<g fill="#8a8a8a" opacity="0.22"><ellipse cx="299.01" cy="452.96" rx="0.81" ry="1.97"/><ellipse cx="302.95" cy="453.5" rx="1.25" ry="1.31"/><ellipse cx="300.3" cy="449.72" rx="0.86" ry="1.04"/><ellipse cx="300.64" cy="452.3" rx="1.28" ry="1.45"/></g>
<path d="M298.52,462.2v1.21M303.38,462.2v1.21" stroke="#777" stroke-width="0.8"/>
<path d="M312.3,440.89 C313.04,441.16 313.22,441.78 313.46,442.51 C313.71,443.24 313.61,444.2 313.75,445.28 C313.9,446.36 314.21,447.32 314.34,448.98 C314.47,450.63 314.55,453.41 314.53,455.22 C314.51,457.02 314.5,458.68 314.24,459.84 C313.98,460.99 313.96,461.76 312.98,462.14 C311.99,462.53 309.31,462.53 308.32,462.14 C307.34,461.76 307.32,460.99 307.06,459.84 C306.8,458.68 306.79,457.02 306.77,455.22 C306.75,453.41 306.83,450.63 306.96,448.98 C307.09,447.32 307.4,446.36 307.55,445.28 C307.69,444.2 307.59,443.24 307.84,442.51 C308.08,441.78 308.26,441.16 309,440.89 C309.74,440.62 311.56,440.62 312.3,440.89Z" fill="url(#gMouseE)"/>
<g fill="#8a8a8a" opacity="0.22"><ellipse cx="309.6" cy="459.67" rx="1.13" ry="1.08"/><ellipse cx="309.62" cy="449.08" rx="1.14" ry="1.35"/><ellipse cx="312.46" cy="455.62" rx="1.21" ry="2.02"/><ellipse cx="311.39" cy="452.84" rx="1.24" ry="1.24"/></g>
<path d="M308.22,462.2v1.21M313.07,462.2v1.21" stroke="#777" stroke-width="0.8"/>
<rect x="317.2" y="439.6" width="45.8" height="24.3" fill="#1e1e1e"/>
<path d="M323.34,440.89 C324.04,441.16 324.21,441.78 324.44,442.51 C324.67,443.24 324.57,444.2 324.71,445.28 C324.85,446.36 325.14,447.32 325.26,448.98 C325.38,450.63 325.46,453.41 325.44,455.22 C325.43,457.02 325.41,458.68 325.17,459.84 C324.92,460.99 324.91,461.76 323.98,462.14 C323.05,462.53 320.51,462.53 319.58,462.14 C318.65,461.76 318.64,460.99 318.39,459.84 C318.15,458.68 318.13,457.02 318.12,455.22 C318.1,453.41 318.18,450.63 318.3,448.98 C318.42,447.32 318.71,446.36 318.85,445.28 C318.99,444.2 318.89,443.24 319.12,442.51 C319.35,441.78 319.52,441.16 320.22,440.89 C320.93,440.62 322.63,440.62 323.34,440.89Z" fill="url(#gMouseE)"/>
<g fill="#8a8a8a" opacity="0.22"><ellipse cx="322.07" cy="452.72" rx="0.8" ry="1.67"/><ellipse cx="320.68" cy="454.82" rx="0.7" ry="1.86"/><ellipse cx="322.31" cy="459.63" rx="1.04" ry="1.85"/><ellipse cx="322.21" cy="456.75" rx="1.07" ry="2.16"/></g>
<path d="M319.49,462.2v1.21M324.07,462.2v1.21" stroke="#777" stroke-width="0.8"/>
<path d="M332.5,440.89 C333.2,441.16 333.37,441.78 333.6,442.51 C333.83,443.24 333.73,444.2 333.87,445.28 C334.01,446.36 334.3,447.32 334.42,448.98 C334.54,450.63 334.62,453.41 334.6,455.22 C334.59,457.02 334.57,458.68 334.33,459.84 C334.08,460.99 334.07,461.76 333.14,462.14 C332.21,462.53 329.67,462.53 328.74,462.14 C327.81,461.76 327.8,460.99 327.55,459.84 C327.31,458.68 327.29,457.02 327.28,455.22 C327.26,453.41 327.34,450.63 327.46,448.98 C327.58,447.32 327.87,446.36 328.01,445.28 C328.15,444.2 328.05,443.24 328.28,442.51 C328.51,441.78 328.68,441.16 329.38,440.89 C330.09,440.62 331.79,440.62 332.5,440.89Z" fill="url(#gMouseE)"/>
<g fill="#8a8a8a" opacity="0.22"><ellipse cx="332.49" cy="456.53" rx="0.64" ry="1.09"/><ellipse cx="332.09" cy="458.68" rx="0.73" ry="2.01"/><ellipse cx="328.94" cy="451.19" rx="0.77" ry="2.09"/><ellipse cx="329.38" cy="450.37" rx="1.19" ry="1.72"/></g>
<path d="M328.65,462.2v1.21M333.23,462.2v1.21" stroke="#777" stroke-width="0.8"/>
<path d="M341.66,440.89 C342.36,441.16 342.53,441.78 342.76,442.51 C342.99,443.24 342.89,444.2 343.03,445.28 C343.17,446.36 343.46,447.32 343.58,448.98 C343.7,450.63 343.78,453.41 343.76,455.22 C343.75,457.02 343.73,458.68 343.49,459.84 C343.24,460.99 343.23,461.76 342.3,462.14 C341.37,462.53 338.83,462.53 337.9,462.14 C336.97,461.76 336.96,460.99 336.71,459.84 C336.47,458.68 336.45,457.02 336.44,455.22 C336.42,453.41 336.5,450.63 336.62,448.98 C336.74,447.32 337.03,446.36 337.17,445.28 C337.31,444.2 337.21,443.24 337.44,442.51 C337.67,441.78 337.84,441.16 338.54,440.89 C339.25,440.62 340.95,440.62 341.66,440.89Z" fill="url(#gMouseE)"/>
<g fill="#8a8a8a" opacity="0.22"><ellipse cx="341.53" cy="452.73" rx="0.67" ry="1.38"/><ellipse cx="340.63" cy="451.85" rx="1.3" ry="1.67"/><ellipse cx="339.83" cy="453.96" rx="0.86" ry="1.41"/><ellipse cx="339.27" cy="450.75" rx="1.27" ry="1.44"/></g>
<path d="M337.81,462.2v1.21M342.39,462.2v1.21" stroke="#777" stroke-width="0.8"/>
<path d="M350.82,440.89 C351.52,441.16 351.69,441.78 351.92,442.51 C352.15,443.24 352.05,444.2 352.19,445.28 C352.33,446.36 352.62,447.32 352.74,448.98 C352.86,450.63 352.94,453.41 352.92,455.22 C352.91,457.02 352.89,458.68 352.65,459.84 C352.4,460.99 352.39,461.76 351.46,462.14 C350.53,462.53 347.99,462.53 347.06,462.14 C346.13,461.76 346.12,460.99 345.87,459.84 C345.63,458.68 345.61,457.02 345.6,455.22 C345.58,453.41 345.66,450.63 345.78,448.98 C345.9,447.32 346.19,446.36 346.33,445.28 C346.47,444.2 346.37,443.24 346.6,442.51 C346.83,441.78 347,441.16 347.7,440.89 C348.41,440.62 350.11,440.62 350.82,440.89Z" fill="url(#gMouseE)"/>
<g fill="#8a8a8a" opacity="0.22"><ellipse cx="350.64" cy="450.9" rx="0.9" ry="2.11"/><ellipse cx="350.03" cy="449.68" rx="0.7" ry="2.1"/><ellipse cx="348.51" cy="456.65" rx="1.22" ry="1.45"/><ellipse cx="348.71" cy="445.73" rx="1.13" ry="1.16"/></g>
<path d="M346.97,462.2v1.21M351.55,462.2v1.21" stroke="#777" stroke-width="0.8"/>
<path d="M359.98,440.89 C360.68,441.16 360.85,441.78 361.08,442.51 C361.31,443.24 361.21,444.2 361.35,445.28 C361.49,446.36 361.78,447.32 361.9,448.98 C362.02,450.63 362.1,453.41 362.08,455.22 C362.07,457.02 362.05,458.68 361.81,459.84 C361.56,460.99 361.55,461.76 360.62,462.14 C359.69,462.53 357.15,462.53 356.22,462.14 C355.29,461.76 355.28,460.99 355.03,459.84 C354.79,458.68 354.77,457.02 354.76,455.22 C354.74,453.41 354.82,450.63 354.94,448.98 C355.06,447.32 355.35,446.36 355.49,445.28 C355.63,444.2 355.53,443.24 355.76,442.51 C355.99,441.78 356.16,441.16 356.86,440.89 C357.57,440.62 359.27,440.62 359.98,440.89Z" fill="url(#gMouseE)"/>
<g fill="#8a8a8a" opacity="0.22"><ellipse cx="359.01" cy="445.03" rx="0.7" ry="1.88"/><ellipse cx="357.47" cy="445.1" rx="0.69" ry="1.29"/><ellipse cx="360.37" cy="447.79" rx="0.71" ry="1.24"/><ellipse cx="357.91" cy="449.37" rx="1.02" ry="1.55"/></g>
<path d="M356.13,462.2v1.21M360.71,462.2v1.21" stroke="#777" stroke-width="0.8"/>
<rect x="365" y="439.6" width="45.5" height="24.3" fill="#1e1e1e"/>
<path d="M371.1,440.89 C371.79,441.16 371.96,441.78 372.19,442.51 C372.42,443.24 372.33,444.2 372.46,445.28 C372.6,446.36 372.89,447.32 373.01,448.98 C373.13,450.63 373.21,453.41 373.19,455.22 C373.17,457.02 373.16,458.68 372.92,459.84 C372.67,460.99 372.66,461.76 371.73,462.14 C370.81,462.53 368.29,462.53 367.37,462.14 C366.44,461.76 366.43,460.99 366.18,459.84 C365.94,458.68 365.93,457.02 365.91,455.22 C365.89,453.41 365.97,450.63 366.09,448.98 C366.21,447.32 366.5,446.36 366.64,445.28 C366.77,444.2 366.68,443.24 366.91,442.51 C367.14,441.78 367.31,441.16 368,440.89 C368.7,440.62 370.4,440.62 371.1,440.89Z" fill="url(#gMouseE)"/>
<g fill="#8a8a8a" opacity="0.22"><ellipse cx="369.85" cy="456.05" rx="1.04" ry="1.04"/><ellipse cx="368.11" cy="454.88" rx="0.96" ry="1.26"/><ellipse cx="371.14" cy="453.98" rx="0.97" ry="1.62"/><ellipse cx="371.21" cy="455.67" rx="1.11" ry="1.83"/></g>
<path d="M367.28,462.2v1.21M371.82,462.2v1.21" stroke="#777" stroke-width="0.8"/>
<path d="M380.2,440.89 C380.89,441.16 381.06,441.78 381.29,442.51 C381.52,443.24 381.43,444.2 381.56,445.28 C381.7,446.36 381.99,447.32 382.11,448.98 C382.23,450.63 382.31,453.41 382.29,455.22 C382.27,457.02 382.26,458.68 382.02,459.84 C381.77,460.99 381.76,461.76 380.83,462.14 C379.91,462.53 377.39,462.53 376.47,462.14 C375.54,461.76 375.53,460.99 375.28,459.84 C375.04,458.68 375.03,457.02 375.01,455.22 C374.99,453.41 375.07,450.63 375.19,448.98 C375.31,447.32 375.6,446.36 375.74,445.28 C375.87,444.2 375.78,443.24 376.01,442.51 C376.24,441.78 376.41,441.16 377.1,440.89 C377.8,440.62 379.5,440.62 380.2,440.89Z" fill="url(#gMouseE)"/>
<g fill="#8a8a8a" opacity="0.22"><ellipse cx="378.89" cy="451.81" rx="1.01" ry="2.09"/><ellipse cx="378.91" cy="446.14" rx="0.81" ry="1.94"/><ellipse cx="377.6" cy="447.71" rx="0.73" ry="1.9"/><ellipse cx="379.66" cy="458.51" rx="1.04" ry="1.99"/></g>
<path d="M376.38,462.2v1.21M380.92,462.2v1.21" stroke="#777" stroke-width="0.8"/>
<path d="M389.3,440.89 C389.99,441.16 390.16,441.78 390.39,442.51 C390.62,443.24 390.53,444.2 390.66,445.28 C390.8,446.36 391.09,447.32 391.21,448.98 C391.33,450.63 391.41,453.41 391.39,455.22 C391.37,457.02 391.36,458.68 391.12,459.84 C390.87,460.99 390.86,461.76 389.93,462.14 C389.01,462.53 386.49,462.53 385.57,462.14 C384.64,461.76 384.63,460.99 384.38,459.84 C384.14,458.68 384.13,457.02 384.11,455.22 C384.09,453.41 384.17,450.63 384.29,448.98 C384.41,447.32 384.7,446.36 384.84,445.28 C384.97,444.2 384.88,443.24 385.11,442.51 C385.34,441.78 385.51,441.16 386.2,440.89 C386.9,440.62 388.6,440.62 389.3,440.89Z" fill="url(#gMouseE)"/>
<g fill="#8a8a8a" opacity="0.22"><ellipse cx="386.67" cy="454.6" rx="0.94" ry="1.83"/><ellipse cx="389.38" cy="446.88" rx="1.28" ry="1.75"/><ellipse cx="386.21" cy="451.49" rx="1.07" ry="2.15"/><ellipse cx="388.97" cy="454.53" rx="1.14" ry="1.3"/></g>
<path d="M385.48,462.2v1.21M390.02,462.2v1.21" stroke="#777" stroke-width="0.8"/>
<path d="M398.4,440.89 C399.09,441.16 399.26,441.78 399.49,442.51 C399.72,443.24 399.63,444.2 399.76,445.28 C399.9,446.36 400.19,447.32 400.31,448.98 C400.43,450.63 400.51,453.41 400.49,455.22 C400.47,457.02 400.46,458.68 400.22,459.84 C399.97,460.99 399.96,461.76 399.03,462.14 C398.11,462.53 395.59,462.53 394.67,462.14 C393.74,461.76 393.73,460.99 393.48,459.84 C393.24,458.68 393.23,457.02 393.21,455.22 C393.19,453.41 393.27,450.63 393.39,448.98 C393.51,447.32 393.8,446.36 393.94,445.28 C394.07,444.2 393.98,443.24 394.21,442.51 C394.44,441.78 394.61,441.16 395.3,440.89 C396,440.62 397.7,440.62 398.4,440.89Z" fill="url(#gMouseE)"/>
<g fill="#8a8a8a" opacity="0.22"><ellipse cx="398.44" cy="447.2" rx="1.03" ry="1.08"/><ellipse cx="398.29" cy="445.83" rx="1.18" ry="1.84"/><ellipse cx="396.93" cy="449.23" rx="1.07" ry="1.65"/><ellipse cx="397.4" cy="449.44" rx="0.7" ry="1.6"/></g>
<path d="M394.58,462.2v1.21M399.12,462.2v1.21" stroke="#777" stroke-width="0.8"/>
<path d="M407.5,440.89 C408.19,441.16 408.36,441.78 408.59,442.51 C408.82,443.24 408.73,444.2 408.86,445.28 C409,446.36 409.29,447.32 409.41,448.98 C409.53,450.63 409.61,453.41 409.59,455.22 C409.57,457.02 409.56,458.68 409.32,459.84 C409.07,460.99 409.06,461.76 408.13,462.14 C407.21,462.53 404.69,462.53 403.77,462.14 C402.84,461.76 402.83,460.99 402.58,459.84 C402.34,458.68 402.33,457.02 402.31,455.22 C402.29,453.41 402.37,450.63 402.49,448.98 C402.61,447.32 402.9,446.36 403.04,445.28 C403.17,444.2 403.08,443.24 403.31,442.51 C403.54,441.78 403.71,441.16 404.4,440.89 C405.1,440.62 406.8,440.62 407.5,440.89Z" fill="url(#gMouseE)"/>
<g fill="#8a8a8a" opacity="0.22"><ellipse cx="406.75" cy="447.19" rx="1.14" ry="1.74"/><ellipse cx="403.95" cy="445.55" rx="0.98" ry="2.11"/><ellipse cx="404.14" cy="458.14" rx="1.05" ry="1.64"/><ellipse cx="405.79" cy="453.41" rx="1.28" ry="1.02"/></g>
<path d="M403.68,462.2v1.21M408.22,462.2v1.21" stroke="#777" stroke-width="0.8"/>
<rect x="412.4" y="439.6" width="45.4" height="24.3" fill="#1e1e1e"/>
<path d="M418.48,440.89 C419.18,441.16 419.35,441.78 419.57,442.51 C419.8,443.24 419.71,444.2 419.85,445.28 C419.98,446.36 420.27,447.32 420.39,448.98 C420.51,450.63 420.59,453.41 420.57,455.22 C420.56,457.02 420.54,458.68 420.3,459.84 C420.06,460.99 420.04,461.76 419.12,462.14 C418.2,462.53 415.68,462.53 414.76,462.14 C413.84,461.76 413.82,460.99 413.58,459.84 C413.34,458.68 413.32,457.02 413.31,455.22 C413.29,453.41 413.37,450.63 413.49,448.98 C413.61,447.32 413.9,446.36 414.03,445.28 C414.17,444.2 414.08,443.24 414.31,442.51 C414.53,441.78 414.7,441.16 415.4,440.89 C416.09,440.62 417.79,440.62 418.48,440.89Z" fill="url(#gMouseE)"/>
<g fill="#8a8a8a" opacity="0.22"><ellipse cx="416.36" cy="445.73" rx="0.65" ry="1.21"/><ellipse cx="417.23" cy="453.57" rx="0.74" ry="1.8"/><ellipse cx="418.71" cy="452.14" rx="0.84" ry="2.03"/><ellipse cx="418.58" cy="452.21" rx="0.67" ry="2.04"/></g>
<path d="M414.67,462.2v1.21M419.21,462.2v1.21" stroke="#777" stroke-width="0.8"/>
<path d="M427.56,440.89 C428.26,441.16 428.43,441.78 428.65,442.51 C428.88,443.24 428.79,444.2 428.93,445.28 C429.06,446.36 429.35,447.32 429.47,448.98 C429.59,450.63 429.67,453.41 429.65,455.22 C429.64,457.02 429.62,458.68 429.38,459.84 C429.14,460.99 429.12,461.76 428.2,462.14 C427.28,462.53 424.76,462.53 423.84,462.14 C422.92,461.76 422.9,460.99 422.66,459.84 C422.42,458.68 422.4,457.02 422.39,455.22 C422.37,453.41 422.45,450.63 422.57,448.98 C422.69,447.32 422.98,446.36 423.11,445.28 C423.25,444.2 423.16,443.24 423.39,442.51 C423.61,441.78 423.78,441.16 424.48,440.89 C425.17,440.62 426.87,440.62 427.56,440.89Z" fill="url(#gMouseE)"/>
<g fill="#8a8a8a" opacity="0.22"><ellipse cx="426.18" cy="447.25" rx="1.24" ry="1.12"/><ellipse cx="425.22" cy="458.69" rx="1.03" ry="1.69"/><ellipse cx="426.17" cy="453.56" rx="1.01" ry="1.53"/><ellipse cx="427.05" cy="451.4" rx="1.15" ry="1.64"/></g>
<path d="M423.75,462.2v1.21M428.29,462.2v1.21" stroke="#777" stroke-width="0.8"/>
<path d="M436.64,440.89 C437.34,441.16 437.51,441.78 437.73,442.51 C437.96,443.24 437.87,444.2 438.01,445.28 C438.14,446.36 438.43,447.32 438.55,448.98 C438.67,450.63 438.75,453.41 438.73,455.22 C438.72,457.02 438.7,458.68 438.46,459.84 C438.22,460.99 438.2,461.76 437.28,462.14 C436.36,462.53 433.84,462.53 432.92,462.14 C432,461.76 431.98,460.99 431.74,459.84 C431.5,458.68 431.48,457.02 431.47,455.22 C431.45,453.41 431.53,450.63 431.65,448.98 C431.77,447.32 432.06,446.36 432.19,445.28 C432.33,444.2 432.24,443.24 432.47,442.51 C432.69,441.78 432.86,441.16 433.56,440.89 C434.25,440.62 435.95,440.62 436.64,440.89Z" fill="url(#gMouseE)"/>
<g fill="#8a8a8a" opacity="0.22"><ellipse cx="435.46" cy="449.26" rx="0.79" ry="2.01"/><ellipse cx="436.41" cy="460.07" rx="0.62" ry="2.04"/><ellipse cx="435.97" cy="452.19" rx="1.26" ry="1.98"/><ellipse cx="436.02" cy="455.79" rx="1.07" ry="2.15"/></g>
<path d="M432.83,462.2v1.21M437.37,462.2v1.21" stroke="#777" stroke-width="0.8"/>
<path d="M445.72,440.89 C446.42,441.16 446.59,441.78 446.81,442.51 C447.04,443.24 446.95,444.2 447.09,445.28 C447.22,446.36 447.51,447.32 447.63,448.98 C447.75,450.63 447.83,453.41 447.81,455.22 C447.8,457.02 447.78,458.68 447.54,459.84 C447.3,460.99 447.28,461.76 446.36,462.14 C445.44,462.53 442.92,462.53 442,462.14 C441.08,461.76 441.06,460.99 440.82,459.84 C440.58,458.68 440.56,457.02 440.55,455.22 C440.53,453.41 440.61,450.63 440.73,448.98 C440.85,447.32 441.14,446.36 441.27,445.28 C441.41,444.2 441.32,443.24 441.55,442.51 C441.77,441.78 441.94,441.16 442.64,440.89 C443.33,440.62 445.03,440.62 445.72,440.89Z" fill="url(#gMouseE)"/>
<g fill="#8a8a8a" opacity="0.22"><ellipse cx="444.49" cy="451.34" rx="0.77" ry="1.65"/><ellipse cx="442.47" cy="455.11" rx="0.78" ry="1.82"/><ellipse cx="445.25" cy="449.81" rx="1.24" ry="1.46"/><ellipse cx="442.71" cy="459.8" rx="0.83" ry="1.49"/></g>
<path d="M441.91,462.2v1.21M446.45,462.2v1.21" stroke="#777" stroke-width="0.8"/>
<path d="M454.8,440.89 C455.5,441.16 455.67,441.78 455.89,442.51 C456.12,443.24 456.03,444.2 456.17,445.28 C456.3,446.36 456.59,447.32 456.71,448.98 C456.83,450.63 456.91,453.41 456.89,455.22 C456.88,457.02 456.86,458.68 456.62,459.84 C456.38,460.99 456.36,461.76 455.44,462.14 C454.52,462.53 452,462.53 451.08,462.14 C450.16,461.76 450.14,460.99 449.9,459.84 C449.66,458.68 449.64,457.02 449.63,455.22 C449.61,453.41 449.69,450.63 449.81,448.98 C449.93,447.32 450.22,446.36 450.35,445.28 C450.49,444.2 450.4,443.24 450.63,442.51 C450.85,441.78 451.02,441.16 451.72,440.89 C452.41,440.62 454.11,440.62 454.8,440.89Z" fill="url(#gMouseE)"/>
<g fill="#8a8a8a" opacity="0.22"><ellipse cx="451.59" cy="453.66" rx="1.28" ry="1.52"/><ellipse cx="452.84" cy="453.48" rx="1.14" ry="1.74"/><ellipse cx="454.29" cy="446.57" rx="1.19" ry="2.2"/><ellipse cx="451.33" cy="454.61" rx="0.64" ry="1.53"/></g>
<path d="M450.99,462.2v1.21M455.53,462.2v1.21" stroke="#777" stroke-width="0.8"/>
<rect x="459.5" y="439.6" width="45.7" height="24.3" fill="#1e1e1e"/>
<path d="M465.62,440.89 C466.32,441.16 466.49,441.78 466.72,442.51 C466.95,443.24 466.86,444.2 466.99,445.28 C467.13,446.36 467.42,447.32 467.54,448.98 C467.67,450.63 467.74,453.41 467.73,455.22 C467.71,457.02 467.7,458.68 467.45,459.84 C467.21,460.99 467.19,461.76 466.26,462.14 C465.33,462.53 462.81,462.53 461.88,462.14 C460.95,461.76 460.93,460.99 460.69,459.84 C460.44,458.68 460.43,457.02 460.41,455.22 C460.4,453.41 460.47,450.63 460.6,448.98 C460.72,447.32 461.01,446.36 461.15,445.28 C461.28,444.2 461.19,443.24 461.42,442.51 C461.65,441.78 461.82,441.16 462.52,440.89 C463.22,440.62 464.92,440.62 465.62,440.89Z" fill="url(#gMouseE)"/>
<g fill="#8a8a8a" opacity="0.22"><ellipse cx="463.45" cy="457.39" rx="0.83" ry="1.96"/><ellipse cx="464.87" cy="459.64" rx="1.11" ry="1.75"/><ellipse cx="462.92" cy="447.62" rx="0.87" ry="1.93"/><ellipse cx="464.91" cy="448.87" rx="0.71" ry="1.8"/></g>
<path d="M461.78,462.2v1.21M466.36,462.2v1.21" stroke="#777" stroke-width="0.8"/>
<path d="M474.76,440.89 C475.46,441.16 475.63,441.78 475.86,442.51 C476.09,443.24 476,444.2 476.13,445.28 C476.27,446.36 476.56,447.32 476.68,448.98 C476.81,450.63 476.88,453.41 476.87,455.22 C476.85,457.02 476.84,458.68 476.59,459.84 C476.35,460.99 476.33,461.76 475.4,462.14 C474.47,462.53 471.95,462.53 471.02,462.14 C470.09,461.76 470.07,460.99 469.83,459.84 C469.58,458.68 469.57,457.02 469.55,455.22 C469.54,453.41 469.61,450.63 469.74,448.98 C469.86,447.32 470.15,446.36 470.29,445.28 C470.42,444.2 470.33,443.24 470.56,442.51 C470.79,441.78 470.96,441.16 471.66,440.89 C472.36,440.62 474.06,440.62 474.76,440.89Z" fill="url(#gMouseE)"/>
<g fill="#8a8a8a" opacity="0.22"><ellipse cx="474.28" cy="454.06" rx="0.65" ry="1.74"/><ellipse cx="473.49" cy="453.06" rx="0.77" ry="1.6"/><ellipse cx="473.01" cy="453.07" rx="0.68" ry="2.16"/><ellipse cx="472.51" cy="455.75" rx="0.86" ry="1.27"/></g>
<path d="M470.92,462.2v1.21M475.5,462.2v1.21" stroke="#777" stroke-width="0.8"/>
<path d="M483.9,440.89 C484.6,441.16 484.77,441.78 485,442.51 C485.23,443.24 485.14,444.2 485.27,445.28 C485.41,446.36 485.7,447.32 485.82,448.98 C485.95,450.63 486.02,453.41 486.01,455.22 C485.99,457.02 485.98,458.68 485.73,459.84 C485.49,460.99 485.47,461.76 484.54,462.14 C483.61,462.53 481.09,462.53 480.16,462.14 C479.23,461.76 479.21,460.99 478.97,459.84 C478.72,458.68 478.71,457.02 478.69,455.22 C478.68,453.41 478.75,450.63 478.88,448.98 C479,447.32 479.29,446.36 479.43,445.28 C479.56,444.2 479.47,443.24 479.7,442.51 C479.93,441.78 480.1,441.16 480.8,440.89 C481.5,440.62 483.2,440.62 483.9,440.89Z" fill="url(#gMouseE)"/>
<g fill="#8a8a8a" opacity="0.22"><ellipse cx="480.72" cy="451.58" rx="0.68" ry="1.92"/><ellipse cx="484.33" cy="448.44" rx="0.96" ry="1.36"/><ellipse cx="480.42" cy="454.01" rx="1.08" ry="1.46"/><ellipse cx="482.07" cy="452.38" rx="0.91" ry="1.57"/></g>
<path d="M480.06,462.2v1.21M484.64,462.2v1.21" stroke="#777" stroke-width="0.8"/>
<path d="M493.04,440.89 C493.74,441.16 493.91,441.78 494.14,442.51 C494.37,443.24 494.28,444.2 494.41,445.28 C494.55,446.36 494.84,447.32 494.96,448.98 C495.09,450.63 495.16,453.41 495.15,455.22 C495.13,457.02 495.12,458.68 494.87,459.84 C494.63,460.99 494.61,461.76 493.68,462.14 C492.75,462.53 490.23,462.53 489.3,462.14 C488.37,461.76 488.35,460.99 488.11,459.84 C487.86,458.68 487.85,457.02 487.83,455.22 C487.82,453.41 487.89,450.63 488.02,448.98 C488.14,447.32 488.43,446.36 488.57,445.28 C488.7,444.2 488.61,443.24 488.84,442.51 C489.07,441.78 489.24,441.16 489.94,440.89 C490.64,440.62 492.34,440.62 493.04,440.89Z" fill="url(#gMouseE)"/>
<g fill="#8a8a8a" opacity="0.22"><ellipse cx="490.51" cy="456.12" rx="1.15" ry="1.69"/><ellipse cx="489.75" cy="446.39" rx="0.87" ry="1.14"/><ellipse cx="490.55" cy="457.92" rx="0.66" ry="1.41"/><ellipse cx="491.06" cy="455.12" rx="1.26" ry="1.9"/></g>
<path d="M489.2,462.2v1.21M493.78,462.2v1.21" stroke="#777" stroke-width="0.8"/>
<path d="M502.18,440.89 C502.88,441.16 503.05,441.78 503.28,442.51 C503.51,443.24 503.42,444.2 503.55,445.28 C503.69,446.36 503.98,447.32 504.1,448.98 C504.23,450.63 504.3,453.41 504.29,455.22 C504.27,457.02 504.26,458.68 504.01,459.84 C503.77,460.99 503.75,461.76 502.82,462.14 C501.89,462.53 499.37,462.53 498.44,462.14 C497.51,461.76 497.49,460.99 497.25,459.84 C497,458.68 496.99,457.02 496.97,455.22 C496.96,453.41 497.03,450.63 497.16,448.98 C497.28,447.32 497.57,446.36 497.71,445.28 C497.84,444.2 497.75,443.24 497.98,442.51 C498.21,441.78 498.38,441.16 499.08,440.89 C499.78,440.62 501.48,440.62 502.18,440.89Z" fill="url(#gMouseE)"/>
<g fill="#8a8a8a" opacity="0.22"><ellipse cx="501.21" cy="454.59" rx="0.88" ry="1.31"/><ellipse cx="501.34" cy="450.55" rx="0.61" ry="1.81"/><ellipse cx="500.78" cy="445.62" rx="0.88" ry="1.13"/><ellipse cx="501.72" cy="458.85" rx="1.27" ry="1.55"/></g>
<path d="M498.34,462.2v1.21M502.92,462.2v1.21" stroke="#777" stroke-width="0.8"/>
<rect x="336.5" y="470.8" width="129.5" height="6.3" fill="url(#gBarE)"/>
<text x="337" y="482.14" font-size="2.6" text-anchor="middle" font-weight="bold" fill="#444" transform="rotate(-90 337 481.2)">0.0</text>
<text x="341.94" y="482.14" font-size="2.6" text-anchor="middle" font-weight="bold" fill="#444" transform="rotate(-90 341.94 481.2)">0.0</text>
<text x="346.88" y="482.14" font-size="2.6" text-anchor="middle" font-weight="bold" fill="#444" transform="rotate(-90 346.88 481.2)">0.0</text>
<text x="351.83" y="482.14" font-size="2.6" text-anchor="middle" font-weight="bold" fill="#444" transform="rotate(-90 351.83 481.2)">0.0</text>
<text x="356.77" y="482.14" font-size="2.6" text-anchor="middle" font-weight="bold" fill="#444" transform="rotate(-90 356.77 481.2)">0.0</text>
<text x="361.71" y="482.14" font-size="2.6" text-anchor="middle" font-weight="bold" fill="#444" transform="rotate(-90 361.71 481.2)">0.0</text>
<text x="366.65" y="482.14" font-size="2.6" text-anchor="middle" font-weight="bold" fill="#444" transform="rotate(-90 366.65 481.2)">0.0</text>
<text x="371.6" y="482.14" font-size="2.6" text-anchor="middle" font-weight="bold" fill="#444" transform="rotate(-90 371.6 481.2)">0.0</text>
<text x="376.54" y="482.14" font-size="2.6" text-anchor="middle" font-weight="bold" fill="#444" transform="rotate(-90 376.54 481.2)">0.0</text>
<text x="381.48" y="482.14" font-size="2.6" text-anchor="middle" font-weight="bold" fill="#444" transform="rotate(-90 381.48 481.2)">0.0</text>
<text x="386.42" y="482.14" font-size="2.6" text-anchor="middle" font-weight="bold" fill="#444" transform="rotate(-90 386.42 481.2)">0.0</text>
<text x="391.37" y="482.14" font-size="2.6" text-anchor="middle" font-weight="bold" fill="#444" transform="rotate(-90 391.37 481.2)">0.0</text>
<text x="396.31" y="482.14" font-size="2.6" text-anchor="middle" font-weight="bold" fill="#444" transform="rotate(-90 396.31 481.2)">0.0</text>
<text x="401.25" y="482.14" font-size="2.6" text-anchor="middle" font-weight="bold" fill="#444" transform="rotate(-90 401.25 481.2)">0.0</text>
<text x="406.19" y="482.14" font-size="2.6" text-anchor="middle" font-weight="bold" fill="#444" transform="rotate(-90 406.19 481.2)">0.0</text>
<text x="411.13" y="482.14" font-size="2.6" text-anchor="middle" font-weight="bold" fill="#444" transform="rotate(-90 411.13 481.2)">0.0</text>
<text x="416.08" y="482.14" font-size="2.6" text-anchor="middle" font-weight="bold" fill="#444" transform="rotate(-90 416.08 481.2)">0.0</text>
<text x="421.02" y="482.14" font-size="2.6" text-anchor="middle" font-weight="bold" fill="#444" transform="rotate(-90 421.02 481.2)">0.0</text>
<text x="425.96" y="482.14" font-size="2.6" text-anchor="middle" font-weight="bold" fill="#444" transform="rotate(-90 425.96 481.2)">0.0</text>
<text x="430.9" y="482.14" font-size="2.6" text-anchor="middle" font-weight="bold" fill="#444" transform="rotate(-90 430.9 481.2)">0.0</text>
<text x="435.85" y="482.14" font-size="2.6" text-anchor="middle" font-weight="bold" fill="#444" transform="rotate(-90 435.85 481.2)">0.0</text>
<text x="440.79" y="482.14" font-size="2.6" text-anchor="middle" font-weight="bold" fill="#444" transform="rotate(-90 440.79 481.2)">0.0</text>
<text x="445.73" y="482.14" font-size="2.6" text-anchor="middle" font-weight="bold" fill="#444" transform="rotate(-90 445.73 481.2)">0.0</text>
<text x="450.67" y="482.14" font-size="2.6" text-anchor="middle" font-weight="bold" fill="#444" transform="rotate(-90 450.67 481.2)">0.0</text>
<text x="455.62" y="482.14" font-size="2.6" text-anchor="middle" font-weight="bold" fill="#444" transform="rotate(-90 455.62 481.2)">0.0</text>
<text x="460.56" y="482.14" font-size="2.6" text-anchor="middle" font-weight="bold" fill="#444" transform="rotate(-90 460.56 481.2)">0.0</text>
<text x="465.5" y="482.14" font-size="2.6" text-anchor="middle" font-weight="bold" fill="#444" transform="rotate(-90 465.5 481.2)">0.0</text>
<text x="351" y="484.58" font-size="3" text-anchor="middle" font-weight="bold" fill="#222" transform="rotate(-90 351 483.5)">1.0</text>
<text x="353" y="487.44" font-size="2.6" text-anchor="middle" font-weight="bold" fill="#222" transform="rotate(-90 353 486.5)">×10<tspan font-size="2" dy="-1.2">7</tspan></text>
<text x="374" y="484.58" font-size="3" text-anchor="middle" font-weight="bold" fill="#222" transform="rotate(-90 374 483.5)">2.0</text>
<text x="376" y="487.44" font-size="2.6" text-anchor="middle" font-weight="bold" fill="#222" transform="rotate(-90 376 486.5)">×10<tspan font-size="2" dy="-1.2">7</tspan></text>
<text x="396" y="484.58" font-size="3" text-anchor="middle" font-weight="bold" fill="#222" transform="rotate(-90 396 483.5)">3.0</text>
<text x="398" y="487.44" font-size="2.6" text-anchor="middle" font-weight="bold" fill="#222" transform="rotate(-90 398 486.5)">×10<tspan font-size="2" dy="-1.2">7</tspan></text>
<text x="419" y="484.58" font-size="3" text-anchor="middle" font-weight="bold" fill="#222" transform="rotate(-90 419 483.5)">4.0</text>
<text x="421" y="487.44" font-size="2.6" text-anchor="middle" font-weight="bold" fill="#222" transform="rotate(-90 421 486.5)">×10<tspan font-size="2" dy="-1.2">7</tspan></text>
<text x="470.8" y="475.77" font-size="6.3" font-weight="bold" stroke="#1a1a1a" stroke-width="0.1">Radiance</text>
<text x="470.8" y="484.46" font-size="6" font-weight="bold" stroke="#1a1a1a" stroke-width="0.1">(p/sec/cm<tspan font-size="3.8" dy="-1.9">2</tspan><tspan dy="1.9">/sr)</tspan></text>
<text x="2" y="522.32" font-size="12" font-weight="bold" fill="#111" stroke="#111" stroke-width="0.19">F</text>
<line x1="20.8" y1="533.5" x2="20.8" y2="623.4" stroke="#111" stroke-width="1.4"/>
<line x1="20.8" y1="623.4" x2="125" y2="623.4" stroke="#111" stroke-width="1.4"/>
<line x1="19" y1="622.8" x2="20.8" y2="622.8" stroke="#111" stroke-width="0.8"/>
<text x="18.6" y="625.01" font-size="5.3" text-anchor="end" font-weight="bold" fill="#222" stroke="#222" stroke-width="0.08">10<tspan font-size="3.4" dy="-2">2</tspan></text>
<line x1="19" y1="608.1" x2="20.8" y2="608.1" stroke="#111" stroke-width="0.8"/>
<text x="18.6" y="610.31" font-size="5.3" text-anchor="end" font-weight="bold" fill="#222" stroke="#222" stroke-width="0.08">10<tspan font-size="3.4" dy="-2">3</tspan></text>
<line x1="19" y1="593.4" x2="20.8" y2="593.4" stroke="#111" stroke-width="0.8"/>
<text x="18.6" y="595.61" font-size="5.3" text-anchor="end" font-weight="bold" fill="#222" stroke="#222" stroke-width="0.08">10<tspan font-size="3.4" dy="-2">4</tspan></text>
<line x1="19" y1="578.7" x2="20.8" y2="578.7" stroke="#111" stroke-width="0.8"/>
<text x="18.6" y="580.91" font-size="5.3" text-anchor="end" font-weight="bold" fill="#222" stroke="#222" stroke-width="0.08">10<tspan font-size="3.4" dy="-2">5</tspan></text>
<line x1="19" y1="564" x2="20.8" y2="564" stroke="#111" stroke-width="0.8"/>
<text x="18.6" y="566.21" font-size="5.3" text-anchor="end" font-weight="bold" fill="#222" stroke="#222" stroke-width="0.08">10<tspan font-size="3.4" dy="-2">6</tspan></text>
<line x1="19" y1="549.3" x2="20.8" y2="549.3" stroke="#111" stroke-width="0.8"/>
<text x="18.6" y="551.51" font-size="5.3" text-anchor="end" font-weight="bold" fill="#222" stroke="#222" stroke-width="0.08">10<tspan font-size="3.4" dy="-2">7</tspan></text>
<line x1="19" y1="534.6" x2="20.8" y2="534.6" stroke="#111" stroke-width="0.8"/>
<text x="18.6" y="536.81" font-size="5.3" text-anchor="end" font-weight="bold" fill="#222" stroke="#222" stroke-width="0.08">10<tspan font-size="3.4" dy="-2">8</tspan></text>
<line x1="21" y1="623.4" x2="21" y2="625.2" stroke="#111" stroke-width="0.8"/>
<text x="21" y="633.39" font-size="5.8" text-anchor="middle" font-weight="bold" fill="#222" stroke="#222" stroke-width="0.09">0</text>
<line x1="51.3" y1="623.4" x2="51.3" y2="625.2" stroke="#111" stroke-width="0.8"/>
<text x="51.3" y="633.39" font-size="5.8" text-anchor="middle" font-weight="bold" fill="#222" stroke="#222" stroke-width="0.09">20</text>
<line x1="81.6" y1="623.4" x2="81.6" y2="625.2" stroke="#111" stroke-width="0.8"/>
<text x="81.6" y="633.39" font-size="5.8" text-anchor="middle" font-weight="bold" fill="#222" stroke="#222" stroke-width="0.09">40</text>
<line x1="111.9" y1="623.4" x2="111.9" y2="625.2" stroke="#111" stroke-width="0.8"/>
<text x="111.9" y="633.39" font-size="5.8" text-anchor="middle" font-weight="bold" fill="#222" stroke="#222" stroke-width="0.09">60</text>
<text x="71.6" y="642.92" font-size="5.9" text-anchor="middle" font-weight="bold" fill="#222" stroke="#222" stroke-width="0.09" textLength="84" lengthAdjust="spacingAndGlyphs">Days after Nalm6-PDL1 injection</text>
<text x="5.6" y="579.36" font-size="6" text-anchor="middle" fill="#222" stroke="#222" stroke-width="0.15" textLength="35" lengthAdjust="spacingAndGlyphs" transform="rotate(-90 5.6 577.2)">p/s/cm<tspan font-size="4" dy="-2">2</tspan><tspan dy="2">/sr</tspan></text>
<polyline points="30.9,583.2 34.5,564.8 37.2,554.6 46.7,536.6" fill="none" stroke="#2a2a78" stroke-width="1.3"/>
<circle cx="30.9" cy="583.2" r="1.9" fill="#2a2a78"/>
<circle cx="34.5" cy="564.8" r="1.9" fill="#2a2a78"/>
<circle cx="37.2" cy="554.6" r="1.9" fill="#2a2a78"/>
<circle cx="46.7" cy="536.6" r="1.9" fill="#2a2a78"/>
<line x1="31" y1="578" x2="31" y2="592" stroke="#7c7c7c" stroke-width="1.1"/>
<line x1="29.2" y1="578" x2="32.8" y2="578" stroke="#7c7c7c" stroke-width="1.1"/>
<line x1="29.2" y1="592" x2="32.8" y2="592" stroke="#7c7c7c" stroke-width="1.1"/>
<line x1="34.5" y1="596" x2="34.5" y2="603" stroke="#7c7c7c" stroke-width="1.1"/>
<line x1="32.7" y1="596" x2="36.3" y2="596" stroke="#7c7c7c" stroke-width="1.1"/>
<line x1="32.7" y1="603" x2="36.3" y2="603" stroke="#7c7c7c" stroke-width="1.1"/>
<line x1="74.2" y1="577" x2="74.2" y2="605" stroke="#7c7c7c" stroke-width="1.1"/>
<line x1="72.4" y1="577" x2="76" y2="577" stroke="#7c7c7c" stroke-width="1.1"/>
<line x1="72.4" y1="605" x2="76" y2="605" stroke="#7c7c7c" stroke-width="1.1"/>
<line x1="90.1" y1="573" x2="90.1" y2="588.5" stroke="#7c7c7c" stroke-width="1.1"/>
<line x1="88.3" y1="573" x2="91.9" y2="573" stroke="#7c7c7c" stroke-width="1.1"/>
<line x1="88.3" y1="588.5" x2="91.9" y2="588.5" stroke="#7c7c7c" stroke-width="1.1"/>
<line x1="99.6" y1="547.2" x2="99.6" y2="573.2" stroke="#7c7c7c" stroke-width="1.1"/>
<line x1="97.8" y1="547.2" x2="101.4" y2="547.2" stroke="#7c7c7c" stroke-width="1.1"/>
<line x1="97.8" y1="573.2" x2="101.4" y2="573.2" stroke="#7c7c7c" stroke-width="1.1"/>
<line x1="110.6" y1="534.5" x2="110.6" y2="575.3" stroke="#7c7c7c" stroke-width="1.1"/>
<line x1="108.8" y1="534.5" x2="112.4" y2="534.5" stroke="#7c7c7c" stroke-width="1.1"/>
<line x1="108.8" y1="575.3" x2="112.4" y2="575.3" stroke="#7c7c7c" stroke-width="1.1"/>
<line x1="67.9" y1="602" x2="67.9" y2="608" stroke="#7c7c7c" stroke-width="1.1"/>
<line x1="66.1" y1="602" x2="69.7" y2="602" stroke="#7c7c7c" stroke-width="1.1"/>
<line x1="66.1" y1="608" x2="69.7" y2="608" stroke="#7c7c7c" stroke-width="1.1"/>
<polyline points="31,583 34.5,600 36.2,609.6 46.7,610 57.3,610 67.9,609.6 74.2,609.6 90.1,605.6 99.6,609.6 110.6,607.6" fill="none" stroke="#2f7a5a" stroke-width="1.3"/>
<polyline points="31,583.8 34.5,599.5 36.2,609.6 46.7,609.6 57.3,608.6 67.9,605.4 74.2,581.7 90.1,576.8 99.6,552.5 110.6,538.8" fill="none" stroke="#7c7c7c" stroke-width="1.3"/>
<rect x="29.1" y="581.9" width="3.8" height="3.8" fill="#7c7c7c"/>
<rect x="32.6" y="597.6" width="3.8" height="3.8" fill="#7c7c7c"/>
<rect x="34.3" y="607.7" width="3.8" height="3.8" fill="#7c7c7c"/>
<rect x="44.8" y="607.7" width="3.8" height="3.8" fill="#7c7c7c"/>
<rect x="55.4" y="606.7" width="3.8" height="3.8" fill="#7c7c7c"/>
<rect x="66" y="603.5" width="3.8" height="3.8" fill="#7c7c7c"/>
<rect x="72.3" y="579.8" width="3.8" height="3.8" fill="#7c7c7c"/>
<rect x="88.2" y="574.9" width="3.8" height="3.8" fill="#7c7c7c"/>
<rect x="97.7" y="550.6" width="3.8" height="3.8" fill="#7c7c7c"/>
<rect x="108.7" y="536.9" width="3.8" height="3.8" fill="#7c7c7c"/>
<polygon points="28.7,584.8 33.3,584.8 31,580.8" fill="#2f7a5a" stroke="none" stroke-width="0"/>
<polygon points="32.2,601.8 36.8,601.8 34.5,597.8" fill="#2f7a5a" stroke="none" stroke-width="0"/>
<polygon points="33.9,611.4 38.5,611.4 36.2,607.4" fill="#2f7a5a" stroke="none" stroke-width="0"/>
<polygon points="44.4,611.8 49,611.8 46.7,607.8" fill="#2f7a5a" stroke="none" stroke-width="0"/>
<polygon points="55,611.8 59.6,611.8 57.3,607.8" fill="#2f7a5a" stroke="none" stroke-width="0"/>
<polygon points="65.6,611.4 70.2,611.4 67.9,607.4" fill="#2f7a5a" stroke="none" stroke-width="0"/>
<polygon points="71.9,611.4 76.5,611.4 74.2,607.4" fill="#2f7a5a" stroke="none" stroke-width="0"/>
<polygon points="87.8,607.4 92.4,607.4 90.1,603.4" fill="#2f7a5a" stroke="none" stroke-width="0"/>
<polygon points="97.3,611.4 101.9,611.4 99.6,607.4" fill="#2f7a5a" stroke="none" stroke-width="0"/>
<polygon points="108.3,609.4 112.9,609.4 110.6,605.4" fill="#2f7a5a" stroke="none" stroke-width="0"/>
<line x1="116.5" y1="540.9" x2="116.5" y2="605.4" stroke="#555" stroke-width="1.2"/>
<text x="120.8" y="577.36" font-size="6" text-anchor="middle" font-weight="bold" fill="#222" stroke="#222" stroke-width="0.1">*</text>
<line x1="126.5" y1="537.7" x2="133" y2="537.7" stroke="#2a2a78" stroke-width="1.3"/>
<circle cx="129.8" cy="537.7" r="1.8" fill="#2a2a78"/>
<text x="135.3" y="539.82" font-size="5.9" fill="#222" stroke="#222" stroke-width="0.28">NT</text>
<line x1="126.5" y1="548.1" x2="133" y2="548.1" stroke="#7c7c7c" stroke-width="1.3"/>
<rect x="128" y="546.3" width="3.6" height="3.6" fill="#7c7c7c"/>
<text x="135.3" y="550.22" font-size="5.9" fill="#222" stroke="#222" stroke-width="0.28" textLength="62" lengthAdjust="spacingAndGlyphs">CD19-CAR-TCR/HLA-I<tspan font-size="3.4" dy="-2">−/−</tspan></text>
<line x1="126.5" y1="557.3" x2="133" y2="557.3" stroke="#2f7a5a" stroke-width="1.3"/>
<polygon points="127.73,558.92 131.87,558.92 129.8,555.32" fill="#2f7a5a" stroke="none" stroke-width="0"/>
<text x="135.3" y="559.42" font-size="5.9" fill="#222" stroke="#222" stroke-width="0.28" textLength="72" lengthAdjust="spacingAndGlyphs">CD19-CAR-TCR/HLA-I-PD1<tspan font-size="3.4" dy="-2">−/−</tspan></text>
<text x="226.8" y="524.02" font-size="12" font-weight="bold" fill="#111" stroke="#111" stroke-width="0.19">G</text>
<text x="326" y="512.34" font-size="6.5" fill="#222" stroke="#222" stroke-width="0.17">Tumor burden after T-cell injection</text>
<text x="323.8" y="527.58" font-size="6.6" text-anchor="middle" fill="#222" stroke="#222" stroke-width="0.18" textLength="100" lengthAdjust="spacingAndGlyphs">Day 2 (day 9 post tumor injection)</text>
<text x="464.8" y="530.38" font-size="6.6" text-anchor="middle" fill="#222" stroke="#222" stroke-width="0.18" textLength="109" lengthAdjust="spacingAndGlyphs">Day 59 (day 66 post tumor injection)</text>
<line x1="267.1" y1="538.7" x2="267.1" y2="579.3" stroke="#111" stroke-width="1.2"/>
<line x1="267.1" y1="585.6" x2="267.1" y2="625.5" stroke="#111" stroke-width="1.2"/>
<line x1="267.1" y1="625.5" x2="361" y2="625.5" stroke="#111" stroke-width="1.2"/>
<line x1="265.4" y1="540" x2="267.1" y2="540" stroke="#111" stroke-width="0.8"/>
<text x="265.3" y="542.09" font-size="5.8" text-anchor="end" font-weight="bold" fill="#222" stroke="#222" stroke-width="0.09" textLength="22" lengthAdjust="spacingAndGlyphs">8.0×10<tspan font-size="3.4" dy="-1.9">7</tspan></text>
<line x1="265.4" y1="548" x2="267.1" y2="548" stroke="#111" stroke-width="0.8"/>
<text x="265.3" y="550.09" font-size="5.8" text-anchor="end" font-weight="bold" fill="#222" stroke="#222" stroke-width="0.09" textLength="22" lengthAdjust="spacingAndGlyphs">7.0×10<tspan font-size="3.4" dy="-1.9">7</tspan></text>
<line x1="265.4" y1="556" x2="267.1" y2="556" stroke="#111" stroke-width="0.8"/>
<text x="265.3" y="558.09" font-size="5.8" text-anchor="end" font-weight="bold" fill="#222" stroke="#222" stroke-width="0.09" textLength="22" lengthAdjust="spacingAndGlyphs">6.0×10<tspan font-size="3.4" dy="-1.9">7</tspan></text>
<line x1="265.4" y1="564" x2="267.1" y2="564" stroke="#111" stroke-width="0.8"/>
<text x="265.3" y="566.09" font-size="5.8" text-anchor="end" font-weight="bold" fill="#222" stroke="#222" stroke-width="0.09" textLength="22" lengthAdjust="spacingAndGlyphs">5.0×10<tspan font-size="3.4" dy="-1.9">7</tspan></text>
<line x1="265.4" y1="571.8" x2="267.1" y2="571.8" stroke="#111" stroke-width="0.8"/>
<text x="265.3" y="573.89" font-size="5.8" text-anchor="end" font-weight="bold" fill="#222" stroke="#222" stroke-width="0.09" textLength="22" lengthAdjust="spacingAndGlyphs">4.0×10<tspan font-size="3.4" dy="-1.9">7</tspan></text>
<line x1="265.4" y1="579.8" x2="267.1" y2="579.8" stroke="#111" stroke-width="0.8"/>
<text x="265.3" y="581.89" font-size="5.8" text-anchor="end" font-weight="bold" fill="#222" stroke="#222" stroke-width="0.09" textLength="22" lengthAdjust="spacingAndGlyphs">3.0×10<tspan font-size="3.4" dy="-1.9">7</tspan></text>
<line x1="265.4" y1="592.3" x2="267.1" y2="592.3" stroke="#111" stroke-width="0.8"/>
<text x="264.6" y="594.39" font-size="5.8" text-anchor="end" font-weight="bold" fill="#222" stroke="#222" stroke-width="0.09">10,000</text>
<line x1="265.4" y1="609" x2="267.1" y2="609" stroke="#111" stroke-width="0.8"/>
<text x="264.6" y="611.09" font-size="5.8" text-anchor="end" font-weight="bold" fill="#222" stroke="#222" stroke-width="0.09">5,000</text>
<line x1="265.4" y1="625.2" x2="267.1" y2="625.2" stroke="#111" stroke-width="0.8"/>
<text x="264.6" y="627.29" font-size="5.8" text-anchor="end" font-weight="bold" fill="#222" stroke="#222" stroke-width="0.09">0</text>
<line x1="282.4" y1="625.5" x2="282.4" y2="628.6" stroke="#111" stroke-width="0.8"/>
<line x1="313.9" y1="625.5" x2="313.9" y2="628.6" stroke="#111" stroke-width="0.8"/>
<line x1="344.6" y1="625.5" x2="344.6" y2="628.6" stroke="#111" stroke-width="0.8"/>
<text x="235.8" y="580.45" font-size="6.8" text-anchor="middle" font-weight="bold" fill="#222" stroke="#222" stroke-width="0.11" transform="rotate(-90 235.8 578)">p/s/cm<tspan font-size="4.4" dy="-2.2">2</tspan><tspan dy="2.2">/sr</tspan></text>
<circle cx="280.6" cy="548.5" r="2" fill="#111"/>
<circle cx="284.5" cy="546.2" r="2" fill="#111"/>
<circle cx="282.4" cy="559.6" r="2" fill="#111"/>
<circle cx="282.4" cy="566.4" r="2" fill="#111"/>
<line x1="272.3" y1="555.3" x2="293.1" y2="555.3" stroke="#111" stroke-width="1.3"/>
<line x1="282.7" y1="550.5" x2="282.7" y2="560.3" stroke="#111" stroke-width="1.1"/>
<line x1="276.9" y1="550.5" x2="288.5" y2="550.5" stroke="#111" stroke-width="1.1"/>
<line x1="276.9" y1="560.3" x2="288.5" y2="560.3" stroke="#111" stroke-width="1.1"/>
<line x1="275.2" y1="540.8" x2="310.8" y2="540.8" stroke="#111" stroke-width="1.2"/>
<text x="293.2" y="540.36" font-size="6" text-anchor="middle" font-weight="bold" fill="#222" stroke="#222" stroke-width="0.1">****</text>
<rect x="305.7" y="601.7" width="3.6" height="3.6" fill="#777"/>
<rect x="311.2" y="612" width="3.6" height="3.6" fill="#777"/>
<rect x="316.2" y="611.5" width="3.6" height="3.6" fill="#777"/>
<rect x="309.2" y="615.4" width="3.6" height="3.6" fill="#777"/>
<line x1="303" y1="612.5" x2="324.6" y2="612.5" stroke="#222" stroke-width="1.3"/>
<line x1="313.8" y1="609.4" x2="313.8" y2="616" stroke="#222" stroke-width="1"/>
<line x1="308.8" y1="609.4" x2="318.8" y2="609.4" stroke="#222" stroke-width="1"/>
<line x1="308.8" y1="616" x2="318.8" y2="616" stroke="#222" stroke-width="1"/>
<polygon points="331.77,623.55 335.23,623.55 333.5,620.55" fill="#2e8b57" stroke="none" stroke-width="0"/>
<polygon points="336.27,623.55 339.73,623.55 338,620.55" fill="#2e8b57" stroke="none" stroke-width="0"/>
<polygon points="341.27,623.55 344.73,623.55 343,620.55" fill="#2e8b57" stroke="none" stroke-width="0"/>
<polygon points="346.07,623.55 349.53,623.55 347.8,620.55" fill="#2e8b57" stroke="none" stroke-width="0"/>
<polygon points="350.47,623.55 353.93,623.55 352.2,620.55" fill="#2e8b57" stroke="none" stroke-width="0"/>
<line x1="330" y1="621.6" x2="355.4" y2="621.6" stroke="#145a32" stroke-width="1.3"/>
<line x1="316" y1="592" x2="342.5" y2="592" stroke="#111" stroke-width="1.2"/>
<text x="328.3" y="589.76" font-size="6" text-anchor="middle" font-weight="bold" fill="#222" stroke="#222" stroke-width="0.1">**</text>
<text x="283.2" y="633.5" font-size="5.8" text-anchor="end" fill="#222" stroke="#222" stroke-width="0.2" transform="rotate(-50 283.2 633.5)">NT</text>
<text x="317.2" y="633.5" font-size="5.8" text-anchor="end" fill="#222" stroke="#222" stroke-width="0.2" transform="rotate(-50 317.2 633.5)">CD19-CAR-TCR/HLA-I<tspan font-size="3.4" dy="-1.8">−</tspan></text>
<text x="347" y="633.5" font-size="5.8" text-anchor="end" fill="#222" stroke="#222" stroke-width="0.2" transform="rotate(-50 347 633.5)">CD19-CAR-TCR/HLA-I/PD1<tspan font-size="3.4" dy="-1.8">−</tspan></text>
<line x1="432.8" y1="540.3" x2="432.8" y2="578" stroke="#111" stroke-width="1.2"/>
<line x1="432.8" y1="585" x2="432.8" y2="626.3" stroke="#111" stroke-width="1.2"/>
<line x1="432.8" y1="626.3" x2="503" y2="626.3" stroke="#111" stroke-width="1.2"/>
<line x1="431.1" y1="541" x2="432.8" y2="541" stroke="#111" stroke-width="0.8"/>
<text x="430" y="543.16" font-size="6" text-anchor="end" font-weight="bold" fill="#222" stroke="#222" stroke-width="0.1" textLength="24.6" lengthAdjust="spacingAndGlyphs">2.0×10<tspan font-size="3" dy="-1.7">06</tspan></text>
<line x1="431.1" y1="551" x2="432.8" y2="551" stroke="#111" stroke-width="0.8"/>
<text x="430" y="553.16" font-size="6" text-anchor="end" font-weight="bold" fill="#222" stroke="#222" stroke-width="0.1" textLength="24.6" lengthAdjust="spacingAndGlyphs">1.5×10<tspan font-size="3" dy="-1.7">06</tspan></text>
<line x1="431.1" y1="561" x2="432.8" y2="561" stroke="#111" stroke-width="0.8"/>
<text x="430" y="563.16" font-size="6" text-anchor="end" font-weight="bold" fill="#222" stroke="#222" stroke-width="0.1" textLength="25.3" lengthAdjust="spacingAndGlyphs">1000,000</text>
<line x1="431.1" y1="571.2" x2="432.8" y2="571.2" stroke="#111" stroke-width="0.8"/>
<text x="430" y="573.36" font-size="6" text-anchor="end" font-weight="bold" fill="#222" stroke="#222" stroke-width="0.1" textLength="21.5" lengthAdjust="spacingAndGlyphs">500,000</text>
<line x1="431.1" y1="587.1" x2="432.8" y2="587.1" stroke="#111" stroke-width="0.8"/>
<text x="430" y="589.26" font-size="6" text-anchor="end" font-weight="bold" fill="#222" stroke="#222" stroke-width="0.1">2,000</text>
<line x1="431.1" y1="596.6" x2="432.8" y2="596.6" stroke="#111" stroke-width="0.8"/>
<text x="430" y="598.76" font-size="6" text-anchor="end" font-weight="bold" fill="#222" stroke="#222" stroke-width="0.1">1,500</text>
<line x1="431.1" y1="606.1" x2="432.8" y2="606.1" stroke="#111" stroke-width="0.8"/>
<text x="430" y="608.26" font-size="6" text-anchor="end" font-weight="bold" fill="#222" stroke="#222" stroke-width="0.1">1,000</text>
<line x1="431.1" y1="615.9" x2="432.8" y2="615.9" stroke="#111" stroke-width="0.8"/>
<text x="430" y="618.06" font-size="6" text-anchor="end" font-weight="bold" fill="#222" stroke="#222" stroke-width="0.1">500</text>
<line x1="431.1" y1="626.3" x2="432.8" y2="626.3" stroke="#111" stroke-width="0.8"/>
<text x="430" y="628.46" font-size="6" text-anchor="end" font-weight="bold" fill="#222" stroke="#222" stroke-width="0.1">0</text>
<line x1="450.5" y1="626.3" x2="450.5" y2="629.4" stroke="#111" stroke-width="0.8"/>
<line x1="484.5" y1="626.3" x2="484.5" y2="629.4" stroke="#111" stroke-width="0.8"/>
<text x="398.8" y="580.45" font-size="6.8" text-anchor="middle" font-weight="bold" fill="#222" stroke="#222" stroke-width="0.11" transform="rotate(-90 398.8 578)">p/s/cm<tspan font-size="4.4" dy="-2.2">2</tspan><tspan dy="2.2">/sr</tspan></text>
<circle cx="450.7" cy="557.6" r="2.1" fill="#6e6e6e"/>
<circle cx="450.7" cy="566.3" r="2.1" fill="#6e6e6e"/>
<circle cx="450.7" cy="577.8" r="2.1" fill="#6e6e6e"/>
<line x1="439.2" y1="568.3" x2="462.2" y2="568.3" stroke="#111" stroke-width="1.3"/>
<line x1="450.2" y1="562" x2="450.2" y2="574.4" stroke="#111" stroke-width="1.1"/>
<line x1="444.2" y1="562" x2="456.2" y2="562" stroke="#111" stroke-width="1.1"/>
<line x1="444.2" y1="574.4" x2="456.2" y2="574.4" stroke="#111" stroke-width="1.1"/>
<line x1="448.4" y1="551.3" x2="487.6" y2="551.3" stroke="#111" stroke-width="1.2"/>
<text x="468.6" y="549.34" font-size="6.5" text-anchor="middle" font-weight="bold" fill="#222" stroke="#222" stroke-width="0.1">*</text>
<rect x="473.7" y="602.8" width="3.6" height="3.6" fill="#2e8b57"/>
<rect x="477.7" y="603.1" width="3.6" height="3.6" fill="#2e8b57"/>
<rect x="482.8" y="607.9" width="3.6" height="3.6" fill="#2e8b57"/>
<rect x="487.7" y="604.2" width="3.6" height="3.6" fill="#2e8b57"/>
<rect x="492.8" y="602.8" width="3.6" height="3.6" fill="#2e8b57"/>
<line x1="472.3" y1="606.1" x2="496.8" y2="606.1" stroke="#145a32" stroke-width="1.3"/>
<text x="451.5" y="634.5" font-size="5.8" text-anchor="end" fill="#222" stroke="#222" stroke-width="0.2" transform="rotate(-50 451.5 634.5)">CD19-CAR-TCR/HLA-I<tspan font-size="3.4" dy="-1.8">−</tspan></text>
<text x="487" y="634.5" font-size="5.8" text-anchor="end" fill="#222" stroke="#222" stroke-width="0.2" transform="rotate(-50 487 634.5)">CD19-CAR-TCR/HLA-I/PD1<tspan font-size="3.4" dy="-1.8">−</tspan></text>
</svg></body></html>
